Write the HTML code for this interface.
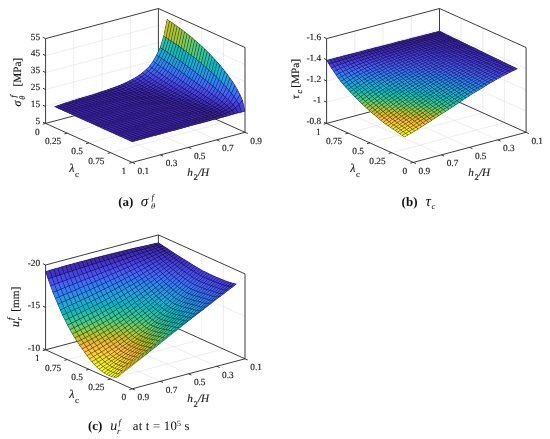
<!DOCTYPE html>
<html><head><meta charset="utf-8"><title>Figure</title>
<style>html,body{margin:0;padding:0;background:#fff}svg{display:block}</style></head>
<body>
<svg width="550" height="439" viewBox="0 0 550 439" font-family="'Liberation Serif', serif" text-rendering="geometricPrecision">
<defs><filter id="sb" x="-5%" y="-5%" width="110%" height="110%"><feGaussianBlur stdDeviation="0.5"/></filter></defs>
<rect width="550" height="439" fill="#fff"/>
<path d="M45.6 106.4L158.4 76.4M158.4 76.4L245 115.4M45.6 89.5L158.4 59.4M158.4 59.4L245 98.4M45.6 72.5L158.4 42.4M158.4 42.4L245 81.4M45.6 55.5L158.4 25.5M158.4 25.5L245 64.5M67.2 133.2L180.1 103.1M180.1 103.1L180.1 18.3M73.8 115.9L160.4 154.9M73.8 115.9L73.8 31M88.9 142.9L201.8 112.9M201.8 112.9L201.8 28M102 108.4L188.6 147.4M102 108.4L102 23.5M110.5 152.7L223.4 122.6M223.4 122.6L223.4 37.8M130.2 100.9L216.8 139.9M130.2 100.9L130.2 16" stroke="#e0e0e0" stroke-width=".6" fill="none"/>
<path d="M45.6 38.6L45.6 123.4L132.2 162.4L245 132.3L245 47.5L158.4 8.5L45.6 38.6M45.6 123.4L158.4 93.4L245 132.3M158.4 93.4L158.4 8.5M45.6 123.4L42.9 122.2M45.6 106.4L42.9 105.2M45.6 89.5L42.9 88.2M45.6 72.5L42.9 71.3M45.6 55.5L42.9 54.3M45.6 38.6L42.9 37.3M45.6 123.4L42.7 124.2M132.2 162.4L134.9 163.6M67.2 133.2L64.4 133.9M160.4 154.9L163.1 156.1M88.9 142.9L86 143.7M188.6 147.4L191.4 148.6M110.5 152.7L107.7 153.4M216.8 139.9L219.6 141.1M132.2 162.4L129.3 163.2M245 132.3L247.8 133.6" stroke="#262626" stroke-width=".9" fill="none"/>
<path d="M54.3 106.5L56.8 107.7L59.3 108.9L61.8 110L64.3 111.2L66.8 112.3L69.3 113.5L71.9 114.6L74.4 115.7L76.9 116.9L79.4 118L81.9 119.2L84.4 120.3L86.9 121.4L89.5 122.6L92 123.7L94.5 124.8L97 126L99.5 127.1L102 128.3L104.5 129.4L107.1 130.5L109.6 131.7L112.1 132.8L114.6 133.9L117.1 135.1L119.6 136.2L122.1 137.3L124.7 138.5L127.2 139.6L129.7 140.8L132.2 141.9L132.2 141.9L135.7 140.9L139.3 140L142.8 139L146.3 138.1L149.8 137.1L153.4 136.1L156.9 135.2L160.4 134.2L163.9 133.3L167.5 132.3L171 131.3L174.5 130.4L178 129.4L181.6 128.5L185.1 127.5L188.6 126.5L192.2 125.6L195.7 124.6L199.2 123.7L202.7 122.7L206.3 121.8L209.8 120.8L213.3 119.8L216.8 118.9L220.4 117.9L223.9 117L227.4 116L230.9 115L234.5 114.1L238 113.1L241.5 112.2L245 111.2L245 111.2L242.5 100.3L240 94.6L237.5 89.8L235 85.5L232.5 81.6L230 77.9L227.5 74.5L224.9 71.2L222.4 68.1L219.9 65L217.4 62.1L214.9 59.4L212.4 56.7L209.9 54.1L207.3 51.5L204.8 49.1L202.3 46.7L199.8 44.4L197.3 42.2L194.8 40L192.3 37.8L189.7 35.8L187.2 33.8L184.7 31.8L182.2 29.9L179.7 28L177.2 26.2L174.7 24.4L172.1 22.7L169.6 21L167.1 19.3L167.1 19.3L163.6 36.2L160.1 47.6L156.5 55.1L153 61.3L149.5 66.2L146 69.6L142.4 72.8L138.9 75.3L135.4 77.6L131.8 79.5L128.3 81.3L124.8 83L121.3 84.5L117.7 86L114.2 87.3L110.7 88.6L107.2 89.8L103.6 91L100.1 92.1L96.6 93.3L93.1 94.4L89.5 95.5L86 96.5L82.5 97.6L78.9 98.6L75.4 99.7L71.9 100.8L68.4 101.9L64.8 103L61.3 104.2L57.8 105.4L54.3 106.5Z" fill="#000" filter="url(#sb)"/>
<g stroke="#000" stroke-width="0.3" stroke-opacity="0.9" stroke-linejoin="round" filter="url(#sb)">
<path d="M163.6 36.2L166.1 37.8L169.6 21L167.1 19.3Z" fill="#c3c22b" stroke-opacity=".80"/>
<path d="M166.1 37.8L168.6 39.4L172.1 22.7L169.6 21Z" fill="#bcc42f" stroke-opacity=".80"/>
<path d="M160.1 47.6L162.6 49.2L166.1 37.8L163.6 36.2Z" fill="#2ec4a4" stroke-opacity=".80"/>
<path d="M168.6 39.4L171.1 41L174.7 24.4L172.1 22.7Z" fill="#b5c533" stroke-opacity=".80"/>
<path d="M162.6 49.2L165.1 50.8L168.6 39.4L166.1 37.8Z" fill="#2bc3a8" stroke-opacity=".80"/>
<path d="M156.5 55.1L159 56.8L162.6 49.2L160.1 47.6Z" fill="#14b0d8" stroke-opacity=".80"/>
<path d="M171.1 41L173.6 42.7L177.2 26.2L174.7 24.4Z" fill="#adc638" stroke-opacity=".80"/>
<path d="M165.1 50.8L167.6 52.5L171.1 41L168.6 39.4Z" fill="#26c2ad" stroke-opacity=".80"/>
<path d="M159 56.8L161.6 58.5L165.1 50.8L162.6 49.2Z" fill="#18addb" stroke-opacity=".80"/>
<path d="M153 61.3L155.5 63L159 56.8L156.5 55.1Z" fill="#2a93ed" stroke-opacity=".80"/>
<path d="M173.6 42.7L176.2 44.4L179.7 28L177.2 26.2Z" fill="#a4c83e" stroke-opacity=".80"/>
<path d="M167.6 52.5L170.1 54.2L173.6 42.7L171.1 41Z" fill="#20c1b1" stroke-opacity=".80"/>
<path d="M161.6 58.5L164.1 60.2L167.6 52.5L165.1 50.8Z" fill="#1baade" stroke-opacity=".80"/>
<path d="M155.5 63L158 64.8L161.6 58.5L159 56.8Z" fill="#2c90f0" stroke-opacity=".80"/>
<path d="M149.5 66.2L152 67.9L155.5 63L153 61.3Z" fill="#347afd" stroke-opacity=".80"/>
<path d="M176.2 44.4L178.7 46.1L182.2 29.9L179.7 28Z" fill="#9bc945" stroke-opacity=".80"/>
<path d="M170.1 54.2L172.6 55.9L176.2 44.4L173.6 42.7Z" fill="#18bfb6" stroke-opacity=".80"/>
<path d="M164.1 60.2L166.6 61.9L170.1 54.2L167.6 52.5Z" fill="#1ea7e1" stroke-opacity=".80"/>
<path d="M158 64.8L160.5 66.6L164.1 60.2L161.6 58.5Z" fill="#2d8cf3" stroke-opacity=".80"/>
<path d="M152 67.9L154.5 69.7L158 64.8L155.5 63Z" fill="#3975fe" stroke-opacity=".80"/>
<path d="M146 69.6L148.5 71.4L152 67.9L149.5 66.2Z" fill="#4368fe" stroke-opacity=".80"/>
<path d="M178.7 46.1L181.2 47.9L184.7 31.8L182.2 29.9Z" fill="#90ca4d" stroke-opacity=".80"/>
<path d="M172.6 55.9L175.1 57.6L178.7 46.1L176.2 44.4Z" fill="#0fbeba" stroke-opacity=".80"/>
<path d="M166.6 61.9L169.1 63.7L172.6 55.9L170.1 54.2Z" fill="#20a4e3" stroke-opacity=".80"/>
<path d="M160.5 66.6L163.1 68.3L166.6 61.9L164.1 60.2Z" fill="#2d88f6" stroke-opacity=".80"/>
<path d="M154.5 69.7L157 71.5L160.5 66.6L158 64.8Z" fill="#3d70ff" stroke-opacity=".80"/>
<path d="M148.5 71.4L151 73.2L154.5 69.7L152 67.9Z" fill="#4563fd" stroke-opacity=".80"/>
<path d="M142.4 72.8L144.9 74.6L148.5 71.4L146 69.6Z" fill="#4758f8" stroke-opacity=".80"/>
<path d="M181.2 47.9L183.7 49.7L187.2 33.8L184.7 31.8Z" fill="#85cb55" stroke-opacity=".80"/>
<path d="M175.1 57.6L177.7 59.4L181.2 47.9L178.7 46.1Z" fill="#07bcbf" stroke-opacity=".80"/>
<path d="M169.1 63.7L171.6 65.4L175.1 57.6L172.6 55.9Z" fill="#23a1e4" stroke-opacity=".80"/>
<path d="M163.1 68.3L165.6 70L169.1 63.7L166.6 61.9Z" fill="#2e84f8" stroke-opacity=".80"/>
<path d="M157 71.5L159.5 73.2L163.1 68.3L160.5 66.6Z" fill="#406cfe" stroke-opacity=".80"/>
<path d="M151 73.2L153.5 74.9L157 71.5L154.5 69.7Z" fill="#465ffb" stroke-opacity=".80"/>
<path d="M144.9 74.6L147.5 76.4L151 73.2L148.5 71.4Z" fill="#4854f5" stroke-opacity=".80"/>
<path d="M138.9 75.3L141.4 77.1L144.9 74.6L142.4 72.8Z" fill="#484ef1" stroke-opacity=".80"/>
<path d="M183.7 49.7L186.2 51.6L189.7 35.8L187.2 33.8Z" fill="#7acc5e" stroke-opacity=".80"/>
<path d="M177.7 59.4L180.2 61.1L183.7 49.7L181.2 47.9Z" fill="#02bac4" stroke-opacity=".80"/>
<path d="M171.6 65.4L174.1 67.2L177.7 59.4L175.1 57.6Z" fill="#249de6" stroke-opacity=".80"/>
<path d="M165.6 70L168.1 71.8L171.6 65.4L169.1 63.7Z" fill="#3080fa" stroke-opacity=".80"/>
<path d="M159.5 73.2L162 74.9L165.6 70L163.1 68.3Z" fill="#4368fe" stroke-opacity=".80"/>
<path d="M153.5 74.9L156 76.6L159.5 73.2L157 71.5Z" fill="#475bf9" stroke-opacity=".80"/>
<path d="M147.5 76.4L150 78L153.5 74.9L151 73.2Z" fill="#4850f2" stroke-opacity=".80"/>
<path d="M141.4 77.1L143.9 78.8L147.5 76.4L144.9 74.6Z" fill="#4849ed" stroke-opacity=".80"/>
<path d="M135.4 77.6L137.9 79.3L141.4 77.1L138.9 75.3Z" fill="#4745e9" stroke-opacity=".80"/>
<path d="M186.2 51.6L188.7 53.4L192.3 37.8L189.7 35.8Z" fill="#6dcd67" stroke-opacity=".80"/>
<path d="M180.2 61.1L182.7 62.9L186.2 51.6L183.7 49.7Z" fill="#01b8c9" stroke-opacity=".80"/>
<path d="M174.1 67.2L176.6 69L180.2 61.1L177.7 59.4Z" fill="#269ae9" stroke-opacity=".80"/>
<path d="M168.1 71.8L170.6 73.5L174.1 67.2L171.6 65.4Z" fill="#327cfc" stroke-opacity=".80"/>
<path d="M162 74.9L164.6 76.6L168.1 71.8L165.6 70Z" fill="#4564fd" stroke-opacity=".80"/>
<path d="M156 76.6L158.5 78.3L162 74.9L159.5 73.2Z" fill="#4757f7" stroke-opacity=".80"/>
<path d="M150 78L152.5 79.7L156 76.6L153.5 74.9Z" fill="#484cf0" stroke-opacity=".80"/>
<path d="M143.9 78.8L146.4 80.5L150 78L147.5 76.4Z" fill="#4745ea" stroke-opacity=".80"/>
<path d="M137.9 79.3L140.4 81L143.9 78.8L141.4 77.1Z" fill="#4741e5" stroke-opacity=".80"/>
<path d="M131.8 79.5L134.4 81.3L137.9 79.3L135.4 77.6Z" fill="#473ee1" stroke-opacity=".80"/>
<path d="M188.7 53.4L191.2 55.4L194.8 40L192.3 37.8Z" fill="#61cd71" stroke-opacity=".80"/>
<path d="M182.7 62.9L185.2 64.8L188.7 53.4L186.2 51.6Z" fill="#06b5ce" stroke-opacity=".80"/>
<path d="M176.6 69L179.2 70.7L182.7 62.9L180.2 61.1Z" fill="#2896eb" stroke-opacity=".80"/>
<path d="M170.6 73.5L173.1 75.2L176.6 69L174.1 67.2Z" fill="#3677fe" stroke-opacity=".80"/>
<path d="M164.6 76.6L167.1 78.2L170.6 73.5L168.1 71.8Z" fill="#4660fc" stroke-opacity=".80"/>
<path d="M158.5 78.3L161 79.9L164.6 76.6L162 74.9Z" fill="#4854f5" stroke-opacity=".80"/>
<path d="M152.5 79.7L155 81.3L158.5 78.3L156 76.6Z" fill="#4849ed" stroke-opacity=".80"/>
<path d="M146.4 80.5L149 82.1L152.5 79.7L150 78Z" fill="#4742e6" stroke-opacity=".80"/>
<path d="M140.4 81L142.9 82.6L146.4 80.5L143.9 78.8Z" fill="#463de0" stroke-opacity=".80"/>
<path d="M134.4 81.3L136.9 82.9L140.4 81L137.9 79.3Z" fill="#463adc" stroke-opacity=".80"/>
<path d="M128.3 81.3L130.8 83L134.4 81.3L131.8 79.5Z" fill="#4639d9" stroke-opacity=".80"/>
<path d="M191.2 55.4L193.8 57.3L197.3 42.2L194.8 40Z" fill="#55cc7c" stroke-opacity=".80"/>
<path d="M185.2 64.8L187.7 66.6L191.2 55.4L188.7 53.4Z" fill="#0db3d3" stroke-opacity=".80"/>
<path d="M179.2 70.7L181.7 72.5L185.2 64.8L182.7 62.9Z" fill="#2a92ee" stroke-opacity=".80"/>
<path d="M173.1 75.2L175.6 76.9L179.2 70.7L176.6 69Z" fill="#3a73fe" stroke-opacity=".80"/>
<path d="M167.1 78.2L169.6 79.8L173.1 75.2L170.6 73.5Z" fill="#475dfa" stroke-opacity=".80"/>
<path d="M161 79.9L163.5 81.5L167.1 78.2L164.6 76.6Z" fill="#4850f3" stroke-opacity=".80"/>
<path d="M155 81.3L157.5 82.8L161 79.9L158.5 78.3Z" fill="#4746ea" stroke-opacity=".80"/>
<path d="M149 82.1L151.5 83.6L155 81.3L152.5 79.7Z" fill="#473fe2" stroke-opacity=".80"/>
<path d="M142.9 82.6L145.4 84.1L149 82.1L146.4 80.5Z" fill="#463bdc" stroke-opacity=".80"/>
<path d="M136.9 82.9L139.4 84.4L142.9 82.6L140.4 81Z" fill="#4538d7" stroke-opacity=".80"/>
<path d="M130.8 83L133.3 84.6L136.9 82.9L134.4 81.3Z" fill="#4536d3" stroke-opacity=".80"/>
<path d="M124.8 83L127.3 84.6L130.8 83L128.3 81.3Z" fill="#4435d1" stroke-opacity=".80"/>
<path d="M193.8 57.3L196.3 59.3L199.8 44.4L197.3 42.2Z" fill="#49cb85" stroke-opacity=".80"/>
<path d="M187.7 66.6L190.2 68.5L193.8 57.3L191.2 55.4Z" fill="#14b0d8" stroke-opacity=".80"/>
<path d="M181.7 72.5L184.2 74.3L187.7 66.6L185.2 64.8Z" fill="#2c8ef1" stroke-opacity=".80"/>
<path d="M175.6 76.9L178.1 78.6L181.7 72.5L179.2 70.7Z" fill="#3e6fff" stroke-opacity=".80"/>
<path d="M169.6 79.8L172.1 81.5L175.6 76.9L173.1 75.2Z" fill="#4759f9" stroke-opacity=".80"/>
<path d="M163.5 81.5L166.1 83L169.6 79.8L167.1 78.2Z" fill="#484df0" stroke-opacity=".80"/>
<path d="M157.5 82.8L160 84.4L163.5 81.5L161 79.9Z" fill="#4743e7" stroke-opacity=".80"/>
<path d="M151.5 83.6L154 85.1L157.5 82.8L155 81.3Z" fill="#463cdf" stroke-opacity=".80"/>
<path d="M145.4 84.1L147.9 85.6L151.5 83.6L149 82.1Z" fill="#4538d8" stroke-opacity=".80"/>
<path d="M139.4 84.4L141.9 85.9L145.4 84.1L142.9 82.6Z" fill="#4535d2" stroke-opacity=".80"/>
<path d="M133.3 84.6L135.9 86.1L139.4 84.4L136.9 82.9Z" fill="#4434ce" stroke-opacity=".80"/>
<path d="M127.3 84.6L129.8 86.1L133.3 84.6L130.8 83Z" fill="#4432cb" stroke-opacity=".80"/>
<path d="M121.3 84.5L123.8 86.1L127.3 84.6L124.8 83Z" fill="#4332c9" stroke-opacity=".80"/>
<path d="M196.3 59.3L198.8 61.4L202.3 46.7L199.8 44.4Z" fill="#3eca8f" stroke-opacity=".80"/>
<path d="M190.2 68.5L192.7 70.3L196.3 59.3L193.8 57.3Z" fill="#19acdc" stroke-opacity=".80"/>
<path d="M184.2 74.3L186.7 76.1L190.2 68.5L187.7 66.6Z" fill="#2d8af4" stroke-opacity=".80"/>
<path d="M178.1 78.6L180.7 80.3L184.2 74.3L181.7 72.5Z" fill="#416bfe" stroke-opacity=".80"/>
<path d="M172.1 81.5L174.6 83.1L178.1 78.6L175.6 76.9Z" fill="#4756f7" stroke-opacity=".80"/>
<path d="M166.1 83L168.6 84.6L172.1 81.5L169.6 79.8Z" fill="#484aee" stroke-opacity=".80"/>
<path d="M160 84.4L162.5 85.8L166.1 83L163.5 81.5Z" fill="#4740e4" stroke-opacity=".80"/>
<path d="M154 85.1L156.5 86.6L160 84.4L157.5 82.8Z" fill="#463adb" stroke-opacity=".80"/>
<path d="M147.9 85.6L150.5 87.1L154 85.1L151.5 83.6Z" fill="#4536d4" stroke-opacity=".80"/>
<path d="M141.9 85.9L144.4 87.4L147.9 85.6L145.4 84.1Z" fill="#4434cd" stroke-opacity=".80"/>
<path d="M135.9 86.1L138.4 87.5L141.9 85.9L139.4 84.4Z" fill="#4332c9" stroke-opacity=".80"/>
<path d="M129.8 86.1L132.3 87.6L135.9 86.1L133.3 84.6Z" fill="#4331c5" stroke-opacity=".80"/>
<path d="M123.8 86.1L126.3 87.6L129.8 86.1L127.3 84.6Z" fill="#4230c3" stroke-opacity=".80"/>
<path d="M117.7 86L120.3 87.5L123.8 86.1L121.3 84.5Z" fill="#422fc3" stroke-opacity=".80"/>
<path d="M198.8 61.4L201.3 63.4L204.8 49.1L202.3 46.7Z" fill="#36c899" stroke-opacity=".80"/>
<path d="M192.7 70.3L195.3 72.2L198.8 61.4L196.3 59.3Z" fill="#1da9e0" stroke-opacity=".80"/>
<path d="M186.7 76.1L189.2 77.9L192.7 70.3L190.2 68.5Z" fill="#2e86f7" stroke-opacity=".80"/>
<path d="M180.7 80.3L183.2 81.9L186.7 76.1L184.2 74.3Z" fill="#4367fd" stroke-opacity=".80"/>
<path d="M174.6 83.1L177.1 84.6L180.7 80.3L178.1 78.6Z" fill="#4853f5" stroke-opacity=".80"/>
<path d="M168.6 84.6L171.1 86.1L174.6 83.1L172.1 81.5Z" fill="#4747ec" stroke-opacity=".80"/>
<path d="M162.5 85.8L165.1 87.3L168.6 84.6L166.1 83Z" fill="#463ee1" stroke-opacity=".80"/>
<path d="M156.5 86.6L159 88L162.5 85.8L160 84.4Z" fill="#4538d8" stroke-opacity=".80"/>
<path d="M150.5 87.1L153 88.5L156.5 86.6L154 85.1Z" fill="#4434d0" stroke-opacity=".80"/>
<path d="M144.4 87.4L146.9 88.8L150.5 87.1L147.9 85.6Z" fill="#4332c9" stroke-opacity=".80"/>
<path d="M138.4 87.5L140.9 88.9L144.4 87.4L141.9 85.9Z" fill="#4330c5" stroke-opacity=".80"/>
<path d="M132.3 87.6L134.8 89L138.4 87.5L135.9 86.1Z" fill="#422fc1" stroke-opacity=".80"/>
<path d="M126.3 87.6L128.8 89L132.3 87.6L129.8 86.1Z" fill="#422ebe" stroke-opacity=".80"/>
<path d="M120.3 87.5L122.8 89L126.3 87.6L123.8 86.1Z" fill="#412dbd" stroke-opacity=".80"/>
<path d="M201.3 63.4L203.8 65.6L207.3 51.5L204.8 49.1Z" fill="#2fc5a2" stroke-opacity=".80"/>
<path d="M114.2 87.3L116.7 88.8L120.3 87.5L117.7 86Z" fill="#412dbd" stroke-opacity=".80"/>
<path d="M195.3 72.2L197.8 74.2L201.3 63.4L198.8 61.4Z" fill="#20a5e3" stroke-opacity=".80"/>
<path d="M189.2 77.9L191.7 79.6L195.3 72.2L192.7 70.3Z" fill="#2f82fa" stroke-opacity=".80"/>
<path d="M183.2 81.9L185.7 83.6L189.2 77.9L186.7 76.1Z" fill="#4563fd" stroke-opacity=".80"/>
<path d="M177.1 84.6L179.6 86.2L183.2 81.9L180.7 80.3Z" fill="#4850f3" stroke-opacity=".80"/>
<path d="M171.1 86.1L173.6 87.6L177.1 84.6L174.6 83.1Z" fill="#4745e9" stroke-opacity=".80"/>
<path d="M165.1 87.3L167.6 88.8L171.1 86.1L168.6 84.6Z" fill="#463cde" stroke-opacity=".80"/>
<path d="M159 88L161.5 89.4L165.1 87.3L162.5 85.8Z" fill="#4536d4" stroke-opacity=".80"/>
<path d="M153 88.5L155.5 89.9L159 88L156.5 86.6Z" fill="#4433cc" stroke-opacity=".80"/>
<path d="M146.9 88.8L149.4 90.1L153 88.5L150.5 87.1Z" fill="#4331c6" stroke-opacity=".80"/>
<path d="M140.9 88.9L143.4 90.3L146.9 88.8L144.4 87.4Z" fill="#422fc1" stroke-opacity=".80"/>
<path d="M134.8 89L137.4 90.4L140.9 88.9L138.4 87.5Z" fill="#412ebd" stroke-opacity=".80"/>
<path d="M128.8 89L131.3 90.4L134.8 89L132.3 87.6Z" fill="#412cbb" stroke-opacity=".80"/>
<path d="M122.8 89L125.3 90.4L128.8 89L126.3 87.6Z" fill="#412cb9" stroke-opacity=".80"/>
<path d="M203.8 65.6L206.3 67.8L209.9 54.1L207.3 51.5Z" fill="#28c2ab" stroke-opacity=".80"/>
<path d="M116.7 88.8L119.2 90.3L122.8 89L120.3 87.5Z" fill="#402bb8" stroke-opacity=".80"/>
<path d="M197.8 74.2L200.3 76.1L203.8 65.6L201.3 63.4Z" fill="#23a0e5" stroke-opacity=".80"/>
<path d="M110.7 88.6L113.2 90.1L116.7 88.8L114.2 87.3Z" fill="#412cb9" stroke-opacity=".80"/>
<path d="M191.7 79.6L194.2 81.4L197.8 74.2L195.3 72.2Z" fill="#317dfb" stroke-opacity=".80"/>
<path d="M185.7 83.6L188.2 85.3L191.7 79.6L189.2 77.9Z" fill="#4660fb" stroke-opacity=".80"/>
<path d="M179.6 86.2L182.2 87.7L185.7 83.6L183.2 81.9Z" fill="#484df0" stroke-opacity=".80"/>
<path d="M173.6 87.6L176.1 89.1L179.6 86.2L177.1 84.6Z" fill="#4742e6" stroke-opacity=".80"/>
<path d="M167.6 88.8L170.1 90.2L173.6 87.6L171.1 86.1Z" fill="#463ada" stroke-opacity=".80"/>
<path d="M161.5 89.4L164 90.8L167.6 88.8L165.1 87.3Z" fill="#4435d1" stroke-opacity=".80"/>
<path d="M155.5 89.9L158 91.2L161.5 89.4L159 88Z" fill="#4332c9" stroke-opacity=".80"/>
<path d="M149.4 90.1L152 91.5L155.5 89.9L153 88.5Z" fill="#422fc2" stroke-opacity=".80"/>
<path d="M143.4 90.3L145.9 91.7L149.4 90.1L146.9 88.8Z" fill="#412ebe" stroke-opacity=".80"/>
<path d="M137.4 90.4L139.9 91.7L143.4 90.3L140.9 88.9Z" fill="#412cba" stroke-opacity=".80"/>
<path d="M131.3 90.4L133.8 91.8L137.4 90.4L134.8 89Z" fill="#402bb7" stroke-opacity=".80"/>
<path d="M125.3 90.4L127.8 91.7L131.3 90.4L128.8 89Z" fill="#402ab5" stroke-opacity=".80"/>
<path d="M206.3 67.8L208.8 70L212.4 56.7L209.9 54.1Z" fill="#1bc0b4" stroke-opacity=".80"/>
<path d="M119.2 90.3L121.8 91.6L125.3 90.4L122.8 89Z" fill="#402ab4" stroke-opacity=".80"/>
<path d="M200.3 76.1L202.8 78.1L206.3 67.8L203.8 65.6Z" fill="#259ce7" stroke-opacity=".80"/>
<path d="M113.2 90.1L115.7 91.5L119.2 90.3L116.7 88.8Z" fill="#402ab4" stroke-opacity=".80"/>
<path d="M194.2 81.4L196.8 83.2L200.3 76.1L197.8 74.2Z" fill="#3579fd" stroke-opacity=".80"/>
<path d="M107.2 89.8L109.7 91.3L113.2 90.1L110.7 88.6Z" fill="#402ab5" stroke-opacity=".80"/>
<path d="M188.2 85.3L190.7 86.9L194.2 81.4L191.7 79.6Z" fill="#475cfa" stroke-opacity=".80"/>
<path d="M182.2 87.7L184.7 89.3L188.2 85.3L185.7 83.6Z" fill="#484aee" stroke-opacity=".80"/>
<path d="M176.1 89.1L178.6 90.6L182.2 87.7L179.6 86.2Z" fill="#4740e4" stroke-opacity=".80"/>
<path d="M170.1 90.2L172.6 91.6L176.1 89.1L173.6 87.6Z" fill="#4538d7" stroke-opacity=".80"/>
<path d="M164 90.8L166.6 92.2L170.1 90.2L167.6 88.8Z" fill="#4434ce" stroke-opacity=".80"/>
<path d="M158 91.2L160.5 92.6L164 90.8L161.5 89.4Z" fill="#4331c6" stroke-opacity=".80"/>
<path d="M152 91.5L154.5 92.8L158 91.2L155.5 89.9Z" fill="#422ebf" stroke-opacity=".80"/>
<path d="M145.9 91.7L148.4 93L152 91.5L149.4 90.1Z" fill="#412dbb" stroke-opacity=".80"/>
<path d="M139.9 91.7L142.4 93L145.9 91.7L143.4 90.3Z" fill="#402bb7" stroke-opacity=".80"/>
<path d="M133.8 91.8L136.3 93.1L139.9 91.7L137.4 90.4Z" fill="#402ab5" stroke-opacity=".80"/>
<path d="M127.8 91.7L130.3 93L133.8 91.8L131.3 90.4Z" fill="#3f29b2" stroke-opacity=".78"/>
<path d="M208.8 70L211.4 72.3L214.9 59.4L212.4 56.7Z" fill="#0abdbd" stroke-opacity=".80"/>
<path d="M121.8 91.6L124.3 93L127.8 91.7L125.3 90.4Z" fill="#3f29b1" stroke-opacity=".74"/>
<path d="M202.8 78.1L205.3 80.1L208.8 70L206.3 67.8Z" fill="#2797eb" stroke-opacity=".80"/>
<path d="M115.7 91.5L118.2 92.8L121.8 91.6L119.2 90.3Z" fill="#3f29b0" stroke-opacity=".74"/>
<path d="M196.8 83.2L199.3 85L202.8 78.1L200.3 76.1Z" fill="#3a74fe" stroke-opacity=".80"/>
<path d="M109.7 91.3L112.2 92.7L115.7 91.5L113.2 90.1Z" fill="#3f29b0" stroke-opacity=".76"/>
<path d="M190.7 86.9L193.2 88.5L196.8 83.2L194.2 81.4Z" fill="#4759f8" stroke-opacity=".80"/>
<path d="M103.6 91L106.1 92.4L109.7 91.3L107.2 89.8Z" fill="#3f29b2" stroke-opacity=".80"/>
<path d="M184.7 89.3L187.2 90.8L190.7 86.9L188.2 85.3Z" fill="#4848ec" stroke-opacity=".80"/>
<path d="M178.6 90.6L181.1 92L184.7 89.3L182.2 87.7Z" fill="#463ee1" stroke-opacity=".80"/>
<path d="M172.6 91.6L175.1 93L178.6 90.6L176.1 89.1Z" fill="#4536d4" stroke-opacity=".80"/>
<path d="M166.6 92.2L169.1 93.6L172.6 91.6L170.1 90.2Z" fill="#4332ca" stroke-opacity=".80"/>
<path d="M160.5 92.6L163 93.9L166.6 92.2L164 90.8Z" fill="#4230c3" stroke-opacity=".80"/>
<path d="M154.5 92.8L157 94.2L160.5 92.6L158 91.2Z" fill="#412dbd" stroke-opacity=".80"/>
<path d="M148.4 93L150.9 94.3L154.5 92.8L152 91.5Z" fill="#412cb9" stroke-opacity=".80"/>
<path d="M142.4 93L144.9 94.3L148.4 93L145.9 91.7Z" fill="#402ab5" stroke-opacity=".80"/>
<path d="M136.3 93.1L138.9 94.4L142.4 93L139.9 91.7Z" fill="#3f29b2" stroke-opacity=".78"/>
<path d="M130.3 93L132.8 94.3L136.3 93.1L133.8 91.8Z" fill="#3f29b0" stroke-opacity=".72"/>
<path d="M211.4 72.3L213.9 74.6L217.4 62.1L214.9 59.4Z" fill="#01b9c6" stroke-opacity=".80"/>
<path d="M124.3 93L126.8 94.3L130.3 93L127.8 91.7Z" fill="#3f28ae" stroke-opacity=".68"/>
<path d="M205.3 80.1L207.8 82.1L211.4 72.3L208.8 70Z" fill="#2b92ee" stroke-opacity=".80"/>
<path d="M118.2 92.8L120.7 94.1L124.3 93L121.8 91.6Z" fill="#3f28ad" stroke-opacity=".66"/>
<path d="M199.3 85L201.8 86.8L205.3 80.1L202.8 78.1Z" fill="#3e6fff" stroke-opacity=".80"/>
<path d="M112.2 92.7L114.7 94L118.2 92.8L115.7 91.5Z" fill="#3f28ad" stroke-opacity=".66"/>
<path d="M193.2 88.5L195.7 90.2L199.3 85L196.8 83.2Z" fill="#4756f6" stroke-opacity=".80"/>
<path d="M106.1 92.4L108.7 93.8L112.2 92.7L109.7 91.3Z" fill="#3f28ad" stroke-opacity=".69"/>
<path d="M187.2 90.8L189.7 92.3L193.2 88.5L190.7 86.9Z" fill="#4745e9" stroke-opacity=".80"/>
<path d="M100.1 92.1L102.6 93.6L106.1 92.4L103.6 91Z" fill="#3f28af" stroke-opacity=".76"/>
<path d="M181.1 92L183.7 93.5L187.2 90.8L184.7 89.3Z" fill="#463cde" stroke-opacity=".80"/>
<path d="M175.1 93L177.6 94.4L181.1 92L178.6 90.6Z" fill="#4435d1" stroke-opacity=".80"/>
<path d="M169.1 93.6L171.6 94.9L175.1 93L172.6 91.6Z" fill="#4331c7" stroke-opacity=".80"/>
<path d="M163 93.9L165.5 95.3L169.1 93.6L166.6 92.2Z" fill="#422fc0" stroke-opacity=".80"/>
<path d="M157 94.2L159.5 95.5L163 93.9L160.5 92.6Z" fill="#412cba" stroke-opacity=".80"/>
<path d="M150.9 94.3L153.5 95.6L157 94.2L154.5 92.8Z" fill="#402bb6" stroke-opacity=".80"/>
<path d="M144.9 94.3L147.4 95.6L150.9 94.3L148.4 93Z" fill="#402ab3" stroke-opacity=".79"/>
<path d="M138.9 94.4L141.4 95.6L144.9 94.3L142.4 93Z" fill="#3f29b0" stroke-opacity=".73"/>
<path d="M132.8 94.3L135.3 95.6L138.9 94.4L136.3 93.1Z" fill="#3f28ad" stroke-opacity=".67"/>
<path d="M213.9 74.6L216.4 77L219.9 65L217.4 62.1Z" fill="#07b5cf" stroke-opacity=".80"/>
<path d="M126.8 94.3L129.3 95.5L132.8 94.3L130.3 93Z" fill="#3e27ac" stroke-opacity=".62"/>
<path d="M207.8 82.1L210.3 84.1L213.9 74.6L211.4 72.3Z" fill="#2d8cf3" stroke-opacity=".80"/>
<path d="M120.7 94.1L123.3 95.4L126.8 94.3L124.3 93Z" fill="#3e27ab" stroke-opacity=".60"/>
<path d="M201.8 86.8L204.3 88.6L207.8 82.1L205.3 80.1Z" fill="#426afe" stroke-opacity=".80"/>
<path d="M114.7 94L117.2 95.3L120.7 94.1L118.2 92.8Z" fill="#3e27aa" stroke-opacity=".59"/>
<path d="M195.7 90.2L198.3 91.8L201.8 86.8L199.3 85Z" fill="#4852f4" stroke-opacity=".80"/>
<path d="M108.7 93.8L111.2 95.1L114.7 94L112.2 92.7Z" fill="#3e27aa" stroke-opacity=".60"/>
<path d="M189.7 92.3L192.2 93.8L195.7 90.2L193.2 88.5Z" fill="#4742e6" stroke-opacity=".80"/>
<path d="M102.6 93.6L105.1 94.9L108.7 93.8L106.1 92.4Z" fill="#3e27ab" stroke-opacity=".64"/>
<path d="M183.7 93.5L186.2 94.9L189.7 92.3L187.2 90.8Z" fill="#463ada" stroke-opacity=".80"/>
<path d="M96.6 93.3L99.1 94.7L102.6 93.6L100.1 92.1Z" fill="#3e27ac" stroke-opacity=".71"/>
<path d="M177.6 94.4L180.1 95.8L183.7 93.5L181.1 92Z" fill="#4434ce" stroke-opacity=".80"/>
<path d="M171.6 94.9L174.1 96.3L177.6 94.4L175.1 93Z" fill="#4330c4" stroke-opacity=".80"/>
<path d="M165.5 95.3L168.1 96.6L171.6 94.9L169.1 93.6Z" fill="#412ebd" stroke-opacity=".80"/>
<path d="M159.5 95.5L162 96.8L165.5 95.3L163 93.9Z" fill="#402bb8" stroke-opacity=".80"/>
<path d="M153.5 95.6L156 96.9L159.5 95.5L157 94.2Z" fill="#402ab4" stroke-opacity=".80"/>
<path d="M147.4 95.6L149.9 96.9L153.5 95.6L150.9 94.3Z" fill="#3f29b1" stroke-opacity=".75"/>
<path d="M141.4 95.6L143.9 96.9L147.4 95.6L144.9 94.3Z" fill="#3f28ae" stroke-opacity=".69"/>
<path d="M135.3 95.6L137.9 96.9L141.4 95.6L138.9 94.4Z" fill="#3e27ab" stroke-opacity=".63"/>
<path d="M216.4 77L218.9 79.5L222.4 68.1L219.9 65Z" fill="#14b0d8" stroke-opacity=".80"/>
<path d="M129.3 95.5L131.8 96.8L135.3 95.6L132.8 94.3Z" fill="#3e27aa" stroke-opacity=".58"/>
<path d="M210.3 84.1L212.9 86.2L216.4 77L213.9 74.6Z" fill="#2e87f7" stroke-opacity=".80"/>
<path d="M123.3 95.4L125.8 96.7L129.3 95.5L126.8 94.3Z" fill="#3e26a8" stroke-opacity=".55"/>
<path d="M204.3 88.6L206.8 90.5L210.3 84.1L207.8 82.1Z" fill="#4465fd" stroke-opacity=".80"/>
<path d="M117.2 95.3L119.7 96.6L123.3 95.4L120.7 94.1Z" fill="#3e26a8" stroke-opacity=".54"/>
<path d="M198.3 91.8L200.8 93.4L204.3 88.6L201.8 86.8Z" fill="#484ff2" stroke-opacity=".80"/>
<path d="M111.2 95.1L113.7 96.4L117.2 95.3L114.7 94Z" fill="#3e26a8" stroke-opacity=".54"/>
<path d="M192.2 93.8L194.7 95.3L198.3 91.8L195.7 90.2Z" fill="#4740e4" stroke-opacity=".80"/>
<path d="M105.1 94.9L107.6 96.2L111.2 95.1L108.7 93.8Z" fill="#3e26a8" stroke-opacity=".55"/>
<path d="M186.2 94.9L188.7 96.3L192.2 93.8L189.7 92.3Z" fill="#4538d7" stroke-opacity=".80"/>
<path d="M99.1 94.7L101.6 96L105.1 94.9L102.6 93.6Z" fill="#3e26a8" stroke-opacity=".59"/>
<path d="M180.1 95.8L182.7 97.1L186.2 94.9L183.7 93.5Z" fill="#4332cb" stroke-opacity=".80"/>
<path d="M93.1 94.4L95.6 95.8L99.1 94.7L96.6 93.3Z" fill="#3e27aa" stroke-opacity=".67"/>
<path d="M174.1 96.3L176.6 97.6L180.1 95.8L177.6 94.4Z" fill="#422fc2" stroke-opacity=".80"/>
<path d="M168.1 96.6L170.6 97.9L174.1 96.3L171.6 94.9Z" fill="#412dbb" stroke-opacity=".80"/>
<path d="M162 96.8L164.5 98L168.1 96.6L165.5 95.3Z" fill="#402bb6" stroke-opacity=".80"/>
<path d="M156 96.9L158.5 98.1L162 96.8L159.5 95.5Z" fill="#3f29b2" stroke-opacity=".79"/>
<path d="M149.9 96.9L152.4 98.2L156 96.9L153.5 95.6Z" fill="#3f28af" stroke-opacity=".71"/>
<path d="M143.9 96.9L146.4 98.2L149.9 96.9L147.4 95.6Z" fill="#3e27ac" stroke-opacity=".65"/>
<path d="M137.9 96.9L140.4 98.1L143.9 96.9L141.4 95.6Z" fill="#3e27a9" stroke-opacity=".59"/>
<path d="M218.9 79.5L221.4 82.1L224.9 71.2L222.4 68.1Z" fill="#1ca9df" stroke-opacity=".80"/>
<path d="M131.8 96.8L134.3 98L137.9 96.9L135.3 95.6Z" fill="#3e26a8" stroke-opacity=".54"/>
<path d="M212.9 86.2L215.4 88.3L218.9 79.5L216.4 77Z" fill="#2f80fa" stroke-opacity=".80"/>
<path d="M125.8 96.7L128.3 97.9L131.8 96.8L129.3 95.5Z" fill="#3e26a8" stroke-opacity=".51"/>
<path d="M206.8 90.5L209.3 92.3L212.9 86.2L210.3 84.1Z" fill="#4661fc" stroke-opacity=".80"/>
<path d="M119.7 96.6L122.2 97.8L125.8 96.7L123.3 95.4Z" fill="#3e26a8" stroke-opacity=".50"/>
<path d="M200.8 93.4L203.3 95.1L206.8 90.5L204.3 88.6Z" fill="#484bef" stroke-opacity=".80"/>
<path d="M113.7 96.4L116.2 97.7L119.7 96.6L117.2 95.3Z" fill="#3e26a8" stroke-opacity=".49"/>
<path d="M194.7 95.3L197.2 96.8L200.8 93.4L198.3 91.8Z" fill="#463de0" stroke-opacity=".80"/>
<path d="M107.6 96.2L110.2 97.5L113.7 96.4L111.2 95.1Z" fill="#3e26a8" stroke-opacity=".50"/>
<path d="M188.7 96.3L191.2 97.8L194.7 95.3L192.2 93.8Z" fill="#4536d4" stroke-opacity=".80"/>
<path d="M101.6 96L104.1 97.3L107.6 96.2L105.1 94.9Z" fill="#3e26a8" stroke-opacity=".52"/>
<path d="M182.7 97.1L185.2 98.5L188.7 96.3L186.2 94.9Z" fill="#4331c7" stroke-opacity=".80"/>
<path d="M95.6 95.8L98.1 97.1L101.6 96L99.1 94.7Z" fill="#3e26a8" stroke-opacity=".56"/>
<path d="M176.6 97.6L179.1 98.9L182.7 97.1L180.1 95.8Z" fill="#422ebf" stroke-opacity=".80"/>
<path d="M89.5 95.5L92 96.8L95.6 95.8L93.1 94.4Z" fill="#3e26a8" stroke-opacity=".63"/>
<path d="M170.6 97.9L173.1 99.2L176.6 97.6L174.1 96.3Z" fill="#412cb9" stroke-opacity=".80"/>
<path d="M164.5 98L167 99.3L170.6 97.9L168.1 96.6Z" fill="#402ab4" stroke-opacity=".80"/>
<path d="M158.5 98.1L161 99.4L164.5 98L162 96.8Z" fill="#3f29b0" stroke-opacity=".75"/>
<path d="M152.4 98.2L155 99.4L158.5 98.1L156 96.9Z" fill="#3f28ad" stroke-opacity=".68"/>
<path d="M146.4 98.2L148.9 99.4L152.4 98.2L149.9 96.9Z" fill="#3e27aa" stroke-opacity=".62"/>
<path d="M140.4 98.1L142.9 99.3L146.4 98.2L143.9 96.9Z" fill="#3e26a8" stroke-opacity=".56"/>
<path d="M221.4 82.1L223.9 84.7L227.5 74.5L224.9 71.2Z" fill="#22a1e4" stroke-opacity=".80"/>
<path d="M134.3 98L136.8 99.3L140.4 98.1L137.9 96.9Z" fill="#3e26a8" stroke-opacity=".51"/>
<path d="M215.4 88.3L217.9 90.4L221.4 82.1L218.9 79.5Z" fill="#347afd" stroke-opacity=".80"/>
<path d="M128.3 97.9L130.8 99.2L134.3 98L131.8 96.8Z" fill="#3e26a8" stroke-opacity=".48"/>
<path d="M209.3 92.3L211.8 94.1L215.4 88.3L212.9 86.2Z" fill="#475cfa" stroke-opacity=".80"/>
<path d="M122.2 97.8L124.8 99L128.3 97.9L125.8 96.7Z" fill="#3e26a8" stroke-opacity=".46"/>
<path d="M203.3 95.1L205.8 96.7L209.3 92.3L206.8 90.5Z" fill="#4848ec" stroke-opacity=".80"/>
<path d="M116.2 97.7L118.7 98.9L122.2 97.8L119.7 96.6Z" fill="#3e26a8" stroke-opacity=".45"/>
<path d="M197.2 96.8L199.8 98.3L203.3 95.1L200.8 93.4Z" fill="#463bdd" stroke-opacity=".80"/>
<path d="M110.2 97.5L112.7 98.7L116.2 97.7L113.7 96.4Z" fill="#3e26a8" stroke-opacity=".45"/>
<path d="M191.2 97.8L193.7 99.2L197.2 96.8L194.7 95.3Z" fill="#4435d0" stroke-opacity=".80"/>
<path d="M104.1 97.3L106.6 98.5L110.2 97.5L107.6 96.2Z" fill="#3e26a8" stroke-opacity=".46"/>
<path d="M185.2 98.5L187.7 99.9L191.2 97.8L188.7 96.3Z" fill="#4330c4" stroke-opacity=".80"/>
<path d="M98.1 97.1L100.6 98.4L104.1 97.3L101.6 96Z" fill="#3e26a8" stroke-opacity=".48"/>
<path d="M179.1 98.9L181.6 100.2L185.2 98.5L182.7 97.1Z" fill="#412dbd" stroke-opacity=".80"/>
<path d="M92 96.8L94.6 98.1L98.1 97.1L95.6 95.8Z" fill="#3e26a8" stroke-opacity=".52"/>
<path d="M173.1 99.2L175.6 100.4L179.1 98.9L176.6 97.6Z" fill="#402bb7" stroke-opacity=".80"/>
<path d="M86 96.5L88.5 97.9L92 96.8L89.5 95.5Z" fill="#3e26a8" stroke-opacity=".60"/>
<path d="M167 99.3L169.6 100.6L173.1 99.2L170.6 97.9Z" fill="#3f29b2" stroke-opacity=".80"/>
<path d="M161 99.4L163.5 100.6L167 99.3L164.5 98Z" fill="#3f28ae" stroke-opacity=".72"/>
<path d="M155 99.4L157.5 100.6L161 99.4L158.5 98.1Z" fill="#3e27ab" stroke-opacity=".65"/>
<path d="M148.9 99.4L151.4 100.6L155 99.4L152.4 98.2Z" fill="#3e26a8" stroke-opacity=".59"/>
<path d="M142.9 99.3L145.4 100.6L148.9 99.4L146.4 98.2Z" fill="#3e26a8" stroke-opacity=".53"/>
<path d="M223.9 84.7L226.4 87.5L230 77.9L227.5 74.5Z" fill="#2699e9" stroke-opacity=".80"/>
<path d="M136.8 99.3L139.4 100.5L142.9 99.3L140.4 98.1Z" fill="#3e26a8" stroke-opacity=".49"/>
<path d="M217.9 90.4L220.4 92.6L223.9 84.7L221.4 82.1Z" fill="#3b72ff" stroke-opacity=".80"/>
<path d="M130.8 99.2L133.3 100.4L136.8 99.3L134.3 98Z" fill="#3e26a8" stroke-opacity=".46"/>
<path d="M211.8 94.1L214.4 96L217.9 90.4L215.4 88.3Z" fill="#4757f7" stroke-opacity=".80"/>
<path d="M124.8 99L127.3 100.3L130.8 99.2L128.3 97.9Z" fill="#3e26a8" stroke-opacity=".44"/>
<path d="M205.8 96.7L208.3 98.3L211.8 94.1L209.3 92.3Z" fill="#4745e9" stroke-opacity=".80"/>
<path d="M118.7 98.9L121.2 100.1L124.8 99L122.2 97.8Z" fill="#3e26a8" stroke-opacity=".42"/>
<path d="M199.8 98.3L202.3 99.8L205.8 96.7L203.3 95.1Z" fill="#4639d9" stroke-opacity=".80"/>
<path d="M112.7 98.7L115.2 100L118.7 98.9L116.2 97.7Z" fill="#3e26a8" stroke-opacity=".42"/>
<path d="M193.7 99.2L196.2 100.6L199.8 98.3L197.2 96.8Z" fill="#4433cd" stroke-opacity=".80"/>
<path d="M106.6 98.5L109.1 99.8L112.7 98.7L110.2 97.5Z" fill="#3e26a8" stroke-opacity=".42"/>
<path d="M187.7 99.9L190.2 101.2L193.7 99.2L191.2 97.8Z" fill="#422fc2" stroke-opacity=".80"/>
<path d="M100.6 98.4L103.1 99.6L106.6 98.5L104.1 97.3Z" fill="#3e26a8" stroke-opacity=".43"/>
<path d="M181.6 100.2L184.2 101.5L187.7 99.9L185.2 98.5Z" fill="#412cba" stroke-opacity=".80"/>
<path d="M94.6 98.1L97.1 99.4L100.6 98.4L98.1 97.1Z" fill="#3e26a8" stroke-opacity=".46"/>
<path d="M175.6 100.4L178.1 101.7L181.6 100.2L179.1 98.9Z" fill="#402ab5" stroke-opacity=".80"/>
<path d="M88.5 97.9L91 99.2L94.6 98.1L92 96.8Z" fill="#3e26a8" stroke-opacity=".50"/>
<path d="M169.6 100.6L172.1 101.8L175.6 100.4L173.1 99.2Z" fill="#3f29b0" stroke-opacity=".80"/>
<path d="M82.5 97.6L85 98.9L88.5 97.9L86 96.5Z" fill="#3e26a8" stroke-opacity=".56"/>
<path d="M163.5 100.6L166 101.9L169.6 100.6L167 99.3Z" fill="#3e28ad" stroke-opacity=".69"/>
<path d="M157.5 100.6L160 101.9L163.5 100.6L161 99.4Z" fill="#3e27aa" stroke-opacity=".62"/>
<path d="M151.4 100.6L153.9 101.9L157.5 100.6L155 99.4Z" fill="#3e26a8" stroke-opacity=".56"/>
<path d="M145.4 100.6L147.9 101.8L151.4 100.6L148.9 99.4Z" fill="#3e26a8" stroke-opacity=".51"/>
<path d="M226.4 87.5L229 90.4L232.5 81.6L230 77.9Z" fill="#2c8ff0" stroke-opacity=".80"/>
<path d="M139.4 100.5L141.9 101.7L145.4 100.6L142.9 99.3Z" fill="#3e26a8" stroke-opacity=".46"/>
<path d="M220.4 92.6L222.9 94.9L226.4 87.5L223.9 84.7Z" fill="#416bfe" stroke-opacity=".80"/>
<path d="M133.3 100.4L135.8 101.6L139.4 100.5L136.8 99.3Z" fill="#3e26a8" stroke-opacity=".43"/>
<path d="M214.4 96L216.9 97.8L220.4 92.6L217.9 90.4Z" fill="#4853f4" stroke-opacity=".80"/>
<path d="M127.3 100.3L129.8 101.5L133.3 100.4L130.8 99.2Z" fill="#3e26a8" stroke-opacity=".41"/>
<path d="M208.3 98.3L210.8 100L214.4 96L211.8 94.1Z" fill="#4741e5" stroke-opacity=".80"/>
<path d="M121.2 100.1L123.7 101.3L127.3 100.3L124.8 99Z" fill="#3e26a8" stroke-opacity=".40"/>
<path d="M202.3 99.8L204.8 101.3L208.3 98.3L205.8 96.7Z" fill="#4537d6" stroke-opacity=".80"/>
<path d="M115.2 100L117.7 101.2L121.2 100.1L118.7 98.9Z" fill="#3e26a8" stroke-opacity=".39"/>
<path d="M196.2 100.6L198.7 102L202.3 99.8L199.8 98.3Z" fill="#4332c9" stroke-opacity=".80"/>
<path d="M109.1 99.8L111.7 101L115.2 100L112.7 98.7Z" fill="#3e26a8" stroke-opacity=".39"/>
<path d="M190.2 101.2L192.7 102.5L196.2 100.6L193.7 99.2Z" fill="#422ebf" stroke-opacity=".80"/>
<path d="M103.1 99.6L105.6 100.8L109.1 99.8L106.6 98.5Z" fill="#3e26a8" stroke-opacity=".40"/>
<path d="M184.2 101.5L186.7 102.8L190.2 101.2L187.7 99.9Z" fill="#402bb8" stroke-opacity=".80"/>
<path d="M97.1 99.4L99.6 100.6L103.1 99.6L100.6 98.4Z" fill="#3e26a8" stroke-opacity=".41"/>
<path d="M178.1 101.7L180.6 103L184.2 101.5L181.6 100.2Z" fill="#402ab3" stroke-opacity=".80"/>
<path d="M91 99.2L93.5 100.4L97.1 99.4L94.6 98.1Z" fill="#3e26a8" stroke-opacity=".43"/>
<path d="M172.1 101.8L174.6 103.1L178.1 101.7L175.6 100.4Z" fill="#3f28ae" stroke-opacity=".77"/>
<path d="M85 98.9L87.5 100.2L91 99.2L88.5 97.9Z" fill="#3e26a8" stroke-opacity=".46"/>
<path d="M166 101.9L168.5 103.1L172.1 101.8L169.6 100.6Z" fill="#3e27ab" stroke-opacity=".66"/>
<path d="M78.9 98.6L81.5 99.9L85 98.9L82.5 97.6Z" fill="#3e26a8" stroke-opacity=".53"/>
<path d="M160 101.9L162.5 103.1L166 101.9L163.5 100.6Z" fill="#3e26a8" stroke-opacity=".59"/>
<path d="M153.9 101.9L156.5 103.1L160 101.9L157.5 100.6Z" fill="#3e26a8" stroke-opacity=".54"/>
<path d="M147.9 101.8L150.4 103L153.9 101.9L151.4 100.6Z" fill="#3e26a8" stroke-opacity=".49"/>
<path d="M229 90.4L231.5 93.4L235 85.5L232.5 81.6Z" fill="#2e84f8" stroke-opacity=".80"/>
<path d="M141.9 101.7L144.4 102.9L147.9 101.8L145.4 100.6Z" fill="#3e26a8" stroke-opacity=".44"/>
<path d="M222.9 94.9L225.4 97.2L229 90.4L226.4 87.5Z" fill="#4563fc" stroke-opacity=".80"/>
<path d="M135.8 101.6L138.3 102.8L141.9 101.7L139.4 100.5Z" fill="#3e26a8" stroke-opacity=".41"/>
<path d="M216.9 97.8L219.4 99.8L222.9 94.9L220.4 92.6Z" fill="#484ef1" stroke-opacity=".80"/>
<path d="M129.8 101.5L132.3 102.7L135.8 101.6L133.3 100.4Z" fill="#3e26a8" stroke-opacity=".39"/>
<path d="M210.8 100L213.3 101.6L216.9 97.8L214.4 96Z" fill="#473ee1" stroke-opacity=".80"/>
<path d="M123.7 101.3L126.3 102.5L129.8 101.5L127.3 100.3Z" fill="#3e26a8" stroke-opacity=".38"/>
<path d="M204.8 101.3L207.3 102.8L210.8 100L208.3 98.3Z" fill="#4435d1" stroke-opacity=".80"/>
<path d="M117.7 101.2L120.2 102.4L123.7 101.3L121.2 100.1Z" fill="#3e26a8" stroke-opacity=".37"/>
<path d="M198.7 102L201.3 103.4L204.8 101.3L202.3 99.8Z" fill="#4331c6" stroke-opacity=".80"/>
<path d="M111.7 101L114.2 102.2L117.7 101.2L115.2 100Z" fill="#3e26a8" stroke-opacity=".37"/>
<path d="M192.7 102.5L195.2 103.9L198.7 102L196.2 100.6Z" fill="#412dbc" stroke-opacity=".80"/>
<path d="M105.6 100.8L108.1 102L111.7 101L109.1 99.8Z" fill="#3e26a8" stroke-opacity=".37"/>
<path d="M186.7 102.8L189.2 104.1L192.7 102.5L190.2 101.2Z" fill="#402bb6" stroke-opacity=".80"/>
<path d="M99.6 100.6L102.1 101.9L105.6 100.8L103.1 99.6Z" fill="#3e26a8" stroke-opacity=".38"/>
<path d="M180.6 103L183.1 104.3L186.7 102.8L184.2 101.5Z" fill="#3f29b1" stroke-opacity=".80"/>
<path d="M93.5 100.4L96.1 101.7L99.6 100.6L97.1 99.4Z" fill="#3e26a8" stroke-opacity=".39"/>
<path d="M174.6 103.1L177.1 104.3L180.6 103L178.1 101.7Z" fill="#3e28ad" stroke-opacity=".74"/>
<path d="M87.5 100.2L90 101.5L93.5 100.4L91 99.2Z" fill="#3e26a8" stroke-opacity=".41"/>
<path d="M168.5 103.1L171.1 104.3L174.6 103.1L172.1 101.8Z" fill="#3e27a9" stroke-opacity=".63"/>
<path d="M81.5 99.9L84 101.2L87.5 100.2L85 98.9Z" fill="#3e26a8" stroke-opacity=".44"/>
<path d="M162.5 103.1L165 104.3L168.5 103.1L166 101.9Z" fill="#3e26a8" stroke-opacity=".57"/>
<path d="M75.4 99.7L77.9 101L81.5 99.9L78.9 98.6Z" fill="#3e26a8" stroke-opacity=".53"/>
<path d="M156.5 103.1L159 104.3L162.5 103.1L160 101.9Z" fill="#3e26a8" stroke-opacity=".51"/>
<path d="M150.4 103L152.9 104.2L156.5 103.1L153.9 101.9Z" fill="#3e26a8" stroke-opacity=".47"/>
<path d="M231.5 93.4L234 96.7L237.5 89.8L235 85.5Z" fill="#3777fe" stroke-opacity=".80"/>
<path d="M144.4 102.9L146.9 104.1L150.4 103L147.9 101.8Z" fill="#3e26a8" stroke-opacity=".43"/>
<path d="M225.4 97.2L227.9 99.6L231.5 93.4L229 90.4Z" fill="#475bf9" stroke-opacity=".80"/>
<path d="M138.3 102.8L140.9 104L144.4 102.9L141.9 101.7Z" fill="#3e26a8" stroke-opacity=".40"/>
<path d="M219.4 99.8L221.9 101.7L225.4 97.2L222.9 94.9Z" fill="#4848ec" stroke-opacity=".80"/>
<path d="M132.3 102.7L134.8 103.9L138.3 102.8L135.8 101.6Z" fill="#3e26a8" stroke-opacity=".38"/>
<path d="M213.3 101.6L215.9 103.3L219.4 99.8L216.9 97.8Z" fill="#463bdd" stroke-opacity=".80"/>
<path d="M126.3 102.5L128.8 103.7L132.3 102.7L129.8 101.5Z" fill="#3e26a8" stroke-opacity=".36"/>
<path d="M207.3 102.8L209.8 104.3L213.3 101.6L210.8 100Z" fill="#4433cd" stroke-opacity=".80"/>
<path d="M120.2 102.4L122.7 103.6L126.3 102.5L123.7 101.3Z" fill="#3e26a8" stroke-opacity=".35"/>
<path d="M201.3 103.4L203.8 104.8L207.3 102.8L204.8 101.3Z" fill="#422fc2" stroke-opacity=".80"/>
<path d="M114.2 102.2L116.7 103.4L120.2 102.4L117.7 101.2Z" fill="#3e26a8" stroke-opacity=".35"/>
<path d="M195.2 103.9L197.7 105.2L201.3 103.4L198.7 102Z" fill="#412cb9" stroke-opacity=".80"/>
<path d="M108.1 102L110.7 103.3L114.2 102.2L111.7 101Z" fill="#3e26a8" stroke-opacity=".35"/>
<path d="M189.2 104.1L191.7 105.4L195.2 103.9L192.7 102.5Z" fill="#402ab3" stroke-opacity=".80"/>
<path d="M102.1 101.9L104.6 103.1L108.1 102L105.6 100.8Z" fill="#3e26a8" stroke-opacity=".35"/>
<path d="M183.1 104.3L185.7 105.5L189.2 104.1L186.7 102.8Z" fill="#3f28af" stroke-opacity=".80"/>
<path d="M96.1 101.7L98.6 102.9L102.1 101.9L99.6 100.6Z" fill="#3e26a8" stroke-opacity=".36"/>
<path d="M177.1 104.3L179.6 105.6L183.1 104.3L180.6 103Z" fill="#3e27ab" stroke-opacity=".71"/>
<path d="M90 101.5L92.5 102.7L96.1 101.7L93.5 100.4Z" fill="#3e26a8" stroke-opacity=".36"/>
<path d="M171.1 104.3L173.6 105.6L177.1 104.3L174.6 103.1Z" fill="#3e26a8" stroke-opacity=".61"/>
<path d="M84 101.2L86.5 102.5L90 101.5L87.5 100.2Z" fill="#3e26a8" stroke-opacity=".39"/>
<path d="M165 104.3L167.5 105.5L171.1 104.3L168.5 103.1Z" fill="#3e26a8" stroke-opacity=".54"/>
<path d="M77.9 101L80.4 102.3L84 101.2L81.5 99.9Z" fill="#3e26a8" stroke-opacity=".44"/>
<path d="M159 104.3L161.5 105.5L165 104.3L162.5 103.1Z" fill="#3e26a8" stroke-opacity=".49"/>
<path d="M71.9 100.8L74.4 102.1L77.9 101L75.4 99.7Z" fill="#3e26a8" stroke-opacity=".54"/>
<path d="M152.9 104.2L155.5 105.4L159 104.3L156.5 103.1Z" fill="#3e26a8" stroke-opacity=".45"/>
<path d="M234 96.7L236.5 100.3L240 94.6L237.5 89.8Z" fill="#4367fd" stroke-opacity=".80"/>
<path d="M146.9 104.1L149.4 105.3L152.9 104.2L150.4 103Z" fill="#3e26a8" stroke-opacity=".41"/>
<path d="M227.9 99.6L230.5 102.1L234 96.7L231.5 93.4Z" fill="#4852f4" stroke-opacity=".80"/>
<path d="M140.9 104L143.4 105.2L146.9 104.1L144.4 102.9Z" fill="#3e26a8" stroke-opacity=".38"/>
<path d="M221.9 101.7L224.4 103.7L227.9 99.6L225.4 97.2Z" fill="#4743e7" stroke-opacity=".80"/>
<path d="M134.8 103.9L137.3 105.1L140.9 104L138.3 102.8Z" fill="#3e26a8" stroke-opacity=".36"/>
<path d="M215.9 103.3L218.4 104.9L221.9 101.7L219.4 99.8Z" fill="#4538d7" stroke-opacity=".80"/>
<path d="M128.8 103.7L131.3 104.9L134.8 103.9L132.3 102.7Z" fill="#3e26a8" stroke-opacity=".35"/>
<path d="M209.8 104.3L212.3 105.8L215.9 103.3L213.3 101.6Z" fill="#4331c8" stroke-opacity=".80"/>
<path d="M122.7 103.6L125.2 104.8L128.8 103.7L126.3 102.5Z" fill="#3e26a8" stroke-opacity=".34"/>
<path d="M203.8 104.8L206.3 106.2L209.8 104.3L207.3 102.8Z" fill="#422ebf" stroke-opacity=".80"/>
<path d="M116.7 103.4L119.2 104.6L122.7 103.6L120.2 102.4Z" fill="#3e26a8" stroke-opacity=".33"/>
<path d="M197.7 105.2L200.3 106.5L203.8 104.8L201.3 103.4Z" fill="#402bb7" stroke-opacity=".80"/>
<path d="M110.7 103.3L113.2 104.4L116.7 103.4L114.2 102.2Z" fill="#3e26a8" stroke-opacity=".33"/>
<path d="M191.7 105.4L194.2 106.7L197.7 105.2L195.2 103.9Z" fill="#3f29b1" stroke-opacity=".80"/>
<path d="M104.6 103.1L107.1 104.3L110.7 103.3L108.1 102Z" fill="#3e26a8" stroke-opacity=".33"/>
<path d="M185.7 105.5L188.2 106.8L191.7 105.4L189.2 104.1Z" fill="#3f28ad" stroke-opacity=".80"/>
<path d="M98.6 102.9L101.1 104.1L104.6 103.1L102.1 101.9Z" fill="#3e26a8" stroke-opacity=".33"/>
<path d="M179.6 105.6L182.1 106.8L185.7 105.5L183.1 104.3Z" fill="#3e27a9" stroke-opacity=".68"/>
<path d="M92.5 102.7L95 103.9L98.6 102.9L96.1 101.7Z" fill="#3e26a8" stroke-opacity=".34"/>
<path d="M173.6 105.6L176.1 106.8L179.6 105.6L177.1 104.3Z" fill="#3e26a8" stroke-opacity=".58"/>
<path d="M86.5 102.5L89 103.7L92.5 102.7L90 101.5Z" fill="#3e26a8" stroke-opacity=".35"/>
<path d="M167.5 105.5L170 106.8L173.6 105.6L171.1 104.3Z" fill="#3e26a8" stroke-opacity=".52"/>
<path d="M80.4 102.3L83 103.5L86.5 102.5L84 101.2Z" fill="#3e26a8" stroke-opacity=".39"/>
<path d="M161.5 105.5L164 106.7L167.5 105.5L165 104.3Z" fill="#3e26a8" stroke-opacity=".48"/>
<path d="M74.4 102.1L76.9 103.3L80.4 102.3L77.9 101Z" fill="#3e26a8" stroke-opacity=".46"/>
<path d="M155.5 105.4L158 106.6L161.5 105.5L159 104.3Z" fill="#3e26a8" stroke-opacity=".43"/>
<path d="M236.5 100.3L239 104.5L242.5 100.3L240 94.6Z" fill="#4756f7" stroke-opacity=".80"/>
<path d="M68.4 101.9L70.9 103.2L74.4 102.1L71.9 100.8Z" fill="#3e26a8" stroke-opacity=".56"/>
<path d="M149.4 105.3L151.9 106.5L155.5 105.4L152.9 104.2Z" fill="#3e26a8" stroke-opacity=".39"/>
<path d="M230.5 102.1L233 104.8L236.5 100.3L234 96.7Z" fill="#4849ed" stroke-opacity=".80"/>
<path d="M143.4 105.2L145.9 106.4L149.4 105.3L146.9 104.1Z" fill="#3e26a8" stroke-opacity=".37"/>
<path d="M224.4 103.7L226.9 105.7L230.5 102.1L227.9 99.6Z" fill="#463de0" stroke-opacity=".80"/>
<path d="M137.3 105.1L139.8 106.3L143.4 105.2L140.9 104Z" fill="#3e26a8" stroke-opacity=".35"/>
<path d="M218.4 104.9L220.9 106.6L224.4 103.7L221.9 101.7Z" fill="#4435d1" stroke-opacity=".80"/>
<path d="M131.3 104.9L133.8 106.1L137.3 105.1L134.8 103.9Z" fill="#3e26a8" stroke-opacity=".33"/>
<path d="M212.3 105.8L214.8 107.3L218.4 104.9L215.9 103.3Z" fill="#4230c3" stroke-opacity=".80"/>
<path d="M125.2 104.8L127.8 106L131.3 104.9L128.8 103.7Z" fill="#3e26a8" stroke-opacity=".32"/>
<path d="M206.3 106.2L208.8 107.6L212.3 105.8L209.8 104.3Z" fill="#412dbb" stroke-opacity=".80"/>
<path d="M119.2 104.6L121.7 105.8L125.2 104.8L122.7 103.6Z" fill="#3e26a8" stroke-opacity=".32"/>
<path d="M200.3 106.5L202.8 107.9L206.3 106.2L203.8 104.8Z" fill="#402ab4" stroke-opacity=".80"/>
<path d="M113.2 104.4L115.7 105.6L119.2 104.6L116.7 103.4Z" fill="#3e26a8" stroke-opacity=".31"/>
<path d="M194.2 106.7L196.7 108L200.3 106.5L197.7 105.2Z" fill="#3f28af" stroke-opacity=".80"/>
<path d="M107.1 104.3L109.6 105.5L113.2 104.4L110.7 103.3Z" fill="#3e26a8" stroke-opacity=".31"/>
<path d="M188.2 106.8L190.7 108.1L194.2 106.7L191.7 105.4Z" fill="#3e27ab" stroke-opacity=".77"/>
<path d="M101.1 104.1L103.6 105.3L107.1 104.3L104.6 103.1Z" fill="#3e26a8" stroke-opacity=".31"/>
<path d="M182.1 106.8L184.6 108.1L188.2 106.8L185.7 105.5Z" fill="#3e26a8" stroke-opacity=".65"/>
<path d="M95 103.9L97.6 105.1L101.1 104.1L98.6 102.9Z" fill="#3e26a8" stroke-opacity=".31"/>
<path d="M176.1 106.8L178.6 108L182.1 106.8L179.6 105.6Z" fill="#3e26a8" stroke-opacity=".56"/>
<path d="M89 103.7L91.5 104.9L95 103.9L92.5 102.7Z" fill="#3e26a8" stroke-opacity=".32"/>
<path d="M170 106.8L172.6 108L176.1 106.8L173.6 105.6Z" fill="#3e26a8" stroke-opacity=".50"/>
<path d="M83 103.5L85.5 104.7L89 103.7L86.5 102.5Z" fill="#3e26a8" stroke-opacity=".35"/>
<path d="M164 106.7L166.5 107.9L170 106.8L167.5 105.5Z" fill="#3e26a8" stroke-opacity=".46"/>
<path d="M76.9 103.3L79.4 104.5L83 103.5L80.4 102.3Z" fill="#3e26a8" stroke-opacity=".40"/>
<path d="M158 106.6L160.5 107.8L164 106.7L161.5 105.5Z" fill="#3e26a8" stroke-opacity=".42"/>
<path d="M239 104.5L241.5 112.2L245 111.2L242.5 100.3Z" fill="#4742e6" stroke-opacity=".80"/>
<path d="M70.9 103.2L73.4 104.4L76.9 103.3L74.4 102.1Z" fill="#3e26a8" stroke-opacity=".47"/>
<path d="M151.9 106.5L154.4 107.7L158 106.6L155.5 105.4Z" fill="#3e26a8" stroke-opacity=".38"/>
<path d="M233 104.8L235.5 107.9L239 104.5L236.5 100.3Z" fill="#473ee2" stroke-opacity=".80"/>
<path d="M64.8 103L67.4 104.3L70.9 103.2L68.4 101.9Z" fill="#3e26a8" stroke-opacity=".54"/>
<path d="M145.9 106.4L148.4 107.6L151.9 106.5L149.4 105.3Z" fill="#3e26a8" stroke-opacity=".36"/>
<path d="M226.9 105.7L229.4 107.9L233 104.8L230.5 102.1Z" fill="#4538d7" stroke-opacity=".80"/>
<path d="M139.8 106.3L142.4 107.4L145.9 106.4L143.4 105.2Z" fill="#3e26a8" stroke-opacity=".34"/>
<path d="M220.9 106.6L223.4 108.4L226.9 105.7L224.4 103.7Z" fill="#4332ca" stroke-opacity=".80"/>
<path d="M133.8 106.1L136.3 107.3L139.8 106.3L137.3 105.1Z" fill="#3e26a8" stroke-opacity=".32"/>
<path d="M214.8 107.3L217.4 108.8L220.9 106.6L218.4 104.9Z" fill="#422ebe" stroke-opacity=".80"/>
<path d="M127.8 106L130.3 107.1L133.8 106.1L131.3 104.9Z" fill="#3e26a8" stroke-opacity=".31"/>
<path d="M208.8 107.6L211.3 109L214.8 107.3L212.3 105.8Z" fill="#402bb7" stroke-opacity=".80"/>
<path d="M121.7 105.8L124.2 107L127.8 106L125.2 104.8Z" fill="#3e26a8" stroke-opacity=".30"/>
<path d="M202.8 107.9L205.3 109.2L208.8 107.6L206.3 106.2Z" fill="#3f29b1" stroke-opacity=".80"/>
<path d="M115.7 105.6L118.2 106.8L121.7 105.8L119.2 104.6Z" fill="#3e26a8" stroke-opacity=".30"/>
<path d="M196.7 108L199.2 109.3L202.8 107.9L200.3 106.5Z" fill="#3e28ad" stroke-opacity=".80"/>
<path d="M109.6 105.5L112.2 106.7L115.7 105.6L113.2 104.4Z" fill="#3e26a8" stroke-opacity=".30"/>
<path d="M190.7 108.1L193.2 109.3L196.7 108L194.2 106.7Z" fill="#3e27a9" stroke-opacity=".74"/>
<path d="M103.6 105.3L106.1 106.5L109.6 105.5L107.1 104.3Z" fill="#3e26a8" stroke-opacity=".30"/>
<path d="M184.6 108.1L187.2 109.3L190.7 108.1L188.2 106.8Z" fill="#3e26a8" stroke-opacity=".63"/>
<path d="M97.6 105.1L100.1 106.3L103.6 105.3L101.1 104.1Z" fill="#3e26a8" stroke-opacity=".30"/>
<path d="M178.6 108L181.1 109.3L184.6 108.1L182.1 106.8Z" fill="#3e26a8" stroke-opacity=".54"/>
<path d="M91.5 104.9L94 106.1L97.6 105.1L95 103.9Z" fill="#3e26a8" stroke-opacity=".30"/>
<path d="M172.6 108L175.1 109.2L178.6 108L176.1 106.8Z" fill="#3e26a8" stroke-opacity=".49"/>
<path d="M85.5 104.7L88 105.9L91.5 104.9L89 103.7Z" fill="#3e26a8" stroke-opacity=".32"/>
<path d="M166.5 107.9L169 109.1L172.6 108L170 106.8Z" fill="#3e26a8" stroke-opacity=".44"/>
<path d="M79.4 104.5L81.9 105.8L85.5 104.7L83 103.5Z" fill="#3e26a8" stroke-opacity=".36"/>
<path d="M160.5 107.8L163 109L166.5 107.9L164 106.7Z" fill="#3e26a8" stroke-opacity=".40"/>
<path d="M73.4 104.4L75.9 105.6L79.4 104.5L76.9 103.3Z" fill="#3e26a8" stroke-opacity=".42"/>
<path d="M154.4 107.7L157 108.9L160.5 107.8L158 106.6Z" fill="#3e26a8" stroke-opacity=".37"/>
<path d="M235.5 107.9L238 113.1L241.5 112.2L239 104.5Z" fill="#4433cd" stroke-opacity=".80"/>
<path d="M67.4 104.3L69.9 105.5L73.4 104.4L70.9 103.2Z" fill="#3e26a8" stroke-opacity=".46"/>
<path d="M148.4 107.6L150.9 108.8L154.4 107.7L151.9 106.5Z" fill="#3e26a8" stroke-opacity=".34"/>
<path d="M229.4 107.9L232 110.3L235.5 107.9L233 104.8Z" fill="#4332ca" stroke-opacity=".80"/>
<path d="M61.3 104.2L63.8 105.4L67.4 104.3L64.8 103Z" fill="#3e26a8" stroke-opacity=".50"/>
<path d="M142.4 107.4L144.9 108.6L148.4 107.6L145.9 106.4Z" fill="#3e26a8" stroke-opacity=".33"/>
<path d="M223.4 108.4L225.9 110.2L229.4 107.9L226.9 105.7Z" fill="#422fc1" stroke-opacity=".80"/>
<path d="M136.3 107.3L138.8 108.5L142.4 107.4L139.8 106.3Z" fill="#3e26a8" stroke-opacity=".31"/>
<path d="M217.4 108.8L219.9 110.4L223.4 108.4L220.9 106.6Z" fill="#412cb9" stroke-opacity=".80"/>
<path d="M130.3 107.1L132.8 108.3L136.3 107.3L133.8 106.1Z" fill="#3e26a8" stroke-opacity=".30"/>
<path d="M211.3 109L213.8 110.4L217.4 108.8L214.8 107.3Z" fill="#402ab4" stroke-opacity=".80"/>
<path d="M124.2 107L126.7 108.2L130.3 107.1L127.8 106Z" fill="#3e26a8" stroke-opacity=".29"/>
<path d="M205.3 109.2L207.8 110.6L211.3 109L208.8 107.6Z" fill="#3f28ae" stroke-opacity=".80"/>
<path d="M118.2 106.8L120.7 108L124.2 107L121.7 105.8Z" fill="#3e26a8" stroke-opacity=".29"/>
<path d="M199.2 109.3L201.8 110.6L205.3 109.2L202.8 107.9Z" fill="#3e27aa" stroke-opacity=".80"/>
<path d="M112.2 106.7L114.7 107.8L118.2 106.8L115.7 105.6Z" fill="#3e26a8" stroke-opacity=".29"/>
<path d="M193.2 109.3L195.7 110.6L199.2 109.3L196.7 108Z" fill="#3e26a8" stroke-opacity=".71"/>
<path d="M106.1 106.5L108.6 107.7L112.2 106.7L109.6 105.5Z" fill="#3e26a8" stroke-opacity=".29"/>
<path d="M187.2 109.3L189.7 110.5L193.2 109.3L190.7 108.1Z" fill="#3e26a8" stroke-opacity=".60"/>
<path d="M100.1 106.3L102.6 107.5L106.1 106.5L103.6 105.3Z" fill="#3e26a8" stroke-opacity=".28"/>
<path d="M181.1 109.3L183.6 110.5L187.2 109.3L184.6 108.1Z" fill="#3e26a8" stroke-opacity=".52"/>
<path d="M94 106.1L96.5 107.3L100.1 106.3L97.6 105.1Z" fill="#3e26a8" stroke-opacity=".28"/>
<path d="M175.1 109.2L177.6 110.4L181.1 109.3L178.6 108Z" fill="#3e26a8" stroke-opacity=".47"/>
<path d="M88 105.9L90.5 107.1L94 106.1L91.5 104.9Z" fill="#3e26a8" stroke-opacity=".30"/>
<path d="M169 109.1L171.5 110.3L175.1 109.2L172.6 108Z" fill="#3e26a8" stroke-opacity=".43"/>
<path d="M81.9 105.8L84.5 107L88 105.9L85.5 104.7Z" fill="#3e26a8" stroke-opacity=".34"/>
<path d="M163 109L165.5 110.2L169 109.1L166.5 107.9Z" fill="#3e26a8" stroke-opacity=".39"/>
<path d="M75.9 105.6L78.4 106.8L81.9 105.8L79.4 104.5Z" fill="#3e26a8" stroke-opacity=".38"/>
<path d="M157 108.9L159.5 110.1L163 109L160.5 107.8Z" fill="#3e26a8" stroke-opacity=".36"/>
<path d="M69.9 105.5L72.4 106.7L75.9 105.6L73.4 104.4Z" fill="#3e26a8" stroke-opacity=".41"/>
<path d="M150.9 108.8L153.4 109.9L157 108.9L154.4 107.7Z" fill="#3e26a8" stroke-opacity=".33"/>
<path d="M232 110.3L234.5 114.1L238 113.1L235.5 107.9Z" fill="#412cba" stroke-opacity=".80"/>
<path d="M63.8 105.4L66.3 106.6L69.9 105.5L67.4 104.3Z" fill="#3e26a8" stroke-opacity=".43"/>
<path d="M144.9 108.6L147.4 109.8L150.9 108.8L148.4 107.6Z" fill="#3e26a8" stroke-opacity=".32"/>
<path d="M225.9 110.2L228.4 112.1L232 110.3L229.4 107.9Z" fill="#412cb8" stroke-opacity=".80"/>
<path d="M57.8 105.4L60.3 106.6L63.8 105.4L61.3 104.2Z" fill="#3e26a8" stroke-opacity=".47"/>
<path d="M138.8 108.5L141.3 109.7L144.9 108.6L142.4 107.4Z" fill="#3e26a8" stroke-opacity=".30"/>
<path d="M219.9 110.4L222.4 112L225.9 110.2L223.4 108.4Z" fill="#402ab4" stroke-opacity=".80"/>
<path d="M132.8 108.3L135.3 109.5L138.8 108.5L136.3 107.3Z" fill="#3e26a8" stroke-opacity=".29"/>
<path d="M213.8 110.4L216.3 111.9L219.9 110.4L217.4 108.8Z" fill="#3f29b0" stroke-opacity=".80"/>
<path d="M126.7 108.2L129.3 109.3L132.8 108.3L130.3 107.1Z" fill="#3e26a8" stroke-opacity=".29"/>
<path d="M207.8 110.6L210.3 111.9L213.8 110.4L211.3 109Z" fill="#3e27ab" stroke-opacity=".80"/>
<path d="M120.7 108L123.2 109.2L126.7 108.2L124.2 107Z" fill="#3e26a8" stroke-opacity=".28"/>
<path d="M201.8 110.6L204.3 111.9L207.8 110.6L205.3 109.2Z" fill="#3e26a8" stroke-opacity=".80"/>
<path d="M114.7 107.8L117.2 109L120.7 108L118.2 106.8Z" fill="#3e26a8" stroke-opacity=".28"/>
<path d="M195.7 110.6L198.2 111.8L201.8 110.6L199.2 109.3Z" fill="#3e26a8" stroke-opacity=".68"/>
<path d="M108.6 107.7L111.1 108.8L114.7 107.8L112.2 106.7Z" fill="#3e26a8" stroke-opacity=".28"/>
<path d="M189.7 110.5L192.2 111.8L195.7 110.6L193.2 109.3Z" fill="#3e26a8" stroke-opacity=".58"/>
<path d="M102.6 107.5L105.1 108.7L108.6 107.7L106.1 106.5Z" fill="#3e26a8" stroke-opacity=".27"/>
<path d="M183.6 110.5L186.1 111.7L189.7 110.5L187.2 109.3Z" fill="#3e26a8" stroke-opacity=".50"/>
<path d="M96.5 107.3L99.1 108.5L102.6 107.5L100.1 106.3Z" fill="#3e26a8" stroke-opacity=".27"/>
<path d="M177.6 110.4L180.1 111.6L183.6 110.5L181.1 109.3Z" fill="#3e26a8" stroke-opacity=".45"/>
<path d="M90.5 107.1L93 108.3L96.5 107.3L94 106.1Z" fill="#3e26a8" stroke-opacity=".29"/>
<path d="M171.5 110.3L174.1 111.5L177.6 110.4L175.1 109.2Z" fill="#3e26a8" stroke-opacity=".41"/>
<path d="M84.5 107L87 108.1L90.5 107.1L88 105.9Z" fill="#3e26a8" stroke-opacity=".32"/>
<path d="M165.5 110.2L168 111.4L171.5 110.3L169 109.1Z" fill="#3e26a8" stroke-opacity=".38"/>
<path d="M78.4 106.8L80.9 108L84.5 107L81.9 105.8Z" fill="#3e26a8" stroke-opacity=".35"/>
<path d="M159.5 110.1L162 111.3L165.5 110.2L163 109Z" fill="#3e26a8" stroke-opacity=".35"/>
<path d="M72.4 106.7L74.9 107.9L78.4 106.8L75.9 105.6Z" fill="#3e26a8" stroke-opacity=".38"/>
<path d="M153.4 109.9L155.9 111.1L159.5 110.1L157 108.9Z" fill="#3e26a8" stroke-opacity=".32"/>
<path d="M66.3 106.6L68.9 107.8L72.4 106.7L69.9 105.5Z" fill="#3e26a8" stroke-opacity=".39"/>
<path d="M147.4 109.8L149.9 111L153.4 109.9L150.9 108.8Z" fill="#3e26a8" stroke-opacity=".31"/>
<path d="M228.4 112.1L230.9 115L234.5 114.1L232 110.3Z" fill="#3f28ad" stroke-opacity=".80"/>
<path d="M60.3 106.6L62.8 107.7L66.3 106.6L63.8 105.4Z" fill="#3e26a8" stroke-opacity=".41"/>
<path d="M141.3 109.7L143.9 110.8L147.4 109.8L144.9 108.6Z" fill="#3e26a8" stroke-opacity=".29"/>
<path d="M222.4 112L224.9 113.7L228.4 112.1L225.9 110.2Z" fill="#3f28ad" stroke-opacity=".80"/>
<path d="M54.3 106.5L56.8 107.7L60.3 106.6L57.8 105.4Z" fill="#3e26a8" stroke-opacity=".44"/>
<path d="M135.3 109.5L137.8 110.7L141.3 109.7L138.8 108.5Z" fill="#3e26a8" stroke-opacity=".28"/>
<path d="M216.3 111.9L218.9 113.4L222.4 112L219.9 110.4Z" fill="#3e27ab" stroke-opacity=".80"/>
<path d="M129.3 109.3L131.8 110.5L135.3 109.5L132.8 108.3Z" fill="#3e26a8" stroke-opacity=".28"/>
<path d="M210.3 111.9L212.8 113.3L216.3 111.9L213.8 110.4Z" fill="#3e26a8" stroke-opacity=".80"/>
<path d="M123.2 109.2L125.7 110.3L129.3 109.3L126.7 108.2Z" fill="#3e26a8" stroke-opacity=".27"/>
<path d="M204.3 111.9L206.8 113.2L210.3 111.9L207.8 110.6Z" fill="#3e26a8" stroke-opacity=".78"/>
<path d="M117.2 109L119.7 110.2L123.2 109.2L120.7 108Z" fill="#3e26a8" stroke-opacity=".27"/>
<path d="M198.2 111.8L200.7 113.1L204.3 111.9L201.8 110.6Z" fill="#3e26a8" stroke-opacity=".65"/>
<path d="M111.1 108.8L113.7 110L117.2 109L114.7 107.8Z" fill="#3e26a8" stroke-opacity=".27"/>
<path d="M192.2 111.8L194.7 113L198.2 111.8L195.7 110.6Z" fill="#3e26a8" stroke-opacity=".56"/>
<path d="M105.1 108.7L107.6 109.8L111.1 108.8L108.6 107.7Z" fill="#3e26a8" stroke-opacity=".26"/>
<path d="M186.1 111.7L188.7 112.9L192.2 111.8L189.7 110.5Z" fill="#3e26a8" stroke-opacity=".48"/>
<path d="M99.1 108.5L101.6 109.7L105.1 108.7L102.6 107.5Z" fill="#3e26a8" stroke-opacity=".26"/>
<path d="M180.1 111.6L182.6 112.8L186.1 111.7L183.6 110.5Z" fill="#3e26a8" stroke-opacity=".44"/>
<path d="M93 108.3L95.5 109.5L99.1 108.5L96.5 107.3Z" fill="#3e26a8" stroke-opacity=".27"/>
<path d="M174.1 111.5L176.6 112.7L180.1 111.6L177.6 110.4Z" fill="#3e26a8" stroke-opacity=".40"/>
<path d="M87 108.1L89.5 109.3L93 108.3L90.5 107.1Z" fill="#3e26a8" stroke-opacity=".30"/>
<path d="M168 111.4L170.5 112.6L174.1 111.5L171.5 110.3Z" fill="#3e26a8" stroke-opacity=".37"/>
<path d="M80.9 108L83.5 109.2L87 108.1L84.5 107Z" fill="#3e26a8" stroke-opacity=".33"/>
<path d="M162 111.3L164.5 112.4L168 111.4L165.5 110.2Z" fill="#3e26a8" stroke-opacity=".34"/>
<path d="M74.9 107.9L77.4 109.1L80.9 108L78.4 106.8Z" fill="#3e26a8" stroke-opacity=".35"/>
<path d="M155.9 111.1L158.5 112.3L162 111.3L159.5 110.1Z" fill="#3e26a8" stroke-opacity=".32"/>
<path d="M68.9 107.8L71.4 109L74.9 107.9L72.4 106.7Z" fill="#3e26a8" stroke-opacity=".36"/>
<path d="M149.9 111L152.4 112.2L155.9 111.1L153.4 109.9Z" fill="#3e26a8" stroke-opacity=".30"/>
<path d="M62.8 107.7L65.3 108.9L68.9 107.8L66.3 106.6Z" fill="#3e26a8" stroke-opacity=".38"/>
<path d="M143.9 110.8L146.4 112L149.9 111L147.4 109.8Z" fill="#3e26a8" stroke-opacity=".29"/>
<path d="M224.9 113.7L227.4 116L230.9 115L228.4 112.1Z" fill="#3e26a8" stroke-opacity=".80"/>
<path d="M56.8 107.7L59.3 108.9L62.8 107.7L60.3 106.6Z" fill="#3e26a8" stroke-opacity=".39"/>
<path d="M137.8 110.7L140.3 111.8L143.9 110.8L141.3 109.7Z" fill="#3e26a8" stroke-opacity=".28"/>
<path d="M218.9 113.4L221.4 114.9L224.9 113.7L222.4 112Z" fill="#3e26a8" stroke-opacity=".80"/>
<path d="M131.8 110.5L134.3 111.7L137.8 110.7L135.3 109.5Z" fill="#3e26a8" stroke-opacity=".27"/>
<path d="M212.8 113.3L215.3 114.7L218.9 113.4L216.3 111.9Z" fill="#3e26a8" stroke-opacity=".80"/>
<path d="M125.7 110.3L128.3 111.5L131.8 110.5L129.3 109.3Z" fill="#3e26a8" stroke-opacity=".27"/>
<path d="M206.8 113.2L209.3 114.5L212.8 113.3L210.3 111.9Z" fill="#3e26a8" stroke-opacity=".75"/>
<path d="M119.7 110.2L122.2 111.4L125.7 110.3L123.2 109.2Z" fill="#3e26a8" stroke-opacity=".26"/>
<path d="M200.7 113.1L203.3 114.4L206.8 113.2L204.3 111.9Z" fill="#3e26a8" stroke-opacity=".63"/>
<path d="M113.7 110L116.2 111.2L119.7 110.2L117.2 109Z" fill="#3e26a8" stroke-opacity=".26"/>
<path d="M194.7 113L197.2 114.3L200.7 113.1L198.2 111.8Z" fill="#3e26a8" stroke-opacity=".54"/>
<path d="M107.6 109.8L110.1 111L113.7 110L111.1 108.8Z" fill="#3e26a8" stroke-opacity=".25"/>
<path d="M188.7 112.9L191.2 114.1L194.7 113L192.2 111.8Z" fill="#3e26a8" stroke-opacity=".47"/>
<path d="M101.6 109.7L104.1 110.8L107.6 109.8L105.1 108.7Z" fill="#3e26a8" stroke-opacity=".25"/>
<path d="M182.6 112.8L185.1 114L188.7 112.9L186.1 111.7Z" fill="#3e26a8" stroke-opacity=".42"/>
<path d="M95.5 109.5L98 110.7L101.6 109.7L99.1 108.5Z" fill="#3e26a8" stroke-opacity=".26"/>
<path d="M176.6 112.7L179.1 113.9L182.6 112.8L180.1 111.6Z" fill="#3e26a8" stroke-opacity=".39"/>
<path d="M89.5 109.3L92 110.5L95.5 109.5L93 108.3Z" fill="#3e26a8" stroke-opacity=".29"/>
<path d="M170.5 112.6L173.1 113.8L176.6 112.7L174.1 111.5Z" fill="#3e26a8" stroke-opacity=".36"/>
<path d="M83.5 109.2L86 110.4L89.5 109.3L87 108.1Z" fill="#3e26a8" stroke-opacity=".32"/>
<path d="M164.5 112.4L167 113.6L170.5 112.6L168 111.4Z" fill="#3e26a8" stroke-opacity=".33"/>
<path d="M77.4 109.1L79.9 110.3L83.5 109.2L80.9 108Z" fill="#3e26a8" stroke-opacity=".33"/>
<path d="M158.5 112.3L161 113.5L164.5 112.4L162 111.3Z" fill="#3e26a8" stroke-opacity=".31"/>
<path d="M71.4 109L73.9 110.2L77.4 109.1L74.9 107.9Z" fill="#3e26a8" stroke-opacity=".34"/>
<path d="M152.4 112.2L154.9 113.3L158.5 112.3L155.9 111.1Z" fill="#3e26a8" stroke-opacity=".29"/>
<path d="M65.3 108.9L67.8 110.1L71.4 109L68.9 107.8Z" fill="#3e26a8" stroke-opacity=".35"/>
<path d="M146.4 112L148.9 113.2L152.4 112.2L149.9 111Z" fill="#3e26a8" stroke-opacity=".28"/>
<path d="M59.3 108.9L61.8 110L65.3 108.9L62.8 107.7Z" fill="#3e26a8" stroke-opacity=".36"/>
<path d="M140.3 111.8L142.8 113L146.4 112L143.9 110.8Z" fill="#3e26a8" stroke-opacity=".27"/>
<path d="M221.4 114.9L223.9 117L227.4 116L224.9 113.7Z" fill="#3e26a8" stroke-opacity=".80"/>
<path d="M134.3 111.7L136.8 112.8L140.3 111.8L137.8 110.7Z" fill="#3e26a8" stroke-opacity=".26"/>
<path d="M215.3 114.7L217.8 116.1L221.4 114.9L218.9 113.4Z" fill="#3e26a8" stroke-opacity=".80"/>
<path d="M128.3 111.5L130.8 112.7L134.3 111.7L131.8 110.5Z" fill="#3e26a8" stroke-opacity=".26"/>
<path d="M209.3 114.5L211.8 115.8L215.3 114.7L212.8 113.3Z" fill="#3e26a8" stroke-opacity=".73"/>
<path d="M122.2 111.4L124.7 112.5L128.3 111.5L125.7 110.3Z" fill="#3e26a8" stroke-opacity=".26"/>
<path d="M203.3 114.4L205.8 115.7L209.3 114.5L206.8 113.2Z" fill="#3e26a8" stroke-opacity=".60"/>
<path d="M116.2 111.2L118.7 112.3L122.2 111.4L119.7 110.2Z" fill="#3e26a8" stroke-opacity=".25"/>
<path d="M197.2 114.3L199.7 115.5L203.3 114.4L200.7 113.1Z" fill="#3e26a8" stroke-opacity=".52"/>
<path d="M110.1 111L112.6 112.2L116.2 111.2L113.7 110Z" fill="#3e26a8" stroke-opacity=".25"/>
<path d="M191.2 114.1L193.7 115.4L197.2 114.3L194.7 113Z" fill="#3e26a8" stroke-opacity=".45"/>
<path d="M104.1 110.8L106.6 112L110.1 111L107.6 109.8Z" fill="#3e26a8" stroke-opacity=".25"/>
<path d="M185.1 114L187.6 115.2L191.2 114.1L188.7 112.9Z" fill="#3e26a8" stroke-opacity=".41"/>
<path d="M98 110.7L100.6 111.8L104.1 110.8L101.6 109.7Z" fill="#3e26a8" stroke-opacity=".25"/>
<path d="M179.1 113.9L181.6 115.1L185.1 114L182.6 112.8Z" fill="#3e26a8" stroke-opacity=".38"/>
<path d="M92 110.5L94.5 111.7L98 110.7L95.5 109.5Z" fill="#3e26a8" stroke-opacity=".28"/>
<path d="M173.1 113.8L175.6 114.9L179.1 113.9L176.6 112.7Z" fill="#3e26a8" stroke-opacity=".35"/>
<path d="M86 110.4L88.5 111.5L92 110.5L89.5 109.3Z" fill="#3e26a8" stroke-opacity=".30"/>
<path d="M167 113.6L169.5 114.8L173.1 113.8L170.5 112.6Z" fill="#3e26a8" stroke-opacity=".32"/>
<path d="M79.9 110.3L82.4 111.4L86 110.4L83.5 109.2Z" fill="#3e26a8" stroke-opacity=".31"/>
<path d="M161 113.5L163.5 114.7L167 113.6L164.5 112.4Z" fill="#3e26a8" stroke-opacity=".30"/>
<path d="M73.9 110.2L76.4 111.3L79.9 110.3L77.4 109.1Z" fill="#3e26a8" stroke-opacity=".32"/>
<path d="M154.9 113.3L157.4 114.5L161 113.5L158.5 112.3Z" fill="#3e26a8" stroke-opacity=".29"/>
<path d="M67.8 110.1L70.4 111.2L73.9 110.2L71.4 109Z" fill="#3e26a8" stroke-opacity=".33"/>
<path d="M148.9 113.2L151.4 114.3L154.9 113.3L152.4 112.2Z" fill="#3e26a8" stroke-opacity=".27"/>
<path d="M61.8 110L64.3 111.2L67.8 110.1L65.3 108.9Z" fill="#3e26a8" stroke-opacity=".34"/>
<path d="M142.8 113L145.4 114.2L148.9 113.2L146.4 112Z" fill="#3e26a8" stroke-opacity=".27"/>
<path d="M136.8 112.8L139.3 114L142.8 113L140.3 111.8Z" fill="#3e26a8" stroke-opacity=".26"/>
<path d="M217.8 116.1L220.4 117.9L223.9 117L221.4 114.9Z" fill="#3e26a8" stroke-opacity=".80"/>
<path d="M130.8 112.7L133.3 113.9L136.8 112.8L134.3 111.7Z" fill="#3e26a8" stroke-opacity=".25"/>
<path d="M211.8 115.8L214.3 117.2L217.8 116.1L215.3 114.7Z" fill="#3e26a8" stroke-opacity=".73"/>
<path d="M124.7 112.5L127.2 113.7L130.8 112.7L128.3 111.5Z" fill="#3e26a8" stroke-opacity=".25"/>
<path d="M205.8 115.7L208.3 116.9L211.8 115.8L209.3 114.5Z" fill="#3e26a8" stroke-opacity=".59"/>
<path d="M118.7 112.3L121.2 113.5L124.7 112.5L122.2 111.4Z" fill="#3e26a8" stroke-opacity=".25"/>
<path d="M199.7 115.5L202.2 116.8L205.8 115.7L203.3 114.4Z" fill="#3e26a8" stroke-opacity=".50"/>
<path d="M112.6 112.2L115.2 113.3L118.7 112.3L116.2 111.2Z" fill="#3e26a8" stroke-opacity=".24"/>
<path d="M193.7 115.4L196.2 116.6L199.7 115.5L197.2 114.3Z" fill="#3e26a8" stroke-opacity=".44"/>
<path d="M106.6 112L109.1 113.2L112.6 112.2L110.1 111Z" fill="#3e26a8" stroke-opacity=".24"/>
<path d="M187.6 115.2L190.2 116.4L193.7 115.4L191.2 114.1Z" fill="#3e26a8" stroke-opacity=".40"/>
<path d="M100.6 111.8L103.1 113L106.6 112L104.1 110.8Z" fill="#3e26a8" stroke-opacity=".25"/>
<path d="M181.6 115.1L184.1 116.3L187.6 115.2L185.1 114Z" fill="#3e26a8" stroke-opacity=".37"/>
<path d="M94.5 111.7L97 112.8L100.6 111.8L98 110.7Z" fill="#3e26a8" stroke-opacity=".27"/>
<path d="M175.6 114.9L178.1 116.1L181.6 115.1L179.1 113.9Z" fill="#3e26a8" stroke-opacity=".34"/>
<path d="M88.5 111.5L91 112.7L94.5 111.7L92 110.5Z" fill="#3e26a8" stroke-opacity=".29"/>
<path d="M169.5 114.8L172 116L175.6 114.9L173.1 113.8Z" fill="#3e26a8" stroke-opacity=".31"/>
<path d="M82.4 111.4L85 112.6L88.5 111.5L86 110.4Z" fill="#3e26a8" stroke-opacity=".30"/>
<path d="M163.5 114.7L166 115.8L169.5 114.8L167 113.6Z" fill="#3e26a8" stroke-opacity=".29"/>
<path d="M76.4 111.3L78.9 112.5L82.4 111.4L79.9 110.3Z" fill="#3e26a8" stroke-opacity=".30"/>
<path d="M157.4 114.5L160 115.7L163.5 114.7L161 113.5Z" fill="#3e26a8" stroke-opacity=".28"/>
<path d="M70.4 111.2L72.9 112.4L76.4 111.3L73.9 110.2Z" fill="#3e26a8" stroke-opacity=".31"/>
<path d="M151.4 114.3L153.9 115.5L157.4 114.5L154.9 113.3Z" fill="#3e26a8" stroke-opacity=".27"/>
<path d="M64.3 111.2L66.8 112.3L70.4 111.2L67.8 110.1Z" fill="#3e26a8" stroke-opacity=".32"/>
<path d="M145.4 114.2L147.9 115.3L151.4 114.3L148.9 113.2Z" fill="#3e26a8" stroke-opacity=".26"/>
<path d="M139.3 114L141.8 115.2L145.4 114.2L142.8 113Z" fill="#3e26a8" stroke-opacity=".25"/>
<path d="M133.3 113.9L135.8 115L139.3 114L136.8 112.8Z" fill="#3e26a8" stroke-opacity=".25"/>
<path d="M214.3 117.2L216.8 118.9L220.4 117.9L217.8 116.1Z" fill="#3e26a8" stroke-opacity=".80"/>
<path d="M127.2 113.7L129.8 114.8L133.3 113.9L130.8 112.7Z" fill="#3e26a8" stroke-opacity=".24"/>
<path d="M208.3 116.9L210.8 118.3L214.3 117.2L211.8 115.8Z" fill="#3e26a8" stroke-opacity=".60"/>
<path d="M121.2 113.5L123.7 114.7L127.2 113.7L124.7 112.5Z" fill="#3e26a8" stroke-opacity=".24"/>
<path d="M202.2 116.8L204.8 118L208.3 116.9L205.8 115.7Z" fill="#3e26a8" stroke-opacity=".50"/>
<path d="M115.2 113.3L117.7 114.5L121.2 113.5L118.7 112.3Z" fill="#3e26a8" stroke-opacity=".24"/>
<path d="M196.2 116.6L198.7 117.8L202.2 116.8L199.7 115.5Z" fill="#3e26a8" stroke-opacity=".43"/>
<path d="M109.1 113.2L111.6 114.3L115.2 113.3L112.6 112.2Z" fill="#3e26a8" stroke-opacity=".23"/>
<path d="M190.2 116.4L192.7 117.6L196.2 116.6L193.7 115.4Z" fill="#3e26a8" stroke-opacity=".39"/>
<path d="M103.1 113L105.6 114.2L109.1 113.2L106.6 112Z" fill="#3e26a8" stroke-opacity=".24"/>
<path d="M184.1 116.3L186.6 117.5L190.2 116.4L187.6 115.2Z" fill="#3e26a8" stroke-opacity=".36"/>
<path d="M97 112.8L99.5 114L103.1 113L100.6 111.8Z" fill="#3e26a8" stroke-opacity=".26"/>
<path d="M178.1 116.1L180.6 117.3L184.1 116.3L181.6 115.1Z" fill="#3e26a8" stroke-opacity=".33"/>
<path d="M91 112.7L93.5 113.9L97 112.8L94.5 111.7Z" fill="#3e26a8" stroke-opacity=".28"/>
<path d="M172 116L174.6 117.2L178.1 116.1L175.6 114.9Z" fill="#3e26a8" stroke-opacity=".31"/>
<path d="M85 112.6L87.5 113.7L91 112.7L88.5 111.5Z" fill="#3e26a8" stroke-opacity=".29"/>
<path d="M166 115.8L168.5 117L172 116L169.5 114.8Z" fill="#3e26a8" stroke-opacity=".29"/>
<path d="M78.9 112.5L81.4 113.6L85 112.6L82.4 111.4Z" fill="#3e26a8" stroke-opacity=".29"/>
<path d="M160 115.7L162.5 116.8L166 115.8L163.5 114.7Z" fill="#3e26a8" stroke-opacity=".28"/>
<path d="M72.9 112.4L75.4 113.5L78.9 112.5L76.4 111.3Z" fill="#3e26a8" stroke-opacity=".30"/>
<path d="M153.9 115.5L156.4 116.7L160 115.7L157.4 114.5Z" fill="#3e26a8" stroke-opacity=".26"/>
<path d="M66.8 112.3L69.3 113.5L72.9 112.4L70.4 111.2Z" fill="#3e26a8" stroke-opacity=".30"/>
<path d="M147.9 115.3L150.4 116.5L153.9 115.5L151.4 114.3Z" fill="#3e26a8" stroke-opacity=".26"/>
<path d="M141.8 115.2L144.3 116.3L147.9 115.3L145.4 114.2Z" fill="#3e26a8" stroke-opacity=".25"/>
<path d="M135.8 115L138.3 116.2L141.8 115.2L139.3 114Z" fill="#3e26a8" stroke-opacity=".24"/>
<path d="M129.8 114.8L132.3 116L135.8 115L133.3 113.9Z" fill="#3e26a8" stroke-opacity=".24"/>
<path d="M210.8 118.3L213.3 119.8L216.8 118.9L214.3 117.2Z" fill="#3e26a8" stroke-opacity=".80"/>
<path d="M123.7 114.7L126.2 115.8L129.8 114.8L127.2 113.7Z" fill="#3e26a8" stroke-opacity=".24"/>
<path d="M204.8 118L207.3 119.3L210.8 118.3L208.3 116.9Z" fill="#3e26a8" stroke-opacity=".51"/>
<path d="M117.7 114.5L120.2 115.7L123.7 114.7L121.2 113.5Z" fill="#3e26a8" stroke-opacity=".23"/>
<path d="M198.7 117.8L201.2 119.1L204.8 118L202.2 116.8Z" fill="#3e26a8" stroke-opacity=".43"/>
<path d="M111.6 114.3L114.1 115.5L117.7 114.5L115.2 113.3Z" fill="#3e26a8" stroke-opacity=".23"/>
<path d="M192.7 117.6L195.2 118.9L198.7 117.8L196.2 116.6Z" fill="#3e26a8" stroke-opacity=".38"/>
<path d="M105.6 114.2L108.1 115.3L111.6 114.3L109.1 113.2Z" fill="#3e26a8" stroke-opacity=".24"/>
<path d="M186.6 117.5L189.1 118.7L192.7 117.6L190.2 116.4Z" fill="#3e26a8" stroke-opacity=".35"/>
<path d="M99.5 114L102.1 115.2L105.6 114.2L103.1 113Z" fill="#3e26a8" stroke-opacity=".25"/>
<path d="M180.6 117.3L183.1 118.5L186.6 117.5L184.1 116.3Z" fill="#3e26a8" stroke-opacity=".32"/>
<path d="M93.5 113.9L96 115L99.5 114L97 112.8Z" fill="#3e26a8" stroke-opacity=".27"/>
<path d="M174.6 117.2L177.1 118.3L180.6 117.3L178.1 116.1Z" fill="#3e26a8" stroke-opacity=".30"/>
<path d="M87.5 113.7L90 114.9L93.5 113.9L91 112.7Z" fill="#3e26a8" stroke-opacity=".28"/>
<path d="M168.5 117L171 118.2L174.6 117.2L172 116Z" fill="#3e26a8" stroke-opacity=".28"/>
<path d="M81.4 113.6L83.9 114.8L87.5 113.7L85 112.6Z" fill="#3e26a8" stroke-opacity=".28"/>
<path d="M162.5 116.8L165 118L168.5 117L166 115.8Z" fill="#3e26a8" stroke-opacity=".27"/>
<path d="M75.4 113.5L77.9 114.7L81.4 113.6L78.9 112.5Z" fill="#3e26a8" stroke-opacity=".29"/>
<path d="M156.4 116.7L158.9 117.8L162.5 116.8L160 115.7Z" fill="#3e26a8" stroke-opacity=".26"/>
<path d="M69.3 113.5L71.9 114.6L75.4 113.5L72.9 112.4Z" fill="#3e26a8" stroke-opacity=".29"/>
<path d="M150.4 116.5L152.9 117.7L156.4 116.7L153.9 115.5Z" fill="#3e26a8" stroke-opacity=".25"/>
<path d="M144.3 116.3L146.9 117.5L150.4 116.5L147.9 115.3Z" fill="#3e26a8" stroke-opacity=".24"/>
<path d="M138.3 116.2L140.8 117.3L144.3 116.3L141.8 115.2Z" fill="#3e26a8" stroke-opacity=".24"/>
<path d="M132.3 116L134.8 117.2L138.3 116.2L135.8 115Z" fill="#3e26a8" stroke-opacity=".24"/>
<path d="M126.2 115.8L128.7 117L132.3 116L129.8 114.8Z" fill="#3e26a8" stroke-opacity=".23"/>
<path d="M207.3 119.3L209.8 120.8L213.3 119.8L210.8 118.3Z" fill="#3e26a8" stroke-opacity=".75"/>
<path d="M120.2 115.7L122.7 116.8L126.2 115.8L123.7 114.7Z" fill="#3e26a8" stroke-opacity=".23"/>
<path d="M201.2 119.1L203.7 120.3L207.3 119.3L204.8 118Z" fill="#3e26a8" stroke-opacity=".44"/>
<path d="M114.1 115.5L116.7 116.6L120.2 115.7L117.7 114.5Z" fill="#3e26a8" stroke-opacity=".23"/>
<path d="M195.2 118.9L197.7 120.1L201.2 119.1L198.7 117.8Z" fill="#3e26a8" stroke-opacity=".38"/>
<path d="M108.1 115.3L110.6 116.5L114.1 115.5L111.6 114.3Z" fill="#3e26a8" stroke-opacity=".23"/>
<path d="M189.1 118.7L191.7 119.9L195.2 118.9L192.7 117.6Z" fill="#3e26a8" stroke-opacity=".35"/>
<path d="M102.1 115.2L104.6 116.3L108.1 115.3L105.6 114.2Z" fill="#3e26a8" stroke-opacity=".25"/>
<path d="M183.1 118.5L185.6 119.7L189.1 118.7L186.6 117.5Z" fill="#3e26a8" stroke-opacity=".32"/>
<path d="M96 115L98.5 116.2L102.1 115.2L99.5 114Z" fill="#3e26a8" stroke-opacity=".26"/>
<path d="M177.1 118.3L179.6 119.5L183.1 118.5L180.6 117.3Z" fill="#3e26a8" stroke-opacity=".29"/>
<path d="M90 114.9L92.5 116.1L96 115L93.5 113.9Z" fill="#3e26a8" stroke-opacity=".27"/>
<path d="M171 118.2L173.5 119.4L177.1 118.3L174.6 117.2Z" fill="#3e26a8" stroke-opacity=".28"/>
<path d="M83.9 114.8L86.5 115.9L90 114.9L87.5 113.7Z" fill="#3e26a8" stroke-opacity=".27"/>
<path d="M165 118L167.5 119.2L171 118.2L168.5 117Z" fill="#3e26a8" stroke-opacity=".27"/>
<path d="M77.9 114.7L80.4 115.8L83.9 114.8L81.4 113.6Z" fill="#3e26a8" stroke-opacity=".28"/>
<path d="M158.9 117.8L161.5 119L165 118L162.5 116.8Z" fill="#3e26a8" stroke-opacity=".26"/>
<path d="M71.9 114.6L74.4 115.7L77.9 114.7L75.4 113.5Z" fill="#3e26a8" stroke-opacity=".28"/>
<path d="M152.9 117.7L155.4 118.8L158.9 117.8L156.4 116.7Z" fill="#3e26a8" stroke-opacity=".25"/>
<path d="M146.9 117.5L149.4 118.7L152.9 117.7L150.4 116.5Z" fill="#3e26a8" stroke-opacity=".24"/>
<path d="M140.8 117.3L143.3 118.5L146.9 117.5L144.3 116.3Z" fill="#3e26a8" stroke-opacity=".24"/>
<path d="M134.8 117.2L137.3 118.3L140.8 117.3L138.3 116.2Z" fill="#3e26a8" stroke-opacity=".23"/>
<path d="M128.7 117L131.3 118.2L134.8 117.2L132.3 116Z" fill="#3e26a8" stroke-opacity=".23"/>
<path d="M122.7 116.8L125.2 118L128.7 117L126.2 115.8Z" fill="#3e26a8" stroke-opacity=".22"/>
<path d="M203.7 120.3L206.3 121.8L209.8 120.8L207.3 119.3Z" fill="#3e26a8" stroke-opacity=".65"/>
<path d="M116.7 116.6L119.2 117.8L122.7 116.8L120.2 115.7Z" fill="#3e26a8" stroke-opacity=".22"/>
<path d="M197.7 120.1L200.2 121.3L203.7 120.3L201.2 119.1Z" fill="#3e26a8" stroke-opacity=".39"/>
<path d="M110.6 116.5L113.1 117.6L116.7 116.6L114.1 115.5Z" fill="#3e26a8" stroke-opacity=".23"/>
<path d="M191.7 119.9L194.2 121.1L197.7 120.1L195.2 118.9Z" fill="#3e26a8" stroke-opacity=".34"/>
<path d="M104.6 116.3L107.1 117.5L110.6 116.5L108.1 115.3Z" fill="#3e26a8" stroke-opacity=".24"/>
<path d="M185.6 119.7L188.1 120.9L191.7 119.9L189.1 118.7Z" fill="#3e26a8" stroke-opacity=".31"/>
<path d="M98.5 116.2L101.1 117.3L104.6 116.3L102.1 115.2Z" fill="#3e26a8" stroke-opacity=".26"/>
<path d="M179.6 119.5L182.1 120.7L185.6 119.7L183.1 118.5Z" fill="#3e26a8" stroke-opacity=".29"/>
<path d="M92.5 116.1L95 117.2L98.5 116.2L96 115Z" fill="#3e26a8" stroke-opacity=".26"/>
<path d="M173.5 119.4L176.1 120.5L179.6 119.5L177.1 118.3Z" fill="#3e26a8" stroke-opacity=".27"/>
<path d="M86.5 115.9L89 117.1L92.5 116.1L90 114.9Z" fill="#3e26a8" stroke-opacity=".26"/>
<path d="M167.5 119.2L170 120.4L173.5 119.4L171 118.2Z" fill="#3e26a8" stroke-opacity=".26"/>
<path d="M80.4 115.8L82.9 117L86.5 115.9L83.9 114.8Z" fill="#3e26a8" stroke-opacity=".27"/>
<path d="M161.5 119L164 120.2L167.5 119.2L165 118Z" fill="#3e26a8" stroke-opacity=".25"/>
<path d="M74.4 115.7L76.9 116.9L80.4 115.8L77.9 114.7Z" fill="#3e26a8" stroke-opacity=".27"/>
<path d="M155.4 118.8L157.9 120L161.5 119L158.9 117.8Z" fill="#3e26a8" stroke-opacity=".24"/>
<path d="M149.4 118.7L151.9 119.8L155.4 118.8L152.9 117.7Z" fill="#3e26a8" stroke-opacity=".24"/>
<path d="M143.3 118.5L145.9 119.7L149.4 118.7L146.9 117.5Z" fill="#3e26a8" stroke-opacity=".23"/>
<path d="M137.3 118.3L139.8 119.5L143.3 118.5L140.8 117.3Z" fill="#3e26a8" stroke-opacity=".23"/>
<path d="M131.3 118.2L133.8 119.3L137.3 118.3L134.8 117.2Z" fill="#3e26a8" stroke-opacity=".23"/>
<path d="M125.2 118L127.7 119.1L131.3 118.2L128.7 117Z" fill="#3e26a8" stroke-opacity=".22"/>
<path d="M119.2 117.8L121.7 119L125.2 118L122.7 116.8Z" fill="#3e26a8" stroke-opacity=".22"/>
<path d="M200.2 121.3L202.7 122.7L206.3 121.8L203.7 120.3Z" fill="#3e26a8" stroke-opacity=".57"/>
<path d="M113.1 117.6L115.6 118.8L119.2 117.8L116.7 116.6Z" fill="#3e26a8" stroke-opacity=".22"/>
<path d="M194.2 121.1L196.7 122.3L200.2 121.3L197.7 120.1Z" fill="#3e26a8" stroke-opacity=".36"/>
<path d="M107.1 117.5L109.6 118.6L113.1 117.6L110.6 116.5Z" fill="#3e26a8" stroke-opacity=".24"/>
<path d="M188.1 120.9L190.6 122.1L194.2 121.1L191.7 119.9Z" fill="#3e26a8" stroke-opacity=".31"/>
<path d="M101.1 117.3L103.6 118.5L107.1 117.5L104.6 116.3Z" fill="#3e26a8" stroke-opacity=".25"/>
<path d="M182.1 120.7L184.6 121.9L188.1 120.9L185.6 119.7Z" fill="#3e26a8" stroke-opacity=".29"/>
<path d="M95 117.2L97.5 118.4L101.1 117.3L98.5 116.2Z" fill="#3e26a8" stroke-opacity=".26"/>
<path d="M176.1 120.5L178.6 121.7L182.1 120.7L179.6 119.5Z" fill="#3e26a8" stroke-opacity=".27"/>
<path d="M89 117.1L91.5 118.2L95 117.2L92.5 116.1Z" fill="#3e26a8" stroke-opacity=".26"/>
<path d="M170 120.4L172.5 121.5L176.1 120.5L173.5 119.4Z" fill="#3e26a8" stroke-opacity=".26"/>
<path d="M82.9 117L85.4 118.1L89 117.1L86.5 115.9Z" fill="#3e26a8" stroke-opacity=".26"/>
<path d="M164 120.2L166.5 121.3L170 120.4L167.5 119.2Z" fill="#3e26a8" stroke-opacity=".25"/>
<path d="M76.9 116.9L79.4 118L82.9 117L80.4 115.8Z" fill="#3e26a8" stroke-opacity=".26"/>
<path d="M157.9 120L160.4 121.2L164 120.2L161.5 119Z" fill="#3e26a8" stroke-opacity=".24"/>
<path d="M151.9 119.8L154.4 121L157.9 120L155.4 118.8Z" fill="#3e26a8" stroke-opacity=".23"/>
<path d="M145.9 119.7L148.4 120.8L151.9 119.8L149.4 118.7Z" fill="#3e26a8" stroke-opacity=".23"/>
<path d="M139.8 119.5L142.3 120.6L145.9 119.7L143.3 118.5Z" fill="#3e26a8" stroke-opacity=".23"/>
<path d="M133.8 119.3L136.3 120.5L139.8 119.5L137.3 118.3Z" fill="#3e26a8" stroke-opacity=".22"/>
<path d="M127.7 119.1L130.2 120.3L133.8 119.3L131.3 118.2Z" fill="#3e26a8" stroke-opacity=".22"/>
<path d="M121.7 119L124.2 120.1L127.7 119.1L125.2 118Z" fill="#3e26a8" stroke-opacity=".22"/>
<path d="M115.6 118.8L118.2 119.9L121.7 119L119.2 117.8Z" fill="#3e26a8" stroke-opacity=".22"/>
<path d="M196.7 122.3L199.2 123.7L202.7 122.7L200.2 121.3Z" fill="#3e26a8" stroke-opacity=".51"/>
<path d="M109.6 118.6L112.1 119.8L115.6 118.8L113.1 117.6Z" fill="#3e26a8" stroke-opacity=".23"/>
<path d="M190.6 122.1L193.2 123.3L196.7 122.3L194.2 121.1Z" fill="#3e26a8" stroke-opacity=".33"/>
<path d="M103.6 118.5L106.1 119.6L109.6 118.6L107.1 117.5Z" fill="#3e26a8" stroke-opacity=".25"/>
<path d="M184.6 121.9L187.1 123.1L190.6 122.1L188.1 120.9Z" fill="#3e26a8" stroke-opacity=".29"/>
<path d="M97.5 118.4L100 119.5L103.6 118.5L101.1 117.3Z" fill="#3e26a8" stroke-opacity=".25"/>
<path d="M178.6 121.7L181.1 122.9L184.6 121.9L182.1 120.7Z" fill="#3e26a8" stroke-opacity=".27"/>
<path d="M91.5 118.2L94 119.4L97.5 118.4L95 117.2Z" fill="#3e26a8" stroke-opacity=".25"/>
<path d="M172.5 121.5L175 122.7L178.6 121.7L176.1 120.5Z" fill="#3e26a8" stroke-opacity=".26"/>
<path d="M85.4 118.1L88 119.3L91.5 118.2L89 117.1Z" fill="#3e26a8" stroke-opacity=".25"/>
<path d="M166.5 121.3L169 122.5L172.5 121.5L170 120.4Z" fill="#3e26a8" stroke-opacity=".25"/>
<path d="M79.4 118L81.9 119.2L85.4 118.1L82.9 117Z" fill="#3e26a8" stroke-opacity=".26"/>
<path d="M160.4 121.2L163 122.3L166.5 121.3L164 120.2Z" fill="#3e26a8" stroke-opacity=".24"/>
<path d="M154.4 121L156.9 122.2L160.4 121.2L157.9 120Z" fill="#3e26a8" stroke-opacity=".23"/>
<path d="M148.4 120.8L150.9 122L154.4 121L151.9 119.8Z" fill="#3e26a8" stroke-opacity=".23"/>
<path d="M142.3 120.6L144.8 121.8L148.4 120.8L145.9 119.7Z" fill="#3e26a8" stroke-opacity=".22"/>
<path d="M136.3 120.5L138.8 121.6L142.3 120.6L139.8 119.5Z" fill="#3e26a8" stroke-opacity=".22"/>
<path d="M130.2 120.3L132.8 121.4L136.3 120.5L133.8 119.3Z" fill="#3e26a8" stroke-opacity=".22"/>
<path d="M124.2 120.1L126.7 121.3L130.2 120.3L127.7 119.1Z" fill="#3e26a8" stroke-opacity=".21"/>
<path d="M118.2 119.9L120.7 121.1L124.2 120.1L121.7 119Z" fill="#3e26a8" stroke-opacity=".22"/>
<path d="M112.1 119.8L114.6 120.9L118.2 119.9L115.6 118.8Z" fill="#3e26a8" stroke-opacity=".23"/>
<path d="M193.2 123.3L195.7 124.6L199.2 123.7L196.7 122.3Z" fill="#3e26a8" stroke-opacity=".46"/>
<path d="M106.1 119.6L108.6 120.8L112.1 119.8L109.6 118.6Z" fill="#3e26a8" stroke-opacity=".24"/>
<path d="M187.1 123.1L189.6 124.3L193.2 123.3L190.6 122.1Z" fill="#3e26a8" stroke-opacity=".30"/>
<path d="M100 119.5L102.6 120.7L106.1 119.6L103.6 118.5Z" fill="#3e26a8" stroke-opacity=".25"/>
<path d="M181.1 122.9L183.6 124.1L187.1 123.1L184.6 121.9Z" fill="#3e26a8" stroke-opacity=".27"/>
<path d="M94 119.4L96.5 120.5L100 119.5L97.5 118.4Z" fill="#3e26a8" stroke-opacity=".25"/>
<path d="M175 122.7L177.6 123.9L181.1 122.9L178.6 121.7Z" fill="#3e26a8" stroke-opacity=".26"/>
<path d="M88 119.3L90.5 120.4L94 119.4L91.5 118.2Z" fill="#3e26a8" stroke-opacity=".25"/>
<path d="M169 122.5L171.5 123.7L175 122.7L172.5 121.5Z" fill="#3e26a8" stroke-opacity=".24"/>
<path d="M81.9 119.2L84.4 120.3L88 119.3L85.4 118.1Z" fill="#3e26a8" stroke-opacity=".25"/>
<path d="M163 122.3L165.5 123.5L169 122.5L166.5 121.3Z" fill="#3e26a8" stroke-opacity=".24"/>
<path d="M156.9 122.2L159.4 123.3L163 122.3L160.4 121.2Z" fill="#3e26a8" stroke-opacity=".23"/>
<path d="M150.9 122L153.4 123.1L156.9 122.2L154.4 121Z" fill="#3e26a8" stroke-opacity=".23"/>
<path d="M144.8 121.8L147.4 123L150.9 122L148.4 120.8Z" fill="#3e26a8" stroke-opacity=".22"/>
<path d="M138.8 121.6L141.3 122.8L144.8 121.8L142.3 120.6Z" fill="#3e26a8" stroke-opacity=".22"/>
<path d="M132.8 121.4L135.3 122.6L138.8 121.6L136.3 120.5Z" fill="#3e26a8" stroke-opacity=".21"/>
<path d="M126.7 121.3L129.2 122.4L132.8 121.4L130.2 120.3Z" fill="#3e26a8" stroke-opacity=".21"/>
<path d="M120.7 121.1L123.2 122.2L126.7 121.3L124.2 120.1Z" fill="#3e26a8" stroke-opacity=".21"/>
<path d="M114.6 120.9L117.1 122.1L120.7 121.1L118.2 119.9Z" fill="#3e26a8" stroke-opacity=".22"/>
<path d="M108.6 120.8L111.1 121.9L114.6 120.9L112.1 119.8Z" fill="#3e26a8" stroke-opacity=".24"/>
<path d="M189.6 124.3L192.2 125.6L195.7 124.6L193.2 123.3Z" fill="#3e26a8" stroke-opacity=".42"/>
<path d="M102.6 120.7L105.1 121.8L108.6 120.8L106.1 119.6Z" fill="#3e26a8" stroke-opacity=".24"/>
<path d="M183.6 124.1L186.1 125.3L189.6 124.3L187.1 123.1Z" fill="#3e26a8" stroke-opacity=".28"/>
<path d="M96.5 120.5L99 121.7L102.6 120.7L100 119.5Z" fill="#3e26a8" stroke-opacity=".24"/>
<path d="M177.6 123.9L180.1 125.1L183.6 124.1L181.1 122.9Z" fill="#3e26a8" stroke-opacity=".26"/>
<path d="M90.5 120.4L93 121.5L96.5 120.5L94 119.4Z" fill="#3e26a8" stroke-opacity=".24"/>
<path d="M171.5 123.7L174 124.9L177.6 123.9L175 122.7Z" fill="#3e26a8" stroke-opacity=".24"/>
<path d="M84.4 120.3L86.9 121.4L90.5 120.4L88 119.3Z" fill="#3e26a8" stroke-opacity=".25"/>
<path d="M165.5 123.5L168 124.7L171.5 123.7L169 122.5Z" fill="#3e26a8" stroke-opacity=".24"/>
<path d="M159.4 123.3L161.9 124.5L165.5 123.5L163 122.3Z" fill="#3e26a8" stroke-opacity=".23"/>
<path d="M153.4 123.1L155.9 124.3L159.4 123.3L156.9 122.2Z" fill="#3e26a8" stroke-opacity=".22"/>
<path d="M147.4 123L149.9 124.1L153.4 123.1L150.9 122Z" fill="#3e26a8" stroke-opacity=".22"/>
<path d="M141.3 122.8L143.8 123.9L147.4 123L144.8 121.8Z" fill="#3e26a8" stroke-opacity=".22"/>
<path d="M135.3 122.6L137.8 123.8L141.3 122.8L138.8 121.6Z" fill="#3e26a8" stroke-opacity=".21"/>
<path d="M129.2 122.4L131.7 123.6L135.3 122.6L132.8 121.4Z" fill="#3e26a8" stroke-opacity=".21"/>
<path d="M123.2 122.2L125.7 123.4L129.2 122.4L126.7 121.3Z" fill="#3e26a8" stroke-opacity=".21"/>
<path d="M117.1 122.1L119.7 123.2L123.2 122.2L120.7 121.1Z" fill="#3e26a8" stroke-opacity=".22"/>
<path d="M111.1 121.9L113.6 123.1L117.1 122.1L114.6 120.9Z" fill="#3e26a8" stroke-opacity=".23"/>
<path d="M105.1 121.8L107.6 122.9L111.1 121.9L108.6 120.8Z" fill="#3e26a8" stroke-opacity=".24"/>
<path d="M186.1 125.3L188.6 126.5L192.2 125.6L189.6 124.3Z" fill="#3e26a8" stroke-opacity=".39"/>
<path d="M99 121.7L101.5 122.8L105.1 121.8L102.6 120.7Z" fill="#3e26a8" stroke-opacity=".24"/>
<path d="M180.1 125.1L182.6 126.2L186.1 125.3L183.6 124.1Z" fill="#3e26a8" stroke-opacity=".27"/>
<path d="M93 121.5L95.5 122.7L99 121.7L96.5 120.5Z" fill="#3e26a8" stroke-opacity=".24"/>
<path d="M174 124.9L176.5 126L180.1 125.1L177.6 123.9Z" fill="#3e26a8" stroke-opacity=".25"/>
<path d="M86.9 121.4L89.5 122.6L93 121.5L90.5 120.4Z" fill="#3e26a8" stroke-opacity=".24"/>
<path d="M168 124.7L170.5 125.8L174 124.9L171.5 123.7Z" fill="#3e26a8" stroke-opacity=".24"/>
<path d="M161.9 124.5L164.5 125.6L168 124.7L165.5 123.5Z" fill="#3e26a8" stroke-opacity=".23"/>
<path d="M155.9 124.3L158.4 125.5L161.9 124.5L159.4 123.3Z" fill="#3e26a8" stroke-opacity=".22"/>
<path d="M149.9 124.1L152.4 125.3L155.9 124.3L153.4 123.1Z" fill="#3e26a8" stroke-opacity=".22"/>
<path d="M143.8 123.9L146.3 125.1L149.9 124.1L147.4 123Z" fill="#3e26a8" stroke-opacity=".21"/>
<path d="M137.8 123.8L140.3 124.9L143.8 123.9L141.3 122.8Z" fill="#3e26a8" stroke-opacity=".21"/>
<path d="M131.7 123.6L134.3 124.7L137.8 123.8L135.3 122.6Z" fill="#3e26a8" stroke-opacity=".21"/>
<path d="M125.7 123.4L128.2 124.6L131.7 123.6L129.2 122.4Z" fill="#3e26a8" stroke-opacity=".21"/>
<path d="M119.7 123.2L122.2 124.4L125.7 123.4L123.2 122.2Z" fill="#3e26a8" stroke-opacity=".22"/>
<path d="M113.6 123.1L116.1 124.2L119.7 123.2L117.1 122.1Z" fill="#3e26a8" stroke-opacity=".23"/>
<path d="M107.6 122.9L110.1 124.1L113.6 123.1L111.1 121.9Z" fill="#3e26a8" stroke-opacity=".23"/>
<path d="M101.5 122.8L104.1 124L107.6 122.9L105.1 121.8Z" fill="#3e26a8" stroke-opacity=".23"/>
<path d="M182.6 126.2L185.1 127.5L188.6 126.5L186.1 125.3Z" fill="#3e26a8" stroke-opacity=".37"/>
<path d="M95.5 122.7L98 123.8L101.5 122.8L99 121.7Z" fill="#3e26a8" stroke-opacity=".23"/>
<path d="M176.5 126L179.1 127.2L182.6 126.2L180.1 125.1Z" fill="#3e26a8" stroke-opacity=".26"/>
<path d="M89.5 122.6L92 123.7L95.5 122.7L93 121.5Z" fill="#3e26a8" stroke-opacity=".24"/>
<path d="M170.5 125.8L173 127L176.5 126L174 124.9Z" fill="#3e26a8" stroke-opacity=".24"/>
<path d="M164.5 125.6L167 126.8L170.5 125.8L168 124.7Z" fill="#3e26a8" stroke-opacity=".23"/>
<path d="M158.4 125.5L160.9 126.6L164.5 125.6L161.9 124.5Z" fill="#3e26a8" stroke-opacity=".22"/>
<path d="M152.4 125.3L154.9 126.4L158.4 125.5L155.9 124.3Z" fill="#3e26a8" stroke-opacity=".22"/>
<path d="M146.3 125.1L148.9 126.2L152.4 125.3L149.9 124.1Z" fill="#3e26a8" stroke-opacity=".21"/>
<path d="M140.3 124.9L142.8 126.1L146.3 125.1L143.8 123.9Z" fill="#3e26a8" stroke-opacity=".21"/>
<path d="M134.3 124.7L136.8 125.9L140.3 124.9L137.8 123.8Z" fill="#3e26a8" stroke-opacity=".21"/>
<path d="M128.2 124.6L130.7 125.7L134.3 124.7L131.7 123.6Z" fill="#3e26a8" stroke-opacity=".21"/>
<path d="M122.2 124.4L124.7 125.5L128.2 124.6L125.7 123.4Z" fill="#3e26a8" stroke-opacity=".22"/>
<path d="M116.1 124.2L118.7 125.4L122.2 124.4L119.7 123.2Z" fill="#3e26a8" stroke-opacity=".22"/>
<path d="M110.1 124.1L112.6 125.2L116.1 124.2L113.6 123.1Z" fill="#3e26a8" stroke-opacity=".23"/>
<path d="M104.1 124L106.6 125.1L110.1 124.1L107.6 122.9Z" fill="#3e26a8" stroke-opacity=".23"/>
<path d="M98 123.8L100.5 125L104.1 124L101.5 122.8Z" fill="#3e26a8" stroke-opacity=".23"/>
<path d="M179.1 127.2L181.6 128.5L185.1 127.5L182.6 126.2Z" fill="#3e26a8" stroke-opacity=".35"/>
<path d="M92 123.7L94.5 124.8L98 123.8L95.5 122.7Z" fill="#3e26a8" stroke-opacity=".23"/>
<path d="M173 127L175.5 128.2L179.1 127.2L176.5 126Z" fill="#3e26a8" stroke-opacity=".25"/>
<path d="M167 126.8L169.5 128L173 127L170.5 125.8Z" fill="#3e26a8" stroke-opacity=".23"/>
<path d="M160.9 126.6L163.4 127.8L167 126.8L164.5 125.6Z" fill="#3e26a8" stroke-opacity=".22"/>
<path d="M154.9 126.4L157.4 127.6L160.9 126.6L158.4 125.5Z" fill="#3e26a8" stroke-opacity=".22"/>
<path d="M148.9 126.2L151.4 127.4L154.9 126.4L152.4 125.3Z" fill="#3e26a8" stroke-opacity=".21"/>
<path d="M142.8 126.1L145.3 127.2L148.9 126.2L146.3 125.1Z" fill="#3e26a8" stroke-opacity=".21"/>
<path d="M136.8 125.9L139.3 127L142.8 126.1L140.3 124.9Z" fill="#3e26a8" stroke-opacity=".20"/>
<path d="M130.7 125.7L133.2 126.9L136.8 125.9L134.3 124.7Z" fill="#3e26a8" stroke-opacity=".21"/>
<path d="M124.7 125.5L127.2 126.7L130.7 125.7L128.2 124.6Z" fill="#3e26a8" stroke-opacity=".21"/>
<path d="M118.7 125.4L121.2 126.5L124.7 125.5L122.2 124.4Z" fill="#3e26a8" stroke-opacity=".22"/>
<path d="M112.6 125.2L115.1 126.4L118.7 125.4L116.1 124.2Z" fill="#3e26a8" stroke-opacity=".22"/>
<path d="M106.6 125.1L109.1 126.2L112.6 125.2L110.1 124.1Z" fill="#3e26a8" stroke-opacity=".22"/>
<path d="M100.5 125L103 126.1L106.6 125.1L104.1 124Z" fill="#3e26a8" stroke-opacity=".23"/>
<path d="M94.5 124.8L97 126L100.5 125L98 123.8Z" fill="#3e26a8" stroke-opacity=".23"/>
<path d="M175.5 128.2L178 129.4L181.6 128.5L179.1 127.2Z" fill="#3e26a8" stroke-opacity=".33"/>
<path d="M169.5 128L172 129.2L175.5 128.2L173 127Z" fill="#3e26a8" stroke-opacity=".24"/>
<path d="M163.4 127.8L166 128.9L169.5 128L167 126.8Z" fill="#3e26a8" stroke-opacity=".22"/>
<path d="M157.4 127.6L159.9 128.7L163.4 127.8L160.9 126.6Z" fill="#3e26a8" stroke-opacity=".22"/>
<path d="M151.4 127.4L153.9 128.6L157.4 127.6L154.9 126.4Z" fill="#3e26a8" stroke-opacity=".21"/>
<path d="M145.3 127.2L147.8 128.4L151.4 127.4L148.9 126.2Z" fill="#3e26a8" stroke-opacity=".21"/>
<path d="M139.3 127L141.8 128.2L145.3 127.2L142.8 126.1Z" fill="#3e26a8" stroke-opacity=".20"/>
<path d="M133.2 126.9L135.8 128L139.3 127L136.8 125.9Z" fill="#3e26a8" stroke-opacity=".20"/>
<path d="M127.2 126.7L129.7 127.8L133.2 126.9L130.7 125.7Z" fill="#3e26a8" stroke-opacity=".21"/>
<path d="M121.2 126.5L123.7 127.7L127.2 126.7L124.7 125.5Z" fill="#3e26a8" stroke-opacity=".22"/>
<path d="M115.1 126.4L117.6 127.5L121.2 126.5L118.7 125.4Z" fill="#3e26a8" stroke-opacity=".22"/>
<path d="M109.1 126.2L111.6 127.4L115.1 126.4L112.6 125.2Z" fill="#3e26a8" stroke-opacity=".22"/>
<path d="M103 126.1L105.6 127.2L109.1 126.2L106.6 125.1Z" fill="#3e26a8" stroke-opacity=".22"/>
<path d="M97 126L99.5 127.1L103 126.1L100.5 125Z" fill="#3e26a8" stroke-opacity=".22"/>
<path d="M172 129.2L174.5 130.4L178 129.4L175.5 128.2Z" fill="#3e26a8" stroke-opacity=".32"/>
<path d="M166 128.9L168.5 130.1L172 129.2L169.5 128Z" fill="#3e26a8" stroke-opacity=".23"/>
<path d="M159.9 128.7L162.4 129.9L166 128.9L163.4 127.8Z" fill="#3e26a8" stroke-opacity=".22"/>
<path d="M153.9 128.6L156.4 129.7L159.9 128.7L157.4 127.6Z" fill="#3e26a8" stroke-opacity=".21"/>
<path d="M147.8 128.4L150.4 129.5L153.9 128.6L151.4 127.4Z" fill="#3e26a8" stroke-opacity=".21"/>
<path d="M141.8 128.2L144.3 129.3L147.8 128.4L145.3 127.2Z" fill="#3e26a8" stroke-opacity=".20"/>
<path d="M135.8 128L138.3 129.2L141.8 128.2L139.3 127Z" fill="#3e26a8" stroke-opacity=".20"/>
<path d="M129.7 127.8L132.2 129L135.8 128L133.2 126.9Z" fill="#3e26a8" stroke-opacity=".21"/>
<path d="M123.7 127.7L126.2 128.8L129.7 127.8L127.2 126.7Z" fill="#3e26a8" stroke-opacity=".22"/>
<path d="M117.6 127.5L120.2 128.7L123.7 127.7L121.2 126.5Z" fill="#3e26a8" stroke-opacity=".22"/>
<path d="M111.6 127.4L114.1 128.5L117.6 127.5L115.1 126.4Z" fill="#3e26a8" stroke-opacity=".22"/>
<path d="M105.6 127.2L108.1 128.4L111.6 127.4L109.1 126.2Z" fill="#3e26a8" stroke-opacity=".22"/>
<path d="M99.5 127.1L102 128.3L105.6 127.2L103 126.1Z" fill="#3e26a8" stroke-opacity=".22"/>
<path d="M168.5 130.1L171 131.3L174.5 130.4L172 129.2Z" fill="#3e26a8" stroke-opacity=".30"/>
<path d="M162.4 129.9L165 131.1L168.5 130.1L166 128.9Z" fill="#3e26a8" stroke-opacity=".23"/>
<path d="M156.4 129.7L158.9 130.9L162.4 129.9L159.9 128.7Z" fill="#3e26a8" stroke-opacity=".22"/>
<path d="M150.4 129.5L152.9 130.7L156.4 129.7L153.9 128.6Z" fill="#3e26a8" stroke-opacity=".21"/>
<path d="M144.3 129.3L146.8 130.5L150.4 129.5L147.8 128.4Z" fill="#3e26a8" stroke-opacity=".20"/>
<path d="M138.3 129.2L140.8 130.3L144.3 129.3L141.8 128.2Z" fill="#3e26a8" stroke-opacity=".20"/>
<path d="M132.2 129L134.7 130.1L138.3 129.2L135.8 128Z" fill="#3e26a8" stroke-opacity=".21"/>
<path d="M126.2 128.8L128.7 130L132.2 129L129.7 127.8Z" fill="#3e26a8" stroke-opacity=".21"/>
<path d="M120.2 128.7L122.7 129.8L126.2 128.8L123.7 127.7Z" fill="#3e26a8" stroke-opacity=".22"/>
<path d="M114.1 128.5L116.6 129.7L120.2 128.7L117.6 127.5Z" fill="#3e26a8" stroke-opacity=".21"/>
<path d="M108.1 128.4L110.6 129.5L114.1 128.5L111.6 127.4Z" fill="#3e26a8" stroke-opacity=".22"/>
<path d="M102 128.3L104.5 129.4L108.1 128.4L105.6 127.2Z" fill="#3e26a8" stroke-opacity=".22"/>
<path d="M165 131.1L167.5 132.3L171 131.3L168.5 130.1Z" fill="#3e26a8" stroke-opacity=".29"/>
<path d="M158.9 130.9L161.4 132.1L165 131.1L162.4 129.9Z" fill="#3e26a8" stroke-opacity=".22"/>
<path d="M152.9 130.7L155.4 131.8L158.9 130.9L156.4 129.7Z" fill="#3e26a8" stroke-opacity=".21"/>
<path d="M146.8 130.5L149.3 131.7L152.9 130.7L150.4 129.5Z" fill="#3e26a8" stroke-opacity=".20"/>
<path d="M140.8 130.3L143.3 131.5L146.8 130.5L144.3 129.3Z" fill="#3e26a8" stroke-opacity=".20"/>
<path d="M134.7 130.1L137.3 131.3L140.8 130.3L138.3 129.2Z" fill="#3e26a8" stroke-opacity=".21"/>
<path d="M128.7 130L131.2 131.1L134.7 130.1L132.2 129Z" fill="#3e26a8" stroke-opacity=".21"/>
<path d="M122.7 129.8L125.2 131L128.7 130L126.2 128.8Z" fill="#3e26a8" stroke-opacity=".21"/>
<path d="M116.6 129.7L119.1 130.8L122.7 129.8L120.2 128.7Z" fill="#3e26a8" stroke-opacity=".21"/>
<path d="M110.6 129.5L113.1 130.7L116.6 129.7L114.1 128.5Z" fill="#3e26a8" stroke-opacity=".21"/>
<path d="M104.5 129.4L107.1 130.5L110.6 129.5L108.1 128.4Z" fill="#3e26a8" stroke-opacity=".21"/>
<path d="M161.4 132.1L163.9 133.3L167.5 132.3L165 131.1Z" fill="#3e26a8" stroke-opacity=".29"/>
<path d="M155.4 131.8L157.9 133L161.4 132.1L158.9 130.9Z" fill="#3e26a8" stroke-opacity=".22"/>
<path d="M149.3 131.7L151.9 132.8L155.4 131.8L152.9 130.7Z" fill="#3e26a8" stroke-opacity=".21"/>
<path d="M143.3 131.5L145.8 132.6L149.3 131.7L146.8 130.5Z" fill="#3e26a8" stroke-opacity=".20"/>
<path d="M137.3 131.3L139.8 132.4L143.3 131.5L140.8 130.3Z" fill="#3e26a8" stroke-opacity=".21"/>
<path d="M131.2 131.1L133.7 132.3L137.3 131.3L134.7 130.1Z" fill="#3e26a8" stroke-opacity=".21"/>
<path d="M125.2 131L127.7 132.1L131.2 131.1L128.7 130Z" fill="#3e26a8" stroke-opacity=".21"/>
<path d="M119.1 130.8L121.7 132L125.2 131L122.7 129.8Z" fill="#3e26a8" stroke-opacity=".21"/>
<path d="M113.1 130.7L115.6 131.8L119.1 130.8L116.6 129.7Z" fill="#3e26a8" stroke-opacity=".21"/>
<path d="M107.1 130.5L109.6 131.7L113.1 130.7L110.6 129.5Z" fill="#3e26a8" stroke-opacity=".21"/>
<path d="M157.9 133L160.4 134.2L163.9 133.3L161.4 132.1Z" fill="#3e26a8" stroke-opacity=".28"/>
<path d="M151.9 132.8L154.4 134L157.9 133L155.4 131.8Z" fill="#3e26a8" stroke-opacity=".21"/>
<path d="M145.8 132.6L148.3 133.8L151.9 132.8L149.3 131.7Z" fill="#3e26a8" stroke-opacity=".21"/>
<path d="M139.8 132.4L142.3 133.6L145.8 132.6L143.3 131.5Z" fill="#3e26a8" stroke-opacity=".21"/>
<path d="M133.7 132.3L136.2 133.4L139.8 132.4L137.3 131.3Z" fill="#3e26a8" stroke-opacity=".21"/>
<path d="M127.7 132.1L130.2 133.3L133.7 132.3L131.2 131.1Z" fill="#3e26a8" stroke-opacity=".21"/>
<path d="M121.7 132L124.2 133.1L127.7 132.1L125.2 131Z" fill="#3e26a8" stroke-opacity=".21"/>
<path d="M115.6 131.8L118.1 132.9L121.7 132L119.1 130.8Z" fill="#3e26a8" stroke-opacity=".21"/>
<path d="M109.6 131.7L112.1 132.8L115.6 131.8L113.1 130.7Z" fill="#3e26a8" stroke-opacity=".21"/>
<path d="M154.4 134L156.9 135.2L160.4 134.2L157.9 133Z" fill="#3e26a8" stroke-opacity=".27"/>
<path d="M148.3 133.8L150.8 134.9L154.4 134L151.9 132.8Z" fill="#3e26a8" stroke-opacity=".21"/>
<path d="M142.3 133.6L144.8 134.7L148.3 133.8L145.8 132.6Z" fill="#3e26a8" stroke-opacity=".21"/>
<path d="M136.2 133.4L138.8 134.6L142.3 133.6L139.8 132.4Z" fill="#3e26a8" stroke-opacity=".21"/>
<path d="M130.2 133.3L132.7 134.4L136.2 133.4L133.7 132.3Z" fill="#3e26a8" stroke-opacity=".21"/>
<path d="M124.2 133.1L126.7 134.2L130.2 133.3L127.7 132.1Z" fill="#3e26a8" stroke-opacity=".20"/>
<path d="M118.1 132.9L120.6 134.1L124.2 133.1L121.7 132Z" fill="#3e26a8" stroke-opacity=".20"/>
<path d="M112.1 132.8L114.6 133.9L118.1 132.9L115.6 131.8Z" fill="#3e26a8" stroke-opacity=".20"/>
<path d="M150.8 134.9L153.4 136.1L156.9 135.2L154.4 134Z" fill="#3e26a8" stroke-opacity=".27"/>
<path d="M144.8 134.7L147.3 135.9L150.8 134.9L148.3 133.8Z" fill="#3e26a8" stroke-opacity=".21"/>
<path d="M138.8 134.6L141.3 135.7L144.8 134.7L142.3 133.6Z" fill="#3e26a8" stroke-opacity=".21"/>
<path d="M132.7 134.4L135.2 135.5L138.8 134.6L136.2 133.4Z" fill="#3e26a8" stroke-opacity=".20"/>
<path d="M126.7 134.2L129.2 135.4L132.7 134.4L130.2 133.3Z" fill="#3e26a8" stroke-opacity=".20"/>
<path d="M120.6 134.1L123.2 135.2L126.7 134.2L124.2 133.1Z" fill="#3e26a8" stroke-opacity=".20"/>
<path d="M114.6 133.9L117.1 135.1L120.6 134.1L118.1 132.9Z" fill="#3e26a8" stroke-opacity=".20"/>
<path d="M147.3 135.9L149.8 137.1L153.4 136.1L150.8 134.9Z" fill="#3e26a8" stroke-opacity=".26"/>
<path d="M141.3 135.7L143.8 136.9L147.3 135.9L144.8 134.7Z" fill="#3e26a8" stroke-opacity=".21"/>
<path d="M135.2 135.5L137.8 136.7L141.3 135.7L138.8 134.6Z" fill="#3e26a8" stroke-opacity=".20"/>
<path d="M129.2 135.4L131.7 136.5L135.2 135.5L132.7 134.4Z" fill="#3e26a8" stroke-opacity=".20"/>
<path d="M123.2 135.2L125.7 136.4L129.2 135.4L126.7 134.2Z" fill="#3e26a8" stroke-opacity=".20"/>
<path d="M117.1 135.1L119.6 136.2L123.2 135.2L120.6 134.1Z" fill="#3e26a8" stroke-opacity=".20"/>
<path d="M143.8 136.9L146.3 138.1L149.8 137.1L147.3 135.9Z" fill="#3e26a8" stroke-opacity=".25"/>
<path d="M137.8 136.7L140.3 137.8L143.8 136.9L141.3 135.7Z" fill="#3e26a8" stroke-opacity=".20"/>
<path d="M131.7 136.5L134.2 137.7L137.8 136.7L135.2 135.5Z" fill="#3e26a8" stroke-opacity=".20"/>
<path d="M125.7 136.4L128.2 137.5L131.7 136.5L129.2 135.4Z" fill="#3e26a8" stroke-opacity=".20"/>
<path d="M119.6 136.2L122.1 137.3L125.7 136.4L123.2 135.2Z" fill="#3e26a8" stroke-opacity=".20"/>
<path d="M140.3 137.8L142.8 139L146.3 138.1L143.8 136.9Z" fill="#3e26a8" stroke-opacity=".24"/>
<path d="M134.2 137.7L136.7 138.8L140.3 137.8L137.8 136.7Z" fill="#3e26a8" stroke-opacity=".20"/>
<path d="M128.2 137.5L130.7 138.6L134.2 137.7L131.7 136.5Z" fill="#3e26a8" stroke-opacity=".19"/>
<path d="M122.1 137.3L124.7 138.5L128.2 137.5L125.7 136.4Z" fill="#3e26a8" stroke-opacity=".19"/>
<path d="M136.7 138.8L139.3 140L142.8 139L140.3 137.8Z" fill="#3e26a8" stroke-opacity=".22"/>
<path d="M130.7 138.6L133.2 139.8L136.7 138.8L134.2 137.7Z" fill="#3e26a8" stroke-opacity=".19"/>
<path d="M124.7 138.5L127.2 139.6L130.7 138.6L128.2 137.5Z" fill="#3e26a8" stroke-opacity=".19"/>
<path d="M133.2 139.8L135.7 140.9L139.3 140L136.7 138.8Z" fill="#3e26a8" stroke-opacity=".21"/>
<path d="M127.2 139.6L129.7 140.8L133.2 139.8L130.7 138.6Z" fill="#3e26a8" stroke-opacity=".19"/>
<path d="M129.7 140.8L132.2 141.9L135.7 140.9L133.2 139.8Z" fill="#3e26a8" stroke-opacity=".19"/>
</g>
<g font-size="9.3" fill="#1a1a1a" stroke="#1a1a1a" stroke-width=".15">
<text x="40.1" y="124.3" text-anchor="end">5</text>
<text x="40.1" y="107.3" text-anchor="end">15</text>
<text x="40.1" y="90.4" text-anchor="end">25</text>
<text x="40.1" y="73.4" text-anchor="end">35</text>
<text x="40.1" y="56.4" text-anchor="end">45</text>
<text x="40.1" y="39.5" text-anchor="end">55</text>
<text x="39.6" y="134.5" text-anchor="end">0</text>
<text x="61.2" y="144.2" text-anchor="end">0.25</text>
<text x="82.9" y="154" text-anchor="end">0.5</text>
<text x="104.5" y="163.8" text-anchor="end">0.75</text>
<text x="126.2" y="173.5" text-anchor="end">1</text>
<text x="137.5" y="173.9">0.1</text>
<text x="165.7" y="166.4">0.3</text>
<text x="193.9" y="158.9">0.5</text>
<text x="222.1" y="151.4">0.7</text>
<text x="250.3" y="143.8">0.9</text>
</g>
<g fill="#1a1a1a" stroke="#1a1a1a" stroke-width=".15">
<text transform="translate(21.4 106.6) rotate(-90)" font-size="11.2"><tspan x="0" font-style="italic" font-size="12">σ</tspan><tspan x="6.8" font-style="italic" font-size="8.3" dy="3.2">θ</tspan><tspan x="9.2" font-style="italic" font-size="8.3" dy="-8.6">f</tspan><tspan x="20.1" dy="5.4">[MPa]</tspan></text>
<text x="69.2" y="172" font-size="11.2"><tspan font-style="italic" font-size="12">λ</tspan><tspan font-size="8.6" dy="4.6" dx=".6">c</tspan></text>
<text x="187.2" y="175.8" font-style="italic" font-size="11.2"><tspan>h</tspan><tspan font-size="8.6" dy="4.4" dx=".6" font-style="normal">2</tspan><tspan dy="-4.4" dx=".3">/H</tspan></text>
</g>
<path d="M326.6 102.2L439.5 72.1M439.5 72.1L526.1 111.1M326.6 81L439.5 50.9M439.5 50.9L526.1 89.9M326.6 59.8L439.5 29.7M439.5 29.7L526.1 68.7M348.2 133.2L461.1 103.1M461.1 103.1L461.1 18.3M354.8 115.9L441.4 154.9M354.8 115.9L354.8 31M369.9 142.9L482.8 112.9M482.8 112.9L482.8 28M383 108.4L469.6 147.4M383 108.4L383 23.5M391.6 152.7L504.4 122.6M504.4 122.6L504.4 37.8M411.2 100.9L497.8 139.9M411.2 100.9L411.2 16" stroke="#e0e0e0" stroke-width=".6" fill="none"/>
<path d="M326.6 38.6L326.6 123.4L413.2 162.4L526.1 132.3L526.1 47.5L439.5 8.5L326.6 38.6M326.6 123.4L439.5 93.4L526.1 132.3M439.5 93.4L439.5 8.5M326.6 123.4L323.9 122.2M326.6 102.2L323.9 101M326.6 81L323.9 79.7M326.6 59.8L323.9 58.5M326.6 38.6L323.9 37.3M326.6 123.4L323.7 124.2M413.2 162.4L415.9 163.6M348.2 133.2L345.4 133.9M441.4 154.9L444.1 156.1M369.9 142.9L367 143.7M469.6 147.4L472.4 148.6M391.6 152.7L388.7 153.4M497.8 139.9L500.6 141.1M413.2 162.4L410.3 163.2M526.1 132.3L528.8 133.6" stroke="#262626" stroke-width=".9" fill="none"/>
<path d="M326.6 60.2L329 64.2L331.3 68L333.7 71.6L336 75.1L338.4 78.4L340.8 81.5L343.1 84.3L345.5 87L347.9 89.5L350.2 92L352.6 94.5L354.9 96.9L357.3 99.3L359.7 101.7L362 104L364.4 106.2L366.8 108.3L369.1 110.4L371.5 112.5L373.8 114.5L376.2 116.5L378.6 118.5L380.9 120.5L383.3 122.4L385.6 124.1L388 125.8L390.4 127.4L392.7 129L395.1 130.6L397.5 132.2L399.8 133.8L402.2 135.4L404.5 137L404.5 137L408 135L411.4 133.1L414.8 131L418.2 128.9L421.6 126.8L425.1 124.6L428.5 122.4L431.9 120.2L435.3 118L438.7 115.8L442.2 113.6L445.6 111.4L449 109.2L452.4 107L455.8 104.7L459.3 102.5L462.7 100.2L466.1 98L469.5 95.8L472.9 93.6L476.4 91.5L479.8 89.5L483.2 87.4L486.6 85.3L490 83.2L493.5 81.3L496.9 79.3L500.3 77.5L503.7 75.6L507.1 73.9L510.6 72.1L514 70.4L517.4 68.7L517.4 68.7L515 67.6L512.7 66.4L510.3 65.3L507.9 64.2L505.6 63L503.2 61.9L500.9 60.7L498.5 59.6L496.1 58.4L493.8 57.3L491.4 56.2L489 55L486.7 53.9L484.3 52.7L482 51.6L479.6 50.4L477.2 49.3L474.9 48.1L472.5 47L470.2 45.9L467.8 44.7L465.4 43.6L463.1 42.4L460.7 41.3L458.3 40.1L456 39L453.6 37.9L451.3 36.7L448.9 35.6L446.5 34.4L444.2 33.3L441.8 32.1L439.5 31L439.5 31L436 31.9L432.6 32.8L429.2 33.7L425.8 34.5L422.4 35.4L418.9 36.3L415.5 37.2L412.1 38.1L408.7 39L405.3 39.9L401.8 40.7L398.4 41.6L395 42.5L391.6 43.4L388.2 44.3L384.7 45.2L381.3 46.1L377.9 47L374.5 47.8L371.1 48.7L367.6 49.6L364.2 50.5L360.8 51.4L357.4 52.3L354 53.2L350.5 54L347.1 54.9L343.7 55.8L340.3 56.7L336.9 57.6L333.4 58.5L330 59.4L326.6 60.2Z" fill="#000" filter="url(#sb)"/>
<g stroke="#000" stroke-width="0.3" stroke-opacity="0.9" stroke-linejoin="round" filter="url(#sb)">
<path d="M436 31.9L438.4 33.1L441.8 32.1L439.5 31Z" fill="#3e26a8" stroke-opacity=".48"/>
<path d="M438.4 33.1L440.8 34.2L444.2 33.3L441.8 32.1Z" fill="#3e26a8" stroke-opacity=".48"/>
<path d="M432.6 32.8L435 34L438.4 33.1L436 31.9Z" fill="#3e26a8" stroke-opacity=".49"/>
<path d="M440.8 34.2L443.1 35.4L446.5 34.4L444.2 33.3Z" fill="#3e26a8" stroke-opacity=".49"/>
<path d="M435 34L437.3 35.2L440.8 34.2L438.4 33.1Z" fill="#3e26a8" stroke-opacity=".49"/>
<path d="M429.2 33.7L431.6 34.9L435 34L432.6 32.8Z" fill="#3e26a8" stroke-opacity=".50"/>
<path d="M443.1 35.4L445.5 36.6L448.9 35.6L446.5 34.4Z" fill="#3e26a8" stroke-opacity=".50"/>
<path d="M437.3 35.2L439.7 36.3L443.1 35.4L440.8 34.2Z" fill="#3e26a8" stroke-opacity=".50"/>
<path d="M431.6 34.9L433.9 36.1L437.3 35.2L435 34Z" fill="#3e26a8" stroke-opacity=".50"/>
<path d="M425.8 34.5L428.1 35.8L431.6 34.9L429.2 33.7Z" fill="#3e26a8" stroke-opacity=".51"/>
<path d="M445.5 36.6L447.8 37.7L451.3 36.7L448.9 35.6Z" fill="#3e26a8" stroke-opacity=".50"/>
<path d="M439.7 36.3L442.1 37.5L445.5 36.6L443.1 35.4Z" fill="#3e26a8" stroke-opacity=".51"/>
<path d="M433.9 36.1L436.3 37.3L439.7 36.3L437.3 35.2Z" fill="#3e26a8" stroke-opacity=".51"/>
<path d="M428.1 35.8L430.5 37L433.9 36.1L431.6 34.9Z" fill="#3e26a8" stroke-opacity=".51"/>
<path d="M422.4 35.4L424.7 36.7L428.1 35.8L425.8 34.5Z" fill="#3e26a8" stroke-opacity=".52"/>
<path d="M447.8 37.7L450.2 38.9L453.6 37.9L451.3 36.7Z" fill="#3e27a9" stroke-opacity=".51"/>
<path d="M442.1 37.5L444.4 38.7L447.8 37.7L445.5 36.6Z" fill="#3e27a9" stroke-opacity=".51"/>
<path d="M436.3 37.3L438.6 38.5L442.1 37.5L439.7 36.3Z" fill="#3e26a9" stroke-opacity=".52"/>
<path d="M430.5 37L432.9 38.3L436.3 37.3L433.9 36.1Z" fill="#3e26a8" stroke-opacity=".52"/>
<path d="M424.7 36.7L427.1 38L430.5 37L428.1 35.8Z" fill="#3e26a8" stroke-opacity=".53"/>
<path d="M418.9 36.3L421.3 37.6L424.7 36.7L422.4 35.4Z" fill="#3e26a8" stroke-opacity=".53"/>
<path d="M450.2 38.9L452.6 40.1L456 39L453.6 37.9Z" fill="#3e27ab" stroke-opacity=".52"/>
<path d="M444.4 38.7L446.8 39.9L450.2 38.9L447.8 37.7Z" fill="#3e27ab" stroke-opacity=".52"/>
<path d="M438.6 38.5L441 39.8L444.4 38.7L442.1 37.5Z" fill="#3e27ab" stroke-opacity=".52"/>
<path d="M432.9 38.3L435.2 39.5L438.6 38.5L436.3 37.3Z" fill="#3e27aa" stroke-opacity=".53"/>
<path d="M427.1 38L429.4 39.3L432.9 38.3L430.5 37Z" fill="#3e26a8" stroke-opacity=".53"/>
<path d="M421.3 37.6L423.7 38.9L427.1 38L424.7 36.7Z" fill="#3e26a8" stroke-opacity=".54"/>
<path d="M415.5 37.2L417.9 38.5L421.3 37.6L418.9 36.3Z" fill="#3e26a8" stroke-opacity=".54"/>
<path d="M452.6 40.1L454.9 41.2L458.3 40.1L456 39Z" fill="#3e28ac" stroke-opacity=".52"/>
<path d="M446.8 39.9L449.1 41.1L452.6 40.1L450.2 38.9Z" fill="#3f28ad" stroke-opacity=".53"/>
<path d="M441 39.8L443.4 41L446.8 39.9L444.4 38.7Z" fill="#3f28ae" stroke-opacity=".53"/>
<path d="M435.2 39.5L437.6 40.8L441 39.8L438.6 38.5Z" fill="#3f28ad" stroke-opacity=".54"/>
<path d="M429.4 39.3L431.8 40.5L435.2 39.5L432.9 38.3Z" fill="#3e27ac" stroke-opacity=".54"/>
<path d="M423.7 38.9L426 40.2L429.4 39.3L427.1 38Z" fill="#3e27aa" stroke-opacity=".54"/>
<path d="M417.9 38.5L420.2 39.9L423.7 38.9L421.3 37.6Z" fill="#3e26a8" stroke-opacity=".55"/>
<path d="M412.1 38.1L414.5 39.5L417.9 38.5L415.5 37.2Z" fill="#3e26a8" stroke-opacity=".55"/>
<path d="M454.9 41.2L457.3 42.4L460.7 41.3L458.3 40.1Z" fill="#3f28ae" stroke-opacity=".53"/>
<path d="M449.1 41.1L451.5 42.3L454.9 41.2L452.6 40.1Z" fill="#3f29af" stroke-opacity=".53"/>
<path d="M443.4 41L445.7 42.2L449.1 41.1L446.8 39.9Z" fill="#3f29b0" stroke-opacity=".54"/>
<path d="M437.6 40.8L439.9 42L443.4 41L441 39.8Z" fill="#3f29b0" stroke-opacity=".54"/>
<path d="M431.8 40.5L434.2 41.8L437.6 40.8L435.2 39.5Z" fill="#3f29b0" stroke-opacity=".55"/>
<path d="M426 40.2L428.4 41.5L431.8 40.5L429.4 39.3Z" fill="#3f28ae" stroke-opacity=".55"/>
<path d="M420.2 39.9L422.6 41.2L426 40.2L423.7 38.9Z" fill="#3e27ab" stroke-opacity=".56"/>
<path d="M414.5 39.5L416.8 40.8L420.2 39.9L417.9 38.5Z" fill="#3e26a8" stroke-opacity=".56"/>
<path d="M408.7 39L411 40.4L414.5 39.5L412.1 38.1Z" fill="#3e26a8" stroke-opacity=".57"/>
<path d="M457.3 42.4L459.6 43.6L463.1 42.4L460.7 41.3Z" fill="#3f28af" stroke-opacity=".53"/>
<path d="M451.5 42.3L453.9 43.5L457.3 42.4L454.9 41.2Z" fill="#3f29b1" stroke-opacity=".54"/>
<path d="M445.7 42.2L448.1 43.4L451.5 42.3L449.1 41.1Z" fill="#402ab3" stroke-opacity=".54"/>
<path d="M439.9 42L442.3 43.3L445.7 42.2L443.4 41Z" fill="#402ab3" stroke-opacity=".55"/>
<path d="M434.2 41.8L436.5 43.1L439.9 42L437.6 40.8Z" fill="#402ab3" stroke-opacity=".55"/>
<path d="M428.4 41.5L430.7 42.8L434.2 41.8L431.8 40.5Z" fill="#3f29b2" stroke-opacity=".56"/>
<path d="M422.6 41.2L425 42.5L428.4 41.5L426 40.2Z" fill="#3f29b0" stroke-opacity=".57"/>
<path d="M416.8 40.8L419.2 42.2L422.6 41.2L420.2 39.9Z" fill="#3e28ac" stroke-opacity=".57"/>
<path d="M411 40.4L413.4 41.8L416.8 40.8L414.5 39.5Z" fill="#3e26a8" stroke-opacity=".58"/>
<path d="M405.3 39.9L407.6 41.3L411 40.4L408.7 39Z" fill="#3e26a8" stroke-opacity=".58"/>
<path d="M459.6 43.6L462 44.7L465.4 43.6L463.1 42.4Z" fill="#3f29b1" stroke-opacity=".54"/>
<path d="M453.9 43.5L456.2 44.7L459.6 43.6L457.3 42.4Z" fill="#402ab3" stroke-opacity=".55"/>
<path d="M448.1 43.4L450.4 44.6L453.9 43.5L451.5 42.3Z" fill="#402ab5" stroke-opacity=".55"/>
<path d="M442.3 43.3L444.7 44.5L448.1 43.4L445.7 42.2Z" fill="#402bb6" stroke-opacity=".56"/>
<path d="M436.5 43.1L438.9 44.3L442.3 43.3L439.9 42Z" fill="#402bb6" stroke-opacity=".56"/>
<path d="M430.7 42.8L433.1 44.1L436.5 43.1L434.2 41.8Z" fill="#402bb6" stroke-opacity=".57"/>
<path d="M425 42.5L427.3 43.9L430.7 42.8L428.4 41.5Z" fill="#402ab4" stroke-opacity=".57"/>
<path d="M419.2 42.2L421.5 43.6L425 42.5L422.6 41.2Z" fill="#3f29b2" stroke-opacity=".58"/>
<path d="M413.4 41.8L415.8 43.2L419.2 42.2L416.8 40.8Z" fill="#3f28ae" stroke-opacity=".59"/>
<path d="M407.6 41.3L410 42.7L413.4 41.8L411 40.4Z" fill="#3e26a9" stroke-opacity=".59"/>
<path d="M462 44.7L464.4 45.9L467.8 44.7L465.4 43.6Z" fill="#3f29b2" stroke-opacity=".55"/>
<path d="M401.8 40.7L404.2 42.2L407.6 41.3L405.3 39.9Z" fill="#3e26a8" stroke-opacity=".60"/>
<path d="M456.2 44.7L458.6 45.9L462 44.7L459.6 43.6Z" fill="#402ab5" stroke-opacity=".55"/>
<path d="M450.4 44.6L452.8 45.8L456.2 44.7L453.9 43.5Z" fill="#402bb8" stroke-opacity=".56"/>
<path d="M444.7 44.5L447 45.8L450.4 44.6L448.1 43.4Z" fill="#412cb9" stroke-opacity=".56"/>
<path d="M438.9 44.3L441.2 45.6L444.7 44.5L442.3 43.3Z" fill="#412cba" stroke-opacity=".57"/>
<path d="M433.1 44.1L435.5 45.4L438.9 44.3L436.5 43.1Z" fill="#412cba" stroke-opacity=".58"/>
<path d="M427.3 43.9L429.7 45.2L433.1 44.1L430.7 42.8Z" fill="#412cb9" stroke-opacity=".58"/>
<path d="M421.5 43.6L423.9 44.9L427.3 43.9L425 42.5Z" fill="#402bb7" stroke-opacity=".59"/>
<path d="M415.8 43.2L418.1 44.6L421.5 43.6L419.2 42.2Z" fill="#402ab4" stroke-opacity=".59"/>
<path d="M410 42.7L412.3 44.2L415.8 43.2L413.4 41.8Z" fill="#3f29af" stroke-opacity=".60"/>
<path d="M464.4 45.9L466.7 47.1L470.2 45.9L467.8 44.7Z" fill="#402ab4" stroke-opacity=".55"/>
<path d="M404.2 42.2L406.6 43.7L410 42.7L407.6 41.3Z" fill="#3e27aa" stroke-opacity=".61"/>
<path d="M458.6 45.9L461 47.1L464.4 45.9L462 44.7Z" fill="#402bb7" stroke-opacity=".56"/>
<path d="M398.4 41.6L400.8 43.2L404.2 42.2L401.8 40.7Z" fill="#3e26a8" stroke-opacity=".61"/>
<path d="M452.8 45.8L455.2 47.1L458.6 45.9L456.2 44.7Z" fill="#412cba" stroke-opacity=".56"/>
<path d="M447 45.8L449.4 47L452.8 45.8L450.4 44.6Z" fill="#412dbc" stroke-opacity=".57"/>
<path d="M441.2 45.6L443.6 46.9L447 45.8L444.7 44.5Z" fill="#412dbd" stroke-opacity=".58"/>
<path d="M435.5 45.4L437.8 46.7L441.2 45.6L438.9 44.3Z" fill="#412dbd" stroke-opacity=".58"/>
<path d="M429.7 45.2L432 46.6L435.5 45.4L433.1 44.1Z" fill="#412dbd" stroke-opacity=".59"/>
<path d="M423.9 44.9L426.3 46.3L429.7 45.2L427.3 43.9Z" fill="#412dbb" stroke-opacity=".60"/>
<path d="M418.1 44.6L420.5 46L423.9 44.9L421.5 43.6Z" fill="#412cb9" stroke-opacity=".60"/>
<path d="M412.3 44.2L414.7 45.6L418.1 44.6L415.8 43.2Z" fill="#402bb6" stroke-opacity=".61"/>
<path d="M466.7 47.1L469.1 48.2L472.5 47L470.2 45.9Z" fill="#402ab5" stroke-opacity=".56"/>
<path d="M406.6 43.7L408.9 45.2L412.3 44.2L410 42.7Z" fill="#3f29b1" stroke-opacity=".62"/>
<path d="M461 47.1L463.3 48.3L466.7 47.1L464.4 45.9Z" fill="#412cb9" stroke-opacity=".57"/>
<path d="M400.8 43.2L403.1 44.7L406.6 43.7L404.2 42.2Z" fill="#3e27ab" stroke-opacity=".62"/>
<path d="M455.2 47.1L457.5 48.3L461 47.1L458.6 45.9Z" fill="#412dbc" stroke-opacity=".57"/>
<path d="M449.4 47L451.8 48.2L455.2 47.1L452.8 45.8Z" fill="#422ebf" stroke-opacity=".58"/>
<path d="M395 42.5L397.4 44.1L400.8 43.2L398.4 41.6Z" fill="#3e26a8" stroke-opacity=".63"/>
<path d="M443.6 46.9L446 48.2L449.4 47L447 45.8Z" fill="#422fc0" stroke-opacity=".58"/>
<path d="M437.8 46.7L440.2 48.1L443.6 46.9L441.2 45.6Z" fill="#422fc1" stroke-opacity=".59"/>
<path d="M432 46.6L434.4 47.9L437.8 46.7L435.5 45.4Z" fill="#422fc1" stroke-opacity=".60"/>
<path d="M426.3 46.3L428.6 47.7L432 46.6L429.7 45.2Z" fill="#422fc0" stroke-opacity=".60"/>
<path d="M420.5 46L422.8 47.4L426.3 46.3L423.9 44.9Z" fill="#422ebf" stroke-opacity=".61"/>
<path d="M414.7 45.6L417.1 47.1L420.5 46L418.1 44.6Z" fill="#412dbc" stroke-opacity=".62"/>
<path d="M469.1 48.2L471.5 49.4L474.9 48.1L472.5 47Z" fill="#402bb7" stroke-opacity=".57"/>
<path d="M408.9 45.2L411.3 46.7L414.7 45.6L412.3 44.2Z" fill="#402cb8" stroke-opacity=".63"/>
<path d="M463.3 48.3L465.7 49.5L469.1 48.2L466.7 47.1Z" fill="#412dbb" stroke-opacity=".57"/>
<path d="M403.1 44.7L405.5 46.2L408.9 45.2L406.6 43.7Z" fill="#402ab3" stroke-opacity=".63"/>
<path d="M457.5 48.3L459.9 49.5L463.3 48.3L461 47.1Z" fill="#422ebe" stroke-opacity=".58"/>
<path d="M397.4 44.1L399.7 45.6L403.1 44.7L400.8 43.2Z" fill="#3e27ac" stroke-opacity=".64"/>
<path d="M451.8 48.2L454.1 49.5L457.5 48.3L455.2 47.1Z" fill="#422fc1" stroke-opacity=".58"/>
<path d="M391.6 43.4L393.9 45L397.4 44.1L395 42.5Z" fill="#3e26a8" stroke-opacity=".64"/>
<path d="M446 48.2L448.3 49.4L451.8 48.2L449.4 47Z" fill="#4230c3" stroke-opacity=".59"/>
<path d="M440.2 48.1L442.6 49.4L446 48.2L443.6 46.9Z" fill="#4330c5" stroke-opacity=".60"/>
<path d="M434.4 47.9L436.8 49.2L440.2 48.1L437.8 46.7Z" fill="#4331c5" stroke-opacity=".61"/>
<path d="M428.6 47.7L431 49L434.4 47.9L432 46.6Z" fill="#4330c5" stroke-opacity=".61"/>
<path d="M422.8 47.4L425.2 48.8L428.6 47.7L426.3 46.3Z" fill="#4230c4" stroke-opacity=".62"/>
<path d="M417.1 47.1L419.4 48.5L422.8 47.4L420.5 46Z" fill="#422fc2" stroke-opacity=".63"/>
<path d="M471.5 49.4L473.8 50.6L477.2 49.3L474.9 48.1Z" fill="#402cb8" stroke-opacity=".57"/>
<path d="M411.3 46.7L413.6 48.2L417.1 47.1L414.7 45.6Z" fill="#422ebf" stroke-opacity=".63"/>
<path d="M465.7 49.5L468 50.7L471.5 49.4L469.1 48.2Z" fill="#412dbd" stroke-opacity=".58"/>
<path d="M405.5 46.2L407.9 47.7L411.3 46.7L408.9 45.2Z" fill="#412cba" stroke-opacity=".64"/>
<path d="M459.9 49.5L462.3 50.7L465.7 49.5L463.3 48.3Z" fill="#422fc1" stroke-opacity=".59"/>
<path d="M454.1 49.5L456.5 50.7L459.9 49.5L457.5 48.3Z" fill="#4230c4" stroke-opacity=".59"/>
<path d="M399.7 45.6L402.1 47.2L405.5 46.2L403.1 44.7Z" fill="#402ab5" stroke-opacity=".65"/>
<path d="M393.9 45L396.3 46.6L399.7 45.6L397.4 44.1Z" fill="#3f28ad" stroke-opacity=".65"/>
<path d="M448.3 49.4L450.7 50.7L454.1 49.5L451.8 48.2Z" fill="#4331c7" stroke-opacity=".60"/>
<path d="M442.6 49.4L444.9 50.7L448.3 49.4L446 48.2Z" fill="#4332c9" stroke-opacity=".61"/>
<path d="M388.2 44.3L390.5 46L393.9 45L391.6 43.4Z" fill="#3e26a8" stroke-opacity=".66"/>
<path d="M436.8 49.2L439.1 50.6L442.6 49.4L440.2 48.1Z" fill="#4332ca" stroke-opacity=".61"/>
<path d="M431 49L433.3 50.4L436.8 49.2L434.4 47.9Z" fill="#4332ca" stroke-opacity=".62"/>
<path d="M425.2 48.8L427.6 50.2L431 49L428.6 47.7Z" fill="#4332ca" stroke-opacity=".63"/>
<path d="M419.4 48.5L421.8 50L425.2 48.8L422.8 47.4Z" fill="#4332c8" stroke-opacity=".64"/>
<path d="M473.8 50.6L476.2 51.7L479.6 50.4L477.2 49.3Z" fill="#412cba" stroke-opacity=".58"/>
<path d="M413.6 48.2L416 49.6L419.4 48.5L417.1 47.1Z" fill="#4331c6" stroke-opacity=".64"/>
<path d="M468 50.7L470.4 51.8L473.8 50.6L471.5 49.4Z" fill="#422ebf" stroke-opacity=".58"/>
<path d="M407.9 47.7L410.2 49.2L413.6 48.2L411.3 46.7Z" fill="#422fc2" stroke-opacity=".65"/>
<path d="M462.3 50.7L464.6 51.9L468 50.7L465.7 49.5Z" fill="#4230c3" stroke-opacity=".59"/>
<path d="M456.5 50.7L458.8 52L462.3 50.7L459.9 49.5Z" fill="#4331c7" stroke-opacity=".60"/>
<path d="M402.1 47.2L404.4 48.8L407.9 47.7L405.5 46.2Z" fill="#412dbd" stroke-opacity=".66"/>
<path d="M396.3 46.6L398.7 48.2L402.1 47.2L399.7 45.6Z" fill="#402bb6" stroke-opacity=".66"/>
<path d="M450.7 50.7L453.1 52L456.5 50.7L454.1 49.5Z" fill="#4332ca" stroke-opacity=".61"/>
<path d="M444.9 50.7L447.3 52L450.7 50.7L448.3 49.4Z" fill="#4433cc" stroke-opacity=".61"/>
<path d="M390.5 46L392.9 47.6L396.3 46.6L393.9 45Z" fill="#3f28ae" stroke-opacity=".67"/>
<path d="M384.7 45.2L387.1 46.9L390.5 46L388.2 44.3Z" fill="#3e26a8" stroke-opacity=".68"/>
<path d="M439.1 50.6L441.5 51.9L444.9 50.7L442.6 49.4Z" fill="#4434ce" stroke-opacity=".62"/>
<path d="M433.3 50.4L435.7 51.8L439.1 50.6L436.8 49.2Z" fill="#4434cf" stroke-opacity=".63"/>
<path d="M427.6 50.2L429.9 51.6L433.3 50.4L431 49Z" fill="#4434cf" stroke-opacity=".64"/>
<path d="M421.8 50L424.1 51.4L427.6 50.2L425.2 48.8Z" fill="#4434ce" stroke-opacity=".65"/>
<path d="M476.2 51.7L478.5 52.9L482 51.6L479.6 50.4Z" fill="#412dbb" stroke-opacity=".58"/>
<path d="M416 49.6L418.4 51.1L421.8 50L419.4 48.5Z" fill="#4433cc" stroke-opacity=".65"/>
<path d="M470.4 51.8L472.8 53L476.2 51.7L473.8 50.6Z" fill="#422fc0" stroke-opacity=".59"/>
<path d="M410.2 49.2L412.6 50.8L416 49.6L413.6 48.2Z" fill="#4332c9" stroke-opacity=".66"/>
<path d="M464.6 51.9L467 53.2L470.4 51.8L468 50.7Z" fill="#4330c5" stroke-opacity=".60"/>
<path d="M458.8 52L461.2 53.2L464.6 51.9L462.3 50.7Z" fill="#4332ca" stroke-opacity=".61"/>
<path d="M404.4 48.8L406.8 50.3L410.2 49.2L407.9 47.7Z" fill="#4330c5" stroke-opacity=".67"/>
<path d="M398.7 48.2L401 49.8L404.4 48.8L402.1 47.2Z" fill="#422ebf" stroke-opacity=".67"/>
<path d="M453.1 52L455.4 53.3L458.8 52L456.5 50.7Z" fill="#4433cd" stroke-opacity=".61"/>
<path d="M447.3 52L449.6 53.3L453.1 52L450.7 50.7Z" fill="#4435d0" stroke-opacity=".62"/>
<path d="M392.9 47.6L395.2 49.3L398.7 48.2L396.3 46.6Z" fill="#412cb8" stroke-opacity=".68"/>
<path d="M387.1 46.9L389.5 48.6L392.9 47.6L390.5 46Z" fill="#3f29b0" stroke-opacity=".69"/>
<path d="M441.5 51.9L443.9 53.2L447.3 52L444.9 50.7Z" fill="#4535d2" stroke-opacity=".63"/>
<path d="M381.3 46.1L383.7 47.8L387.1 46.9L384.7 45.2Z" fill="#3e26a8" stroke-opacity=".70"/>
<path d="M435.7 51.8L438.1 53.1L441.5 51.9L439.1 50.6Z" fill="#4536d3" stroke-opacity=".64"/>
<path d="M429.9 51.6L432.3 53L435.7 51.8L433.3 50.4Z" fill="#4536d4" stroke-opacity=".65"/>
<path d="M424.1 51.4L426.5 52.8L429.9 51.6L427.6 50.2Z" fill="#4536d4" stroke-opacity=".66"/>
<path d="M478.5 52.9L480.9 54.1L484.3 52.7L482 51.6Z" fill="#412dbc" stroke-opacity=".59"/>
<path d="M418.4 51.1L420.7 52.6L424.1 51.4L421.8 50Z" fill="#4536d3" stroke-opacity=".66"/>
<path d="M472.8 53L475.1 54.2L478.5 52.9L476.2 51.7Z" fill="#422fc2" stroke-opacity=".60"/>
<path d="M412.6 50.8L414.9 52.3L418.4 51.1L416 49.6Z" fill="#4435d1" stroke-opacity=".67"/>
<path d="M467 53.2L469.3 54.4L472.8 53L470.4 51.8Z" fill="#4331c8" stroke-opacity=".61"/>
<path d="M461.2 53.2L463.6 54.5L467 53.2L464.6 51.9Z" fill="#4433cc" stroke-opacity=".61"/>
<path d="M406.8 50.3L409.2 51.9L412.6 50.8L410.2 49.2Z" fill="#4433cd" stroke-opacity=".68"/>
<path d="M401 49.8L403.4 51.4L406.8 50.3L404.4 48.8Z" fill="#4332c8" stroke-opacity=".69"/>
<path d="M455.4 53.3L457.8 54.5L461.2 53.2L458.8 52Z" fill="#4435d0" stroke-opacity=".62"/>
<path d="M449.6 53.3L452 54.6L455.4 53.3L453.1 52Z" fill="#4536d3" stroke-opacity=".63"/>
<path d="M395.2 49.3L397.6 50.9L401 49.8L398.7 48.2Z" fill="#422fc2" stroke-opacity=".70"/>
<path d="M389.5 48.6L391.8 50.3L395.2 49.3L392.9 47.6Z" fill="#412cbb" stroke-opacity=".70"/>
<path d="M443.9 53.2L446.2 54.6L449.6 53.3L447.3 52Z" fill="#4537d6" stroke-opacity=".64"/>
<path d="M383.7 47.8L386 49.6L389.5 48.6L387.1 46.9Z" fill="#3f29b1" stroke-opacity=".71"/>
<path d="M438.1 53.1L440.4 54.5L443.9 53.2L441.5 51.9Z" fill="#4538d8" stroke-opacity=".65"/>
<path d="M377.9 47L380.3 48.8L383.7 47.8L381.3 46.1Z" fill="#3e26a8" stroke-opacity=".73"/>
<path d="M432.3 53L434.7 54.4L438.1 53.1L435.7 51.8Z" fill="#4539d9" stroke-opacity=".66"/>
<path d="M426.5 52.8L428.9 54.3L432.3 53L429.9 51.6Z" fill="#4539d9" stroke-opacity=".67"/>
<path d="M480.9 54.1L483.3 55.2L486.7 53.9L484.3 52.7Z" fill="#412ebe" stroke-opacity=".60"/>
<path d="M420.7 52.6L423.1 54.1L426.5 52.8L424.1 51.4Z" fill="#4539d9" stroke-opacity=".67"/>
<path d="M475.1 54.2L477.5 55.4L480.9 54.1L478.5 52.9Z" fill="#4230c4" stroke-opacity=".60"/>
<path d="M414.9 52.3L417.3 53.8L420.7 52.6L418.4 51.1Z" fill="#4538d7" stroke-opacity=".68"/>
<path d="M469.3 54.4L471.7 55.6L475.1 54.2L472.8 53Z" fill="#4332ca" stroke-opacity=".61"/>
<path d="M409.2 51.9L411.5 53.4L414.9 52.3L412.6 50.8Z" fill="#4537d5" stroke-opacity=".68"/>
<path d="M463.6 54.5L465.9 55.7L469.3 54.4L467 53.2Z" fill="#4434cf" stroke-opacity=".62"/>
<path d="M403.4 51.4L405.7 53L409.2 51.9L406.8 50.3Z" fill="#4435d1" stroke-opacity=".70"/>
<path d="M457.8 54.5L460.1 55.8L463.6 54.5L461.2 53.2Z" fill="#4536d3" stroke-opacity=".63"/>
<path d="M452 54.6L454.4 55.9L457.8 54.5L455.4 53.3Z" fill="#4538d7" stroke-opacity=".64"/>
<path d="M397.6 50.9L400 52.6L403.4 51.4L401 49.8Z" fill="#4433cc" stroke-opacity=".71"/>
<path d="M391.8 50.3L394.2 52L397.6 50.9L395.2 49.3Z" fill="#4330c5" stroke-opacity=".72"/>
<path d="M446.2 54.6L448.6 55.9L452 54.6L449.6 53.3Z" fill="#4639d9" stroke-opacity=".65"/>
<path d="M386 49.6L388.4 51.4L391.8 50.3L389.5 48.6Z" fill="#412dbd" stroke-opacity=".73"/>
<path d="M440.4 54.5L442.8 55.9L446.2 54.6L443.9 53.2Z" fill="#463adb" stroke-opacity=".66"/>
<path d="M380.3 48.8L382.6 50.6L386 49.6L383.7 47.8Z" fill="#402ab3" stroke-opacity=".74"/>
<path d="M434.7 54.4L437 55.8L440.4 54.5L438.1 53.1Z" fill="#463bdd" stroke-opacity=".67"/>
<path d="M374.5 47.8L376.8 49.7L380.3 48.8L377.9 47Z" fill="#3e26a8" stroke-opacity=".75"/>
<path d="M428.9 54.3L431.2 55.7L434.7 54.4L432.3 53Z" fill="#463cde" stroke-opacity=".68"/>
<path d="M483.3 55.2L485.6 56.4L489 55L486.7 53.9Z" fill="#422ebf" stroke-opacity=".60"/>
<path d="M423.1 54.1L425.5 55.5L428.9 54.3L426.5 52.8Z" fill="#463cde" stroke-opacity=".68"/>
<path d="M477.5 55.4L479.8 56.6L483.3 55.2L480.9 54.1Z" fill="#4331c6" stroke-opacity=".61"/>
<path d="M417.3 53.8L419.7 55.3L423.1 54.1L420.7 52.6Z" fill="#463bdd" stroke-opacity=".69"/>
<path d="M471.7 55.6L474.1 56.8L477.5 55.4L475.1 54.2Z" fill="#4433cc" stroke-opacity=".62"/>
<path d="M465.9 55.7L468.3 57L471.7 55.6L469.3 54.4Z" fill="#4435d2" stroke-opacity=".63"/>
<path d="M411.5 53.4L413.9 55L417.3 53.8L414.9 52.3Z" fill="#463adb" stroke-opacity=".69"/>
<path d="M405.7 53L408.1 54.6L411.5 53.4L409.2 51.9Z" fill="#4538d8" stroke-opacity=".70"/>
<path d="M460.1 55.8L462.5 57.1L465.9 55.7L463.6 54.5Z" fill="#4537d6" stroke-opacity=".64"/>
<path d="M454.4 55.9L456.7 57.2L460.1 55.8L457.8 54.5Z" fill="#4639da" stroke-opacity=".65"/>
<path d="M400 52.6L402.3 54.2L405.7 53L403.4 51.4Z" fill="#4536d5" stroke-opacity=".72"/>
<path d="M394.2 52L396.5 53.7L400 52.6L397.6 50.9Z" fill="#4434cf" stroke-opacity=".73"/>
<path d="M448.6 55.9L450.9 57.2L454.4 55.9L452 54.6Z" fill="#463bdd" stroke-opacity=".65"/>
<path d="M388.4 51.4L390.8 53.1L394.2 52L391.8 50.3Z" fill="#4332c8" stroke-opacity=".74"/>
<path d="M442.8 55.9L445.2 57.2L448.6 55.9L446.2 54.6Z" fill="#463cdf" stroke-opacity=".66"/>
<path d="M382.6 50.6L385 52.4L388.4 51.4L386 49.6Z" fill="#422ebf" stroke-opacity=".75"/>
<path d="M437 55.8L439.4 57.2L442.8 55.9L440.4 54.5Z" fill="#463ee1" stroke-opacity=".68"/>
<path d="M376.8 49.7L379.2 51.6L382.6 50.6L380.3 48.8Z" fill="#402ab5" stroke-opacity=".76"/>
<path d="M431.2 55.7L433.6 57.2L437 55.8L434.7 54.4Z" fill="#473fe2" stroke-opacity=".69"/>
<path d="M485.6 56.4L488 57.6L491.4 56.2L489 55Z" fill="#422fc1" stroke-opacity=".61"/>
<path d="M425.5 55.5L427.8 57L431.2 55.7L428.9 54.3Z" fill="#473fe2" stroke-opacity=".69"/>
<path d="M479.8 56.6L482.2 57.8L485.6 56.4L483.3 55.2Z" fill="#4331c8" stroke-opacity=".62"/>
<path d="M371.1 48.7L373.4 50.7L376.8 49.7L374.5 47.8Z" fill="#3e26a8" stroke-opacity=".78"/>
<path d="M419.7 55.3L422 56.8L425.5 55.5L423.1 54.1Z" fill="#473fe2" stroke-opacity=".70"/>
<path d="M474.1 56.8L476.4 58L479.8 56.6L477.5 55.4Z" fill="#4434ce" stroke-opacity=".63"/>
<path d="M413.9 55L416.3 56.5L419.7 55.3L417.3 53.8Z" fill="#463ee1" stroke-opacity=".70"/>
<path d="M468.3 57L470.6 58.2L474.1 56.8L471.7 55.6Z" fill="#4536d4" stroke-opacity=".63"/>
<path d="M408.1 54.6L410.5 56.2L413.9 55L411.5 53.4Z" fill="#463cdf" stroke-opacity=".71"/>
<path d="M462.5 57.1L464.9 58.4L468.3 57L465.9 55.7Z" fill="#4539d9" stroke-opacity=".64"/>
<path d="M402.3 54.2L404.7 55.8L408.1 54.6L405.7 53Z" fill="#463bdc" stroke-opacity=".73"/>
<path d="M456.7 57.2L459.1 58.5L462.5 57.1L460.1 55.8Z" fill="#463bdd" stroke-opacity=".65"/>
<path d="M396.5 53.7L398.9 55.4L402.3 54.2L400 52.6Z" fill="#4539d8" stroke-opacity=".74"/>
<path d="M450.9 57.2L453.3 58.6L456.7 57.2L454.4 55.9Z" fill="#463de0" stroke-opacity=".66"/>
<path d="M390.8 53.1L393.1 54.8L396.5 53.7L394.2 52Z" fill="#4536d3" stroke-opacity=".75"/>
<path d="M445.2 57.2L447.5 58.6L450.9 57.2L448.6 55.9Z" fill="#473fe2" stroke-opacity=".67"/>
<path d="M385 52.4L387.3 54.2L390.8 53.1L388.4 51.4Z" fill="#4433cc" stroke-opacity=".76"/>
<path d="M439.4 57.2L441.7 58.6L445.2 57.2L442.8 55.9Z" fill="#4740e4" stroke-opacity=".69"/>
<path d="M379.2 51.6L381.6 53.5L385 52.4L382.6 50.6Z" fill="#422fc2" stroke-opacity=".77"/>
<path d="M433.6 57.2L436 58.6L439.4 57.2L437 55.8Z" fill="#4742e6" stroke-opacity=".70"/>
<path d="M488 57.6L490.4 58.7L493.8 57.3L491.4 56.2Z" fill="#422fc2" stroke-opacity=".61"/>
<path d="M427.8 57L430.2 58.5L433.6 57.2L431.2 55.7Z" fill="#4742e6" stroke-opacity=".70"/>
<path d="M373.4 50.7L375.8 52.6L379.2 51.6L376.8 49.7Z" fill="#402bb7" stroke-opacity=".79"/>
<path d="M482.2 57.8L484.6 59L488 57.6L485.6 56.4Z" fill="#4332ca" stroke-opacity=".62"/>
<path d="M422 56.8L424.4 58.3L427.8 57L425.5 55.5Z" fill="#4742e7" stroke-opacity=".70"/>
<path d="M476.4 58L478.8 59.2L482.2 57.8L479.8 56.6Z" fill="#4435d1" stroke-opacity=".63"/>
<path d="M367.6 49.6L370 51.7L373.4 50.7L371.1 48.7Z" fill="#3e26a8" stroke-opacity=".80"/>
<path d="M470.6 58.2L473 59.5L476.4 58L474.1 56.8Z" fill="#4538d7" stroke-opacity=".64"/>
<path d="M416.3 56.5L418.6 58.1L422 56.8L419.7 55.3Z" fill="#4742e6" stroke-opacity=".71"/>
<path d="M410.5 56.2L412.8 57.8L416.3 56.5L413.9 55Z" fill="#4741e5" stroke-opacity=".72"/>
<path d="M464.9 58.4L467.2 59.6L470.6 58.2L468.3 57Z" fill="#463adb" stroke-opacity=".65"/>
<path d="M459.1 58.5L461.4 59.8L464.9 58.4L462.5 57.1Z" fill="#463ddf" stroke-opacity=".66"/>
<path d="M404.7 55.8L407 57.5L410.5 56.2L408.1 54.6Z" fill="#473fe3" stroke-opacity=".74"/>
<path d="M398.9 55.4L401.3 57.1L404.7 55.8L402.3 54.2Z" fill="#463de0" stroke-opacity=".75"/>
<path d="M453.3 58.6L455.7 59.9L459.1 58.5L456.7 57.2Z" fill="#473fe3" stroke-opacity=".67"/>
<path d="M393.1 54.8L395.5 56.6L398.9 55.4L396.5 53.7Z" fill="#463bdc" stroke-opacity=".76"/>
<path d="M447.5 58.6L449.9 60L453.3 58.6L450.9 57.2Z" fill="#4741e5" stroke-opacity=".68"/>
<path d="M387.3 54.2L389.7 56L393.1 54.8L390.8 53.1Z" fill="#4538d7" stroke-opacity=".77"/>
<path d="M441.7 58.6L444.1 60L447.5 58.6L445.2 57.2Z" fill="#4743e7" stroke-opacity=".69"/>
<path d="M381.6 53.5L383.9 55.4L387.3 54.2L385 52.4Z" fill="#4434cf" stroke-opacity=".79"/>
<path d="M436 58.6L438.3 60L441.7 58.6L439.4 57.2Z" fill="#4745e9" stroke-opacity=".71"/>
<path d="M490.4 58.7L492.7 59.9L496.1 58.4L493.8 57.3Z" fill="#4230c4" stroke-opacity=".62"/>
<path d="M430.2 58.5L432.5 60L436 58.6L433.6 57.2Z" fill="#4746ea" stroke-opacity=".71"/>
<path d="M375.8 52.6L378.1 54.6L381.6 53.5L379.2 51.6Z" fill="#4330c5" stroke-opacity=".80"/>
<path d="M484.6 59L486.9 60.2L490.4 58.7L488 57.6Z" fill="#4433cc" stroke-opacity=".63"/>
<path d="M424.4 58.3L426.8 59.8L430.2 58.5L427.8 57Z" fill="#4746ea" stroke-opacity=".71"/>
<path d="M370 51.7L372.4 53.7L375.8 52.6L373.4 50.7Z" fill="#412cb9" stroke-opacity=".80"/>
<path d="M478.8 59.2L481.2 60.5L484.6 59L482.2 57.8Z" fill="#4536d3" stroke-opacity=".64"/>
<path d="M473 59.5L475.4 60.7L478.8 59.2L476.4 58Z" fill="#4539d9" stroke-opacity=".65"/>
<path d="M364.2 50.5L366.6 52.6L370 51.7L367.6 49.6Z" fill="#3e27a9" stroke-opacity=".80"/>
<path d="M418.6 58.1L421 59.6L424.4 58.3L422 56.8Z" fill="#4746ea" stroke-opacity=".72"/>
<path d="M412.8 57.8L415.2 59.4L418.6 58.1L416.3 56.5Z" fill="#4745e9" stroke-opacity=".73"/>
<path d="M467.2 59.6L469.6 60.9L473 59.5L470.6 58.2Z" fill="#463cde" stroke-opacity=".66"/>
<path d="M407 57.5L409.4 59.1L412.8 57.8L410.5 56.2Z" fill="#4744e8" stroke-opacity=".75"/>
<path d="M461.4 59.8L463.8 61.1L467.2 59.6L464.9 58.4Z" fill="#473fe2" stroke-opacity=".67"/>
<path d="M401.3 57.1L403.6 58.7L407 57.5L404.7 55.8Z" fill="#4742e6" stroke-opacity=".76"/>
<path d="M455.7 59.9L458 61.2L461.4 59.8L459.1 58.5Z" fill="#4741e5" stroke-opacity=".68"/>
<path d="M395.5 56.6L397.8 58.3L401.3 57.1L398.9 55.4Z" fill="#4740e4" stroke-opacity=".77"/>
<path d="M449.9 60L452.2 61.3L455.7 59.9L453.3 58.6Z" fill="#4744e8" stroke-opacity=".69"/>
<path d="M389.7 56L392.1 57.8L395.5 56.6L393.1 54.8Z" fill="#463de0" stroke-opacity=".78"/>
<path d="M444.1 60L446.5 61.4L449.9 60L447.5 58.6Z" fill="#4746ea" stroke-opacity=".70"/>
<path d="M383.9 55.4L386.3 57.2L389.7 56L387.3 54.2Z" fill="#463adb" stroke-opacity=".80"/>
<path d="M438.3 60L440.7 61.5L444.1 60L441.7 58.6Z" fill="#4848ec" stroke-opacity=".72"/>
<path d="M492.7 59.9L495.1 61.1L498.5 59.6L496.1 58.4Z" fill="#4330c5" stroke-opacity=".63"/>
<path d="M432.5 60L434.9 61.4L438.3 60L436 58.6Z" fill="#4849ed" stroke-opacity=".72"/>
<path d="M486.9 60.2L489.3 61.4L492.7 59.9L490.4 58.7Z" fill="#4434cd" stroke-opacity=".64"/>
<path d="M378.1 54.6L380.5 56.5L383.9 55.4L381.6 53.5Z" fill="#4536d3" stroke-opacity=".80"/>
<path d="M426.8 59.8L429.1 61.3L432.5 60L430.2 58.5Z" fill="#484aee" stroke-opacity=".72"/>
<path d="M372.4 53.7L374.7 55.7L378.1 54.6L375.8 52.6Z" fill="#4332c8" stroke-opacity=".80"/>
<path d="M481.2 60.5L483.5 61.7L486.9 60.2L484.6 59Z" fill="#4537d5" stroke-opacity=".65"/>
<path d="M366.6 52.6L368.9 54.7L372.4 53.7L370 51.7Z" fill="#412dbb" stroke-opacity=".80"/>
<path d="M475.4 60.7L477.7 61.9L481.2 60.5L478.8 59.2Z" fill="#463adb" stroke-opacity=".65"/>
<path d="M421 59.6L423.3 61.2L426.8 59.8L424.4 58.3Z" fill="#484aee" stroke-opacity=".73"/>
<path d="M360.8 51.4L363.2 53.6L366.6 52.6L364.2 50.5Z" fill="#3e27aa" stroke-opacity=".80"/>
<path d="M415.2 59.4L417.6 61L421 59.6L418.6 58.1Z" fill="#484aee" stroke-opacity=".74"/>
<path d="M469.6 60.9L471.9 62.2L475.4 60.7L473 59.5Z" fill="#463de0" stroke-opacity=".66"/>
<path d="M463.8 61.1L466.2 62.4L469.6 60.9L467.2 59.6Z" fill="#4740e4" stroke-opacity=".68"/>
<path d="M409.4 59.1L411.8 60.7L415.2 59.4L412.8 57.8Z" fill="#4849ed" stroke-opacity=".76"/>
<path d="M403.6 58.7L406 60.4L409.4 59.1L407 57.5Z" fill="#4848ec" stroke-opacity=".77"/>
<path d="M458 61.2L460.4 62.6L463.8 61.1L461.4 59.8Z" fill="#4743e8" stroke-opacity=".69"/>
<path d="M397.8 58.3L400.2 60L403.6 58.7L401.3 57.1Z" fill="#4746ea" stroke-opacity=".78"/>
<path d="M452.2 61.3L454.6 62.7L458 61.2L455.7 59.9Z" fill="#4746ea" stroke-opacity=".70"/>
<path d="M392.1 57.8L394.4 59.6L397.8 58.3L395.5 56.6Z" fill="#4743e7" stroke-opacity=".79"/>
<path d="M446.5 61.4L448.8 62.8L452.2 61.3L449.9 60Z" fill="#4849ed" stroke-opacity=".71"/>
<path d="M386.3 57.2L388.6 59L392.1 57.8L389.7 56Z" fill="#4740e4" stroke-opacity=".80"/>
<path d="M440.7 61.5L443 62.9L446.5 61.4L444.1 60Z" fill="#484bef" stroke-opacity=".72"/>
<path d="M495.1 61.1L497.4 62.2L500.9 60.7L498.5 59.6Z" fill="#4331c7" stroke-opacity=".63"/>
<path d="M434.9 61.4L437.3 62.9L440.7 61.5L438.3 60Z" fill="#484df0" stroke-opacity=".73"/>
<path d="M489.3 61.4L491.7 62.6L495.1 61.1L492.7 59.9Z" fill="#4434cf" stroke-opacity=".64"/>
<path d="M380.5 56.5L382.9 58.4L386.3 57.2L383.9 55.4Z" fill="#463cdf" stroke-opacity=".80"/>
<path d="M429.1 61.3L431.5 62.9L434.9 61.4L432.5 60Z" fill="#484ef1" stroke-opacity=".73"/>
<path d="M483.5 61.7L485.9 62.9L489.3 61.4L486.9 60.2Z" fill="#4538d7" stroke-opacity=".65"/>
<path d="M374.7 55.7L377.1 57.7L380.5 56.5L378.1 54.6Z" fill="#4538d7" stroke-opacity=".80"/>
<path d="M368.9 54.7L371.3 56.8L374.7 55.7L372.4 53.7Z" fill="#4433cc" stroke-opacity=".80"/>
<path d="M423.3 61.2L425.7 62.7L429.1 61.3L426.8 59.8Z" fill="#484ef1" stroke-opacity=".74"/>
<path d="M477.7 61.9L480.1 63.2L483.5 61.7L481.2 60.5Z" fill="#463bdd" stroke-opacity=".66"/>
<path d="M363.2 53.6L365.5 55.8L368.9 54.7L366.6 52.6Z" fill="#412ebe" stroke-opacity=".80"/>
<path d="M417.6 61L419.9 62.6L423.3 61.2L421 59.6Z" fill="#484ef1" stroke-opacity=".75"/>
<path d="M471.9 62.2L474.3 63.5L477.7 61.9L475.4 60.7Z" fill="#473fe2" stroke-opacity=".67"/>
<path d="M466.2 62.4L468.5 63.7L471.9 62.2L469.6 60.9Z" fill="#4742e6" stroke-opacity=".68"/>
<path d="M357.4 52.3L359.7 54.6L363.2 53.6L360.8 51.4Z" fill="#3e27ab" stroke-opacity=".80"/>
<path d="M411.8 60.7L414.1 62.4L417.6 61L415.2 59.4Z" fill="#484ef1" stroke-opacity=".77"/>
<path d="M406 60.4L408.4 62.1L411.8 60.7L409.4 59.1Z" fill="#484df0" stroke-opacity=".78"/>
<path d="M460.4 62.6L462.7 63.9L466.2 62.4L463.8 61.1Z" fill="#4746ea" stroke-opacity=".70"/>
<path d="M400.2 60L402.6 61.7L406 60.4L403.6 58.7Z" fill="#484bef" stroke-opacity=".79"/>
<path d="M454.6 62.7L457 64.1L460.4 62.6L458 61.2Z" fill="#4849ed" stroke-opacity=".71"/>
<path d="M394.4 59.6L396.8 61.3L400.2 60L397.8 58.3Z" fill="#4849ed" stroke-opacity=".80"/>
<path d="M448.8 62.8L451.2 64.2L454.6 62.7L452.2 61.3Z" fill="#484bef" stroke-opacity=".72"/>
<path d="M388.6 59L391 60.9L394.4 59.6L392.1 57.8Z" fill="#4747eb" stroke-opacity=".80"/>
<path d="M443 62.9L445.4 64.4L448.8 62.8L446.5 61.4Z" fill="#484ef1" stroke-opacity=".73"/>
<path d="M497.4 62.2L499.8 63.4L503.2 61.9L500.9 60.7Z" fill="#4331c8" stroke-opacity=".64"/>
<path d="M437.3 62.9L439.6 64.4L443 62.9L440.7 61.5Z" fill="#4850f3" stroke-opacity=".74"/>
<path d="M382.9 58.4L385.2 60.3L388.6 59L386.3 57.2Z" fill="#4743e7" stroke-opacity=".80"/>
<path d="M491.7 62.6L494 63.8L497.4 62.2L495.1 61.1Z" fill="#4435d1" stroke-opacity=".65"/>
<path d="M431.5 62.9L433.8 64.4L437.3 62.9L434.9 61.4Z" fill="#4852f4" stroke-opacity=".74"/>
<path d="M485.9 62.9L488.2 64.1L491.7 62.6L489.3 61.4Z" fill="#4539d9" stroke-opacity=".66"/>
<path d="M377.1 57.7L379.4 59.7L382.9 58.4L380.5 56.5Z" fill="#473fe2" stroke-opacity=".80"/>
<path d="M480.1 63.2L482.5 64.4L485.9 62.9L483.5 61.7Z" fill="#463ddf" stroke-opacity=".67"/>
<path d="M371.3 56.8L373.7 58.9L377.1 57.7L374.7 55.7Z" fill="#463adb" stroke-opacity=".80"/>
<path d="M425.7 62.7L428.1 64.3L431.5 62.9L429.1 61.3Z" fill="#4852f4" stroke-opacity=".75"/>
<path d="M365.5 55.8L367.9 58L371.3 56.8L368.9 54.7Z" fill="#4434d0" stroke-opacity=".80"/>
<path d="M419.9 62.6L422.3 64.1L425.7 62.7L423.3 61.2Z" fill="#4853f4" stroke-opacity=".76"/>
<path d="M474.3 63.5L476.7 64.7L480.1 63.2L477.7 61.9Z" fill="#4740e4" stroke-opacity=".68"/>
<path d="M359.7 54.6L362.1 56.9L365.5 55.8L363.2 53.6Z" fill="#422fc1" stroke-opacity=".80"/>
<path d="M468.5 63.7L470.9 65L474.3 63.5L471.9 62.2Z" fill="#4744e8" stroke-opacity=".69"/>
<path d="M414.1 62.4L416.5 64L419.9 62.6L417.6 61Z" fill="#4852f4" stroke-opacity=".78"/>
<path d="M354 53.2L356.3 55.6L359.7 54.6L357.4 52.3Z" fill="#3f28ad" stroke-opacity=".80"/>
<path d="M408.4 62.1L410.7 63.8L414.1 62.4L411.8 60.7Z" fill="#4852f4" stroke-opacity=".79"/>
<path d="M462.7 63.9L465.1 65.2L468.5 63.7L466.2 62.4Z" fill="#4848ec" stroke-opacity=".70"/>
<path d="M402.6 61.7L404.9 63.5L408.4 62.1L406 60.4Z" fill="#4851f3" stroke-opacity=".80"/>
<path d="M457 64.1L459.3 65.4L462.7 63.9L460.4 62.6Z" fill="#484bef" stroke-opacity=".72"/>
<path d="M396.8 61.3L399.2 63.1L402.6 61.7L400.2 60Z" fill="#484ff2" stroke-opacity=".80"/>
<path d="M451.2 64.2L453.5 65.6L457 64.1L454.6 62.7Z" fill="#484ef1" stroke-opacity=".73"/>
<path d="M391 60.9L393.4 62.7L396.8 61.3L394.4 59.6Z" fill="#484df0" stroke-opacity=".80"/>
<path d="M445.4 64.4L447.8 65.8L451.2 64.2L448.8 62.8Z" fill="#4851f3" stroke-opacity=".74"/>
<path d="M499.8 63.4L502.2 64.6L505.6 63L503.2 61.9Z" fill="#4332c9" stroke-opacity=".65"/>
<path d="M439.6 64.4L442 65.9L445.4 64.4L443 62.9Z" fill="#4853f5" stroke-opacity=".75"/>
<path d="M494 63.8L496.4 65L499.8 63.4L497.4 62.2Z" fill="#4536d3" stroke-opacity=".66"/>
<path d="M385.2 60.3L387.6 62.2L391 60.9L388.6 59Z" fill="#484aee" stroke-opacity=".80"/>
<path d="M433.8 64.4L436.2 65.9L439.6 64.4L437.3 62.9Z" fill="#4755f6" stroke-opacity=".75"/>
<path d="M379.4 59.7L381.8 61.6L385.2 60.3L382.9 58.4Z" fill="#4746ea" stroke-opacity=".80"/>
<path d="M488.2 64.1L490.6 65.3L494 63.8L491.7 62.6Z" fill="#463adb" stroke-opacity=".67"/>
<path d="M482.5 64.4L484.8 65.7L488.2 64.1L485.9 62.9Z" fill="#463ee1" stroke-opacity=".68"/>
<path d="M373.7 58.9L376 60.9L379.4 59.7L377.1 57.7Z" fill="#4742e6" stroke-opacity=".80"/>
<path d="M428.1 64.3L430.4 65.8L433.8 64.4L431.5 62.9Z" fill="#4756f7" stroke-opacity=".76"/>
<path d="M367.9 58L370.2 60.1L373.7 58.9L371.3 56.8Z" fill="#463cdf" stroke-opacity=".80"/>
<path d="M422.3 64.1L424.6 65.7L428.1 64.3L425.7 62.7Z" fill="#4757f7" stroke-opacity=".77"/>
<path d="M476.7 64.7L479 66L482.5 64.4L480.1 63.2Z" fill="#4742e6" stroke-opacity=".69"/>
<path d="M362.1 56.9L364.5 59.2L367.9 58L365.5 55.8Z" fill="#4536d4" stroke-opacity=".80"/>
<path d="M416.5 64L418.9 65.6L422.3 64.1L419.9 62.6Z" fill="#4757f7" stroke-opacity=".79"/>
<path d="M470.9 65L473.3 66.3L476.7 64.7L474.3 63.5Z" fill="#4746ea" stroke-opacity=".70"/>
<path d="M356.3 55.6L358.7 58L362.1 56.9L359.7 54.6Z" fill="#4230c4" stroke-opacity=".80"/>
<path d="M410.7 63.8L413.1 65.4L416.5 64L414.1 62.4Z" fill="#4757f7" stroke-opacity=".80"/>
<path d="M465.1 65.2L467.5 66.6L470.9 65L468.5 63.7Z" fill="#484aee" stroke-opacity=".71"/>
<path d="M350.5 54L352.9 56.6L356.3 55.6L354 53.2Z" fill="#3f28af" stroke-opacity=".80"/>
<path d="M404.9 63.5L407.3 65.2L410.7 63.8L408.4 62.1Z" fill="#4756f7" stroke-opacity=".80"/>
<path d="M459.3 65.4L461.7 66.8L465.1 65.2L462.7 63.9Z" fill="#484ef1" stroke-opacity=".72"/>
<path d="M399.2 63.1L401.5 64.9L404.9 63.5L402.6 61.7Z" fill="#4755f6" stroke-opacity=".80"/>
<path d="M453.5 65.6L455.9 67L459.3 65.4L457 64.1Z" fill="#4851f3" stroke-opacity=".74"/>
<path d="M393.4 62.7L395.7 64.5L399.2 63.1L396.8 61.3Z" fill="#4853f5" stroke-opacity=".80"/>
<path d="M447.8 65.8L450.1 67.2L453.5 65.6L451.2 64.2Z" fill="#4854f5" stroke-opacity=".75"/>
<path d="M502.2 64.6L504.5 65.7L507.9 64.2L505.6 63Z" fill="#4432cb" stroke-opacity=".65"/>
<path d="M442 65.9L444.3 67.3L447.8 65.8L445.4 64.4Z" fill="#4757f7" stroke-opacity=".76"/>
<path d="M496.4 65L498.7 66.2L502.2 64.6L499.8 63.4Z" fill="#4536d4" stroke-opacity=".66"/>
<path d="M387.6 62.2L390 64.1L393.4 62.7L391 60.9Z" fill="#4851f3" stroke-opacity=".80"/>
<path d="M436.2 65.9L438.6 67.4L442 65.9L439.6 64.4Z" fill="#4759f8" stroke-opacity=".76"/>
<path d="M490.6 65.3L493 66.6L496.4 65L494 63.8Z" fill="#463bdc" stroke-opacity=".67"/>
<path d="M381.8 61.6L384.2 63.5L387.6 62.2L385.2 60.3Z" fill="#484ef1" stroke-opacity=".80"/>
<path d="M376 60.9L378.4 62.9L381.8 61.6L379.4 59.7Z" fill="#484aee" stroke-opacity=".80"/>
<path d="M430.4 65.8L432.8 67.4L436.2 65.9L433.8 64.4Z" fill="#475af9" stroke-opacity=".77"/>
<path d="M484.8 65.7L487.2 66.9L490.6 65.3L488.2 64.1Z" fill="#473fe3" stroke-opacity=".68"/>
<path d="M370.2 60.1L372.6 62.2L376 60.9L373.7 58.9Z" fill="#4745e9" stroke-opacity=".80"/>
<path d="M424.6 65.7L427 67.3L430.4 65.8L428.1 64.3Z" fill="#475bfa" stroke-opacity=".78"/>
<path d="M479 66L481.4 67.3L484.8 65.7L482.5 64.4Z" fill="#4744e8" stroke-opacity=".69"/>
<path d="M473.3 66.3L475.6 67.6L479 66L476.7 64.7Z" fill="#4848ec" stroke-opacity=".71"/>
<path d="M364.5 59.2L366.8 61.4L370.2 60.1L367.9 58Z" fill="#473fe2" stroke-opacity=".80"/>
<path d="M418.9 65.6L421.2 67.2L424.6 65.7L422.3 64.1Z" fill="#475cfa" stroke-opacity=".80"/>
<path d="M358.7 58L361 60.4L364.5 59.2L362.1 56.9Z" fill="#4538d8" stroke-opacity=".80"/>
<path d="M413.1 65.4L415.4 67.1L418.9 65.6L416.5 64Z" fill="#475cfa" stroke-opacity=".80"/>
<path d="M467.5 66.6L469.8 67.9L473.3 66.3L470.9 65Z" fill="#484cf0" stroke-opacity=".72"/>
<path d="M352.9 56.6L355.3 59.2L358.7 58L356.3 55.6Z" fill="#4331c7" stroke-opacity=".80"/>
<path d="M407.3 65.2L409.7 66.9L413.1 65.4L410.7 63.8Z" fill="#475cfa" stroke-opacity=".80"/>
<path d="M461.7 66.8L464.1 68.2L467.5 66.6L465.1 65.2Z" fill="#4850f3" stroke-opacity=".73"/>
<path d="M401.5 64.9L403.9 66.6L407.3 65.2L404.9 63.5Z" fill="#475bf9" stroke-opacity=".80"/>
<path d="M455.9 67L458.3 68.4L461.7 66.8L459.3 65.4Z" fill="#4854f5" stroke-opacity=".75"/>
<path d="M347.1 54.9L349.5 57.7L352.9 56.6L350.5 54Z" fill="#3f29b1" stroke-opacity=".80"/>
<path d="M395.7 64.5L398.1 66.3L401.5 64.9L399.2 63.1Z" fill="#475af9" stroke-opacity=".80"/>
<path d="M450.1 67.2L452.5 68.7L455.9 67L453.5 65.6Z" fill="#4757f7" stroke-opacity=".76"/>
<path d="M504.5 65.7L506.9 66.9L510.3 65.3L507.9 64.2Z" fill="#4433cc" stroke-opacity=".66"/>
<path d="M444.3 67.3L446.7 68.8L450.1 67.2L447.8 65.8Z" fill="#475af9" stroke-opacity=".77"/>
<path d="M498.7 66.2L501.1 67.3L504.5 65.7L502.2 64.6Z" fill="#4537d6" stroke-opacity=".67"/>
<path d="M390 64.1L392.3 65.9L395.7 64.5L393.4 62.7Z" fill="#4758f8" stroke-opacity=".80"/>
<path d="M438.6 67.4L440.9 68.9L444.3 67.3L442 65.9Z" fill="#475dfa" stroke-opacity=".77"/>
<path d="M493 66.6L495.3 67.8L498.7 66.2L496.4 65Z" fill="#463cde" stroke-opacity=".68"/>
<path d="M384.2 63.5L386.5 65.5L390 64.1L387.6 62.2Z" fill="#4755f6" stroke-opacity=".80"/>
<path d="M487.2 66.9L489.5 68.2L493 66.6L490.6 65.3Z" fill="#4741e5" stroke-opacity=".69"/>
<path d="M378.4 62.9L380.7 64.9L384.2 63.5L381.8 61.6Z" fill="#4852f4" stroke-opacity=".80"/>
<path d="M432.8 67.4L435.1 68.9L438.6 67.4L436.2 65.9Z" fill="#465efb" stroke-opacity=".78"/>
<path d="M372.6 62.2L375 64.3L378.4 62.9L376 60.9Z" fill="#484ef1" stroke-opacity=".80"/>
<path d="M427 67.3L429.4 68.9L432.8 67.4L430.4 65.8Z" fill="#4660fb" stroke-opacity=".79"/>
<path d="M481.4 67.3L483.8 68.5L487.2 66.9L484.8 65.7Z" fill="#4745ea" stroke-opacity=".70"/>
<path d="M475.6 67.6L478 68.9L481.4 67.3L479 66Z" fill="#484aee" stroke-opacity=".71"/>
<path d="M366.8 61.4L369.2 63.6L372.6 62.2L370.2 60.1Z" fill="#4849ed" stroke-opacity=".80"/>
<path d="M421.2 67.2L423.6 68.9L427 67.3L424.6 65.7Z" fill="#4661fc" stroke-opacity=".80"/>
<path d="M361 60.4L363.4 62.7L366.8 61.4L364.5 59.2Z" fill="#4742e6" stroke-opacity=".80"/>
<path d="M415.4 67.1L417.8 68.8L421.2 67.2L418.9 65.6Z" fill="#4561fc" stroke-opacity=".80"/>
<path d="M469.8 67.9L472.2 69.2L475.6 67.6L473.3 66.3Z" fill="#484ef1" stroke-opacity=".73"/>
<path d="M355.3 59.2L357.6 61.6L361 60.4L358.7 58Z" fill="#463bdc" stroke-opacity=".80"/>
<path d="M409.7 66.9L412 68.6L415.4 67.1L413.1 65.4Z" fill="#4561fc" stroke-opacity=".80"/>
<path d="M464.1 68.2L466.4 69.6L469.8 67.9L467.5 66.6Z" fill="#4853f4" stroke-opacity=".74"/>
<path d="M349.5 57.7L351.8 60.3L355.3 59.2L352.9 56.6Z" fill="#4433cb" stroke-opacity=".80"/>
<path d="M403.9 66.6L406.2 68.4L409.7 66.9L407.3 65.2Z" fill="#4561fc" stroke-opacity=".80"/>
<path d="M458.3 68.4L460.6 69.8L464.1 68.2L461.7 66.8Z" fill="#4757f7" stroke-opacity=".76"/>
<path d="M398.1 66.3L400.5 68.1L403.9 66.6L401.5 64.9Z" fill="#4660fb" stroke-opacity=".80"/>
<path d="M452.5 68.7L454.9 70.1L458.3 68.4L455.9 67Z" fill="#475af9" stroke-opacity=".77"/>
<path d="M343.7 55.8L346.1 58.7L349.5 57.7L347.1 54.9Z" fill="#402ab3" stroke-opacity=".80"/>
<path d="M506.9 66.9L509.2 68.1L512.7 66.4L510.3 65.3Z" fill="#4434ce" stroke-opacity=".66"/>
<path d="M446.7 68.8L449.1 70.3L452.5 68.7L450.1 67.2Z" fill="#465efb" stroke-opacity=".78"/>
<path d="M392.3 65.9L394.7 67.7L398.1 66.3L395.7 64.5Z" fill="#465efb" stroke-opacity=".80"/>
<path d="M501.1 67.3L503.5 68.5L506.9 66.9L504.5 65.7Z" fill="#4538d8" stroke-opacity=".68"/>
<path d="M440.9 68.9L443.3 70.4L446.7 68.8L444.3 67.3Z" fill="#4660fc" stroke-opacity=".78"/>
<path d="M495.3 67.8L497.7 69L501.1 67.3L498.7 66.2Z" fill="#463de0" stroke-opacity=".69"/>
<path d="M386.5 65.5L388.9 67.3L392.3 65.9L390 64.1Z" fill="#475cfa" stroke-opacity=".80"/>
<path d="M489.5 68.2L491.9 69.4L495.3 67.8L493 66.6Z" fill="#4742e6" stroke-opacity=".70"/>
<path d="M380.7 64.9L383.1 66.9L386.5 65.5L384.2 63.5Z" fill="#4759f9" stroke-opacity=".80"/>
<path d="M435.1 68.9L437.5 70.5L440.9 68.9L438.6 67.4Z" fill="#4563fc" stroke-opacity=".79"/>
<path d="M375 64.3L377.3 66.4L380.7 64.9L378.4 62.9Z" fill="#4756f7" stroke-opacity=".80"/>
<path d="M429.4 68.9L431.7 70.5L435.1 68.9L432.8 67.4Z" fill="#4464fd" stroke-opacity=".80"/>
<path d="M483.8 68.5L486.1 69.8L489.5 68.2L487.2 66.9Z" fill="#4747eb" stroke-opacity=".71"/>
<path d="M369.2 63.6L371.5 65.7L375 64.3L372.6 62.2Z" fill="#4852f4" stroke-opacity=".80"/>
<path d="M423.6 68.9L425.9 70.5L429.4 68.9L427 67.3Z" fill="#4466fd" stroke-opacity=".80"/>
<path d="M478 68.9L480.3 70.2L483.8 68.5L481.4 67.3Z" fill="#484cf0" stroke-opacity=".72"/>
<path d="M363.4 62.7L365.8 65L369.2 63.6L366.8 61.4Z" fill="#484df0" stroke-opacity=".80"/>
<path d="M417.8 68.8L420.2 70.4L423.6 68.9L421.2 67.2Z" fill="#4367fd" stroke-opacity=".80"/>
<path d="M472.2 69.2L474.6 70.6L478 68.9L475.6 67.6Z" fill="#4851f3" stroke-opacity=".74"/>
<path d="M357.6 61.6L360 64L363.4 62.7L361 60.4Z" fill="#4746ea" stroke-opacity=".80"/>
<path d="M412 68.6L414.4 70.3L417.8 68.8L415.4 67.1Z" fill="#4367fd" stroke-opacity=".80"/>
<path d="M466.4 69.6L468.8 70.9L472.2 69.2L469.8 67.9Z" fill="#4755f6" stroke-opacity=".75"/>
<path d="M351.8 60.3L354.2 62.9L357.6 61.6L355.3 59.2Z" fill="#463de0" stroke-opacity=".80"/>
<path d="M406.2 68.4L408.6 70.1L412 68.6L409.7 66.9Z" fill="#4367fd" stroke-opacity=".80"/>
<path d="M460.6 69.8L463 71.2L466.4 69.6L464.1 68.2Z" fill="#4759f8" stroke-opacity=".77"/>
<path d="M346.1 58.7L348.4 61.5L351.8 60.3L349.5 57.7Z" fill="#4434d0" stroke-opacity=".80"/>
<path d="M400.5 68.1L402.8 69.9L406.2 68.4L403.9 66.6Z" fill="#4466fd" stroke-opacity=".80"/>
<path d="M454.9 70.1L457.2 71.5L460.6 69.8L458.3 68.4Z" fill="#465dfb" stroke-opacity=".78"/>
<path d="M509.2 68.1L511.6 69.2L515 67.6L512.7 66.4Z" fill="#4434cf" stroke-opacity=".67"/>
<path d="M449.1 70.3L451.4 71.8L454.9 70.1L452.5 68.7Z" fill="#4561fc" stroke-opacity=".79"/>
<path d="M340.3 56.7L342.6 59.8L346.1 58.7L343.7 55.8Z" fill="#402bb6" stroke-opacity=".80"/>
<path d="M394.7 67.7L397 69.6L400.5 68.1L398.1 66.3Z" fill="#4465fd" stroke-opacity=".80"/>
<path d="M503.5 68.5L505.8 69.7L509.2 68.1L506.9 66.9Z" fill="#4539d9" stroke-opacity=".68"/>
<path d="M443.3 70.4L445.7 71.9L449.1 70.3L446.7 68.8Z" fill="#4464fd" stroke-opacity=".79"/>
<path d="M388.9 67.3L391.3 69.2L394.7 67.7L392.3 65.9Z" fill="#4563fd" stroke-opacity=".80"/>
<path d="M497.7 69L500 70.2L503.5 68.5L501.1 67.3Z" fill="#463ee1" stroke-opacity=".69"/>
<path d="M491.9 69.4L494.3 70.7L497.7 69L495.3 67.8Z" fill="#4743e8" stroke-opacity=".70"/>
<path d="M383.1 66.9L385.5 68.8L388.9 67.3L386.5 65.5Z" fill="#4561fc" stroke-opacity=".80"/>
<path d="M437.5 70.5L439.9 72L443.3 70.4L440.9 68.9Z" fill="#4367fd" stroke-opacity=".80"/>
<path d="M377.3 66.4L379.7 68.4L383.1 66.9L380.7 64.9Z" fill="#465efb" stroke-opacity=".80"/>
<path d="M431.7 70.5L434.1 72.1L437.5 70.5L435.1 68.9Z" fill="#4369fe" stroke-opacity=".80"/>
<path d="M486.1 69.8L488.5 71.1L491.9 69.4L489.5 68.2Z" fill="#4849ed" stroke-opacity=".72"/>
<path d="M480.3 70.2L482.7 71.5L486.1 69.8L483.8 68.5Z" fill="#484ef1" stroke-opacity=".73"/>
<path d="M371.5 65.7L373.9 67.8L377.3 66.4L375 64.3Z" fill="#475bf9" stroke-opacity=".80"/>
<path d="M425.9 70.5L428.3 72.1L431.7 70.5L429.4 68.9Z" fill="#416bfe" stroke-opacity=".80"/>
<path d="M365.8 65L368.1 67.2L371.5 65.7L369.2 63.6Z" fill="#4756f7" stroke-opacity=".80"/>
<path d="M420.2 70.4L422.5 72.1L425.9 70.5L423.6 68.9Z" fill="#406cfe" stroke-opacity=".80"/>
<path d="M474.6 70.6L476.9 71.9L480.3 70.2L478 68.9Z" fill="#4853f5" stroke-opacity=".74"/>
<path d="M360 64L362.3 66.4L365.8 65L363.4 62.7Z" fill="#4851f3" stroke-opacity=".80"/>
<path d="M414.4 70.3L416.7 72L420.2 70.4L417.8 68.8Z" fill="#406dfe" stroke-opacity=".80"/>
<path d="M468.8 70.9L471.1 72.3L474.6 70.6L472.2 69.2Z" fill="#4758f8" stroke-opacity=".76"/>
<path d="M408.6 70.1L411 71.9L414.4 70.3L412 68.6Z" fill="#406dfe" stroke-opacity=".80"/>
<path d="M463 71.2L465.4 72.6L468.8 70.9L466.4 69.6Z" fill="#475cfa" stroke-opacity=".78"/>
<path d="M354.2 62.9L356.6 65.4L360 64L357.6 61.6Z" fill="#484aee" stroke-opacity=".80"/>
<path d="M348.4 61.5L350.8 64.2L354.2 62.9L351.8 60.3Z" fill="#4741e5" stroke-opacity=".80"/>
<path d="M402.8 69.9L405.2 71.7L408.6 70.1L406.2 68.4Z" fill="#406dfe" stroke-opacity=".80"/>
<path d="M457.2 71.5L459.6 73L463 71.2L460.6 69.8Z" fill="#4660fc" stroke-opacity=".79"/>
<path d="M511.6 69.2L514 70.4L517.4 68.7L515 67.6Z" fill="#4435d0" stroke-opacity=".68"/>
<path d="M451.4 71.8L453.8 73.2L457.2 71.5L454.9 70.1Z" fill="#4465fd" stroke-opacity=".80"/>
<path d="M505.8 69.7L508.2 70.9L511.6 69.2L509.2 68.1Z" fill="#463ada" stroke-opacity=".69"/>
<path d="M342.6 59.8L345 62.7L348.4 61.5L346.1 58.7Z" fill="#4536d5" stroke-opacity=".80"/>
<path d="M397 69.6L399.4 71.4L402.8 69.9L400.5 68.1Z" fill="#406cfe" stroke-opacity=".80"/>
<path d="M445.7 71.9L448 73.4L451.4 71.8L449.1 70.3Z" fill="#4368fe" stroke-opacity=".80"/>
<path d="M336.9 57.6L339.2 60.9L342.6 59.8L340.3 56.7Z" fill="#412cb9" stroke-opacity=".80"/>
<path d="M391.3 69.2L393.6 71.1L397 69.6L394.7 67.7Z" fill="#416bfe" stroke-opacity=".80"/>
<path d="M500 70.2L502.4 71.4L505.8 69.7L503.5 68.5Z" fill="#473fe3" stroke-opacity=".70"/>
<path d="M385.5 68.8L387.8 70.8L391.3 69.2L388.9 67.3Z" fill="#4369fe" stroke-opacity=".80"/>
<path d="M439.9 72L442.2 73.6L445.7 71.9L443.3 70.4Z" fill="#416bfe" stroke-opacity=".80"/>
<path d="M494.3 70.7L496.6 71.9L500 70.2L497.7 69Z" fill="#4745e9" stroke-opacity=".71"/>
<path d="M379.7 68.4L382.1 70.4L385.5 68.8L383.1 66.9Z" fill="#4466fd" stroke-opacity=".80"/>
<path d="M434.1 72.1L436.4 73.7L439.9 72L437.5 70.5Z" fill="#3f6dfe" stroke-opacity=".80"/>
<path d="M488.5 71.1L490.8 72.4L494.3 70.7L491.9 69.4Z" fill="#484aee" stroke-opacity=".72"/>
<path d="M482.7 71.5L485.1 72.8L488.5 71.1L486.1 69.8Z" fill="#4850f2" stroke-opacity=".74"/>
<path d="M373.9 67.8L376.3 69.9L379.7 68.4L377.3 66.4Z" fill="#4563fd" stroke-opacity=".80"/>
<path d="M428.3 72.1L430.7 73.7L434.1 72.1L431.7 70.5Z" fill="#3e70ff" stroke-opacity=".80"/>
<path d="M368.1 67.2L370.5 69.4L373.9 67.8L371.5 65.7Z" fill="#4660fb" stroke-opacity=".80"/>
<path d="M422.5 72.1L424.9 73.8L428.3 72.1L425.9 70.5Z" fill="#3c71ff" stroke-opacity=".80"/>
<path d="M476.9 71.9L479.3 73.2L482.7 71.5L480.3 70.2Z" fill="#4755f6" stroke-opacity=".75"/>
<path d="M362.3 66.4L364.7 68.7L368.1 67.2L365.8 65Z" fill="#475bfa" stroke-opacity=".80"/>
<path d="M416.7 72L419.1 73.7L422.5 72.1L420.2 70.4Z" fill="#3b73fe" stroke-opacity=".80"/>
<path d="M471.1 72.3L473.5 73.7L476.9 71.9L474.6 70.6Z" fill="#475af9" stroke-opacity=".77"/>
<path d="M356.6 65.4L358.9 67.9L362.3 66.4L360 64Z" fill="#4756f6" stroke-opacity=".80"/>
<path d="M411 71.9L413.3 73.6L416.7 72L414.4 70.3Z" fill="#3a74fe" stroke-opacity=".80"/>
<path d="M465.4 72.6L467.7 74L471.1 72.3L468.8 70.9Z" fill="#465ffb" stroke-opacity=".78"/>
<path d="M405.2 71.7L407.5 73.5L411 71.9L408.6 70.1Z" fill="#3a74fe" stroke-opacity=".80"/>
<path d="M459.6 73L461.9 74.4L465.4 72.6L463 71.2Z" fill="#4564fd" stroke-opacity=".80"/>
<path d="M350.8 64.2L353.1 66.9L356.6 65.4L354.2 62.9Z" fill="#484ef1" stroke-opacity=".80"/>
<path d="M345 62.7L347.4 65.6L350.8 64.2L348.4 61.5Z" fill="#4745e9" stroke-opacity=".80"/>
<path d="M399.4 71.4L401.8 73.3L405.2 71.7L402.8 69.9Z" fill="#3a73fe" stroke-opacity=".80"/>
<path d="M453.8 73.2L456.2 74.7L459.6 73L457.2 71.5Z" fill="#4368fe" stroke-opacity=".80"/>
<path d="M508.2 70.9L510.6 72.1L514 70.4L511.6 69.2Z" fill="#463adc" stroke-opacity=".70"/>
<path d="M448 73.4L450.4 74.9L453.8 73.2L451.4 71.8Z" fill="#406cfe" stroke-opacity=".80"/>
<path d="M502.4 71.4L504.8 72.6L508.2 70.9L505.8 69.7Z" fill="#4740e4" stroke-opacity=".71"/>
<path d="M339.2 60.9L341.6 64L345 62.7L342.6 59.8Z" fill="#4639d9" stroke-opacity=".80"/>
<path d="M393.6 71.1L396 73L399.4 71.4L397 69.6Z" fill="#3b72fe" stroke-opacity=".80"/>
<path d="M387.8 70.8L390.2 72.7L393.6 71.1L391.3 69.2Z" fill="#3d71ff" stroke-opacity=".80"/>
<path d="M442.2 73.6L444.6 75.1L448 73.4L445.7 71.9Z" fill="#3e6fff" stroke-opacity=".80"/>
<path d="M496.6 71.9L499 73.2L502.4 71.4L500 70.2Z" fill="#4746eb" stroke-opacity=".72"/>
<path d="M333.4 58.5L335.8 62L339.2 60.9L336.9 57.6Z" fill="#412dbc" stroke-opacity=".80"/>
<path d="M382.1 70.4L384.4 72.3L387.8 70.8L385.5 68.8Z" fill="#3f6fff" stroke-opacity=".80"/>
<path d="M436.4 73.7L438.8 75.2L442.2 73.6L439.9 72Z" fill="#3b72ff" stroke-opacity=".80"/>
<path d="M490.8 72.4L493.2 73.6L496.6 71.9L494.3 70.7Z" fill="#484cf0" stroke-opacity=".73"/>
<path d="M485.1 72.8L487.4 74.1L490.8 72.4L488.5 71.1Z" fill="#4852f4" stroke-opacity=".75"/>
<path d="M376.3 69.9L378.6 71.9L382.1 70.4L379.7 68.4Z" fill="#406cfe" stroke-opacity=".80"/>
<path d="M430.7 73.7L433 75.4L436.4 73.7L434.1 72.1Z" fill="#3975fe" stroke-opacity=".80"/>
<path d="M370.5 69.4L372.9 71.5L376.3 69.9L373.9 67.8Z" fill="#4269fe" stroke-opacity=".80"/>
<path d="M424.9 73.8L427.2 75.4L430.7 73.7L428.3 72.1Z" fill="#3777fe" stroke-opacity=".80"/>
<path d="M479.3 73.2L481.6 74.6L485.1 72.8L482.7 71.5Z" fill="#4757f7" stroke-opacity=".76"/>
<path d="M364.7 68.7L367.1 70.9L370.5 69.4L368.1 67.2Z" fill="#4466fd" stroke-opacity=".80"/>
<path d="M419.1 73.7L421.5 75.4L424.9 73.8L422.5 72.1Z" fill="#3579fd" stroke-opacity=".80"/>
<path d="M473.5 73.7L475.9 75L479.3 73.2L476.9 71.9Z" fill="#475cfa" stroke-opacity=".77"/>
<path d="M413.3 73.6L415.7 75.4L419.1 73.7L416.7 72Z" fill="#347afd" stroke-opacity=".80"/>
<path d="M358.9 67.9L361.3 70.3L364.7 68.7L362.3 66.4Z" fill="#4561fc" stroke-opacity=".80"/>
<path d="M467.7 74L470.1 75.4L473.5 73.7L471.1 72.3Z" fill="#4562fc" stroke-opacity=".79"/>
<path d="M353.1 66.9L355.5 69.5L358.9 67.9L356.6 65.4Z" fill="#475bf9" stroke-opacity=".80"/>
<path d="M407.5 73.5L409.9 75.3L413.3 73.6L411 71.9Z" fill="#337bfd" stroke-opacity=".80"/>
<path d="M461.9 74.4L464.3 75.9L467.7 74L465.4 72.6Z" fill="#4367fd" stroke-opacity=".80"/>
<path d="M456.2 74.7L458.5 76.2L461.9 74.4L459.6 73Z" fill="#416cfe" stroke-opacity=".80"/>
<path d="M347.4 65.6L349.7 68.4L353.1 66.9L350.8 64.2Z" fill="#4853f5" stroke-opacity=".80"/>
<path d="M401.8 73.3L404.1 75.1L407.5 73.5L405.2 71.7Z" fill="#337bfd" stroke-opacity=".80"/>
<path d="M341.6 64L343.9 67L347.4 65.6L345 62.7Z" fill="#4849ed" stroke-opacity=".80"/>
<path d="M396 73L398.3 74.9L401.8 73.3L399.4 71.4Z" fill="#347afd" stroke-opacity=".80"/>
<path d="M450.4 74.9L452.7 76.4L456.2 74.7L453.8 73.2Z" fill="#3d70ff" stroke-opacity=".80"/>
<path d="M504.8 72.6L507.1 73.9L510.6 72.1L508.2 70.9Z" fill="#4742e6" stroke-opacity=".71"/>
<path d="M499 73.2L501.3 74.4L504.8 72.6L502.4 71.4Z" fill="#4848ec" stroke-opacity=".73"/>
<path d="M335.8 62L338.2 65.3L341.6 64L339.2 60.9Z" fill="#463cde" stroke-opacity=".80"/>
<path d="M390.2 72.7L392.6 74.6L396 73L393.6 71.1Z" fill="#3579fd" stroke-opacity=".80"/>
<path d="M444.6 75.1L447 76.6L450.4 74.9L448 73.4Z" fill="#3a74fe" stroke-opacity=".80"/>
<path d="M384.4 72.3L386.8 74.3L390.2 72.7L387.8 70.8Z" fill="#3677fe" stroke-opacity=".80"/>
<path d="M438.8 75.2L441.2 76.8L444.6 75.1L442.2 73.6Z" fill="#3777fe" stroke-opacity=".80"/>
<path d="M330 59.4L332.4 63.1L335.8 62L333.4 58.5Z" fill="#422ebf" stroke-opacity=".80"/>
<path d="M493.2 73.6L495.6 74.9L499 73.2L496.6 71.9Z" fill="#484ef1" stroke-opacity=".74"/>
<path d="M378.6 71.9L381 74L384.4 72.3L382.1 70.4Z" fill="#3875fe" stroke-opacity=".80"/>
<path d="M433 75.4L435.4 77L438.8 75.2L436.4 73.7Z" fill="#347afd" stroke-opacity=".80"/>
<path d="M487.4 74.1L489.8 75.4L493.2 73.6L490.8 72.4Z" fill="#4854f5" stroke-opacity=".75"/>
<path d="M372.9 71.5L375.2 73.6L378.6 71.9L376.3 69.9Z" fill="#3b73fe" stroke-opacity=".80"/>
<path d="M427.2 75.4L429.6 77.1L433 75.4L430.7 73.7Z" fill="#317dfc" stroke-opacity=".80"/>
<path d="M481.6 74.6L484 75.9L487.4 74.1L485.1 72.8Z" fill="#4759f9" stroke-opacity=".77"/>
<path d="M367.1 70.9L369.4 73.1L372.9 71.5L370.5 69.4Z" fill="#3e70ff" stroke-opacity=".80"/>
<path d="M421.5 75.4L423.8 77.1L427.2 75.4L424.9 73.8Z" fill="#307ffb" stroke-opacity=".80"/>
<path d="M475.9 75L478.2 76.4L481.6 74.6L479.3 73.2Z" fill="#465ffb" stroke-opacity=".78"/>
<path d="M361.3 70.3L363.7 72.6L367.1 70.9L364.7 68.7Z" fill="#406cfe" stroke-opacity=".80"/>
<path d="M415.7 75.4L418 77.1L421.5 75.4L419.1 73.7Z" fill="#2f80fa" stroke-opacity=".80"/>
<path d="M470.1 75.4L472.4 76.9L475.9 75L473.5 73.7Z" fill="#4464fd" stroke-opacity=".80"/>
<path d="M409.9 75.3L412.3 77.1L415.7 75.4L413.3 73.6Z" fill="#2f81fa" stroke-opacity=".80"/>
<path d="M355.5 69.5L357.9 72L361.3 70.3L358.9 67.9Z" fill="#4367fd" stroke-opacity=".80"/>
<path d="M464.3 75.9L466.7 77.3L470.1 75.4L467.7 74Z" fill="#426afe" stroke-opacity=".80"/>
<path d="M458.5 76.2L460.9 77.7L464.3 75.9L461.9 74.4Z" fill="#3e6fff" stroke-opacity=".80"/>
<path d="M349.7 68.4L352.1 71.1L355.5 69.5L353.1 66.9Z" fill="#4561fc" stroke-opacity=".80"/>
<path d="M404.1 75.1L406.5 76.9L409.9 75.3L407.5 73.5Z" fill="#2f82fa" stroke-opacity=".80"/>
<path d="M452.7 76.4L455.1 78L458.5 76.2L456.2 74.7Z" fill="#3974fe" stroke-opacity=".80"/>
<path d="M398.3 74.9L400.7 76.8L404.1 75.1L401.8 73.3Z" fill="#2f81fa" stroke-opacity=".80"/>
<path d="M343.9 67L346.3 70L349.7 68.4L347.4 65.6Z" fill="#4759f8" stroke-opacity=".80"/>
<path d="M338.2 65.3L340.5 68.5L343.9 67L341.6 64Z" fill="#484ef1" stroke-opacity=".80"/>
<path d="M392.6 74.6L394.9 76.5L398.3 74.9L396 73Z" fill="#2f81fa" stroke-opacity=".80"/>
<path d="M501.3 74.4L503.7 75.6L507.1 73.9L504.8 72.6Z" fill="#4849ed" stroke-opacity=".73"/>
<path d="M447 76.6L449.3 78.2L452.7 76.4L450.4 74.9Z" fill="#3578fd" stroke-opacity=".80"/>
<path d="M386.8 74.3L389.1 76.3L392.6 74.6L390.2 72.7Z" fill="#3080fb" stroke-opacity=".80"/>
<path d="M332.4 63.1L334.7 66.6L338.2 65.3L335.8 62Z" fill="#473fe3" stroke-opacity=".80"/>
<path d="M441.2 76.8L443.5 78.4L447 76.6L444.6 75.1Z" fill="#327cfc" stroke-opacity=".80"/>
<path d="M495.6 74.9L497.9 76.2L501.3 74.4L499 73.2Z" fill="#484ff2" stroke-opacity=".75"/>
<path d="M326.6 60.2L329 64.2L332.4 63.1L330 59.4Z" fill="#4230c3" stroke-opacity=".80"/>
<path d="M381 74L383.4 76L386.8 74.3L384.4 72.3Z" fill="#317efb" stroke-opacity=".80"/>
<path d="M435.4 77L437.8 78.6L441.2 76.8L438.8 75.2Z" fill="#307ffb" stroke-opacity=".80"/>
<path d="M489.8 75.4L492.1 76.7L495.6 74.9L493.2 73.6Z" fill="#4756f6" stroke-opacity=".76"/>
<path d="M375.2 73.6L377.6 75.6L381 74L378.6 71.9Z" fill="#327cfc" stroke-opacity=".80"/>
<path d="M429.6 77.1L432 78.7L435.4 77L433 75.4Z" fill="#2f82fa" stroke-opacity=".80"/>
<path d="M484 75.9L486.4 77.2L489.8 75.4L487.4 74.1Z" fill="#475bfa" stroke-opacity=".78"/>
<path d="M369.4 73.1L371.8 75.3L375.2 73.6L372.9 71.5Z" fill="#347afd" stroke-opacity=".80"/>
<path d="M423.8 77.1L426.2 78.8L429.6 77.1L427.2 75.4Z" fill="#2e84f8" stroke-opacity=".80"/>
<path d="M478.2 76.4L480.6 77.8L484 75.9L481.6 74.6Z" fill="#4561fc" stroke-opacity=".79"/>
<path d="M418 77.1L420.4 78.9L423.8 77.1L421.5 75.4Z" fill="#2e86f7" stroke-opacity=".80"/>
<path d="M472.4 76.9L474.8 78.3L478.2 76.4L475.9 75Z" fill="#4367fd" stroke-opacity=".80"/>
<path d="M363.7 72.6L366 74.8L369.4 73.1L367.1 70.9Z" fill="#3677fe" stroke-opacity=".80"/>
<path d="M357.9 72L360.2 74.3L363.7 72.6L361.3 70.3Z" fill="#3a73fe" stroke-opacity=".80"/>
<path d="M412.3 77.1L414.6 78.8L418 77.1L415.7 75.4Z" fill="#2e87f7" stroke-opacity=".80"/>
<path d="M466.7 77.3L469 78.7L472.4 76.9L470.1 75.4Z" fill="#406dfe" stroke-opacity=".80"/>
<path d="M352.1 71.1L354.4 73.7L357.9 72L355.5 69.5Z" fill="#3f6fff" stroke-opacity=".80"/>
<path d="M406.5 76.9L408.8 78.8L412.3 77.1L409.9 75.3Z" fill="#2d88f6" stroke-opacity=".80"/>
<path d="M460.9 77.7L463.2 79.1L466.7 77.3L464.3 75.9Z" fill="#3a73fe" stroke-opacity=".80"/>
<path d="M455.1 78L457.5 79.5L460.9 77.7L458.5 76.2Z" fill="#3578fd" stroke-opacity=".80"/>
<path d="M346.3 70L348.7 72.8L352.1 71.1L349.7 68.4Z" fill="#4368fe" stroke-opacity=".80"/>
<path d="M400.7 76.8L403.1 78.6L406.5 76.9L404.1 75.1Z" fill="#2d88f6" stroke-opacity=".80"/>
<path d="M394.9 76.5L397.3 78.5L400.7 76.8L398.3 74.9Z" fill="#2d88f6" stroke-opacity=".80"/>
<path d="M449.3 78.2L451.7 79.7L455.1 78L452.7 76.4Z" fill="#317dfc" stroke-opacity=".80"/>
<path d="M340.5 68.5L342.9 71.6L346.3 70L343.9 67Z" fill="#465ffb" stroke-opacity=".80"/>
<path d="M389.1 76.3L391.5 78.2L394.9 76.5L392.6 74.6Z" fill="#2d87f6" stroke-opacity=".80"/>
<path d="M334.7 66.6L337.1 70L340.5 68.5L338.2 65.3Z" fill="#4853f5" stroke-opacity=".80"/>
<path d="M443.5 78.4L445.9 80L449.3 78.2L447 76.6Z" fill="#2f80fa" stroke-opacity=".80"/>
<path d="M497.9 76.2L500.3 77.5L503.7 75.6L501.3 74.4Z" fill="#4851f3" stroke-opacity=".75"/>
<path d="M329 64.2L331.3 68L334.7 66.6L332.4 63.1Z" fill="#4743e7" stroke-opacity=".80"/>
<path d="M492.1 76.7L494.5 78L497.9 76.2L495.6 74.9Z" fill="#4757f7" stroke-opacity=".77"/>
<path d="M383.4 76L385.7 78L389.1 76.3L386.8 74.3Z" fill="#2e86f7" stroke-opacity=".80"/>
<path d="M437.8 78.6L440.1 80.2L443.5 78.4L441.2 76.8Z" fill="#2e84f9" stroke-opacity=".80"/>
<path d="M377.6 75.6L379.9 77.7L383.4 76L381 74Z" fill="#2e85f8" stroke-opacity=".80"/>
<path d="M432 78.7L434.3 80.4L437.8 78.6L435.4 77Z" fill="#2e87f7" stroke-opacity=".80"/>
<path d="M486.4 77.2L488.7 78.6L492.1 76.7L489.8 75.4Z" fill="#465efb" stroke-opacity=".78"/>
<path d="M371.8 75.3L374.2 77.4L377.6 75.6L375.2 73.6Z" fill="#2e83f9" stroke-opacity=".80"/>
<path d="M426.2 78.8L428.6 80.5L432 78.7L429.6 77.1Z" fill="#2d89f5" stroke-opacity=".80"/>
<path d="M480.6 77.8L482.9 79.1L486.4 77.2L484 75.9Z" fill="#4564fd" stroke-opacity=".80"/>
<path d="M366 74.8L368.4 77L371.8 75.3L369.4 73.1Z" fill="#2f82fa" stroke-opacity=".80"/>
<path d="M420.4 78.9L422.8 80.6L426.2 78.8L423.8 77.1Z" fill="#2d8bf3" stroke-opacity=".80"/>
<path d="M474.8 78.3L477.2 79.7L480.6 77.8L478.2 76.4Z" fill="#426afe" stroke-opacity=".80"/>
<path d="M414.6 78.8L417 80.6L420.4 78.9L418 77.1Z" fill="#2d8df2" stroke-opacity=".80"/>
<path d="M469 78.7L471.4 80.2L474.8 78.3L472.4 76.9Z" fill="#3d71ff" stroke-opacity=".80"/>
<path d="M360.2 74.3L362.6 76.6L366 74.8L363.7 72.6Z" fill="#307ffb" stroke-opacity=".80"/>
<path d="M463.2 79.1L465.6 80.6L469 78.7L466.7 77.3Z" fill="#3777fe" stroke-opacity=".80"/>
<path d="M354.4 73.7L356.8 76.2L360.2 74.3L357.9 72Z" fill="#327cfc" stroke-opacity=".80"/>
<path d="M408.8 78.8L411.2 80.6L414.6 78.8L412.3 77.1Z" fill="#2c8ef1" stroke-opacity=".80"/>
<path d="M403.1 78.6L405.4 80.5L408.8 78.8L406.5 76.9Z" fill="#2c8ff1" stroke-opacity=".80"/>
<path d="M457.5 79.5L459.8 81L463.2 79.1L460.9 77.7Z" fill="#327cfc" stroke-opacity=".80"/>
<path d="M348.7 72.8L351 75.5L354.4 73.7L352.1 71.1Z" fill="#3777fe" stroke-opacity=".80"/>
<path d="M342.9 71.6L345.2 74.6L348.7 72.8L346.3 70Z" fill="#3e6fff" stroke-opacity=".80"/>
<path d="M397.3 78.5L399.6 80.4L403.1 78.6L400.7 76.8Z" fill="#2c8ff1" stroke-opacity=".80"/>
<path d="M451.7 79.7L454 81.3L457.5 79.5L455.1 78Z" fill="#2f81fa" stroke-opacity=".80"/>
<path d="M391.5 78.2L393.9 80.2L397.3 78.5L394.9 76.5Z" fill="#2c8ff1" stroke-opacity=".80"/>
<path d="M445.9 80L448.3 81.6L451.7 79.7L449.3 78.2Z" fill="#2e85f8" stroke-opacity=".80"/>
<path d="M337.1 70L339.5 73.3L342.9 71.6L340.5 68.5Z" fill="#4465fd" stroke-opacity=".80"/>
<path d="M331.3 68L333.7 71.6L337.1 70L334.7 66.6Z" fill="#4758f8" stroke-opacity=".80"/>
<path d="M385.7 78L388.1 80L391.5 78.2L389.1 76.3Z" fill="#2c8ef1" stroke-opacity=".80"/>
<path d="M494.5 78L496.9 79.3L500.3 77.5L497.9 76.2Z" fill="#4759f9" stroke-opacity=".78"/>
<path d="M440.1 80.2L442.5 81.8L445.9 80L443.5 78.4Z" fill="#2d88f6" stroke-opacity=".80"/>
<path d="M379.9 77.7L382.3 79.8L385.7 78L383.4 76Z" fill="#2d8df2" stroke-opacity=".80"/>
<path d="M434.3 80.4L436.7 82.1L440.1 80.2L437.8 78.6Z" fill="#2d8cf3" stroke-opacity=".80"/>
<path d="M488.7 78.6L491.1 79.9L494.5 78L492.1 76.7Z" fill="#4660fb" stroke-opacity=".79"/>
<path d="M374.2 77.4L376.5 79.5L379.9 77.7L377.6 75.6Z" fill="#2d8cf3" stroke-opacity=".80"/>
<path d="M428.6 80.5L430.9 82.2L434.3 80.4L432 78.7Z" fill="#2c8ef1" stroke-opacity=".80"/>
<path d="M482.9 79.1L485.3 80.5L488.7 78.6L486.4 77.2Z" fill="#4366fd" stroke-opacity=".80"/>
<path d="M422.8 80.6L425.1 82.3L428.6 80.5L426.2 78.8Z" fill="#2b91ef" stroke-opacity=".80"/>
<path d="M368.4 77L370.7 79.2L374.2 77.4L371.8 75.3Z" fill="#2d8bf4" stroke-opacity=".80"/>
<path d="M477.2 79.7L479.5 81.1L482.9 79.1L480.6 77.8Z" fill="#406dfe" stroke-opacity=".80"/>
<path d="M362.6 76.6L365 78.9L368.4 77L366 74.8Z" fill="#2d89f5" stroke-opacity=".80"/>
<path d="M417 80.6L419.4 82.4L422.8 80.6L420.4 78.9Z" fill="#2a93ee" stroke-opacity=".80"/>
<path d="M471.4 80.2L473.7 81.6L477.2 79.7L474.8 78.3Z" fill="#3a74fe" stroke-opacity=".80"/>
<path d="M465.6 80.6L468 82.1L471.4 80.2L469 78.7Z" fill="#337bfd" stroke-opacity=".80"/>
<path d="M356.8 76.2L359.2 78.5L362.6 76.6L360.2 74.3Z" fill="#2e87f7" stroke-opacity=".80"/>
<path d="M411.2 80.6L413.6 82.4L417 80.6L414.6 78.8Z" fill="#2994ed" stroke-opacity=".80"/>
<path d="M459.8 81L462.2 82.5L465.6 80.6L463.2 79.1Z" fill="#2f80fa" stroke-opacity=".80"/>
<path d="M351 75.5L353.4 78.1L356.8 76.2L354.4 73.7Z" fill="#2e84f8" stroke-opacity=".80"/>
<path d="M405.4 80.5L407.8 82.4L411.2 80.6L408.8 78.8Z" fill="#2895ec" stroke-opacity=".80"/>
<path d="M399.6 80.4L402 82.3L405.4 80.5L403.1 78.6Z" fill="#2895ec" stroke-opacity=".80"/>
<path d="M345.2 74.6L347.6 77.4L351 75.5L348.7 72.8Z" fill="#3080fb" stroke-opacity=".80"/>
<path d="M454 81.3L456.4 82.8L459.8 81L457.5 79.5Z" fill="#2e85f8" stroke-opacity=".80"/>
<path d="M393.9 80.2L396.2 82.2L399.6 80.4L397.3 78.5Z" fill="#2896ec" stroke-opacity=".80"/>
<path d="M448.3 81.6L450.6 83.1L454 81.3L451.7 79.7Z" fill="#2d89f5" stroke-opacity=".80"/>
<path d="M339.5 73.3L341.8 76.4L345.2 74.6L342.9 71.6Z" fill="#3678fd" stroke-opacity=".80"/>
<path d="M333.7 71.6L336 75.1L339.5 73.3L337.1 70Z" fill="#406dfe" stroke-opacity=".80"/>
<path d="M388.1 80L390.4 82L393.9 80.2L391.5 78.2Z" fill="#2896ec" stroke-opacity=".80"/>
<path d="M442.5 81.8L444.8 83.5L448.3 81.6L445.9 80Z" fill="#2d8df2" stroke-opacity=".80"/>
<path d="M382.3 79.8L384.7 81.8L388.1 80L385.7 78Z" fill="#2895ec" stroke-opacity=".80"/>
<path d="M436.7 82.1L439.1 83.7L442.5 81.8L440.1 80.2Z" fill="#2b90f0" stroke-opacity=".80"/>
<path d="M491.1 79.9L493.5 81.3L496.9 79.3L494.5 78Z" fill="#4562fc" stroke-opacity=".80"/>
<path d="M376.5 79.5L378.9 81.6L382.3 79.8L379.9 77.7Z" fill="#2994ed" stroke-opacity=".80"/>
<path d="M430.9 82.2L433.3 83.9L436.7 82.1L434.3 80.4Z" fill="#2a93ed" stroke-opacity=".80"/>
<path d="M485.3 80.5L487.7 81.9L491.1 79.9L488.7 78.6Z" fill="#4269fe" stroke-opacity=".80"/>
<path d="M425.1 82.3L427.5 84.1L430.9 82.2L428.6 80.5Z" fill="#2896eb" stroke-opacity=".80"/>
<path d="M370.7 79.2L373.1 81.4L376.5 79.5L374.2 77.4Z" fill="#2994ed" stroke-opacity=".80"/>
<path d="M479.5 81.1L481.9 82.5L485.3 80.5L482.9 79.1Z" fill="#3d70ff" stroke-opacity=".80"/>
<path d="M419.4 82.4L421.7 84.2L425.1 82.3L422.8 80.6Z" fill="#2798ea" stroke-opacity=".80"/>
<path d="M365 78.9L367.3 81.1L370.7 79.2L368.4 77Z" fill="#2a92ee" stroke-opacity=".80"/>
<path d="M473.7 81.6L476.1 83L479.5 81.1L477.2 79.7Z" fill="#3677fe" stroke-opacity=".80"/>
<path d="M468 82.1L470.3 83.6L473.7 81.6L471.4 80.2Z" fill="#317efb" stroke-opacity=".80"/>
<path d="M359.2 78.5L361.5 80.8L365 78.9L362.6 76.6Z" fill="#2b91ef" stroke-opacity=".80"/>
<path d="M413.6 82.4L415.9 84.2L419.4 82.4L417 80.6Z" fill="#269ae9" stroke-opacity=".80"/>
<path d="M462.2 82.5L464.5 84L468 82.1L465.6 80.6Z" fill="#2e84f8" stroke-opacity=".80"/>
<path d="M353.4 78.1L355.8 80.5L359.2 78.5L356.8 76.2Z" fill="#2c8ff0" stroke-opacity=".80"/>
<path d="M407.8 82.4L410.1 84.2L413.6 82.4L411.2 80.6Z" fill="#259be8" stroke-opacity=".80"/>
<path d="M347.6 77.4L350 80L353.4 78.1L351 75.5Z" fill="#2d8df2" stroke-opacity=".80"/>
<path d="M402 82.3L404.4 84.2L407.8 82.4L405.4 80.5Z" fill="#259ce7" stroke-opacity=".80"/>
<path d="M456.4 82.8L458.8 84.4L462.2 82.5L459.8 81Z" fill="#2d89f5" stroke-opacity=".80"/>
<path d="M396.2 82.2L398.6 84.1L402 82.3L399.6 80.4Z" fill="#259ce7" stroke-opacity=".80"/>
<path d="M341.8 76.4L344.2 79.4L347.6 77.4L345.2 74.6Z" fill="#2d88f6" stroke-opacity=".80"/>
<path d="M450.6 83.1L453 84.7L456.4 82.8L454 81.3Z" fill="#2d8df2" stroke-opacity=".80"/>
<path d="M336 75.1L338.4 78.4L341.8 76.4L339.5 73.3Z" fill="#2f81fa" stroke-opacity=".80"/>
<path d="M390.4 82L392.8 84L396.2 82.2L393.9 80.2Z" fill="#259ce7" stroke-opacity=".80"/>
<path d="M444.8 83.5L447.2 85.1L450.6 83.1L448.3 81.6Z" fill="#2b91ef" stroke-opacity=".80"/>
<path d="M384.7 81.8L387 83.9L390.4 82L388.1 80Z" fill="#259ce7" stroke-opacity=".80"/>
<path d="M439.1 83.7L441.4 85.4L444.8 83.5L442.5 81.8Z" fill="#2995ec" stroke-opacity=".80"/>
<path d="M378.9 81.6L381.2 83.7L384.7 81.8L382.3 79.8Z" fill="#259ce7" stroke-opacity=".80"/>
<path d="M433.3 83.9L435.6 85.6L439.1 83.7L436.7 82.1Z" fill="#2798ea" stroke-opacity=".80"/>
<path d="M487.7 81.9L490 83.2L493.5 81.3L491.1 79.9Z" fill="#416cfe" stroke-opacity=".80"/>
<path d="M373.1 81.4L375.5 83.5L378.9 81.6L376.5 79.5Z" fill="#259ce7" stroke-opacity=".80"/>
<path d="M427.5 84.1L429.9 85.8L433.3 83.9L430.9 82.2Z" fill="#259be8" stroke-opacity=".80"/>
<path d="M481.9 82.5L484.3 83.9L487.7 81.9L485.3 80.5Z" fill="#3a73fe" stroke-opacity=".80"/>
<path d="M421.7 84.2L424.1 85.9L427.5 84.1L425.1 82.3Z" fill="#249de6" stroke-opacity=".80"/>
<path d="M367.3 81.1L369.7 83.3L373.1 81.4L370.7 79.2Z" fill="#259be8" stroke-opacity=".80"/>
<path d="M476.1 83L478.5 84.5L481.9 82.5L479.5 81.1Z" fill="#337bfd" stroke-opacity=".80"/>
<path d="M361.5 80.8L363.9 83.1L367.3 81.1L365 78.9Z" fill="#269ae8" stroke-opacity=".80"/>
<path d="M415.9 84.2L418.3 86L421.7 84.2L419.4 82.4Z" fill="#249fe5" stroke-opacity=".80"/>
<path d="M470.3 83.6L472.7 85L476.1 83L473.7 81.6Z" fill="#2f82fa" stroke-opacity=".80"/>
<path d="M464.5 84L466.9 85.5L470.3 83.6L468 82.1Z" fill="#2d88f6" stroke-opacity=".80"/>
<path d="M355.8 80.5L358.1 82.9L361.5 80.8L359.2 78.5Z" fill="#2699e9" stroke-opacity=".80"/>
<path d="M410.1 84.2L412.5 86L415.9 84.2L413.6 82.4Z" fill="#23a0e5" stroke-opacity=".80"/>
<path d="M350 80L352.3 82.6L355.8 80.5L353.4 78.1Z" fill="#2798ea" stroke-opacity=".80"/>
<path d="M404.4 84.2L406.7 86L410.1 84.2L407.8 82.4Z" fill="#22a2e4" stroke-opacity=".80"/>
<path d="M458.8 84.4L461.1 85.9L464.5 84L462.2 82.5Z" fill="#2d8df3" stroke-opacity=".80"/>
<path d="M344.2 79.4L346.6 82.1L350 80L347.6 77.4Z" fill="#2896ec" stroke-opacity=".80"/>
<path d="M398.6 84.1L400.9 86L404.4 84.2L402 82.3Z" fill="#21a2e4" stroke-opacity=".80"/>
<path d="M453 84.7L455.3 86.3L458.8 84.4L456.4 82.8Z" fill="#2b91ef" stroke-opacity=".80"/>
<path d="M338.4 78.4L340.8 81.5L344.2 79.4L341.8 76.4Z" fill="#2b91ef" stroke-opacity=".80"/>
<path d="M392.8 84L395.2 86L398.6 84.1L396.2 82.2Z" fill="#21a3e3" stroke-opacity=".80"/>
<path d="M447.2 85.1L449.6 86.7L453 84.7L450.6 83.1Z" fill="#2895ec" stroke-opacity=".80"/>
<path d="M387 83.9L389.4 85.9L392.8 84L390.4 82Z" fill="#21a3e3" stroke-opacity=".80"/>
<path d="M441.4 85.4L443.8 87L447.2 85.1L444.8 83.5Z" fill="#2699e9" stroke-opacity=".80"/>
<path d="M381.2 83.7L383.6 85.8L387 83.9L384.7 81.8Z" fill="#21a4e3" stroke-opacity=".80"/>
<path d="M435.6 85.6L438 87.3L441.4 85.4L439.1 83.7Z" fill="#259de7" stroke-opacity=".80"/>
<path d="M375.5 83.5L377.8 85.7L381.2 83.7L378.9 81.6Z" fill="#21a4e3" stroke-opacity=".80"/>
<path d="M429.9 85.8L432.2 87.5L435.6 85.6L433.3 83.9Z" fill="#23a0e5" stroke-opacity=".80"/>
<path d="M484.3 83.9L486.6 85.3L490 83.2L487.7 81.9Z" fill="#3776fe" stroke-opacity=".80"/>
<path d="M369.7 83.3L372 85.5L375.5 83.5L373.1 81.4Z" fill="#21a3e3" stroke-opacity=".80"/>
<path d="M424.1 85.9L426.4 87.7L429.9 85.8L427.5 84.1Z" fill="#22a2e4" stroke-opacity=".80"/>
<path d="M478.5 84.5L480.8 85.9L484.3 83.9L481.9 82.5Z" fill="#317efb" stroke-opacity=".80"/>
<path d="M363.9 83.1L366.3 85.4L369.7 83.3L367.3 81.1Z" fill="#21a3e3" stroke-opacity=".80"/>
<path d="M418.3 86L420.7 87.8L424.1 85.9L421.7 84.2Z" fill="#20a4e3" stroke-opacity=".80"/>
<path d="M472.7 85L475 86.5L478.5 84.5L476.1 83Z" fill="#2e85f8" stroke-opacity=".80"/>
<path d="M358.1 82.9L360.5 85.2L363.9 83.1L361.5 80.8Z" fill="#21a3e4" stroke-opacity=".80"/>
<path d="M412.5 86L414.9 87.9L418.3 86L415.9 84.2Z" fill="#1fa6e2" stroke-opacity=".80"/>
<path d="M466.9 85.5L469.3 87L472.7 85L470.3 83.6Z" fill="#2d8bf4" stroke-opacity=".80"/>
<path d="M352.3 82.6L354.7 85L358.1 82.9L355.8 80.5Z" fill="#22a2e4" stroke-opacity=".80"/>
<path d="M406.7 86L409.1 87.9L412.5 86L410.1 84.2Z" fill="#1ea7e1" stroke-opacity=".80"/>
<path d="M461.1 85.9L463.5 87.4L466.9 85.5L464.5 84Z" fill="#2b90f0" stroke-opacity=".80"/>
<path d="M400.9 86L403.3 87.9L406.7 86L404.4 84.2Z" fill="#1da8e0" stroke-opacity=".80"/>
<path d="M455.3 86.3L457.7 87.9L461.1 85.9L458.8 84.4Z" fill="#2995ec" stroke-opacity=".80"/>
<path d="M346.6 82.1L348.9 84.7L352.3 82.6L350 80Z" fill="#23a1e4" stroke-opacity=".80"/>
<path d="M340.8 81.5L343.1 84.3L346.6 82.1L344.2 79.4Z" fill="#249fe6" stroke-opacity=".80"/>
<path d="M395.2 86L397.5 87.9L400.9 86L398.6 84.1Z" fill="#1ca9df" stroke-opacity=".80"/>
<path d="M449.6 86.7L451.9 88.3L455.3 86.3L453 84.7Z" fill="#2699e9" stroke-opacity=".80"/>
<path d="M389.4 85.9L391.7 87.9L395.2 86L392.8 84Z" fill="#1caadf" stroke-opacity=".80"/>
<path d="M443.8 87L446.1 88.7L449.6 86.7L447.2 85.1Z" fill="#249de6" stroke-opacity=".80"/>
<path d="M383.6 85.8L386 87.8L389.4 85.9L387 83.9Z" fill="#1baade" stroke-opacity=".80"/>
<path d="M438 87.3L440.4 89L443.8 87L441.4 85.4Z" fill="#22a1e4" stroke-opacity=".80"/>
<path d="M432.2 87.5L434.6 89.3L438 87.3L435.6 85.6Z" fill="#20a4e3" stroke-opacity=".80"/>
<path d="M377.8 85.7L380.2 87.8L383.6 85.8L381.2 83.7Z" fill="#1babde" stroke-opacity=".80"/>
<path d="M372 85.5L374.4 87.7L377.8 85.7L375.5 83.5Z" fill="#1babde" stroke-opacity=".80"/>
<path d="M426.4 87.7L428.8 89.5L432.2 87.5L429.9 85.8Z" fill="#1ea7e1" stroke-opacity=".80"/>
<path d="M480.8 85.9L483.2 87.4L486.6 85.3L484.3 83.9Z" fill="#2f81fa" stroke-opacity=".80"/>
<path d="M475 86.5L477.4 88L480.8 85.9L478.5 84.5Z" fill="#2d88f6" stroke-opacity=".80"/>
<path d="M366.3 85.4L368.6 87.6L372 85.5L369.7 83.3Z" fill="#1aabdd" stroke-opacity=".80"/>
<path d="M420.7 87.8L423 89.6L426.4 87.7L424.1 85.9Z" fill="#1ca9df" stroke-opacity=".80"/>
<path d="M360.5 85.2L362.8 87.5L366.3 85.4L363.9 83.1Z" fill="#1aabdd" stroke-opacity=".80"/>
<path d="M414.9 87.9L417.2 89.7L420.7 87.8L418.3 86Z" fill="#1aabdd" stroke-opacity=".80"/>
<path d="M469.3 87L471.6 88.5L475 86.5L472.7 85Z" fill="#2c8ff1" stroke-opacity=".80"/>
<path d="M409.1 87.9L411.5 89.8L414.9 87.9L412.5 86Z" fill="#19addc" stroke-opacity=".80"/>
<path d="M354.7 85L357.1 87.4L360.5 85.2L358.1 82.9Z" fill="#1babde" stroke-opacity=".80"/>
<path d="M463.5 87.4L465.8 89L469.3 87L466.9 85.5Z" fill="#2994ed" stroke-opacity=".80"/>
<path d="M348.9 84.7L351.3 87.2L354.7 85L352.3 82.6Z" fill="#1babde" stroke-opacity=".80"/>
<path d="M403.3 87.9L405.7 89.8L409.1 87.9L406.7 86Z" fill="#17aeda" stroke-opacity=".80"/>
<path d="M457.7 87.9L460.1 89.4L463.5 87.4L461.1 85.9Z" fill="#2699ea" stroke-opacity=".80"/>
<path d="M343.1 84.3L345.5 87L348.9 84.7L346.6 82.1Z" fill="#1caadf" stroke-opacity=".80"/>
<path d="M397.5 87.9L399.9 89.9L403.3 87.9L400.9 86Z" fill="#16afd9" stroke-opacity=".80"/>
<path d="M451.9 88.3L454.3 89.9L457.7 87.9L455.3 86.3Z" fill="#249de6" stroke-opacity=".80"/>
<path d="M391.7 87.9L394.1 89.9L397.5 87.9L395.2 86Z" fill="#14b0d8" stroke-opacity=".80"/>
<path d="M446.1 88.7L448.5 90.3L451.9 88.3L449.6 86.7Z" fill="#22a2e4" stroke-opacity=".80"/>
<path d="M386 87.8L388.3 89.9L391.7 87.9L389.4 85.9Z" fill="#13b1d7" stroke-opacity=".80"/>
<path d="M440.4 89L442.7 90.7L446.1 88.7L443.8 87Z" fill="#1fa6e2" stroke-opacity=".80"/>
<path d="M434.6 89.3L436.9 91L440.4 89L438 87.3Z" fill="#1da9e0" stroke-opacity=".80"/>
<path d="M380.2 87.8L382.5 89.9L386 87.8L383.6 85.8Z" fill="#12b1d6" stroke-opacity=".80"/>
<path d="M428.8 89.5L431.2 91.2L434.6 89.3L432.2 87.5Z" fill="#1aacdd" stroke-opacity=".80"/>
<path d="M374.4 87.7L376.8 89.9L380.2 87.8L377.8 85.7Z" fill="#10b2d5" stroke-opacity=".80"/>
<path d="M368.6 87.6L371 89.9L374.4 87.7L372 85.5Z" fill="#0fb2d4" stroke-opacity=".80"/>
<path d="M477.4 88L479.8 89.5L483.2 87.4L480.8 85.9Z" fill="#2d8bf3" stroke-opacity=".80"/>
<path d="M423 89.6L425.4 91.4L428.8 89.5L426.4 87.7Z" fill="#17aeda" stroke-opacity=".80"/>
<path d="M471.6 88.5L474 90L477.4 88L475 86.5Z" fill="#2b92ee" stroke-opacity=".80"/>
<path d="M362.8 87.5L365.2 89.8L368.6 87.6L366.3 85.4Z" fill="#0eb3d4" stroke-opacity=".80"/>
<path d="M417.2 89.7L419.6 91.6L423 89.6L420.7 87.8Z" fill="#14b0d8" stroke-opacity=".80"/>
<path d="M411.5 89.8L413.8 91.7L417.2 89.7L414.9 87.9Z" fill="#11b2d5" stroke-opacity=".80"/>
<path d="M357.1 87.4L359.4 89.7L362.8 87.5L360.5 85.2Z" fill="#0db3d3" stroke-opacity=".80"/>
<path d="M465.8 89L468.2 90.5L471.6 88.5L469.3 87Z" fill="#2797ea" stroke-opacity=".80"/>
<path d="M405.7 89.8L408 91.7L411.5 89.8L409.1 87.9Z" fill="#0db3d3" stroke-opacity=".80"/>
<path d="M351.3 87.2L353.6 89.6L357.1 87.4L354.7 85Z" fill="#0db3d3" stroke-opacity=".80"/>
<path d="M460.1 89.4L462.4 91L465.8 89L463.5 87.4Z" fill="#259ce7" stroke-opacity=".80"/>
<path d="M345.5 87L347.9 89.5L351.3 87.2L348.9 84.7Z" fill="#0db3d3" stroke-opacity=".80"/>
<path d="M399.9 89.9L402.3 91.8L405.7 89.8L403.3 87.9Z" fill="#0ab4d1" stroke-opacity=".80"/>
<path d="M454.3 89.9L456.6 91.5L460.1 89.4L457.7 87.9Z" fill="#22a1e4" stroke-opacity=".80"/>
<path d="M394.1 89.9L396.5 91.9L399.9 89.9L397.5 87.9Z" fill="#07b5d0" stroke-opacity=".80"/>
<path d="M448.5 90.3L450.9 92L454.3 89.9L451.9 88.3Z" fill="#1fa6e2" stroke-opacity=".80"/>
<path d="M388.3 89.9L390.7 91.9L394.1 89.9L391.7 87.9Z" fill="#05b6ce" stroke-opacity=".80"/>
<path d="M442.7 90.7L445.1 92.4L448.5 90.3L446.1 88.7Z" fill="#1caadf" stroke-opacity=".80"/>
<path d="M382.5 89.9L384.9 92L388.3 89.9L386 87.8Z" fill="#04b6cd" stroke-opacity=".80"/>
<path d="M436.9 91L439.3 92.7L442.7 90.7L440.4 89Z" fill="#19addb" stroke-opacity=".80"/>
<path d="M431.2 91.2L433.5 93L436.9 91L434.6 89.3Z" fill="#14b0d8" stroke-opacity=".80"/>
<path d="M376.8 89.9L379.1 92L382.5 89.9L380.2 87.8Z" fill="#02b7cb" stroke-opacity=".80"/>
<path d="M371 89.9L373.3 92.1L376.8 89.9L374.4 87.7Z" fill="#01b8ca" stroke-opacity=".80"/>
<path d="M425.4 91.4L427.7 93.2L431.2 91.2L428.8 89.5Z" fill="#0eb2d4" stroke-opacity=".80"/>
<path d="M365.2 89.8L367.6 92.1L371 89.9L368.6 87.6Z" fill="#01b8c8" stroke-opacity=".80"/>
<path d="M474 90L476.4 91.5L479.8 89.5L477.4 88Z" fill="#2895ec" stroke-opacity=".80"/>
<path d="M419.6 91.6L422 93.4L425.4 91.4L423 89.6Z" fill="#09b4d1" stroke-opacity=".80"/>
<path d="M359.4 89.7L361.8 92.1L365.2 89.8L362.8 87.5Z" fill="#01b9c7" stroke-opacity=".80"/>
<path d="M413.8 91.7L416.2 93.5L419.6 91.6L417.2 89.7Z" fill="#05b6ce" stroke-opacity=".80"/>
<path d="M468.2 90.5L470.6 92.1L474 90L471.6 88.5Z" fill="#259be8" stroke-opacity=".80"/>
<path d="M408 91.7L410.4 93.6L413.8 91.7L411.5 89.8Z" fill="#03b7cb" stroke-opacity=".80"/>
<path d="M353.6 89.6L356 92L359.4 89.7L357.1 87.4Z" fill="#01b9c6" stroke-opacity=".80"/>
<path d="M462.4 91L464.8 92.6L468.2 90.5L465.8 89Z" fill="#23a0e5" stroke-opacity=".80"/>
<path d="M347.9 89.5L350.2 92L353.6 89.6L351.3 87.2Z" fill="#01b9c6" stroke-opacity=".80"/>
<path d="M402.3 91.8L404.6 93.7L408 91.7L405.7 89.8Z" fill="#01b8c9" stroke-opacity=".80"/>
<path d="M456.6 91.5L459 93.1L462.4 91L460.1 89.4Z" fill="#20a5e2" stroke-opacity=".80"/>
<path d="M396.5 91.9L398.8 93.8L402.3 91.8L399.9 89.9Z" fill="#01b9c7" stroke-opacity=".80"/>
<path d="M450.9 92L453.2 93.6L456.6 91.5L454.3 89.9Z" fill="#1caadf" stroke-opacity=".80"/>
<path d="M390.7 91.9L393.1 93.9L396.5 91.9L394.1 89.9Z" fill="#02bac5" stroke-opacity=".80"/>
<path d="M445.1 92.4L447.4 94.1L450.9 92L448.5 90.3Z" fill="#18aedb" stroke-opacity=".80"/>
<path d="M439.3 92.7L441.7 94.4L445.1 92.4L442.7 90.7Z" fill="#12b1d6" stroke-opacity=".80"/>
<path d="M384.9 92L387.3 94L390.7 91.9L388.3 89.9Z" fill="#03bbc3" stroke-opacity=".80"/>
<path d="M379.1 92L381.5 94.1L384.9 92L382.5 89.9Z" fill="#06bcc0" stroke-opacity=".80"/>
<path d="M433.5 93L435.9 94.7L439.3 92.7L436.9 91Z" fill="#0ab4d2" stroke-opacity=".80"/>
<path d="M373.3 92.1L375.7 94.2L379.1 92L376.8 89.9Z" fill="#09bcbe" stroke-opacity=".80"/>
<path d="M427.7 93.2L430.1 95L433.5 93L431.2 91.2Z" fill="#05b6cd" stroke-opacity=".80"/>
<path d="M367.6 92.1L369.9 94.3L373.3 92.1L371 89.9Z" fill="#0dbdbc" stroke-opacity=".80"/>
<path d="M422 93.4L424.3 95.2L427.7 93.2L425.4 91.4Z" fill="#01b8ca" stroke-opacity=".80"/>
<path d="M361.8 92.1L364.1 94.4L367.6 92.1L365.2 89.8Z" fill="#10beba" stroke-opacity=".80"/>
<path d="M416.2 93.5L418.5 95.4L422 93.4L419.6 91.6Z" fill="#01b9c6" stroke-opacity=".80"/>
<path d="M470.6 92.1L472.9 93.6L476.4 91.5L474 90Z" fill="#249ee6" stroke-opacity=".80"/>
<path d="M356 92L358.4 94.4L361.8 92.1L359.4 89.7Z" fill="#13beb8" stroke-opacity=".80"/>
<path d="M410.4 93.6L412.8 95.5L416.2 93.5L413.8 91.7Z" fill="#02bbc3" stroke-opacity=".80"/>
<path d="M464.8 92.6L467.2 94.2L470.6 92.1L468.2 90.5Z" fill="#21a4e3" stroke-opacity=".80"/>
<path d="M350.2 92L352.6 94.5L356 92L353.6 89.6Z" fill="#16bfb7" stroke-opacity=".80"/>
<path d="M404.6 93.7L407 95.7L410.4 93.6L408 91.7Z" fill="#06bcc0" stroke-opacity=".80"/>
<path d="M459 93.1L461.4 94.8L464.8 92.6L462.4 91Z" fill="#1da9e0" stroke-opacity=".80"/>
<path d="M398.8 93.8L401.2 95.8L404.6 93.7L402.3 91.8Z" fill="#0abdbd" stroke-opacity=".80"/>
<path d="M453.2 93.6L455.6 95.3L459 93.1L456.6 91.5Z" fill="#18addb" stroke-opacity=".80"/>
<path d="M393.1 93.9L395.4 95.9L398.8 93.8L396.5 91.9Z" fill="#0ebebb" stroke-opacity=".80"/>
<path d="M447.4 94.1L449.8 95.7L453.2 93.6L450.9 92Z" fill="#11b1d6" stroke-opacity=".80"/>
<path d="M441.7 94.4L444 96.1L447.4 94.1L445.1 92.4Z" fill="#08b4d1" stroke-opacity=".80"/>
<path d="M387.3 94L389.6 96L393.1 93.9L390.7 91.9Z" fill="#14beb8" stroke-opacity=".80"/>
<path d="M435.9 94.7L438.2 96.5L441.7 94.4L439.3 92.7Z" fill="#02b7cb" stroke-opacity=".80"/>
<path d="M381.5 94.1L383.8 96.2L387.3 94L384.9 92Z" fill="#19bfb5" stroke-opacity=".80"/>
<path d="M375.7 94.2L378.1 96.4L381.5 94.1L379.1 92Z" fill="#1ec0b2" stroke-opacity=".80"/>
<path d="M430.1 95L432.5 96.8L435.9 94.7L433.5 93Z" fill="#01b9c6" stroke-opacity=".80"/>
<path d="M369.9 94.3L372.3 96.5L375.7 94.2L373.3 92.1Z" fill="#23c1af" stroke-opacity=".80"/>
<path d="M424.3 95.2L426.7 97L430.1 95L427.7 93.2Z" fill="#04bbc2" stroke-opacity=".80"/>
<path d="M418.5 95.4L420.9 97.3L424.3 95.2L422 93.4Z" fill="#09bdbe" stroke-opacity=".80"/>
<path d="M364.1 94.4L366.5 96.7L369.9 94.3L367.6 92.1Z" fill="#26c2ac" stroke-opacity=".80"/>
<path d="M358.4 94.4L360.7 96.8L364.1 94.4L361.8 92.1Z" fill="#29c3aa" stroke-opacity=".80"/>
<path d="M412.8 95.5L415.1 97.4L418.5 95.4L416.2 93.5Z" fill="#10beba" stroke-opacity=".80"/>
<path d="M467.2 94.2L469.5 95.8L472.9 93.6L470.6 92.1Z" fill="#1ea7e1" stroke-opacity=".80"/>
<path d="M352.6 94.5L354.9 96.9L358.4 94.4L356 92Z" fill="#2bc3a7" stroke-opacity=".80"/>
<path d="M407 95.7L409.3 97.6L412.8 95.5L410.4 93.6Z" fill="#16bfb7" stroke-opacity=".80"/>
<path d="M461.4 94.8L463.7 96.4L467.2 94.2L464.8 92.6Z" fill="#1aacdd" stroke-opacity=".80"/>
<path d="M401.2 95.8L403.6 97.7L407 95.7L404.6 93.7Z" fill="#1cc0b4" stroke-opacity=".80"/>
<path d="M455.6 95.3L458 96.9L461.4 94.8L459 93.1Z" fill="#13b1d7" stroke-opacity=".80"/>
<path d="M395.4 95.9L397.8 97.9L401.2 95.8L398.8 93.8Z" fill="#20c1b1" stroke-opacity=".80"/>
<path d="M449.8 95.7L452.2 97.4L455.6 95.3L453.2 93.6Z" fill="#08b4d0" stroke-opacity=".80"/>
<path d="M444 96.1L446.4 97.9L449.8 95.7L447.4 94.1Z" fill="#01b7ca" stroke-opacity=".80"/>
<path d="M389.6 96L392 98L395.4 95.9L393.1 93.9Z" fill="#25c2ae" stroke-opacity=".80"/>
<path d="M438.2 96.5L440.6 98.2L444 96.1L441.7 94.4Z" fill="#02bac4" stroke-opacity=".80"/>
<path d="M383.8 96.2L386.2 98.2L389.6 96L387.3 94Z" fill="#29c3aa" stroke-opacity=".80"/>
<path d="M378.1 96.4L380.4 98.5L383.8 96.2L381.5 94.1Z" fill="#2cc4a6" stroke-opacity=".80"/>
<path d="M432.5 96.8L434.8 98.6L438.2 96.5L435.9 94.7Z" fill="#08bcbf" stroke-opacity=".80"/>
<path d="M372.3 96.5L374.6 98.7L378.1 96.4L375.7 94.2Z" fill="#2fc5a2" stroke-opacity=".80"/>
<path d="M426.7 97L429 98.8L432.5 96.8L430.1 95Z" fill="#10beba" stroke-opacity=".80"/>
<path d="M420.9 97.3L423.3 99.1L426.7 97L424.3 95.2Z" fill="#19bfb5" stroke-opacity=".80"/>
<path d="M366.5 96.7L368.9 98.9L372.3 96.5L369.9 94.3Z" fill="#32c69e" stroke-opacity=".80"/>
<path d="M415.1 97.4L417.5 99.3L420.9 97.3L418.5 95.4Z" fill="#20c1b1" stroke-opacity=".80"/>
<path d="M360.7 96.8L363.1 99.1L366.5 96.7L364.1 94.4Z" fill="#35c79a" stroke-opacity=".80"/>
<path d="M354.9 96.9L357.3 99.3L360.7 96.8L358.4 94.4Z" fill="#38c897" stroke-opacity=".80"/>
<path d="M409.3 97.6L411.7 99.5L415.1 97.4L412.8 95.5Z" fill="#25c2ad" stroke-opacity=".80"/>
<path d="M463.7 96.4L466.1 98L469.5 95.8L467.2 94.2Z" fill="#15afd9" stroke-opacity=".80"/>
<path d="M403.6 97.7L405.9 99.7L409.3 97.6L407 95.7Z" fill="#29c3aa" stroke-opacity=".80"/>
<path d="M458 96.9L460.3 98.6L463.7 96.4L461.4 94.8Z" fill="#0ab4d2" stroke-opacity=".80"/>
<path d="M397.8 97.9L400.1 99.9L403.6 97.7L401.2 95.8Z" fill="#2cc4a6" stroke-opacity=".80"/>
<path d="M452.2 97.4L454.5 99.1L458 96.9L455.6 95.3Z" fill="#02b7cb" stroke-opacity=".80"/>
<path d="M392 98L394.4 100L397.8 97.9L395.4 95.9Z" fill="#2fc5a2" stroke-opacity=".80"/>
<path d="M446.4 97.9L448.8 99.6L452.2 97.4L449.8 95.7Z" fill="#02bac4" stroke-opacity=".80"/>
<path d="M440.6 98.2L443 100L446.4 97.9L444 96.1Z" fill="#0abdbd" stroke-opacity=".80"/>
<path d="M386.2 98.2L388.6 100.3L392 98L389.6 96Z" fill="#32c69e" stroke-opacity=".80"/>
<path d="M380.4 98.5L382.8 100.5L386.2 98.2L383.8 96.2Z" fill="#35c79a" stroke-opacity=".80"/>
<path d="M434.8 98.6L437.2 100.3L440.6 98.2L438.2 96.5Z" fill="#15bfb7" stroke-opacity=".80"/>
<path d="M374.6 98.7L377 100.8L380.4 98.5L378.1 96.4Z" fill="#39c994" stroke-opacity=".80"/>
<path d="M429 98.8L431.4 100.6L434.8 98.6L432.5 96.8Z" fill="#1ec0b2" stroke-opacity=".80"/>
<path d="M368.9 98.9L371.2 101.1L374.6 98.7L372.3 96.5Z" fill="#3eca8f" stroke-opacity=".80"/>
<path d="M423.3 99.1L425.6 100.9L429 98.8L426.7 97Z" fill="#26c2ad" stroke-opacity=".80"/>
<path d="M417.5 99.3L419.8 101.2L423.3 99.1L420.9 97.3Z" fill="#2bc3a8" stroke-opacity=".80"/>
<path d="M363.1 99.1L365.4 101.4L368.9 98.9L366.5 96.7Z" fill="#45cb89" stroke-opacity=".80"/>
<path d="M357.3 99.3L359.7 101.7L363.1 99.1L360.7 96.8Z" fill="#4bcb83" stroke-opacity=".80"/>
<path d="M411.7 99.5L414.1 101.4L417.5 99.3L415.1 97.4Z" fill="#2ec5a4" stroke-opacity=".80"/>
<path d="M405.9 99.7L408.3 101.6L411.7 99.5L409.3 97.6Z" fill="#32c69f" stroke-opacity=".80"/>
<path d="M460.3 98.6L462.7 100.2L466.1 98L463.7 96.4Z" fill="#03b7cc" stroke-opacity=".80"/>
<path d="M400.1 99.9L402.5 101.8L405.9 99.7L403.6 97.7Z" fill="#35c79b" stroke-opacity=".80"/>
<path d="M454.5 99.1L456.9 100.8L460.3 98.6L458 96.9Z" fill="#02bac4" stroke-opacity=".80"/>
<path d="M394.4 100L396.7 102L400.1 99.9L397.8 97.9Z" fill="#38c896" stroke-opacity=".80"/>
<path d="M448.8 99.6L451.1 101.3L454.5 99.1L452.2 97.4Z" fill="#0abdbd" stroke-opacity=".80"/>
<path d="M388.6 100.3L390.9 102.3L394.4 100L392 98Z" fill="#3cc991" stroke-opacity=".80"/>
<path d="M443 100L445.3 101.7L448.8 99.6L446.4 97.9Z" fill="#18bfb6" stroke-opacity=".80"/>
<path d="M382.8 100.5L385.2 102.6L388.6 100.3L386.2 98.2Z" fill="#42ca8c" stroke-opacity=".80"/>
<path d="M437.2 100.3L439.5 102.1L443 100L440.6 98.2Z" fill="#22c1b0" stroke-opacity=".80"/>
<path d="M377 100.8L379.4 102.9L382.8 100.5L380.4 98.5Z" fill="#49cb85" stroke-opacity=".80"/>
<path d="M431.4 100.6L433.8 102.4L437.2 100.3L434.8 98.6Z" fill="#29c3aa" stroke-opacity=".80"/>
<path d="M425.6 100.9L428 102.7L431.4 100.6L429 98.8Z" fill="#2ec4a4" stroke-opacity=".80"/>
<path d="M371.2 101.1L373.6 103.2L377 100.8L374.6 98.7Z" fill="#52cc7e" stroke-opacity=".80"/>
<path d="M365.4 101.4L367.8 103.6L371.2 101.1L368.9 98.9Z" fill="#5bcc77" stroke-opacity=".80"/>
<path d="M419.8 101.2L422.2 103L425.6 100.9L423.3 99.1Z" fill="#32c69f" stroke-opacity=".80"/>
<path d="M359.7 101.7L362 104L365.4 101.4L363.1 99.1Z" fill="#64cd6f" stroke-opacity=".80"/>
<path d="M414.1 101.4L416.4 103.3L419.8 101.2L417.5 99.3Z" fill="#36c799" stroke-opacity=".80"/>
<path d="M408.3 101.6L410.6 103.5L414.1 101.4L411.7 99.5Z" fill="#3ac994" stroke-opacity=".80"/>
<path d="M402.5 101.8L404.9 103.8L408.3 101.6L405.9 99.7Z" fill="#3fca8e" stroke-opacity=".80"/>
<path d="M456.9 100.8L459.3 102.5L462.7 100.2L460.3 98.6Z" fill="#09bcbe" stroke-opacity=".80"/>
<path d="M451.1 101.3L453.5 103L456.9 100.8L454.5 99.1Z" fill="#18bfb6" stroke-opacity=".80"/>
<path d="M396.7 102L399.1 104L402.5 101.8L400.1 99.9Z" fill="#45cb89" stroke-opacity=".80"/>
<path d="M390.9 102.3L393.3 104.3L396.7 102L394.4 100Z" fill="#4ccb83" stroke-opacity=".80"/>
<path d="M445.3 101.7L447.7 103.5L451.1 101.3L448.8 99.6Z" fill="#24c1af" stroke-opacity=".80"/>
<path d="M385.2 102.6L387.5 104.6L390.9 102.3L388.6 100.3Z" fill="#54cc7c" stroke-opacity=".80"/>
<path d="M439.5 102.1L441.9 103.9L445.3 101.7L443 100Z" fill="#2bc3a8" stroke-opacity=".80"/>
<path d="M379.4 102.9L381.7 105L385.2 102.6L382.8 100.5Z" fill="#5dcc74" stroke-opacity=".80"/>
<path d="M433.8 102.4L436.1 104.2L439.5 102.1L437.2 100.3Z" fill="#30c5a1" stroke-opacity=".80"/>
<path d="M428 102.7L430.3 104.6L433.8 102.4L431.4 100.6Z" fill="#35c79b" stroke-opacity=".80"/>
<path d="M373.6 103.2L376 105.3L379.4 102.9L377 100.8Z" fill="#67cd6c" stroke-opacity=".80"/>
<path d="M422.2 103L424.6 104.9L428 102.7L425.6 100.9Z" fill="#3ac994" stroke-opacity=".80"/>
<path d="M367.8 103.6L370.2 105.7L373.6 103.2L371.2 101.1Z" fill="#72cd63" stroke-opacity=".80"/>
<path d="M362 104L364.4 106.2L367.8 103.6L365.4 101.4Z" fill="#7ecc5a" stroke-opacity=".80"/>
<path d="M416.4 103.3L418.8 105.1L422.2 103L419.8 101.2Z" fill="#3fca8e" stroke-opacity=".80"/>
<path d="M410.6 103.5L413 105.4L416.4 103.3L414.1 101.4Z" fill="#47cb87" stroke-opacity=".80"/>
<path d="M404.9 103.8L407.2 105.7L410.6 103.5L408.3 101.6Z" fill="#4ecc81" stroke-opacity=".80"/>
<path d="M453.5 103L455.8 104.7L459.3 102.5L456.9 100.8Z" fill="#23c1af" stroke-opacity=".80"/>
<path d="M399.1 104L401.4 106L404.9 103.8L402.5 101.8Z" fill="#56cc7a" stroke-opacity=".80"/>
<path d="M447.7 103.5L450.1 105.2L453.5 103L451.1 101.3Z" fill="#2cc4a7" stroke-opacity=".80"/>
<path d="M393.3 104.3L395.7 106.3L399.1 104L396.7 102Z" fill="#5fcd73" stroke-opacity=".80"/>
<path d="M387.5 104.6L389.9 106.6L393.3 104.3L390.9 102.3Z" fill="#68cd6c" stroke-opacity=".80"/>
<path d="M441.9 103.9L444.3 105.7L447.7 103.5L445.3 101.7Z" fill="#32c69f" stroke-opacity=".80"/>
<path d="M381.7 105L384.1 107L387.5 104.6L385.2 102.6Z" fill="#73cd63" stroke-opacity=".80"/>
<path d="M436.1 104.2L438.5 106L441.9 103.9L439.5 102.1Z" fill="#37c898" stroke-opacity=".80"/>
<path d="M430.3 104.6L432.7 106.4L436.1 104.2L433.8 102.4Z" fill="#3dc990" stroke-opacity=".80"/>
<path d="M376 105.3L378.3 107.4L381.7 105L379.4 102.9Z" fill="#7fcc5a" stroke-opacity=".80"/>
<path d="M424.6 104.9L426.9 106.7L430.3 104.6L428 102.7Z" fill="#45cb89" stroke-opacity=".80"/>
<path d="M370.2 105.7L372.5 107.8L376 105.3L373.6 103.2Z" fill="#8bcb51" stroke-opacity=".80"/>
<path d="M364.4 106.2L366.8 108.3L370.2 105.7L367.8 103.6Z" fill="#98ca47" stroke-opacity=".80"/>
<path d="M418.8 105.1L421.1 107L424.6 104.9L422.2 103Z" fill="#4dcc82" stroke-opacity=".80"/>
<path d="M413 105.4L415.4 107.3L418.8 105.1L416.4 103.3Z" fill="#56cc7a" stroke-opacity=".80"/>
<path d="M407.2 105.7L409.6 107.6L413 105.4L410.6 103.5Z" fill="#5fcd73" stroke-opacity=".80"/>
<path d="M401.4 106L403.8 107.9L407.2 105.7L404.9 103.8Z" fill="#69cd6b" stroke-opacity=".80"/>
<path d="M450.1 105.2L452.4 107L455.8 104.7L453.5 103Z" fill="#32c69f" stroke-opacity=".80"/>
<path d="M395.7 106.3L398 108.3L401.4 106L399.1 104Z" fill="#73cd63" stroke-opacity=".80"/>
<path d="M389.9 106.6L392.2 108.7L395.7 106.3L393.3 104.3Z" fill="#7ecc5b" stroke-opacity=".80"/>
<path d="M444.3 105.7L446.6 107.4L450.1 105.2L447.7 103.5Z" fill="#38c896" stroke-opacity=".80"/>
<path d="M384.1 107L386.5 109L389.9 106.6L387.5 104.6Z" fill="#8acb52" stroke-opacity=".80"/>
<path d="M438.5 106L440.9 107.8L444.3 105.7L441.9 103.9Z" fill="#40ca8d" stroke-opacity=".80"/>
<path d="M378.3 107.4L380.7 109.4L384.1 107L381.7 105Z" fill="#95ca49" stroke-opacity=".80"/>
<path d="M432.7 106.4L435.1 108.2L438.5 106L436.1 104.2Z" fill="#49cb85" stroke-opacity=".80"/>
<path d="M426.9 106.7L429.3 108.5L432.7 106.4L430.3 104.6Z" fill="#54cc7d" stroke-opacity=".80"/>
<path d="M372.5 107.8L374.9 109.9L378.3 107.4L376 105.3Z" fill="#a2c83f" stroke-opacity=".80"/>
<path d="M366.8 108.3L369.1 110.4L372.5 107.8L370.2 105.7Z" fill="#afc637" stroke-opacity=".80"/>
<path d="M421.1 107L423.5 108.8L426.9 106.7L424.6 104.9Z" fill="#5dcc75" stroke-opacity=".80"/>
<path d="M415.4 107.3L417.7 109.2L421.1 107L418.8 105.1Z" fill="#67cd6c" stroke-opacity=".80"/>
<path d="M409.6 107.6L411.9 109.5L415.4 107.3L413 105.4Z" fill="#71cd64" stroke-opacity=".80"/>
<path d="M403.8 107.9L406.2 109.8L409.6 107.6L407.2 105.7Z" fill="#7ccc5c" stroke-opacity=".80"/>
<path d="M398 108.3L400.4 110.2L403.8 107.9L401.4 106Z" fill="#88cb53" stroke-opacity=".80"/>
<path d="M392.2 108.7L394.6 110.7L398 108.3L395.7 106.3Z" fill="#93ca4a" stroke-opacity=".80"/>
<path d="M446.6 107.4L449 109.2L452.4 107L450.1 105.2Z" fill="#41ca8c" stroke-opacity=".80"/>
<path d="M386.5 109L388.8 111.1L392.2 108.7L389.9 106.6Z" fill="#9fc941" stroke-opacity=".80"/>
<path d="M440.9 107.8L443.2 109.6L446.6 107.4L444.3 105.7Z" fill="#4dcc82" stroke-opacity=".80"/>
<path d="M380.7 109.4L383 111.5L386.5 109L384.1 107Z" fill="#abc739" stroke-opacity=".80"/>
<path d="M435.1 108.2L437.4 110L440.9 107.8L438.5 106Z" fill="#58cc79" stroke-opacity=".80"/>
<path d="M374.9 109.9L377.3 112L380.7 109.4L378.3 107.4Z" fill="#b7c532" stroke-opacity=".80"/>
<path d="M429.3 108.5L431.7 110.4L435.1 108.2L432.7 106.4Z" fill="#63cd70" stroke-opacity=".80"/>
<path d="M369.1 110.4L371.5 112.5L374.9 109.9L372.5 107.8Z" fill="#c4c22b" stroke-opacity=".80"/>
<path d="M423.5 108.8L425.9 110.7L429.3 108.5L426.9 106.7Z" fill="#6ecd67" stroke-opacity=".80"/>
<path d="M417.7 109.2L420.1 111L423.5 108.8L421.1 107Z" fill="#79cc5e" stroke-opacity=".80"/>
<path d="M411.9 109.5L414.3 111.3L417.7 109.2L415.4 107.3Z" fill="#84cc56" stroke-opacity=".80"/>
<path d="M406.2 109.8L408.5 111.7L411.9 109.5L409.6 107.6Z" fill="#90ca4d" stroke-opacity=".80"/>
<path d="M400.4 110.2L402.7 112.1L406.2 109.8L403.8 107.9Z" fill="#9bc944" stroke-opacity=".80"/>
<path d="M394.6 110.7L397 112.6L400.4 110.2L398 108.3Z" fill="#a7c73c" stroke-opacity=".80"/>
<path d="M388.8 111.1L391.2 113L394.6 110.7L392.2 108.7Z" fill="#b4c534" stroke-opacity=".80"/>
<path d="M443.2 109.6L445.6 111.4L449 109.2L446.6 107.4Z" fill="#5bcc76" stroke-opacity=".80"/>
<path d="M383 111.5L385.4 113.5L388.8 111.1L386.5 109Z" fill="#bfc32d" stroke-opacity=".80"/>
<path d="M437.4 110L439.8 111.8L443.2 109.6L440.9 107.8Z" fill="#68cd6c" stroke-opacity=".80"/>
<path d="M377.3 112L379.6 114L383 111.5L380.7 109.4Z" fill="#cbc129" stroke-opacity=".80"/>
<path d="M431.7 110.4L434 112.2L437.4 110L435.1 108.2Z" fill="#74cc62" stroke-opacity=".80"/>
<path d="M371.5 112.5L373.8 114.5L377.3 112L374.9 109.9Z" fill="#d6be28" stroke-opacity=".80"/>
<path d="M425.9 110.7L428.2 112.5L431.7 110.4L429.3 108.5Z" fill="#80cc59" stroke-opacity=".80"/>
<path d="M420.1 111L422.5 112.9L425.9 110.7L423.5 108.8Z" fill="#8bcb51" stroke-opacity=".80"/>
<path d="M414.3 111.3L416.7 113.2L420.1 111L417.7 109.2Z" fill="#96ca48" stroke-opacity=".80"/>
<path d="M408.5 111.7L410.9 113.6L414.3 111.3L411.9 109.5Z" fill="#a2c840" stroke-opacity=".80"/>
<path d="M402.7 112.1L405.1 114L408.5 111.7L406.2 109.8Z" fill="#adc638" stroke-opacity=".80"/>
<path d="M397 112.6L399.3 114.5L402.7 112.1L400.4 110.2Z" fill="#bac430" stroke-opacity=".80"/>
<path d="M391.2 113L393.5 115L397 112.6L394.6 110.7Z" fill="#c6c22a" stroke-opacity=".80"/>
<path d="M385.4 113.5L387.8 115.5L391.2 113L388.8 111.1Z" fill="#d1bf27" stroke-opacity=".80"/>
<path d="M439.8 111.8L442.2 113.6L445.6 111.4L443.2 109.6Z" fill="#79cc5e" stroke-opacity=".80"/>
<path d="M434 112.2L436.4 114L439.8 111.8L437.4 110Z" fill="#86cb55" stroke-opacity=".80"/>
<path d="M379.6 114L382 116L385.4 113.5L383 111.5Z" fill="#dcbd29" stroke-opacity=".80"/>
<path d="M373.8 114.5L376.2 116.5L379.6 114L377.3 112Z" fill="#e6bb2d" stroke-opacity=".80"/>
<path d="M428.2 112.5L430.6 114.4L434 112.2L431.7 110.4Z" fill="#92ca4b" stroke-opacity=".80"/>
<path d="M422.5 112.9L424.8 114.7L428.2 112.5L425.9 110.7Z" fill="#9dc943" stroke-opacity=".80"/>
<path d="M416.7 113.2L419 115L422.5 112.9L420.1 111Z" fill="#a8c73b" stroke-opacity=".80"/>
<path d="M410.9 113.6L413.2 115.4L416.7 113.2L414.3 111.3Z" fill="#b3c534" stroke-opacity=".80"/>
<path d="M405.1 114L407.5 115.8L410.9 113.6L408.5 111.7Z" fill="#bec32e" stroke-opacity=".80"/>
<path d="M399.3 114.5L401.7 116.3L405.1 114L402.7 112.1Z" fill="#cac129" stroke-opacity=".80"/>
<path d="M393.5 115L395.9 116.9L399.3 114.5L397 112.6Z" fill="#d6be28" stroke-opacity=".80"/>
<path d="M387.8 115.5L390.1 117.4L393.5 115L391.2 113Z" fill="#e1bc2b" stroke-opacity=".80"/>
<path d="M436.4 114L438.7 115.8L442.2 113.6L439.8 111.8Z" fill="#97ca47" stroke-opacity=".80"/>
<path d="M382 116L384.3 118L387.8 115.5L385.4 113.5Z" fill="#ebba31" stroke-opacity=".80"/>
<path d="M376.2 116.5L378.6 118.5L382 116L379.6 114Z" fill="#f4ba3a" stroke-opacity=".80"/>
<path d="M430.6 114.4L433 116.2L436.4 114L434 112.2Z" fill="#a4c83e" stroke-opacity=".80"/>
<path d="M424.8 114.7L427.2 116.5L430.6 114.4L428.2 112.5Z" fill="#afc637" stroke-opacity=".80"/>
<path d="M419 115L421.4 116.9L424.8 114.7L422.5 112.9Z" fill="#b9c430" stroke-opacity=".80"/>
<path d="M413.2 115.4L415.6 117.2L419 115L416.7 113.2Z" fill="#c3c22b" stroke-opacity=".80"/>
<path d="M407.5 115.8L409.8 117.7L413.2 115.4L410.9 113.6Z" fill="#cdc028" stroke-opacity=".80"/>
<path d="M401.7 116.3L404 118.2L407.5 115.8L405.1 114Z" fill="#d8be28" stroke-opacity=".80"/>
<path d="M395.9 116.9L398.3 118.7L401.7 116.3L399.3 114.5Z" fill="#e3bc2c" stroke-opacity=".80"/>
<path d="M390.1 117.4L392.5 119.3L395.9 116.9L393.5 115Z" fill="#edba33" stroke-opacity=".80"/>
<path d="M384.3 118L386.7 119.9L390.1 117.4L387.8 115.5Z" fill="#f7ba3c" stroke-opacity=".80"/>
<path d="M378.6 118.5L380.9 120.5L384.3 118L382 116Z" fill="#febe3c" stroke-opacity=".80"/>
<path d="M433 116.2L435.3 118L438.7 115.8L436.4 114Z" fill="#b4c533" stroke-opacity=".80"/>
<path d="M427.2 116.5L429.5 118.4L433 116.2L430.6 114.4Z" fill="#bfc32d" stroke-opacity=".80"/>
<path d="M421.4 116.9L423.8 118.7L427.2 116.5L424.8 114.7Z" fill="#c9c129" stroke-opacity=".80"/>
<path d="M415.6 117.2L418 119.1L421.4 116.9L419 115Z" fill="#d2bf27" stroke-opacity=".80"/>
<path d="M409.8 117.7L412.2 119.5L415.6 117.2L413.2 115.4Z" fill="#dbbd29" stroke-opacity=".80"/>
<path d="M404 118.2L406.4 120L409.8 117.7L407.5 115.8Z" fill="#e5bb2c" stroke-opacity=".80"/>
<path d="M398.3 118.7L400.6 120.5L404 118.2L401.7 116.3Z" fill="#eeba35" stroke-opacity=".80"/>
<path d="M392.5 119.3L394.8 121L398.3 118.7L395.9 116.9Z" fill="#f8ba3d" stroke-opacity=".80"/>
<path d="M386.7 119.9L389.1 121.7L392.5 119.3L390.1 117.4Z" fill="#febe3c" stroke-opacity=".80"/>
<path d="M380.9 120.5L383.3 122.4L386.7 119.9L384.3 118Z" fill="#fec537" stroke-opacity=".80"/>
<path d="M429.5 118.4L431.9 120.2L435.3 118L433 116.2Z" fill="#cec028" stroke-opacity=".80"/>
<path d="M423.8 118.7L426.1 120.6L429.5 118.4L427.2 116.5Z" fill="#d7be28" stroke-opacity=".80"/>
<path d="M418 119.1L420.3 120.9L423.8 118.7L421.4 116.9Z" fill="#e0bc2a" stroke-opacity=".80"/>
<path d="M412.2 119.5L414.6 121.3L418 119.1L415.6 117.2Z" fill="#e8bb2f" stroke-opacity=".80"/>
<path d="M406.4 120L408.8 121.8L412.2 119.5L409.8 117.7Z" fill="#f0ba36" stroke-opacity=".80"/>
<path d="M400.6 120.5L403 122.2L406.4 120L404 118.2Z" fill="#f8ba3d" stroke-opacity=".80"/>
<path d="M394.8 121L397.2 122.8L400.6 120.5L398.3 118.7Z" fill="#febe3c" stroke-opacity=".80"/>
<path d="M389.1 121.7L391.4 123.4L394.8 121L392.5 119.3Z" fill="#fec537" stroke-opacity=".80"/>
<path d="M383.3 122.4L385.6 124.1L389.1 121.7L386.7 119.9Z" fill="#fdcd32" stroke-opacity=".80"/>
<path d="M426.1 120.6L428.5 122.4L431.9 120.2L429.5 118.4Z" fill="#e4bb2c" stroke-opacity=".80"/>
<path d="M420.3 120.9L422.7 122.8L426.1 120.6L423.8 118.7Z" fill="#ecba32" stroke-opacity=".80"/>
<path d="M414.6 121.3L416.9 123.1L420.3 120.9L418 119.1Z" fill="#f3ba39" stroke-opacity=".80"/>
<path d="M408.8 121.8L411.1 123.6L414.6 121.3L412.2 119.5Z" fill="#fabb3d" stroke-opacity=".80"/>
<path d="M403 122.2L405.4 124L408.8 121.8L406.4 120Z" fill="#febf3b" stroke-opacity=".80"/>
<path d="M397.2 122.8L399.6 124.5L403 122.2L400.6 120.5Z" fill="#fec537" stroke-opacity=".80"/>
<path d="M391.4 123.4L393.8 125.1L397.2 122.8L394.8 121Z" fill="#fdcc32" stroke-opacity=".80"/>
<path d="M385.6 124.1L388 125.8L391.4 123.4L389.1 121.7Z" fill="#fad42e" stroke-opacity=".80"/>
<path d="M422.7 122.8L425.1 124.6L428.5 122.4L426.1 120.6Z" fill="#f7ba3c" stroke-opacity=".80"/>
<path d="M416.9 123.1L419.3 125L422.7 122.8L420.3 120.9Z" fill="#fcbc3d" stroke-opacity=".80"/>
<path d="M411.1 123.6L413.5 125.4L416.9 123.1L414.6 121.3Z" fill="#fec03a" stroke-opacity=".80"/>
<path d="M405.4 124L407.7 125.8L411.1 123.6L408.8 121.8Z" fill="#fec636" stroke-opacity=".80"/>
<path d="M399.6 124.5L401.9 126.2L405.4 124L403 122.2Z" fill="#fdcc32" stroke-opacity=".80"/>
<path d="M393.8 125.1L396.2 126.8L399.6 124.5L397.2 122.8Z" fill="#fbd22f" stroke-opacity=".80"/>
<path d="M388 125.8L390.4 127.4L393.8 125.1L391.4 123.4Z" fill="#f8da2b" stroke-opacity=".80"/>
<path d="M419.3 125L421.6 126.8L425.1 124.6L422.7 122.8Z" fill="#fec339" stroke-opacity=".80"/>
<path d="M413.5 125.4L415.9 127.2L419.3 125L416.9 123.1Z" fill="#fec835" stroke-opacity=".80"/>
<path d="M407.7 125.8L410.1 127.5L413.5 125.4L411.1 123.6Z" fill="#fdcd31" stroke-opacity=".80"/>
<path d="M401.9 126.2L404.3 127.9L407.7 125.8L405.4 124Z" fill="#fbd32e" stroke-opacity=".80"/>
<path d="M396.2 126.8L398.5 128.4L401.9 126.2L399.6 124.5Z" fill="#f8d92b" stroke-opacity=".80"/>
<path d="M390.4 127.4L392.7 129L396.2 126.8L393.8 125.1Z" fill="#f6e028" stroke-opacity=".80"/>
<path d="M415.9 127.2L418.2 128.9L421.6 126.8L419.3 125Z" fill="#fccf30" stroke-opacity=".80"/>
<path d="M410.1 127.5L412.4 129.3L415.9 127.2L413.5 125.4Z" fill="#fad42e" stroke-opacity=".80"/>
<path d="M404.3 127.9L406.7 129.7L410.1 127.5L407.7 125.8Z" fill="#f8da2b" stroke-opacity=".80"/>
<path d="M398.5 128.4L400.9 130.1L404.3 127.9L401.9 126.2Z" fill="#f6e028" stroke-opacity=".80"/>
<path d="M392.7 129L395.1 130.6L398.5 128.4L396.2 126.8Z" fill="#f5e625" stroke-opacity=".80"/>
<path d="M412.4 129.3L414.8 131L418.2 128.9L415.9 127.2Z" fill="#f7dc2a" stroke-opacity=".80"/>
<path d="M406.7 129.7L409 131.4L412.4 129.3L410.1 127.5Z" fill="#f5e128" stroke-opacity=".80"/>
<path d="M400.9 130.1L403.2 131.8L406.7 129.7L404.3 127.9Z" fill="#f5e725" stroke-opacity=".80"/>
<path d="M395.1 130.6L397.5 132.2L400.9 130.1L398.5 128.4Z" fill="#f5ec22" stroke-opacity=".80"/>
<path d="M409 131.4L411.4 133.1L414.8 131L412.4 129.3Z" fill="#f5e825" stroke-opacity=".80"/>
<path d="M403.2 131.8L405.6 133.4L409 131.4L406.7 129.7Z" fill="#f5ed22" stroke-opacity=".80"/>
<path d="M397.5 132.2L399.8 133.8L403.2 131.8L400.9 130.1Z" fill="#f6f21e" stroke-opacity=".80"/>
<path d="M405.6 133.4L408 135L411.4 133.1L409 131.4Z" fill="#f7f31d" stroke-opacity=".80"/>
<path d="M399.8 133.8L402.2 135.4L405.6 133.4L403.2 131.8Z" fill="#f8f818" stroke-opacity=".80"/>
<path d="M402.2 135.4L404.5 137L408 135L405.6 133.4Z" fill="#f9fb15" stroke-opacity=".80"/>
</g>
<g font-size="9.3" fill="#1a1a1a" stroke="#1a1a1a" stroke-width=".15">
<text x="321.1" y="124.3" text-anchor="end">-0.8</text>
<text x="321.1" y="103.1" text-anchor="end">-1</text>
<text x="321.1" y="81.9" text-anchor="end">-1.2</text>
<text x="321.1" y="60.7" text-anchor="end">-1.4</text>
<text x="321.1" y="39.5" text-anchor="end">-1.6</text>
<text x="320.6" y="134.5" text-anchor="end">1</text>
<text x="342.2" y="144.2" text-anchor="end">0.75</text>
<text x="363.9" y="154" text-anchor="end">0.5</text>
<text x="385.6" y="163.8" text-anchor="end">0.25</text>
<text x="407.2" y="173.5" text-anchor="end">0</text>
<text x="418.5" y="173.9">0.9</text>
<text x="446.7" y="166.4">0.7</text>
<text x="474.9" y="158.9">0.5</text>
<text x="503.1" y="151.4">0.3</text>
<text x="531.4" y="143.8">0.1</text>
</g>
<g fill="#1a1a1a" stroke="#1a1a1a" stroke-width=".15">
<text transform="translate(298.6 99.3) rotate(-90)" font-size="11.2"><tspan x="0.4" font-style="italic" font-size="11.2">τ</tspan><tspan x="5.9" font-style="italic" font-size="8.3" dy="3.2">c</tspan><tspan x="11.6" dy="-3.2">[MPa]</tspan></text>
<text x="350.2" y="172" font-size="11.2"><tspan font-style="italic" font-size="12">λ</tspan><tspan font-size="8.6" dy="4.6" dx=".6">c</tspan></text>
<text x="468.2" y="175.8" font-style="italic" font-size="11.2"><tspan>h</tspan><tspan font-size="8.6" dy="4.4" dx=".6" font-style="normal">2</tspan><tspan dy="-4.4" dx=".3">/H</tspan></text>
</g>
<path d="M45.6 307.4L158.4 277.3M158.4 277.3L245 316.3M67.2 359.6L180.1 329.5M180.1 329.5L180.1 244.7M73.8 342.3L160.4 381.3M73.8 342.3L73.8 257.4M88.9 369.3L201.8 339.2M201.8 339.2L201.8 254.4M102 334.8L188.6 373.8M102 334.8L102 249.9M110.5 379.1L223.4 349M223.4 349L223.4 264.1M130.2 327.3L216.8 366.3M130.2 327.3L130.2 242.4" stroke="#e0e0e0" stroke-width=".6" fill="none"/>
<path d="M45.6 265L45.6 349.8L132.2 388.8L245 358.8L245 273.9L158.4 234.9L45.6 265M45.6 349.8L158.4 319.8L245 358.8M158.4 319.8L158.4 234.9M45.6 349.8L42.9 348.6M45.6 307.4L42.9 306.1M45.6 265L42.9 263.7M45.6 349.8L42.7 350.6M132.2 388.8L134.9 390M67.2 359.6L64.4 360.3M160.4 381.3L163.1 382.5M88.9 369.3L86 370.1M188.6 373.8L191.4 375M110.5 379.1L107.7 379.8M216.8 366.3L219.6 367.5M132.2 388.8L129.3 389.6M245 358.8L247.8 360" stroke="#262626" stroke-width=".9" fill="none"/>
<path d="M45.6 271.4L48 278.9L50.5 286L52.9 292.5L55.3 298.5L57.8 304.3L60.2 309.9L62.6 315.3L65.1 320.3L67.5 325.2L70 329.7L72.4 333.9L74.8 337.9L77.3 341.7L79.7 345.4L82.1 348.9L84.6 352.3L87 355.7L89.4 358.9L91.9 361.8L94.3 364.5L96.7 367L99.2 369.2L101.6 371.1L104.1 372.9L106.5 374.4L108.9 375.6L111.4 376.5L113.8 377.2L116.2 377.3L118.7 376.2L121.1 372.8L123.5 367.2L123.5 367.2L127.6 364.4L131.6 361.6L135.6 358.8L139.7 356L143.7 353.1L147.7 350.3L151.8 347.4L155.8 344.5L159.8 341.6L163.8 338.7L167.9 335.8L171.9 332.9L175.9 329.9L180 326.9L184 324L188 321L192.1 318L196.1 314.9L200.1 311.9L204.1 308.9L208.2 305.8L212.2 302.7L216.2 299.6L220.3 296.5L224.3 293.4L228.3 290.3L232.4 287.2L236.4 284L236.4 284L234 283.4L231.5 282.8L229.1 282L226.6 281.2L224.2 280.3L221.8 279.3L219.3 278.3L216.9 277.3L214.5 276.2L212 275.1L209.6 273.9L207.2 272.8L204.7 271.6L202.3 270.4L199.9 269L197.4 267.5L195 266.1L192.5 264.5L190.1 263L187.7 261.4L185.2 259.9L182.8 258.4L180.4 257L177.9 255.5L175.5 253.9L173.1 252.3L170.6 250.7L168.2 249L165.8 247.4L163.3 245.9L160.9 244.3L158.4 242.7L158.4 242.7L154.4 243.6L150.4 244.5L146.4 245.4L142.3 246.3L138.3 247.2L134.3 248.1L130.2 249.1L126.2 250L122.2 251L118.1 252L114.1 253L110.1 253.9L106.1 255L102 256L98 257L94 258L89.9 259.1L85.9 260.2L81.9 261.2L77.8 262.3L73.8 263.4L69.8 264.5L65.8 265.6L61.7 266.7L57.7 267.9L53.7 269L49.6 270.2L45.6 271.4Z" fill="#000" filter="url(#sb)"/>
<g stroke="#000" stroke-width="0.3" stroke-opacity="0.9" stroke-linejoin="round" filter="url(#sb)">
<path d="M154.4 243.6L156.9 245.4L160.9 244.3L158.4 242.7Z" fill="#3e26a8" stroke-opacity=".80"/>
<path d="M156.9 245.4L159.3 247.2L163.3 245.9L160.9 244.3Z" fill="#3e26a8" stroke-opacity=".80"/>
<path d="M150.4 244.5L152.8 246.5L156.9 245.4L154.4 243.6Z" fill="#3e26a8" stroke-opacity=".80"/>
<path d="M159.3 247.2L161.7 249.1L165.8 247.4L163.3 245.9Z" fill="#3e27ab" stroke-opacity=".80"/>
<path d="M152.8 246.5L155.3 248.6L159.3 247.2L156.9 245.4Z" fill="#3e27a9" stroke-opacity=".80"/>
<path d="M146.4 245.4L148.8 247.7L152.8 246.5L150.4 244.5Z" fill="#3e26a8" stroke-opacity=".80"/>
<path d="M161.7 249.1L164.2 250.9L168.2 249L165.8 247.4Z" fill="#3f29b1" stroke-opacity=".80"/>
<path d="M155.3 248.6L157.7 250.7L161.7 249.1L159.3 247.2Z" fill="#3f29b1" stroke-opacity=".80"/>
<path d="M148.8 247.7L151.2 250L155.3 248.6L152.8 246.5Z" fill="#3e28ac" stroke-opacity=".80"/>
<path d="M142.3 246.3L144.8 248.8L148.8 247.7L146.4 245.4Z" fill="#3e26a8" stroke-opacity=".80"/>
<path d="M164.2 250.9L166.6 252.8L170.6 250.7L168.2 249Z" fill="#402bb6" stroke-opacity=".80"/>
<path d="M157.7 250.7L160.1 252.7L164.2 250.9L161.7 249.1Z" fill="#412cb9" stroke-opacity=".80"/>
<path d="M151.2 250L153.7 252.3L157.7 250.7L155.3 248.6Z" fill="#402bb7" stroke-opacity=".80"/>
<path d="M144.8 248.8L147.2 251.4L151.2 250L148.8 247.7Z" fill="#3f29b0" stroke-opacity=".80"/>
<path d="M166.6 252.8L169 254.6L173.1 252.3L170.6 250.7Z" fill="#412dbc" stroke-opacity=".80"/>
<path d="M138.3 247.2L140.7 250L144.8 248.8L142.3 246.3Z" fill="#3e26a8" stroke-opacity=".80"/>
<path d="M160.1 252.7L162.6 254.8L166.6 252.8L164.2 250.9Z" fill="#422fc0" stroke-opacity=".80"/>
<path d="M153.7 252.3L156.1 254.6L160.1 252.7L157.7 250.7Z" fill="#422fc0" stroke-opacity=".80"/>
<path d="M147.2 251.4L149.6 253.9L153.7 252.3L151.2 250Z" fill="#412dbc" stroke-opacity=".80"/>
<path d="M169 254.6L171.5 256.5L175.5 253.9L173.1 252.3Z" fill="#422fc1" stroke-opacity=".80"/>
<path d="M140.7 250L143.2 252.8L147.2 251.4L144.8 248.8Z" fill="#402ab3" stroke-opacity=".80"/>
<path d="M162.6 254.8L165 256.9L169 254.6L166.6 252.8Z" fill="#4332c8" stroke-opacity=".80"/>
<path d="M134.3 248.1L136.7 251.1L140.7 250L138.3 247.2Z" fill="#3e26a8" stroke-opacity=".80"/>
<path d="M156.1 254.6L158.5 256.9L162.6 254.8L160.1 252.7Z" fill="#4332cb" stroke-opacity=".80"/>
<path d="M149.6 253.9L152.1 256.4L156.1 254.6L153.7 252.3Z" fill="#4331c8" stroke-opacity=".80"/>
<path d="M171.5 256.5L173.9 258.2L177.9 255.5L175.5 253.9Z" fill="#4331c6" stroke-opacity=".80"/>
<path d="M143.2 252.8L145.6 255.5L149.6 253.9L147.2 251.4Z" fill="#422fc1" stroke-opacity=".80"/>
<path d="M165 256.9L167.4 259L171.5 256.5L169 254.6Z" fill="#4434d0" stroke-opacity=".80"/>
<path d="M136.7 251.1L139.1 254.1L143.2 252.8L140.7 250Z" fill="#402bb6" stroke-opacity=".80"/>
<path d="M158.5 256.9L161 259.2L165 256.9L162.6 254.8Z" fill="#4536d4" stroke-opacity=".80"/>
<path d="M130.2 249.1L132.7 252.3L136.7 251.1L134.3 248.1Z" fill="#3e26a8" stroke-opacity=".80"/>
<path d="M152.1 256.4L154.5 258.9L158.5 256.9L156.1 254.6Z" fill="#4536d4" stroke-opacity=".80"/>
<path d="M173.9 258.2L176.3 259.9L180.4 257L177.9 255.5Z" fill="#4332ca" stroke-opacity=".80"/>
<path d="M145.6 255.5L148 258.2L152.1 256.4L149.6 253.9Z" fill="#4434cf" stroke-opacity=".80"/>
<path d="M167.4 259L169.9 260.9L173.9 258.2L171.5 256.5Z" fill="#4537d6" stroke-opacity=".80"/>
<path d="M139.1 254.1L141.6 257.1L145.6 255.5L143.2 252.8Z" fill="#4331c7" stroke-opacity=".80"/>
<path d="M161 259.2L163.4 261.4L167.4 259L165 256.9Z" fill="#463adc" stroke-opacity=".80"/>
<path d="M132.7 252.3L135.1 255.5L139.1 254.1L136.7 251.1Z" fill="#412cba" stroke-opacity=".80"/>
<path d="M154.5 258.9L156.9 261.5L161 259.2L158.5 256.9Z" fill="#463bde" stroke-opacity=".80"/>
<path d="M126.2 250L128.6 253.5L132.7 252.3L130.2 249.1Z" fill="#3e26a8" stroke-opacity=".80"/>
<path d="M176.3 259.9L178.8 261.6L182.8 258.4L180.4 257Z" fill="#4433cd" stroke-opacity=".80"/>
<path d="M148 258.2L150.5 261L154.5 258.9L152.1 256.4Z" fill="#463adc" stroke-opacity=".80"/>
<path d="M169.9 260.9L172.3 262.8L176.3 259.9L173.9 258.2Z" fill="#463ada" stroke-opacity=".80"/>
<path d="M141.6 257.1L144 260L148 258.2L145.6 255.5Z" fill="#4537d6" stroke-opacity=".80"/>
<path d="M163.4 261.4L165.8 263.6L169.9 260.9L167.4 259Z" fill="#473fe2" stroke-opacity=".80"/>
<path d="M135.1 255.5L137.5 258.7L141.6 257.1L139.1 254.1Z" fill="#4433cc" stroke-opacity=".80"/>
<path d="M156.9 261.5L159.4 263.9L163.4 261.4L161 259.2Z" fill="#4741e5" stroke-opacity=".80"/>
<path d="M128.6 253.5L131.1 256.9L135.1 255.5L132.7 252.3Z" fill="#412dbd" stroke-opacity=".80"/>
<path d="M178.8 261.6L181.2 263.2L185.2 259.9L182.8 258.4Z" fill="#4435d1" stroke-opacity=".80"/>
<path d="M150.5 261L152.9 263.7L156.9 261.5L154.5 258.9Z" fill="#4741e5" stroke-opacity=".80"/>
<path d="M122.2 251L124.6 254.7L128.6 253.5L126.2 250Z" fill="#3e26a8" stroke-opacity=".80"/>
<path d="M172.3 262.8L174.7 264.7L178.8 261.6L176.3 259.9Z" fill="#463cdf" stroke-opacity=".80"/>
<path d="M144 260L146.4 263L150.5 261L148 258.2Z" fill="#473fe2" stroke-opacity=".80"/>
<path d="M165.8 263.6L168.3 265.7L172.3 262.8L169.9 260.9Z" fill="#4743e7" stroke-opacity=".80"/>
<path d="M137.5 258.7L140 261.8L144 260L141.6 257.1Z" fill="#463bdc" stroke-opacity=".80"/>
<path d="M159.4 263.9L161.8 266.3L165.8 263.6L163.4 261.4Z" fill="#4747eb" stroke-opacity=".80"/>
<path d="M131.1 256.9L133.5 260.3L137.5 258.7L135.1 255.5Z" fill="#4435d1" stroke-opacity=".80"/>
<path d="M181.2 263.2L183.6 264.9L187.7 261.4L185.2 259.9Z" fill="#4536d4" stroke-opacity=".80"/>
<path d="M152.9 263.7L155.3 266.3L159.4 263.9L156.9 261.5Z" fill="#4848ec" stroke-opacity=".80"/>
<path d="M124.6 254.7L127 258.4L131.1 256.9L128.6 253.5Z" fill="#422fc0" stroke-opacity=".80"/>
<path d="M174.7 264.7L177.2 266.5L181.2 263.2L178.8 261.6Z" fill="#473fe2" stroke-opacity=".80"/>
<path d="M146.4 263L148.9 265.9L152.9 263.7L150.5 261Z" fill="#4747eb" stroke-opacity=".80"/>
<path d="M118.1 252L120.6 255.9L124.6 254.7L122.2 251Z" fill="#3e27a9" stroke-opacity=".80"/>
<path d="M168.3 265.7L170.7 267.7L174.7 264.7L172.3 262.8Z" fill="#4746eb" stroke-opacity=".80"/>
<path d="M140 261.8L142.4 265L146.4 263L144 260Z" fill="#4744e8" stroke-opacity=".80"/>
<path d="M161.8 266.3L164.2 268.5L168.3 265.7L165.8 263.6Z" fill="#484cef" stroke-opacity=".80"/>
<path d="M133.5 260.3L135.9 263.6L140 261.8L137.5 258.7Z" fill="#473ee1" stroke-opacity=".80"/>
<path d="M183.6 264.9L186.1 266.6L190.1 263L187.7 261.4Z" fill="#4538d8" stroke-opacity=".80"/>
<path d="M155.3 266.3L157.8 268.9L161.8 266.3L159.4 263.9Z" fill="#484ff2" stroke-opacity=".80"/>
<path d="M127 258.4L129.5 261.9L133.5 260.3L131.1 256.9Z" fill="#4537d6" stroke-opacity=".80"/>
<path d="M177.2 266.5L179.6 268.4L183.6 264.9L181.2 263.2Z" fill="#4742e6" stroke-opacity=".80"/>
<path d="M148.9 265.9L151.3 268.7L155.3 266.3L152.9 263.7Z" fill="#484ff2" stroke-opacity=".80"/>
<path d="M120.6 255.9L123 259.8L127 258.4L124.6 254.7Z" fill="#4230c3" stroke-opacity=".80"/>
<path d="M170.7 267.7L173.2 269.7L177.2 266.5L174.7 264.7Z" fill="#484aee" stroke-opacity=".80"/>
<path d="M142.4 265L144.9 268.1L148.9 265.9L146.4 263Z" fill="#484df0" stroke-opacity=".80"/>
<path d="M114.1 253L116.6 257.1L120.6 255.9L118.1 252Z" fill="#3e27aa" stroke-opacity=".80"/>
<path d="M164.2 268.5L166.7 270.7L170.7 267.7L168.3 265.7Z" fill="#4850f3" stroke-opacity=".80"/>
<path d="M135.9 263.6L138.4 267L142.4 265L140 261.8Z" fill="#4849ed" stroke-opacity=".80"/>
<path d="M186.1 266.6L188.5 268.3L192.5 264.5L190.1 263Z" fill="#463bdc" stroke-opacity=".80"/>
<path d="M157.8 268.9L160.2 271.3L164.2 268.5L161.8 266.3Z" fill="#4755f6" stroke-opacity=".80"/>
<path d="M129.5 261.9L131.9 265.4L135.9 263.6L133.5 260.3Z" fill="#4742e6" stroke-opacity=".80"/>
<path d="M179.6 268.4L182.1 270.2L186.1 266.6L183.6 264.9Z" fill="#4745e9" stroke-opacity=".80"/>
<path d="M151.3 268.7L153.8 271.4L157.8 268.9L155.3 266.3Z" fill="#4756f7" stroke-opacity=".80"/>
<path d="M123 259.8L125.5 263.5L129.5 261.9L127 258.4Z" fill="#463ada" stroke-opacity=".80"/>
<path d="M173.2 269.7L175.6 271.8L179.6 268.4L177.2 266.5Z" fill="#484ef1" stroke-opacity=".80"/>
<path d="M144.9 268.1L147.3 271.1L151.3 268.7L148.9 265.9Z" fill="#4756f7" stroke-opacity=".80"/>
<path d="M116.6 257.1L119 261.2L123 259.8L120.6 255.9Z" fill="#4331c7" stroke-opacity=".80"/>
<path d="M166.7 270.7L169.1 272.9L173.2 269.7L170.7 267.7Z" fill="#4755f6" stroke-opacity=".80"/>
<path d="M138.4 267L140.8 270.3L144.9 268.1L142.4 265Z" fill="#4853f5" stroke-opacity=".80"/>
<path d="M110.1 253.9L112.5 258.3L116.6 257.1L114.1 253Z" fill="#3e27ac" stroke-opacity=".80"/>
<path d="M188.5 268.3L191 269.9L195 266.1L192.5 264.5Z" fill="#463cdf" stroke-opacity=".80"/>
<path d="M160.2 271.3L162.7 273.7L166.7 270.7L164.2 268.5Z" fill="#475af9" stroke-opacity=".80"/>
<path d="M131.9 265.4L134.4 269L138.4 267L135.9 263.6Z" fill="#484df1" stroke-opacity=".80"/>
<path d="M182.1 270.2L184.5 271.9L188.5 268.3L186.1 266.6Z" fill="#4848ec" stroke-opacity=".80"/>
<path d="M153.8 271.4L156.2 274.1L160.2 271.3L157.8 268.9Z" fill="#465dfb" stroke-opacity=".80"/>
<path d="M125.5 263.5L127.9 267.2L131.9 265.4L129.5 261.9Z" fill="#4746ea" stroke-opacity=".80"/>
<path d="M175.6 271.8L178 273.7L182.1 270.2L179.6 268.4Z" fill="#4852f4" stroke-opacity=".80"/>
<path d="M147.3 271.1L149.7 274L153.8 271.4L151.3 268.7Z" fill="#465efb" stroke-opacity=".80"/>
<path d="M119 261.2L121.4 265.1L125.5 263.5L123 259.8Z" fill="#463cdf" stroke-opacity=".80"/>
<path d="M169.1 272.9L171.6 275.1L175.6 271.8L173.2 269.7Z" fill="#475af9" stroke-opacity=".80"/>
<path d="M140.8 270.3L143.3 273.5L147.3 271.1L144.9 268.1Z" fill="#475cfa" stroke-opacity=".80"/>
<path d="M112.5 258.3L115 262.6L119 261.2L116.6 257.1Z" fill="#4332ca" stroke-opacity=".80"/>
<path d="M191 269.9L193.4 271.4L197.4 267.5L195 266.1Z" fill="#473ee1" stroke-opacity=".80"/>
<path d="M162.7 273.7L165.1 276L169.1 272.9L166.7 270.7Z" fill="#4660fb" stroke-opacity=".80"/>
<path d="M134.4 269L136.8 272.4L140.8 270.3L138.4 267Z" fill="#4758f8" stroke-opacity=".80"/>
<path d="M106.1 255L108.5 259.5L112.5 258.3L110.1 253.9Z" fill="#3f28ad" stroke-opacity=".80"/>
<path d="M184.5 271.9L186.9 273.6L191 269.9L188.5 268.3Z" fill="#484aee" stroke-opacity=".80"/>
<path d="M156.2 274.1L158.6 276.6L162.7 273.7L160.2 271.3Z" fill="#4564fd" stroke-opacity=".80"/>
<path d="M127.9 267.2L130.3 270.9L134.4 269L131.9 265.4Z" fill="#4852f4" stroke-opacity=".80"/>
<path d="M178 273.7L180.5 275.6L184.5 271.9L182.1 270.2Z" fill="#4755f6" stroke-opacity=".80"/>
<path d="M149.7 274L152.2 276.8L156.2 274.1L153.8 271.4Z" fill="#4466fd" stroke-opacity=".80"/>
<path d="M121.4 265.1L123.9 269L127.9 267.2L125.5 263.5Z" fill="#4849ed" stroke-opacity=".80"/>
<path d="M171.6 275.1L174 277.2L178 273.7L175.6 271.8Z" fill="#465efb" stroke-opacity=".80"/>
<path d="M143.3 273.5L145.7 276.5L149.7 274L147.3 271.1Z" fill="#4466fd" stroke-opacity=".80"/>
<path d="M115 262.6L117.4 266.8L121.4 265.1L119 261.2Z" fill="#473fe2" stroke-opacity=".80"/>
<path d="M193.4 271.4L195.8 273L199.9 269L197.4 267.5Z" fill="#4740e4" stroke-opacity=".80"/>
<path d="M165.1 276L167.5 278.4L171.6 275.1L169.1 272.9Z" fill="#4465fd" stroke-opacity=".80"/>
<path d="M136.8 272.4L139.2 275.8L143.3 273.5L140.8 270.3Z" fill="#4563fd" stroke-opacity=".80"/>
<path d="M108.5 259.5L110.9 264L115 262.6L112.5 258.3Z" fill="#4434ce" stroke-opacity=".80"/>
<path d="M186.9 273.6L189.4 275.3L193.4 271.4L191 269.9Z" fill="#484df0" stroke-opacity=".80"/>
<path d="M158.6 276.6L161.1 279.1L165.1 276L162.7 273.7Z" fill="#416afe" stroke-opacity=".80"/>
<path d="M130.3 270.9L132.8 274.6L136.8 272.4L134.4 269Z" fill="#465efb" stroke-opacity=".80"/>
<path d="M102 256L104.5 260.8L108.5 259.5L106.1 255Z" fill="#3f28af" stroke-opacity=".80"/>
<path d="M180.5 275.6L182.9 277.3L186.9 273.6L184.5 271.9Z" fill="#4758f8" stroke-opacity=".80"/>
<path d="M152.2 276.8L154.6 279.5L158.6 276.6L156.2 274.1Z" fill="#3f6efe" stroke-opacity=".80"/>
<path d="M123.9 269L126.3 272.9L130.3 270.9L127.9 267.2Z" fill="#4756f7" stroke-opacity=".80"/>
<path d="M174 277.2L176.4 279.1L180.5 275.6L178 273.7Z" fill="#4562fc" stroke-opacity=".80"/>
<path d="M145.7 276.5L148.1 279.5L152.2 276.8L149.7 274Z" fill="#3e6fff" stroke-opacity=".80"/>
<path d="M117.4 266.8L119.8 270.8L123.9 269L121.4 265.1Z" fill="#484df0" stroke-opacity=".80"/>
<path d="M195.8 273L198.3 274.4L202.3 270.4L199.9 269Z" fill="#4742e6" stroke-opacity=".80"/>
<path d="M167.5 278.4L170 280.6L174 277.2L171.6 275.1Z" fill="#416bfe" stroke-opacity=".80"/>
<path d="M139.2 275.8L141.7 279L145.7 276.5L143.3 273.5Z" fill="#3f6dfe" stroke-opacity=".80"/>
<path d="M110.9 264L113.4 268.4L117.4 266.8L115 262.6Z" fill="#4741e5" stroke-opacity=".80"/>
<path d="M189.4 275.3L191.8 276.9L195.8 273L193.4 271.4Z" fill="#484ff2" stroke-opacity=".80"/>
<path d="M161.1 279.1L163.5 281.6L167.5 278.4L165.1 276Z" fill="#3c71ff" stroke-opacity=".80"/>
<path d="M132.8 274.6L135.2 278.1L139.2 275.8L136.8 272.4Z" fill="#426afe" stroke-opacity=".80"/>
<path d="M104.5 260.8L106.9 265.5L110.9 264L108.5 259.5Z" fill="#4435d1" stroke-opacity=".80"/>
<path d="M182.9 277.3L185.3 279.1L189.4 275.3L186.9 273.6Z" fill="#475bf9" stroke-opacity=".80"/>
<path d="M154.6 279.5L157 282.1L161.1 279.1L158.6 276.6Z" fill="#3876fe" stroke-opacity=".80"/>
<path d="M126.3 272.9L128.7 276.7L132.8 274.6L130.3 270.9Z" fill="#4563fd" stroke-opacity=".80"/>
<path d="M98 257L100.4 262L104.5 260.8L102 256Z" fill="#3f29b1" stroke-opacity=".80"/>
<path d="M176.4 279.1L178.9 281L182.9 277.3L180.5 275.6Z" fill="#4465fd" stroke-opacity=".80"/>
<path d="M148.1 279.5L150.6 282.3L154.6 279.5L152.2 276.8Z" fill="#3678fe" stroke-opacity=".80"/>
<path d="M119.8 270.8L122.3 274.9L126.3 272.9L123.9 269Z" fill="#475bf9" stroke-opacity=".80"/>
<path d="M198.3 274.4L200.7 275.8L204.7 271.6L202.3 270.4Z" fill="#4742e6" stroke-opacity=".80"/>
<path d="M170 280.6L172.4 282.6L176.4 279.1L174 277.2Z" fill="#3e6fff" stroke-opacity=".80"/>
<path d="M141.7 279L144.1 282.1L148.1 279.5L145.7 276.5Z" fill="#3678fe" stroke-opacity=".80"/>
<path d="M113.4 268.4L115.8 272.6L119.8 270.8L117.4 266.8Z" fill="#4850f3" stroke-opacity=".80"/>
<path d="M191.8 276.9L194.2 278.4L198.3 274.4L195.8 273Z" fill="#4851f3" stroke-opacity=".80"/>
<path d="M163.5 281.6L165.9 283.9L170 280.6L167.5 278.4Z" fill="#3677fe" stroke-opacity=".80"/>
<path d="M135.2 278.1L137.6 281.5L141.7 279L139.2 275.8Z" fill="#3875fe" stroke-opacity=".80"/>
<path d="M106.9 265.5L109.3 270L113.4 268.4L110.9 264Z" fill="#4744e8" stroke-opacity=".80"/>
<path d="M185.3 279.1L187.8 280.8L191.8 276.9L189.4 275.3Z" fill="#465dfb" stroke-opacity=".80"/>
<path d="M157 282.1L159.5 284.7L163.5 281.6L161.1 279.1Z" fill="#317dfc" stroke-opacity=".80"/>
<path d="M128.7 276.7L131.2 280.4L135.2 278.1L132.8 274.6Z" fill="#3d70ff" stroke-opacity=".80"/>
<path d="M100.4 262L102.9 266.9L106.9 265.5L104.5 260.8Z" fill="#4536d4" stroke-opacity=".80"/>
<path d="M178.9 281L181.3 282.8L185.3 279.1L182.9 277.3Z" fill="#4269fe" stroke-opacity=".80"/>
<path d="M150.6 282.3L153 285.1L157 282.1L154.6 279.5Z" fill="#3080fa" stroke-opacity=".80"/>
<path d="M122.3 274.9L124.7 278.8L128.7 276.7L126.3 272.9Z" fill="#4269fe" stroke-opacity=".80"/>
<path d="M200.7 275.8L203.1 276.9L207.2 272.8L204.7 271.6Z" fill="#4743e7" stroke-opacity=".80"/>
<path d="M94 258L96.4 263.3L100.4 262L98 257Z" fill="#4029b2" stroke-opacity=".80"/>
<path d="M172.4 282.6L174.8 284.5L178.9 281L176.4 279.1Z" fill="#3a73fe" stroke-opacity=".80"/>
<path d="M144.1 282.1L146.5 285.1L150.6 282.3L148.1 279.5Z" fill="#2f81fa" stroke-opacity=".80"/>
<path d="M115.8 272.6L118.2 276.8L122.3 274.9L119.8 270.8Z" fill="#465ffb" stroke-opacity=".80"/>
<path d="M194.2 278.4L196.7 279.8L200.7 275.8L198.3 274.4Z" fill="#4852f4" stroke-opacity=".80"/>
<path d="M165.9 283.9L168.4 286L172.4 282.6L170 280.6Z" fill="#327cfc" stroke-opacity=".80"/>
<path d="M137.6 281.5L140.1 284.7L144.1 282.1L141.7 279Z" fill="#2f80fa" stroke-opacity=".80"/>
<path d="M109.3 270L111.8 274.4L115.8 272.6L113.4 268.4Z" fill="#4854f5" stroke-opacity=".80"/>
<path d="M187.8 280.8L190.2 282.4L194.2 278.4L191.8 276.9Z" fill="#4660fb" stroke-opacity=".80"/>
<path d="M159.5 284.7L161.9 287.2L165.9 283.9L163.5 281.6Z" fill="#2e83f9" stroke-opacity=".80"/>
<path d="M131.2 280.4L133.6 283.9L137.6 281.5L135.2 278.1Z" fill="#317dfc" stroke-opacity=".80"/>
<path d="M102.9 266.9L105.3 271.6L109.3 270L106.9 265.5Z" fill="#4747eb" stroke-opacity=".80"/>
<path d="M181.3 282.8L183.7 284.6L187.8 280.8L185.3 279.1Z" fill="#406cfe" stroke-opacity=".80"/>
<path d="M153 285.1L155.4 287.9L159.5 284.7L157 282.1Z" fill="#2d88f6" stroke-opacity=".80"/>
<path d="M124.7 278.8L127.1 282.6L131.2 280.4L128.7 276.7Z" fill="#3777fe" stroke-opacity=".80"/>
<path d="M203.1 276.9L205.6 278.1L209.6 273.9L207.2 272.8Z" fill="#4743e7" stroke-opacity=".80"/>
<path d="M96.4 263.3L98.8 268.3L102.9 266.9L100.4 262Z" fill="#4538d7" stroke-opacity=".80"/>
<path d="M174.8 284.5L177.3 286.4L181.3 282.8L178.9 281Z" fill="#3677fe" stroke-opacity=".80"/>
<path d="M146.5 285.1L149 288L153 285.1L150.6 282.3Z" fill="#2d89f5" stroke-opacity=".80"/>
<path d="M118.2 276.8L120.7 280.9L124.7 278.8L122.3 274.9Z" fill="#3f6fff" stroke-opacity=".80"/>
<path d="M196.7 279.8L199.1 281L203.1 276.9L200.7 275.8Z" fill="#4852f4" stroke-opacity=".80"/>
<path d="M89.9 259.1L92.4 264.5L96.4 263.3L94 258Z" fill="#402ab4" stroke-opacity=".80"/>
<path d="M168.4 286L170.8 288L174.8 284.5L172.4 282.6Z" fill="#2f81fa" stroke-opacity=".80"/>
<path d="M140.1 284.7L142.5 287.8L146.5 285.1L144.1 282.1Z" fill="#2d8af5" stroke-opacity=".80"/>
<path d="M111.8 274.4L114.2 278.7L118.2 276.8L115.8 272.6Z" fill="#4564fd" stroke-opacity=".80"/>
<path d="M190.2 282.4L192.6 283.8L196.7 279.8L194.2 278.4Z" fill="#4561fc" stroke-opacity=".80"/>
<path d="M161.9 287.2L164.3 289.4L168.4 286L165.9 283.9Z" fill="#2d88f6" stroke-opacity=".80"/>
<path d="M133.6 283.9L136 287.3L140.1 284.7L137.6 281.5Z" fill="#2d88f6" stroke-opacity=".80"/>
<path d="M105.3 271.6L107.7 276.1L111.8 274.4L109.3 270Z" fill="#4758f8" stroke-opacity=".80"/>
<path d="M183.7 284.6L186.2 286.2L190.2 282.4L187.8 280.8Z" fill="#3e6fff" stroke-opacity=".80"/>
<path d="M155.4 287.9L157.9 290.4L161.9 287.2L159.5 284.7Z" fill="#2c8ef1" stroke-opacity=".80"/>
<path d="M127.1 282.6L129.6 286.3L133.6 283.9L131.2 280.4Z" fill="#2e84f9" stroke-opacity=".80"/>
<path d="M205.6 278.1L208 279.1L212 275.1L209.6 273.9Z" fill="#4743e7" stroke-opacity=".80"/>
<path d="M98.8 268.3L101.3 273.2L105.3 271.6L102.9 266.9Z" fill="#484aed" stroke-opacity=".80"/>
<path d="M177.3 286.4L179.7 288.3L183.7 284.6L181.3 282.8Z" fill="#327bfc" stroke-opacity=".80"/>
<path d="M149 288L151.4 290.9L155.4 287.9L153 285.1Z" fill="#2b91ef" stroke-opacity=".80"/>
<path d="M120.7 280.9L123.1 284.8L127.1 282.6L124.7 278.8Z" fill="#317dfb" stroke-opacity=".80"/>
<path d="M199.1 281L201.5 282.1L205.6 278.1L203.1 276.9Z" fill="#4853f4" stroke-opacity=".80"/>
<path d="M92.4 264.5L94.8 269.8L98.8 268.3L96.4 263.3Z" fill="#463ada" stroke-opacity=".80"/>
<path d="M170.8 288L173.2 290L177.3 286.4L174.8 284.5Z" fill="#2e85f8" stroke-opacity=".80"/>
<path d="M142.5 287.8L144.9 290.9L149 288L146.5 285.1Z" fill="#2a92ee" stroke-opacity=".80"/>
<path d="M114.2 278.7L116.6 283L120.7 280.9L118.2 276.8Z" fill="#3974fe" stroke-opacity=".80"/>
<path d="M192.6 283.8L195.1 285.1L199.1 281L196.7 279.8Z" fill="#4562fc" stroke-opacity=".80"/>
<path d="M85.9 260.2L88.3 265.8L92.4 264.5L89.9 259.1Z" fill="#402bb6" stroke-opacity=".80"/>
<path d="M164.3 289.4L166.8 291.5L170.8 288L168.4 286Z" fill="#2d8df2" stroke-opacity=".80"/>
<path d="M136 287.3L138.5 290.5L142.5 287.8L140.1 284.7Z" fill="#2b91ef" stroke-opacity=".80"/>
<path d="M107.7 276.1L110.2 280.6L114.2 278.7L111.8 274.4Z" fill="#4368fe" stroke-opacity=".80"/>
<path d="M186.2 286.2L188.6 287.7L192.6 283.8L190.2 282.4Z" fill="#3d71ff" stroke-opacity=".80"/>
<path d="M157.9 290.4L160.3 292.7L164.3 289.4L161.9 287.2Z" fill="#2a93ee" stroke-opacity=".80"/>
<path d="M129.6 286.3L132 289.8L136 287.3L133.6 283.9Z" fill="#2c8ff1" stroke-opacity=".80"/>
<path d="M208 279.1L210.4 280.2L214.5 276.2L212 275.1Z" fill="#4743e7" stroke-opacity=".80"/>
<path d="M101.3 273.2L103.7 277.9L107.7 276.1L105.3 271.6Z" fill="#475bf9" stroke-opacity=".80"/>
<path d="M179.7 288.3L182.1 290L186.2 286.2L183.7 284.6Z" fill="#317efb" stroke-opacity=".80"/>
<path d="M151.4 290.9L153.8 293.5L157.9 290.4L155.4 287.9Z" fill="#2798ea" stroke-opacity=".80"/>
<path d="M123.1 284.8L125.5 288.6L129.6 286.3L127.1 282.6Z" fill="#2d8af4" stroke-opacity=".80"/>
<path d="M201.5 282.1L204 283.1L208 279.1L205.6 278.1Z" fill="#4852f4" stroke-opacity=".80"/>
<path d="M94.8 269.8L97.2 274.8L101.3 273.2L98.8 268.3Z" fill="#484cf0" stroke-opacity=".80"/>
<path d="M173.2 290L175.7 291.9L179.7 288.3L177.3 286.4Z" fill="#2d89f6" stroke-opacity=".80"/>
<path d="M144.9 290.9L147.4 293.9L151.4 290.9L149 288Z" fill="#269ae8" stroke-opacity=".80"/>
<path d="M116.6 283L119.1 287L123.1 284.8L120.7 280.9Z" fill="#2e83f9" stroke-opacity=".80"/>
<path d="M195.1 285.1L197.5 286.1L201.5 282.1L199.1 281Z" fill="#4562fc" stroke-opacity=".80"/>
<path d="M88.3 265.8L90.8 271.2L94.8 269.8L92.4 264.5Z" fill="#463bdd" stroke-opacity=".80"/>
<path d="M166.8 291.5L169.2 293.5L173.2 290L170.8 288Z" fill="#2b91ef" stroke-opacity=".80"/>
<path d="M138.5 290.5L140.9 293.7L144.9 290.9L142.5 287.8Z" fill="#269ae8" stroke-opacity=".80"/>
<path d="M110.2 280.6L112.6 285L116.6 283L114.2 278.7Z" fill="#347afd" stroke-opacity=".80"/>
<path d="M188.6 287.7L191 289L195.1 285.1L192.6 283.8Z" fill="#3c72ff" stroke-opacity=".80"/>
<path d="M81.9 261.2L84.3 267.1L88.3 265.8L85.9 260.2Z" fill="#402cb8" stroke-opacity=".80"/>
<path d="M160.3 292.7L162.7 294.9L166.8 291.5L164.3 289.4Z" fill="#2798ea" stroke-opacity=".80"/>
<path d="M132 289.8L134.4 293.2L138.5 290.5L136 287.3Z" fill="#2699e9" stroke-opacity=".80"/>
<path d="M210.4 280.2L212.9 281.2L216.9 277.3L214.5 276.2Z" fill="#4743e7" stroke-opacity=".80"/>
<path d="M103.7 277.9L106.1 282.5L110.2 280.6L107.7 276.1Z" fill="#406dfe" stroke-opacity=".80"/>
<path d="M182.1 290L184.6 291.6L188.6 287.7L186.2 286.2Z" fill="#2f80fa" stroke-opacity=".80"/>
<path d="M153.8 293.5L156.3 295.9L160.3 292.7L157.9 290.4Z" fill="#259de7" stroke-opacity=".80"/>
<path d="M125.5 288.6L128 292.3L132 289.8L129.6 286.3Z" fill="#2896ec" stroke-opacity=".80"/>
<path d="M204 283.1L206.4 284.1L210.4 280.2L208 279.1Z" fill="#4852f4" stroke-opacity=".80"/>
<path d="M97.2 274.8L99.7 279.6L103.7 277.9L101.3 273.2Z" fill="#465efb" stroke-opacity=".80"/>
<path d="M175.7 291.9L178.1 293.8L182.1 290L179.7 288.3Z" fill="#2d8cf3" stroke-opacity=".80"/>
<path d="M147.4 293.9L149.8 296.6L153.8 293.5L151.4 290.9Z" fill="#23a1e5" stroke-opacity=".80"/>
<path d="M119.1 287L121.5 291L125.5 288.6L123.1 284.8Z" fill="#2b90f0" stroke-opacity=".80"/>
<path d="M197.5 286.1L199.9 287.1L204 283.1L201.5 282.1Z" fill="#4561fc" stroke-opacity=".80"/>
<path d="M90.8 271.2L93.2 276.4L97.2 274.8L94.8 269.8Z" fill="#484ff2" stroke-opacity=".80"/>
<path d="M169.2 293.5L171.6 295.5L175.7 291.9L173.2 290Z" fill="#2995ec" stroke-opacity=".80"/>
<path d="M140.9 293.7L143.3 296.8L147.4 293.9L144.9 290.9Z" fill="#22a2e4" stroke-opacity=".80"/>
<path d="M112.6 285L115 289.2L119.1 287L116.6 283Z" fill="#2d89f5" stroke-opacity=".80"/>
<path d="M191 289L193.5 290.1L197.5 286.1L195.1 285.1Z" fill="#3c71ff" stroke-opacity=".80"/>
<path d="M84.3 267.1L86.7 272.7L90.8 271.2L88.3 265.8Z" fill="#463de0" stroke-opacity=".80"/>
<path d="M162.7 294.9L165.2 297L169.2 293.5L166.8 291.5Z" fill="#259ce7" stroke-opacity=".80"/>
<path d="M134.4 293.2L136.9 296.5L140.9 293.7L138.5 290.5Z" fill="#22a2e4" stroke-opacity=".80"/>
<path d="M212.9 281.2L215.3 282.1L219.3 278.3L216.9 277.3Z" fill="#4743e7" stroke-opacity=".80"/>
<path d="M106.1 282.5L108.6 287L112.6 285L110.2 280.6Z" fill="#307ffb" stroke-opacity=".80"/>
<path d="M184.6 291.6L187 292.9L191 289L188.6 287.7Z" fill="#2f81fa" stroke-opacity=".80"/>
<path d="M77.8 262.3L80.3 268.3L84.3 267.1L81.9 261.2Z" fill="#412cba" stroke-opacity=".80"/>
<path d="M156.3 295.9L158.7 298.2L162.7 294.9L160.3 292.7Z" fill="#22a1e4" stroke-opacity=".80"/>
<path d="M128 292.3L130.4 295.8L134.4 293.2L132 289.8Z" fill="#239fe5" stroke-opacity=".80"/>
<path d="M206.4 284.1L208.8 285L212.9 281.2L210.4 280.2Z" fill="#4852f4" stroke-opacity=".80"/>
<path d="M99.7 279.6L102.1 284.4L106.1 282.5L103.7 277.9Z" fill="#3c71ff" stroke-opacity=".80"/>
<path d="M178.1 293.8L180.5 295.4L184.6 291.6L182.1 290Z" fill="#2c8ef1" stroke-opacity=".80"/>
<path d="M149.8 296.6L152.2 299.1L156.3 295.9L153.8 293.5Z" fill="#1fa6e2" stroke-opacity=".80"/>
<path d="M121.5 291L123.9 294.8L128 292.3L125.5 288.6Z" fill="#259ce7" stroke-opacity=".80"/>
<path d="M199.9 287.1L202.4 288L206.4 284.1L204 283.1Z" fill="#4661fc" stroke-opacity=".80"/>
<path d="M93.2 276.4L95.6 281.4L99.7 279.6L97.2 274.8Z" fill="#4562fc" stroke-opacity=".80"/>
<path d="M171.6 295.5L174.1 297.4L178.1 293.8L175.7 291.9Z" fill="#2798ea" stroke-opacity=".80"/>
<path d="M143.3 296.8L145.8 299.6L149.8 296.6L147.4 293.9Z" fill="#1da9e0" stroke-opacity=".80"/>
<path d="M115 289.2L117.5 293.3L121.5 291L119.1 287Z" fill="#2896eb" stroke-opacity=".80"/>
<path d="M193.5 290.1L195.9 291L199.9 287.1L197.5 286.1Z" fill="#3d71ff" stroke-opacity=".80"/>
<path d="M86.7 272.7L89.2 278L93.2 276.4L90.8 271.2Z" fill="#4852f4" stroke-opacity=".80"/>
<path d="M165.2 297L167.6 299.1L171.6 295.5L169.2 293.5Z" fill="#23a0e5" stroke-opacity=".80"/>
<path d="M136.9 296.5L139.3 299.7L143.3 296.8L140.9 293.7Z" fill="#1caadf" stroke-opacity=".80"/>
<path d="M215.3 282.1L217.7 283.1L221.8 279.3L219.3 278.3Z" fill="#4743e7" stroke-opacity=".80"/>
<path d="M108.6 287L111 291.4L115 289.2L112.6 285Z" fill="#2c8ef1" stroke-opacity=".80"/>
<path d="M187 292.9L189.4 293.9L193.5 290.1L191 289Z" fill="#2f81fa" stroke-opacity=".80"/>
<path d="M80.3 268.3L82.7 274.1L86.7 272.7L84.3 267.1Z" fill="#473fe2" stroke-opacity=".80"/>
<path d="M158.7 298.2L161.1 300.4L165.2 297L162.7 294.9Z" fill="#1fa6e2" stroke-opacity=".80"/>
<path d="M130.4 295.8L132.8 299.2L136.9 296.5L134.4 293.2Z" fill="#1da9e0" stroke-opacity=".80"/>
<path d="M208.8 285L211.3 285.9L215.3 282.1L212.9 281.2Z" fill="#4851f3" stroke-opacity=".80"/>
<path d="M102.1 284.4L104.5 289L108.6 287L106.1 282.5Z" fill="#2e84f9" stroke-opacity=".80"/>
<path d="M180.5 295.4L183 296.7L187 292.9L184.6 291.6Z" fill="#2c8ff1" stroke-opacity=".80"/>
<path d="M73.8 263.4L76.2 269.6L80.3 268.3L77.8 262.3Z" fill="#412dbc" stroke-opacity=".80"/>
<path d="M152.2 299.1L154.7 301.4L158.7 298.2L156.3 295.9Z" fill="#1baade" stroke-opacity=".80"/>
<path d="M123.9 294.8L126.4 298.4L130.4 295.8L128 292.3Z" fill="#1fa6e2" stroke-opacity=".80"/>
<path d="M202.4 288L204.8 288.9L208.8 285L206.4 284.1Z" fill="#4660fb" stroke-opacity=".80"/>
<path d="M95.6 281.4L98.1 286.3L102.1 284.4L99.7 279.6Z" fill="#3876fe" stroke-opacity=".80"/>
<path d="M174.1 297.4L176.5 299.1L180.5 295.4L178.1 293.8Z" fill="#269ae8" stroke-opacity=".80"/>
<path d="M145.8 299.6L148.2 302.2L152.2 299.1L149.8 296.6Z" fill="#17aedb" stroke-opacity=".80"/>
<path d="M117.5 293.3L119.9 297.2L123.9 294.8L121.5 291Z" fill="#22a2e4" stroke-opacity=".80"/>
<path d="M195.9 291L198.3 291.9L202.4 288L199.9 287.1Z" fill="#3e70ff" stroke-opacity=".80"/>
<path d="M89.2 278L91.6 283.1L95.6 281.4L93.2 276.4Z" fill="#4465fd" stroke-opacity=".80"/>
<path d="M167.6 299.1L170 301L174.1 297.4L171.6 295.5Z" fill="#21a3e3" stroke-opacity=".80"/>
<path d="M139.3 299.7L141.7 302.6L145.8 299.6L143.3 296.8Z" fill="#14b0d8" stroke-opacity=".80"/>
<path d="M217.7 283.1L220.2 284L224.2 280.3L221.8 279.3Z" fill="#4742e6" stroke-opacity=".80"/>
<path d="M111 291.4L113.4 295.5L117.5 293.3L115 289.2Z" fill="#259be7" stroke-opacity=".80"/>
<path d="M189.4 293.9L191.9 294.9L195.9 291L193.5 290.1Z" fill="#2f80fa" stroke-opacity=".80"/>
<path d="M82.7 274.1L85.1 279.6L89.2 278L86.7 272.7Z" fill="#4854f6" stroke-opacity=".80"/>
<path d="M161.1 300.4L163.6 302.5L167.6 299.1L165.2 297Z" fill="#1caadf" stroke-opacity=".80"/>
<path d="M132.8 299.2L135.3 302.5L139.3 299.7L136.9 296.5Z" fill="#13b0d7" stroke-opacity=".80"/>
<path d="M211.3 285.9L213.7 286.7L217.7 283.1L215.3 282.1Z" fill="#4850f3" stroke-opacity=".80"/>
<path d="M104.5 289L107 293.5L111 291.4L108.6 287Z" fill="#2a93ed" stroke-opacity=".80"/>
<path d="M183 296.7L185.4 297.8L189.4 293.9L187 292.9Z" fill="#2c8ff1" stroke-opacity=".80"/>
<path d="M76.2 269.6L78.7 275.6L82.7 274.1L80.3 268.3Z" fill="#4741e5" stroke-opacity=".80"/>
<path d="M154.7 301.4L157.1 303.7L161.1 300.4L158.7 298.2Z" fill="#16afda" stroke-opacity=".80"/>
<path d="M126.4 298.4L128.8 301.9L132.8 299.2L130.4 295.8Z" fill="#16afda" stroke-opacity=".80"/>
<path d="M204.8 288.9L207.2 289.7L211.3 285.9L208.8 285Z" fill="#465ffb" stroke-opacity=".80"/>
<path d="M98.1 286.3L100.5 291L104.5 289L102.1 284.4Z" fill="#2d88f6" stroke-opacity=".80"/>
<path d="M176.5 299.1L178.9 300.5L183 296.7L180.5 295.4Z" fill="#259be8" stroke-opacity=".80"/>
<path d="M69.8 264.5L72.2 270.9L76.2 269.6L73.8 263.4Z" fill="#422ebe" stroke-opacity=".80"/>
<path d="M148.2 302.2L150.7 304.6L154.7 301.4L152.2 299.1Z" fill="#0fb2d4" stroke-opacity=".80"/>
<path d="M119.9 297.2L122.4 300.9L126.4 298.4L123.9 294.8Z" fill="#1aacdd" stroke-opacity=".80"/>
<path d="M198.3 291.9L200.8 292.7L204.8 288.9L202.4 288Z" fill="#3f6eff" stroke-opacity=".80"/>
<path d="M91.6 283.1L94.1 288.1L98.1 286.3L95.6 281.4Z" fill="#337afd" stroke-opacity=".80"/>
<path d="M170 301L172.5 302.8L176.5 299.1L174.1 297.4Z" fill="#1fa5e2" stroke-opacity=".80"/>
<path d="M141.7 302.6L144.2 305.2L148.2 302.2L145.8 299.6Z" fill="#08b4d0" stroke-opacity=".80"/>
<path d="M220.2 284L222.6 284.9L226.6 281.2L224.2 280.3Z" fill="#4741e5" stroke-opacity=".80"/>
<path d="M113.4 295.5L115.9 299.5L119.9 297.2L117.5 293.3Z" fill="#1ea7e1" stroke-opacity=".80"/>
<path d="M191.9 294.9L194.3 295.7L198.3 291.9L195.9 291Z" fill="#307ffb" stroke-opacity=".80"/>
<path d="M85.1 279.6L87.6 284.8L91.6 283.1L89.2 278Z" fill="#4269fe" stroke-opacity=".80"/>
<path d="M163.6 302.5L166 304.6L170 301L167.6 299.1Z" fill="#19addc" stroke-opacity=".80"/>
<path d="M135.3 302.5L137.7 305.5L141.7 302.6L139.3 299.7Z" fill="#05b6ce" stroke-opacity=".80"/>
<path d="M213.7 286.7L216.2 287.6L220.2 284L217.7 283.1Z" fill="#484ff2" stroke-opacity=".80"/>
<path d="M107 293.5L109.4 297.8L113.4 295.5L111 291.4Z" fill="#23a0e5" stroke-opacity=".80"/>
<path d="M185.4 297.8L187.9 298.7L191.9 294.9L189.4 293.9Z" fill="#2c8ef2" stroke-opacity=".80"/>
<path d="M78.7 275.6L81.1 281.2L85.1 279.6L82.7 274.1Z" fill="#4757f7" stroke-opacity=".80"/>
<path d="M157.1 303.7L159.6 305.9L163.6 302.5L161.1 300.4Z" fill="#0fb2d5" stroke-opacity=".80"/>
<path d="M128.8 301.9L131.3 305.3L135.3 302.5L132.8 299.2Z" fill="#05b6ce" stroke-opacity=".80"/>
<path d="M207.2 289.7L209.7 290.4L213.7 286.7L211.3 285.9Z" fill="#465dfb" stroke-opacity=".80"/>
<path d="M100.5 291L103 295.6L107 293.5L104.5 289Z" fill="#2798ea" stroke-opacity=".80"/>
<path d="M178.9 300.5L181.4 301.5L185.4 297.8L183 296.7Z" fill="#259be8" stroke-opacity=".80"/>
<path d="M72.2 270.9L74.7 277.1L78.7 275.6L76.2 269.6Z" fill="#4743e7" stroke-opacity=".80"/>
<path d="M150.7 304.6L153.1 307L157.1 303.7L154.7 301.4Z" fill="#05b6ce" stroke-opacity=".80"/>
<path d="M122.4 300.9L124.8 304.5L128.8 301.9L126.4 298.4Z" fill="#0ab4d2" stroke-opacity=".80"/>
<path d="M200.8 292.7L203.2 293.4L207.2 289.7L204.8 288.9Z" fill="#406dfe" stroke-opacity=".80"/>
<path d="M94.1 288.1L96.5 293L100.5 291L98.1 286.3Z" fill="#2d8df2" stroke-opacity=".80"/>
<path d="M172.5 302.8L174.9 304.2L178.9 300.5L176.5 299.1Z" fill="#1ea6e1" stroke-opacity=".80"/>
<path d="M65.8 265.6L68.2 272.2L72.2 270.9L69.8 264.5Z" fill="#422fc1" stroke-opacity=".80"/>
<path d="M144.2 305.2L146.6 307.7L150.7 304.6L148.2 302.2Z" fill="#01b8c9" stroke-opacity=".80"/>
<path d="M222.6 284.9L225.1 285.7L229.1 282L226.6 281.2Z" fill="#4740e3" stroke-opacity=".80"/>
<path d="M115.9 299.5L118.3 303.4L122.4 300.9L119.9 297.2Z" fill="#12b1d7" stroke-opacity=".80"/>
<path d="M194.3 295.7L196.8 296.4L200.8 292.7L198.3 291.9Z" fill="#317dfb" stroke-opacity=".80"/>
<path d="M87.6 284.8L90 290L94.1 288.1L91.6 283.1Z" fill="#307ffb" stroke-opacity=".80"/>
<path d="M166 304.6L168.5 306.4L172.5 302.8L170 301Z" fill="#15afd9" stroke-opacity=".80"/>
<path d="M137.7 305.5L140.2 308.2L144.2 305.2L141.7 302.6Z" fill="#02bac5" stroke-opacity=".80"/>
<path d="M216.2 287.6L218.6 288.5L222.6 284.9L220.2 284Z" fill="#484ef1" stroke-opacity=".80"/>
<path d="M109.4 297.8L111.9 301.9L115.9 299.5L113.4 295.5Z" fill="#19acdc" stroke-opacity=".80"/>
<path d="M187.9 298.7L190.3 299.4L194.3 295.7L191.9 294.9Z" fill="#2d8cf3" stroke-opacity=".80"/>
<path d="M81.1 281.2L83.6 286.6L87.6 284.8L85.1 279.6Z" fill="#406dfe" stroke-opacity=".80"/>
<path d="M159.6 305.9L162 308L166 304.6L163.6 302.5Z" fill="#07b5d0" stroke-opacity=".80"/>
<path d="M131.3 305.3L133.7 308.4L137.7 305.5L135.3 302.5Z" fill="#02bbc3" stroke-opacity=".80"/>
<path d="M209.7 290.4L212.1 291.2L216.2 287.6L213.7 286.7Z" fill="#475cfa" stroke-opacity=".80"/>
<path d="M103 295.6L105.4 300L109.4 297.8L107 293.5Z" fill="#1fa5e2" stroke-opacity=".80"/>
<path d="M181.4 301.5L183.8 302.4L187.9 298.7L185.4 297.8Z" fill="#269ae8" stroke-opacity=".80"/>
<path d="M74.7 277.1L77.1 282.8L81.1 281.2L78.7 275.6Z" fill="#475af9" stroke-opacity=".80"/>
<path d="M153.1 307L155.5 309.3L159.6 305.9L157.1 303.7Z" fill="#01b9c8" stroke-opacity=".80"/>
<path d="M124.8 304.5L127.2 308L131.3 305.3L128.8 301.9Z" fill="#02bac4" stroke-opacity=".80"/>
<path d="M203.2 293.4L205.7 294.1L209.7 290.4L207.2 289.7Z" fill="#416bfe" stroke-opacity=".80"/>
<path d="M96.5 293L98.9 297.7L103 295.6L100.5 291Z" fill="#259ce7" stroke-opacity=".80"/>
<path d="M174.9 304.2L177.4 305.2L181.4 301.5L178.9 300.5Z" fill="#1fa6e1" stroke-opacity=".80"/>
<path d="M68.2 272.2L70.6 278.5L74.7 277.1L72.2 270.9Z" fill="#4745e9" stroke-opacity=".80"/>
<path d="M146.6 307.7L149.1 310.1L153.1 307L150.7 304.6Z" fill="#04bbc1" stroke-opacity=".80"/>
<path d="M225.1 285.7L227.5 286.4L231.5 282.8L229.1 282Z" fill="#463ee1" stroke-opacity=".80"/>
<path d="M118.3 303.4L120.8 307.1L124.8 304.5L122.4 300.9Z" fill="#01b8c9" stroke-opacity=".80"/>
<path d="M196.8 296.4L199.2 297.1L203.2 293.4L200.8 292.7Z" fill="#327cfc" stroke-opacity=".80"/>
<path d="M90 290L92.5 295L96.5 293L94.1 288.1Z" fill="#2b91ef" stroke-opacity=".80"/>
<path d="M168.5 306.4L170.9 307.8L174.9 304.2L172.5 302.8Z" fill="#13b0d7" stroke-opacity=".80"/>
<path d="M61.7 266.7L64.2 273.6L68.2 272.2L65.8 265.6Z" fill="#4230c3" stroke-opacity=".80"/>
<path d="M140.2 308.2L142.6 310.8L146.6 307.7L144.2 305.2Z" fill="#0bbdbd" stroke-opacity=".80"/>
<path d="M218.6 288.5L221 289.3L225.1 285.7L222.6 284.9Z" fill="#484df0" stroke-opacity=".80"/>
<path d="M111.9 301.9L114.3 305.8L118.3 303.4L115.9 299.5Z" fill="#06b5cf" stroke-opacity=".80"/>
<path d="M190.3 299.4L192.7 300.2L196.8 296.4L194.3 295.7Z" fill="#2d8bf4" stroke-opacity=".80"/>
<path d="M83.6 286.6L86 291.8L90 290L87.6 284.8Z" fill="#2f82f9" stroke-opacity=".80"/>
<path d="M162 308L164.4 309.9L168.5 306.4L166 304.6Z" fill="#03b7cc" stroke-opacity=".80"/>
<path d="M133.7 308.4L136.1 311.1L140.2 308.2L137.7 305.5Z" fill="#11beb9" stroke-opacity=".80"/>
<path d="M212.1 291.2L214.6 292.1L218.6 288.5L216.2 287.6Z" fill="#475bf9" stroke-opacity=".80"/>
<path d="M105.4 300L107.8 304.2L111.9 301.9L109.4 297.8Z" fill="#13b1d7" stroke-opacity=".80"/>
<path d="M183.8 302.4L186.3 303.2L190.3 299.4L187.9 298.7Z" fill="#2699e9" stroke-opacity=".80"/>
<path d="M77.1 282.8L79.5 288.3L83.6 286.6L81.1 281.2Z" fill="#3d70ff" stroke-opacity=".80"/>
<path d="M155.5 309.3L158 311.4L162 308L159.6 305.9Z" fill="#04bbc2" stroke-opacity=".80"/>
<path d="M127.2 308L129.7 311.1L133.7 308.4L131.3 305.3Z" fill="#13beb8" stroke-opacity=".80"/>
<path d="M205.7 294.1L208.1 294.8L212.1 291.2L209.7 290.4Z" fill="#4269fe" stroke-opacity=".80"/>
<path d="M98.9 297.7L101.4 302.2L105.4 300L103 295.6Z" fill="#1caadf" stroke-opacity=".80"/>
<path d="M177.4 305.2L179.8 306.1L183.8 302.4L181.4 301.5Z" fill="#1fa5e2" stroke-opacity=".80"/>
<path d="M70.6 278.5L73.1 284.4L77.1 282.8L74.7 277.1Z" fill="#475cfa" stroke-opacity=".80"/>
<path d="M149.1 310.1L151.5 312.5L155.5 309.3L153.1 307Z" fill="#10beba" stroke-opacity=".80"/>
<path d="M227.5 286.4L229.9 286.8L234 283.4L231.5 282.8Z" fill="#463cde" stroke-opacity=".80"/>
<path d="M120.8 307.1L123.2 310.6L127.2 308L124.8 304.5Z" fill="#0fbeba" stroke-opacity=".80"/>
<path d="M199.2 297.1L201.6 297.7L205.7 294.1L203.2 293.4Z" fill="#3479fd" stroke-opacity=".80"/>
<path d="M92.5 295L94.9 299.7L98.9 297.7L96.5 293Z" fill="#23a1e5" stroke-opacity=".80"/>
<path d="M170.9 307.8L173.3 308.9L177.4 305.2L174.9 304.2Z" fill="#14b0d8" stroke-opacity=".80"/>
<path d="M64.2 273.6L66.6 280L70.6 278.5L68.2 272.2Z" fill="#4747eb" stroke-opacity=".80"/>
<path d="M142.6 310.8L145 313.3L149.1 310.1L146.6 307.7Z" fill="#1bc0b4" stroke-opacity=".80"/>
<path d="M221 289.3L223.5 289.9L227.5 286.4L225.1 285.7Z" fill="#484bee" stroke-opacity=".80"/>
<path d="M114.3 305.8L116.7 309.6L120.8 307.1L118.3 303.4Z" fill="#06bcc0" stroke-opacity=".80"/>
<path d="M192.7 300.2L195.2 300.8L199.2 297.1L196.8 296.4Z" fill="#2d89f5" stroke-opacity=".80"/>
<path d="M86 291.8L88.4 296.9L92.5 295L90 290Z" fill="#2895ec" stroke-opacity=".80"/>
<path d="M164.4 309.9L166.9 311.4L170.9 307.8L168.5 306.4Z" fill="#01b8ca" stroke-opacity=".80"/>
<path d="M57.7 267.9L60.1 274.9L64.2 273.6L61.7 266.7Z" fill="#4331c6" stroke-opacity=".80"/>
<path d="M136.1 311.1L138.6 313.8L142.6 310.8L140.2 308.2Z" fill="#21c1b0" stroke-opacity=".80"/>
<path d="M214.6 292.1L217 292.8L221 289.3L218.6 288.5Z" fill="#4759f9" stroke-opacity=".80"/>
<path d="M107.8 304.2L110.3 308.2L114.3 305.8L111.9 301.9Z" fill="#01b9c7" stroke-opacity=".80"/>
<path d="M186.3 303.2L188.7 303.8L192.7 300.2L190.3 299.4Z" fill="#2797eb" stroke-opacity=".80"/>
<path d="M79.5 288.3L82 293.6L86 291.8L83.6 286.6Z" fill="#2e86f7" stroke-opacity=".80"/>
<path d="M158 311.4L160.4 313.3L164.4 309.9L162 308Z" fill="#0abdbd" stroke-opacity=".80"/>
<path d="M129.7 311.1L132.1 314L136.1 311.1L133.7 308.4Z" fill="#25c2ae" stroke-opacity=".80"/>
<path d="M208.1 294.8L210.5 295.7L214.6 292.1L212.1 291.2Z" fill="#4368fe" stroke-opacity=".80"/>
<path d="M101.4 302.2L103.8 306.5L107.8 304.2L105.4 300Z" fill="#08b4d0" stroke-opacity=".80"/>
<path d="M179.8 306.1L182.2 306.8L186.3 303.2L183.8 302.4Z" fill="#20a4e3" stroke-opacity=".80"/>
<path d="M73.1 284.4L75.5 290L79.5 288.3L77.1 282.8Z" fill="#3a74fe" stroke-opacity=".80"/>
<path d="M151.5 312.5L153.9 314.7L158 311.4L155.5 309.3Z" fill="#1cc0b3" stroke-opacity=".80"/>
<path d="M229.9 286.8L232.4 287.2L236.4 284L234 283.4Z" fill="#4639da" stroke-opacity=".80"/>
<path d="M123.2 310.6L125.6 313.9L129.7 311.1L127.2 308Z" fill="#25c2ad" stroke-opacity=".80"/>
<path d="M201.6 297.7L204.1 298.4L208.1 294.8L205.7 294.1Z" fill="#3777fe" stroke-opacity=".80"/>
<path d="M94.9 299.7L97.3 304.3L101.4 302.2L98.9 297.7Z" fill="#17aeda" stroke-opacity=".80"/>
<path d="M173.3 308.9L175.8 309.8L179.8 306.1L177.4 305.2Z" fill="#15afd9" stroke-opacity=".80"/>
<path d="M66.6 280L69 286L73.1 284.4L70.6 278.5Z" fill="#465ffb" stroke-opacity=".80"/>
<path d="M145 313.3L147.5 315.7L151.5 312.5L149.1 310.1Z" fill="#27c2ac" stroke-opacity=".80"/>
<path d="M223.5 289.9L225.9 290.2L229.9 286.8L227.5 286.4Z" fill="#4747ec" stroke-opacity=".80"/>
<path d="M116.7 309.6L119.2 313.2L123.2 310.6L120.8 307.1Z" fill="#21c1b1" stroke-opacity=".80"/>
<path d="M195.2 300.8L197.6 301.3L201.6 297.7L199.2 297.1Z" fill="#2e86f7" stroke-opacity=".80"/>
<path d="M88.4 296.9L90.9 301.8L94.9 299.7L92.5 295Z" fill="#20a5e3" stroke-opacity=".80"/>
<path d="M166.9 311.4L169.3 312.5L173.3 308.9L170.9 307.8Z" fill="#01b8ca" stroke-opacity=".80"/>
<path d="M60.1 274.9L62.6 281.5L66.6 280L64.2 273.6Z" fill="#4849ed" stroke-opacity=".80"/>
<path d="M138.6 313.8L141 316.3L145 313.3L142.6 310.8Z" fill="#2cc4a7" stroke-opacity=".80"/>
<path d="M217 292.8L219.4 293.4L223.5 289.9L221 289.3Z" fill="#4757f7" stroke-opacity=".80"/>
<path d="M110.3 308.2L112.7 312L116.7 309.6L114.3 305.8Z" fill="#16bfb7" stroke-opacity=".80"/>
<path d="M188.7 303.8L191.1 304.4L195.2 300.8L192.7 300.2Z" fill="#2895ec" stroke-opacity=".80"/>
<path d="M82 293.6L84.4 298.8L88.4 296.9L86 291.8Z" fill="#2699e9" stroke-opacity=".80"/>
<path d="M160.4 313.3L162.8 314.9L166.9 311.4L164.4 309.9Z" fill="#0fbebb" stroke-opacity=".80"/>
<path d="M53.7 269L56.1 276.2L60.1 274.9L57.7 267.9Z" fill="#4331c8" stroke-opacity=".80"/>
<path d="M132.1 314L134.5 316.7L138.6 313.8L136.1 311.1Z" fill="#2fc5a3" stroke-opacity=".80"/>
<path d="M210.5 295.7L213 296.4L217 292.8L214.6 292.1Z" fill="#4466fd" stroke-opacity=".80"/>
<path d="M103.8 306.5L106.2 310.5L110.3 308.2L107.8 304.2Z" fill="#07bcbf" stroke-opacity=".80"/>
<path d="M182.2 306.8L184.7 307.5L188.7 303.8L186.3 303.2Z" fill="#22a2e4" stroke-opacity=".80"/>
<path d="M75.5 290L77.9 295.4L82 293.6L79.5 288.3Z" fill="#2d8af5" stroke-opacity=".80"/>
<path d="M153.9 314.7L156.4 316.7L160.4 313.3L158 311.4Z" fill="#24c2ae" stroke-opacity=".80"/>
<path d="M125.6 313.9L128.1 316.8L132.1 314L129.7 311.1Z" fill="#30c5a2" stroke-opacity=".80"/>
<path d="M204.1 298.4L206.5 299.2L210.5 295.7L208.1 294.8Z" fill="#3876fe" stroke-opacity=".80"/>
<path d="M97.3 304.3L99.8 308.7L103.8 306.5L101.4 302.2Z" fill="#01b8ca" stroke-opacity=".80"/>
<path d="M175.8 309.8L178.2 310.5L182.2 306.8L179.8 306.1Z" fill="#17aeda" stroke-opacity=".80"/>
<path d="M69 286L71.5 291.7L75.5 290L73.1 284.4Z" fill="#3677fe" stroke-opacity=".80"/>
<path d="M147.5 315.7L149.9 318L153.9 314.7L151.5 312.5Z" fill="#2ec4a4" stroke-opacity=".80"/>
<path d="M225.9 290.2L228.3 290.3L232.4 287.2L229.9 286.8Z" fill="#4743e7" stroke-opacity=".77"/>
<path d="M119.2 313.2L121.6 316.5L125.6 313.9L123.2 310.6Z" fill="#2fc5a2" stroke-opacity=".80"/>
<path d="M197.6 301.3L200 301.9L204.1 298.4L201.6 297.7Z" fill="#2e84f8" stroke-opacity=".80"/>
<path d="M90.9 301.8L93.3 306.4L97.3 304.3L94.9 299.7Z" fill="#10b2d5" stroke-opacity=".80"/>
<path d="M169.3 312.5L171.7 313.4L175.8 309.8L173.3 308.9Z" fill="#02b7cb" stroke-opacity=".80"/>
<path d="M62.6 281.5L65 287.6L69 286L66.6 280Z" fill="#4562fc" stroke-opacity=".80"/>
<path d="M141 316.3L143.4 318.8L147.5 315.7L145 313.3Z" fill="#33c69d" stroke-opacity=".80"/>
<path d="M219.4 293.4L221.9 293.6L225.9 290.2L223.5 289.9Z" fill="#4853f5" stroke-opacity=".80"/>
<path d="M112.7 312L115.1 315.7L119.2 313.2L116.7 309.6Z" fill="#2cc4a7" stroke-opacity=".80"/>
<path d="M191.1 304.4L193.6 304.9L197.6 301.3L195.2 300.8Z" fill="#2a92ee" stroke-opacity=".80"/>
<path d="M84.4 298.8L86.8 303.8L90.9 301.8L88.4 296.9Z" fill="#1da9e0" stroke-opacity=".80"/>
<path d="M162.8 314.9L165.3 316L169.3 312.5L166.9 311.4Z" fill="#0fbebb" stroke-opacity=".80"/>
<path d="M56.1 276.2L58.5 283L62.6 281.5L60.1 274.9Z" fill="#484bef" stroke-opacity=".80"/>
<path d="M134.5 316.7L137 319.3L141 316.3L138.6 313.8Z" fill="#36c899" stroke-opacity=".80"/>
<path d="M213 296.4L215.4 296.9L219.4 293.4L217 292.8Z" fill="#4563fd" stroke-opacity=".80"/>
<path d="M106.2 310.5L108.7 314.5L112.7 312L110.3 308.2Z" fill="#24c1ae" stroke-opacity=".80"/>
<path d="M184.7 307.5L187.1 308.1L191.1 304.4L188.7 303.8Z" fill="#23a0e5" stroke-opacity=".80"/>
<path d="M77.9 295.4L80.4 300.7L84.4 298.8L82 293.6Z" fill="#259ce7" stroke-opacity=".80"/>
<path d="M156.4 316.7L158.8 318.3L162.8 314.9L160.4 313.3Z" fill="#28c2ab" stroke-opacity=".80"/>
<path d="M49.6 270.2L52.1 277.6L56.1 276.2L53.7 269Z" fill="#4332cb" stroke-opacity=".80"/>
<path d="M128.1 316.8L130.5 319.6L134.5 316.7L132.1 314Z" fill="#38c895" stroke-opacity=".80"/>
<path d="M206.5 299.2L208.9 300L213 296.4L210.5 295.7Z" fill="#3a74fe" stroke-opacity=".80"/>
<path d="M99.8 308.7L102.2 312.8L106.2 310.5L103.8 306.5Z" fill="#15bfb8" stroke-opacity=".80"/>
<path d="M178.2 310.5L180.6 311.1L184.7 307.5L182.2 306.8Z" fill="#19acdc" stroke-opacity=".80"/>
<path d="M71.5 291.7L73.9 297.2L77.9 295.4L75.5 290Z" fill="#2d8df2" stroke-opacity=".80"/>
<path d="M149.9 318L152.3 320L156.4 316.7L153.9 314.7Z" fill="#32c69e" stroke-opacity=".80"/>
<path d="M121.6 316.5L124 319.5L128.1 316.8L125.6 313.9Z" fill="#39c895" stroke-opacity=".80"/>
<path d="M200 301.9L202.5 302.8L206.5 299.2L204.1 298.4Z" fill="#2e83f9" stroke-opacity=".80"/>
<path d="M93.3 306.4L95.7 310.9L99.8 308.7L97.3 304.3Z" fill="#02bbc3" stroke-opacity=".80"/>
<path d="M171.7 313.4L174.2 314.1L178.2 310.5L175.8 309.8Z" fill="#04b6cd" stroke-opacity=".80"/>
<path d="M65 287.6L67.4 293.4L71.5 291.7L69 286Z" fill="#337bfc" stroke-opacity=".80"/>
<path d="M143.4 318.8L145.9 321.2L149.9 318L147.5 315.7Z" fill="#3ac994" stroke-opacity=".80"/>
<path d="M221.9 293.6L224.3 293.4L228.3 290.3L225.9 290.2Z" fill="#484ef1" stroke-opacity=".66"/>
<path d="M115.1 315.7L117.6 319.1L121.6 316.5L119.2 313.2Z" fill="#37c897" stroke-opacity=".80"/>
<path d="M193.6 304.9L196 305.5L200 301.9L197.6 301.3Z" fill="#2b90f0" stroke-opacity=".80"/>
<path d="M86.8 303.8L89.3 308.5L93.3 306.4L90.9 301.8Z" fill="#07b5d0" stroke-opacity=".80"/>
<path d="M165.3 316L167.7 316.9L171.7 313.4L169.3 312.5Z" fill="#0cbdbc" stroke-opacity=".80"/>
<path d="M58.5 283L61 289.2L65 287.6L62.6 281.5Z" fill="#4465fd" stroke-opacity=".80"/>
<path d="M137 319.3L139.4 321.9L143.4 318.8L141 316.3Z" fill="#40ca8d" stroke-opacity=".80"/>
<path d="M215.4 296.9L217.8 296.9L221.9 293.6L219.4 293.4Z" fill="#465ffb" stroke-opacity=".78"/>
<path d="M108.7 314.5L111.1 318.2L115.1 315.7L112.7 312Z" fill="#34c79c" stroke-opacity=".80"/>
<path d="M187.1 308.1L189.5 308.5L193.6 304.9L191.1 304.4Z" fill="#249ee6" stroke-opacity=".80"/>
<path d="M80.4 300.7L82.8 305.8L86.8 303.8L84.4 298.8Z" fill="#1aacdd" stroke-opacity=".80"/>
<path d="M158.8 318.3L161.2 319.5L165.3 316L162.8 314.9Z" fill="#28c2ab" stroke-opacity=".80"/>
<path d="M52.1 277.6L54.5 284.5L58.5 283L56.1 276.2Z" fill="#484df0" stroke-opacity=".80"/>
<path d="M130.5 319.6L132.9 322.3L137 319.3L134.5 316.7Z" fill="#45cb89" stroke-opacity=".80"/>
<path d="M208.9 300L211.4 300.4L215.4 296.9L213 296.4Z" fill="#3d70ff" stroke-opacity=".80"/>
<path d="M102.2 312.8L104.6 316.8L108.7 314.5L106.2 310.5Z" fill="#2dc4a5" stroke-opacity=".80"/>
<path d="M180.6 311.1L183.1 311.7L187.1 308.1L184.7 307.5Z" fill="#1baade" stroke-opacity=".80"/>
<path d="M73.9 297.2L76.3 302.6L80.4 300.7L77.9 295.4Z" fill="#23a0e5" stroke-opacity=".80"/>
<path d="M152.3 320L154.8 321.7L158.8 318.3L156.4 316.7Z" fill="#35c79a" stroke-opacity=".80"/>
<path d="M45.6 271.4L48 278.9L52.1 277.6L49.6 270.2Z" fill="#4433cd" stroke-opacity=".80"/>
<path d="M124 319.5L126.5 322.4L130.5 319.6L128.1 316.8Z" fill="#48cb86" stroke-opacity=".80"/>
<path d="M202.5 302.8L204.9 303.5L208.9 300L206.5 299.2Z" fill="#2f81fa" stroke-opacity=".80"/>
<path d="M95.7 310.9L98.2 315.1L102.2 312.8L99.8 308.7Z" fill="#22c1b0" stroke-opacity=".80"/>
<path d="M174.2 314.1L176.6 314.7L180.6 311.1L178.2 310.5Z" fill="#07b5d0" stroke-opacity=".80"/>
<path d="M67.4 293.4L69.9 299L73.9 297.2L71.5 291.7Z" fill="#2b91ef" stroke-opacity=".80"/>
<path d="M145.9 321.2L148.3 323.3L152.3 320L149.9 318Z" fill="#41ca8c" stroke-opacity=".80"/>
<path d="M117.6 319.1L120 322.2L124 319.5L121.6 316.5Z" fill="#47cb87" stroke-opacity=".80"/>
<path d="M196 305.5L198.4 306.4L202.5 302.8L200 301.9Z" fill="#2c8ff0" stroke-opacity=".80"/>
<path d="M89.3 308.5L91.7 313L95.7 310.9L93.3 306.4Z" fill="#0cbdbc" stroke-opacity=".80"/>
<path d="M167.7 316.9L170.1 317.6L174.2 314.1L171.7 313.4Z" fill="#09bcbe" stroke-opacity=".80"/>
<path d="M61 289.2L63.4 295.1L67.4 293.4L65 287.6Z" fill="#317efb" stroke-opacity=".80"/>
<path d="M139.4 321.9L141.8 324.3L145.9 321.2L143.4 318.8Z" fill="#4dcc82" stroke-opacity=".80"/>
<path d="M217.8 296.9L220.3 296.5L224.3 293.4L221.9 293.6Z" fill="#4758f8" stroke-opacity=".55"/>
<path d="M111.1 318.2L113.5 321.6L117.6 319.1L115.1 315.7Z" fill="#44ca8a" stroke-opacity=".80"/>
<path d="M189.5 308.5L192 309L196 305.5L193.6 304.9Z" fill="#259be8" stroke-opacity=".80"/>
<path d="M82.8 305.8L85.2 310.6L89.3 308.5L86.8 303.8Z" fill="#01b8ca" stroke-opacity=".80"/>
<path d="M161.2 319.5L163.7 320.4L167.7 316.9L165.3 316Z" fill="#26c2ac" stroke-opacity=".80"/>
<path d="M54.5 284.5L56.9 290.9L61 289.2L58.5 283Z" fill="#4368fd" stroke-opacity=".80"/>
<path d="M132.9 322.3L135.4 324.9L139.4 321.9L137 319.3Z" fill="#55cc7b" stroke-opacity=".80"/>
<path d="M211.4 300.4L213.8 300.3L217.8 296.9L215.4 296.9Z" fill="#416bfe" stroke-opacity=".71"/>
<path d="M104.6 316.8L107.1 320.6L111.1 318.2L108.7 314.5Z" fill="#3cc991" stroke-opacity=".80"/>
<path d="M183.1 311.7L185.5 312.1L189.5 308.5L187.1 308.1Z" fill="#1da8e0" stroke-opacity=".80"/>
<path d="M76.3 302.6L78.8 307.7L82.8 305.8L80.4 300.7Z" fill="#15afd9" stroke-opacity=".80"/>
<path d="M154.8 321.7L157.2 322.9L161.2 319.5L158.8 318.3Z" fill="#35c79a" stroke-opacity=".80"/>
<path d="M48 278.9L50.5 286L54.5 284.5L52.1 277.6Z" fill="#484ff2" stroke-opacity=".80"/>
<path d="M126.5 322.4L128.9 325.1L132.9 322.3L130.5 319.6Z" fill="#5acc78" stroke-opacity=".80"/>
<path d="M204.9 303.5L207.3 303.8L211.4 300.4L208.9 300Z" fill="#317efb" stroke-opacity=".80"/>
<path d="M98.2 315.1L100.6 319.1L104.6 316.8L102.2 312.8Z" fill="#34c79c" stroke-opacity=".80"/>
<path d="M176.6 314.7L179 315.2L183.1 311.7L180.6 311.1Z" fill="#0cb3d3" stroke-opacity=".80"/>
<path d="M69.9 299L72.3 304.5L76.3 302.6L73.9 297.2Z" fill="#21a3e3" stroke-opacity=".80"/>
<path d="M148.3 323.3L150.7 325L154.8 321.7L152.3 320Z" fill="#46cb88" stroke-opacity=".80"/>
<path d="M120 322.2L122.4 325.1L126.5 322.4L124 319.5Z" fill="#5bcc76" stroke-opacity=".80"/>
<path d="M198.4 306.4L200.9 307L204.9 303.5L202.5 302.8Z" fill="#2d8df2" stroke-opacity=".80"/>
<path d="M91.7 313L94.1 317.3L98.2 315.1L95.7 310.9Z" fill="#2bc3a8" stroke-opacity=".80"/>
<path d="M170.1 317.6L172.6 318.2L176.6 314.7L174.2 314.1Z" fill="#05bbc1" stroke-opacity=".80"/>
<path d="M63.4 295.1L65.8 300.8L69.9 299L67.4 293.4Z" fill="#2994ed" stroke-opacity=".80"/>
<path d="M141.8 324.3L144.3 326.5L148.3 323.3L145.9 321.2Z" fill="#58cc79" stroke-opacity=".80"/>
<path d="M113.5 321.6L116 324.8L120 322.2L117.6 319.1Z" fill="#59cc78" stroke-opacity=".80"/>
<path d="M192 309L194.4 309.9L198.4 306.4L196 305.5Z" fill="#269ae8" stroke-opacity=".80"/>
<path d="M85.2 310.6L87.7 315.1L91.7 313L89.3 308.5Z" fill="#19bfb5" stroke-opacity=".80"/>
<path d="M163.7 320.4L166.1 321.1L170.1 317.6L167.7 316.9Z" fill="#23c1af" stroke-opacity=".80"/>
<path d="M56.9 290.9L59.4 296.8L63.4 295.1L61 289.2Z" fill="#2f82fa" stroke-opacity=".80"/>
<path d="M135.4 324.9L137.8 327.4L141.8 324.3L139.4 321.9Z" fill="#65cd6e" stroke-opacity=".80"/>
<path d="M213.8 300.3L216.2 299.6L220.3 296.5L217.8 296.9Z" fill="#4563fc" stroke-opacity=".45"/>
<path d="M107.1 320.6L109.5 324.1L113.5 321.6L111.1 318.2Z" fill="#53cc7d" stroke-opacity=".80"/>
<path d="M185.5 312.1L187.9 312.5L192 309L189.5 308.5Z" fill="#1fa6e2" stroke-opacity=".80"/>
<path d="M78.8 307.7L81.2 312.6L85.2 310.6L82.8 305.8Z" fill="#02bac4" stroke-opacity=".80"/>
<path d="M157.2 322.9L159.6 323.8L163.7 320.4L161.2 319.5Z" fill="#34c79b" stroke-opacity=".80"/>
<path d="M50.5 286L52.9 292.5L56.9 290.9L54.5 284.5Z" fill="#416afe" stroke-opacity=".80"/>
<path d="M128.9 325.1L131.3 327.8L135.4 324.9L132.9 322.3Z" fill="#6ccd68" stroke-opacity=".80"/>
<path d="M207.3 303.8L209.8 303.6L213.8 300.3L211.4 300.4Z" fill="#3777fe" stroke-opacity=".64"/>
<path d="M100.6 319.1L103 323L107.1 320.6L104.6 316.8Z" fill="#48cb86" stroke-opacity=".80"/>
<path d="M179 315.2L181.5 315.6L185.5 312.1L183.1 311.7Z" fill="#12b1d6" stroke-opacity=".80"/>
<path d="M72.3 304.5L74.7 309.6L78.8 307.7L76.3 302.6Z" fill="#0fb2d4" stroke-opacity=".80"/>
<path d="M150.7 325L153.2 326.2L157.2 322.9L154.8 321.7Z" fill="#47cb87" stroke-opacity=".80"/>
<path d="M122.4 325.1L124.9 327.9L128.9 325.1L126.5 322.4Z" fill="#6fcd66" stroke-opacity=".80"/>
<path d="M200.9 307L203.3 307.3L207.3 303.8L204.9 303.5Z" fill="#2d8af5" stroke-opacity=".80"/>
<path d="M94.1 317.3L96.6 321.4L100.6 319.1L98.2 315.1Z" fill="#3bc992" stroke-opacity=".80"/>
<path d="M172.6 318.2L175 318.8L179 315.2L176.6 314.7Z" fill="#02bac5" stroke-opacity=".80"/>
<path d="M65.8 300.8L68.3 306.3L72.3 304.5L69.9 299Z" fill="#1ea7e1" stroke-opacity=".80"/>
<path d="M144.3 326.5L146.7 328.2L150.7 325L148.3 323.3Z" fill="#5fcd73" stroke-opacity=".80"/>
<path d="M116 324.8L118.4 327.8L122.4 325.1L120 322.2Z" fill="#6fcd66" stroke-opacity=".80"/>
<path d="M194.4 309.9L196.8 310.5L200.9 307L198.4 306.4Z" fill="#2698ea" stroke-opacity=".80"/>
<path d="M87.7 315.1L90.1 319.5L94.1 317.3L91.7 313Z" fill="#31c6a0" stroke-opacity=".80"/>
<path d="M166.1 321.1L168.5 321.7L172.6 318.2L170.1 317.6Z" fill="#1fc0b2" stroke-opacity=".80"/>
<path d="M59.4 296.8L61.8 302.6L65.8 300.8L63.4 295.1Z" fill="#2797eb" stroke-opacity=".80"/>
<path d="M137.8 327.4L140.2 329.6L144.3 326.5L141.8 324.3Z" fill="#72cd64" stroke-opacity=".80"/>
<path d="M109.5 324.1L111.9 327.3L116 324.8L113.5 321.6Z" fill="#6bcd69" stroke-opacity=".80"/>
<path d="M187.9 312.5L190.4 313.4L194.4 309.9L192 309Z" fill="#20a5e3" stroke-opacity=".80"/>
<path d="M81.2 312.6L83.6 317.2L87.7 315.1L85.2 310.6Z" fill="#24c1af" stroke-opacity=".80"/>
<path d="M159.6 323.8L162.1 324.6L166.1 321.1L163.7 320.4Z" fill="#32c69e" stroke-opacity=".80"/>
<path d="M52.9 292.5L55.3 298.5L59.4 296.8L56.9 290.9Z" fill="#2e85f8" stroke-opacity=".80"/>
<path d="M131.3 327.8L133.8 330.4L137.8 327.4L135.4 324.9Z" fill="#7ecc5a" stroke-opacity=".80"/>
<path d="M209.8 303.6L212.2 302.7L216.2 299.6L213.8 300.3Z" fill="#3f6efe" stroke-opacity=".36"/>
<path d="M103 323L105.5 326.5L109.5 324.1L107.1 320.6Z" fill="#64cd6f" stroke-opacity=".80"/>
<path d="M181.5 315.6L183.9 316L187.9 312.5L185.5 312.1Z" fill="#16afd9" stroke-opacity=".80"/>
<path d="M74.7 309.6L77.2 314.6L81.2 312.6L78.8 307.7Z" fill="#08bcbf" stroke-opacity=".80"/>
<path d="M153.2 326.2L155.6 327.2L159.6 323.8L157.2 322.9Z" fill="#46cb88" stroke-opacity=".80"/>
<path d="M124.9 327.9L127.3 330.7L131.3 327.8L128.9 325.1Z" fill="#85cb56" stroke-opacity=".80"/>
<path d="M203.3 307.3L205.7 306.9L209.8 303.6L207.3 303.8Z" fill="#2e83f9" stroke-opacity=".57"/>
<path d="M96.6 321.4L99 325.3L103 323L100.6 319.1Z" fill="#57cc7a" stroke-opacity=".80"/>
<path d="M175 318.8L177.4 319.1L181.5 315.6L179 315.2Z" fill="#01b8c9" stroke-opacity=".80"/>
<path d="M68.3 306.3L70.7 311.5L74.7 309.6L72.3 304.5Z" fill="#07b5d0" stroke-opacity=".80"/>
<path d="M146.7 328.2L149.1 329.5L153.2 326.2L150.7 325Z" fill="#61cd71" stroke-opacity=".80"/>
<path d="M118.4 327.8L120.8 330.7L124.9 327.9L122.4 325.1Z" fill="#86cb55" stroke-opacity=".80"/>
<path d="M196.8 310.5L199.3 310.7L203.3 307.3L200.9 307Z" fill="#2995ec" stroke-opacity=".80"/>
<path d="M90.1 319.5L92.5 323.6L96.6 321.4L94.1 317.3Z" fill="#46cb88" stroke-opacity=".80"/>
<path d="M168.5 321.7L171 322.3L175 318.8L172.6 318.2Z" fill="#19bfb5" stroke-opacity=".80"/>
<path d="M61.8 302.6L64.2 308.1L68.3 306.3L65.8 300.8Z" fill="#1caadf" stroke-opacity=".80"/>
<path d="M140.2 329.6L142.7 331.4L146.7 328.2L144.3 326.5Z" fill="#7bcc5d" stroke-opacity=".80"/>
<path d="M111.9 327.3L114.4 330.4L118.4 327.8L116 324.8Z" fill="#84cb56" stroke-opacity=".80"/>
<path d="M190.4 313.4L192.8 314L196.8 310.5L194.4 309.9Z" fill="#21a3e3" stroke-opacity=".80"/>
<path d="M83.6 317.2L86.1 321.6L90.1 319.5L87.7 315.1Z" fill="#36c898" stroke-opacity=".80"/>
<path d="M162.1 324.6L164.5 325.2L168.5 321.7L166.1 321.1Z" fill="#30c5a1" stroke-opacity=".80"/>
<path d="M55.3 298.5L57.8 304.3L61.8 302.6L59.4 296.8Z" fill="#269ae8" stroke-opacity=".80"/>
<path d="M133.8 330.4L136.2 332.6L140.2 329.6L137.8 327.4Z" fill="#8dcb4f" stroke-opacity=".80"/>
<path d="M105.5 326.5L107.9 329.8L111.9 327.3L109.5 324.1Z" fill="#7fcc5a" stroke-opacity=".80"/>
<path d="M183.9 316L186.3 316.9L190.4 313.4L187.9 312.5Z" fill="#17aeda" stroke-opacity=".80"/>
<path d="M77.2 314.6L79.6 319.3L83.6 317.2L81.2 312.6Z" fill="#2bc3a8" stroke-opacity=".80"/>
<path d="M155.6 327.2L158 328L162.1 324.6L159.6 323.8Z" fill="#42ca8b" stroke-opacity=".80"/>
<path d="M127.3 330.7L129.7 333.3L133.8 330.4L131.3 327.8Z" fill="#97ca47" stroke-opacity=".80"/>
<path d="M205.7 306.9L208.2 305.8L212.2 302.7L209.8 303.6Z" fill="#3579fd" stroke-opacity=".36"/>
<path d="M99 325.3L101.4 328.9L105.5 326.5L103 323Z" fill="#75cc62" stroke-opacity=".80"/>
<path d="M177.4 319.1L179.9 319.5L183.9 316L181.5 315.6Z" fill="#04b6cc" stroke-opacity=".80"/>
<path d="M70.7 311.5L73.1 316.5L77.2 314.6L74.7 309.6Z" fill="#12beb9" stroke-opacity=".80"/>
<path d="M149.1 329.5L151.6 330.6L155.6 327.2L153.2 326.2Z" fill="#60cd72" stroke-opacity=".80"/>
<path d="M120.8 330.7L123.3 333.5L127.3 330.7L124.9 327.9Z" fill="#9cc944" stroke-opacity=".80"/>
<path d="M199.3 310.7L201.7 310.2L205.7 306.9L203.3 307.3Z" fill="#2c8ef2" stroke-opacity=".50"/>
<path d="M92.5 323.6L95 327.5L99 325.3L96.6 321.4Z" fill="#65cd6e" stroke-opacity=".80"/>
<path d="M171 322.3L173.4 322.6L177.4 319.1L175 318.8Z" fill="#10beba" stroke-opacity=".80"/>
<path d="M64.2 308.1L66.7 313.4L70.7 311.5L68.3 306.3Z" fill="#02b7cb" stroke-opacity=".80"/>
<path d="M142.7 331.4L145.1 332.8L149.1 329.5L146.7 328.2Z" fill="#7dcc5b" stroke-opacity=".80"/>
<path d="M114.4 330.4L116.8 333.3L120.8 330.7L118.4 327.8Z" fill="#9cc944" stroke-opacity=".80"/>
<path d="M192.8 314L195.2 314.2L199.3 310.7L196.8 310.5Z" fill="#249fe5" stroke-opacity=".80"/>
<path d="M86.1 321.6L88.5 325.8L92.5 323.6L90.1 319.5Z" fill="#52cc7e" stroke-opacity=".80"/>
<path d="M164.5 325.2L166.9 325.7L171 322.3L168.5 321.7Z" fill="#2dc4a6" stroke-opacity=".80"/>
<path d="M57.8 304.3L60.2 309.9L64.2 308.1L61.8 302.6Z" fill="#19acdc" stroke-opacity=".80"/>
<path d="M136.2 332.6L138.6 334.5L142.7 331.4L140.2 329.6Z" fill="#96ca48" stroke-opacity=".80"/>
<path d="M107.9 329.8L110.3 332.9L114.4 330.4L111.9 327.3Z" fill="#98c947" stroke-opacity=".80"/>
<path d="M186.3 316.9L188.8 317.5L192.8 314L190.4 313.4Z" fill="#19acdc" stroke-opacity=".80"/>
<path d="M79.6 319.3L82 323.7L86.1 321.6L83.6 317.2Z" fill="#3eca90" stroke-opacity=".80"/>
<path d="M158 328L160.5 328.6L164.5 325.2L162.1 324.6Z" fill="#3eca8f" stroke-opacity=".80"/>
<path d="M129.7 333.3L132.2 335.6L136.2 332.6L133.8 330.4Z" fill="#a6c83c" stroke-opacity=".80"/>
<path d="M101.4 328.9L103.9 332.2L107.9 329.8L105.5 326.5Z" fill="#91ca4c" stroke-opacity=".80"/>
<path d="M179.9 319.5L182.3 320.4L186.3 316.9L183.9 316Z" fill="#05b6ce" stroke-opacity=".80"/>
<path d="M73.1 316.5L75.6 321.3L79.6 319.3L77.2 314.6Z" fill="#30c5a1" stroke-opacity=".80"/>
<path d="M151.6 330.6L154 331.3L158 328L155.6 327.2Z" fill="#5ccc76" stroke-opacity=".80"/>
<path d="M123.3 333.5L125.7 336.2L129.7 333.3L127.3 330.7Z" fill="#afc637" stroke-opacity=".80"/>
<path d="M201.7 310.2L204.1 308.9L208.2 305.8L205.7 306.9Z" fill="#2e83f9" stroke-opacity=".36"/>
<path d="M95 327.5L97.4 331.2L101.4 328.9L99 325.3Z" fill="#86cb55" stroke-opacity=".80"/>
<path d="M173.4 322.6L175.8 323L179.9 319.5L177.4 319.1Z" fill="#09bcbe" stroke-opacity=".80"/>
<path d="M66.7 313.4L69.1 318.5L73.1 316.5L70.7 311.5Z" fill="#1cc0b3" stroke-opacity=".80"/>
<path d="M145.1 332.8L147.5 333.8L151.6 330.6L149.1 329.5Z" fill="#7ccc5c" stroke-opacity=".80"/>
<path d="M116.8 333.3L119.2 336.2L123.3 333.5L120.8 330.7Z" fill="#b1c635" stroke-opacity=".80"/>
<path d="M195.2 314.2L197.7 313.4L201.7 310.2L199.3 310.7Z" fill="#2798ea" stroke-opacity=".43"/>
<path d="M88.5 325.8L90.9 329.7L95 327.5L92.5 323.6Z" fill="#74cc62" stroke-opacity=".80"/>
<path d="M166.9 325.7L169.4 326.1L173.4 322.6L171 322.3Z" fill="#28c3ab" stroke-opacity=".80"/>
<path d="M60.2 309.9L62.6 315.3L66.7 313.4L64.2 308.1Z" fill="#01b9c6" stroke-opacity=".80"/>
<path d="M138.6 334.5L141.1 335.9L145.1 332.8L142.7 331.4Z" fill="#99c946" stroke-opacity=".80"/>
<path d="M110.3 332.9L112.8 335.9L116.8 333.3L114.4 330.4Z" fill="#afc636" stroke-opacity=".80"/>
<path d="M188.8 317.5L191.2 317.6L195.2 314.2L192.8 314Z" fill="#1da9e0" stroke-opacity=".78"/>
<path d="M82 323.7L84.5 327.9L88.5 325.8L86.1 321.6Z" fill="#5ecd74" stroke-opacity=".80"/>
<path d="M160.5 328.6L162.9 329.2L166.9 325.7L164.5 325.2Z" fill="#3ac994" stroke-opacity=".80"/>
<path d="M132.2 335.6L134.6 337.6L138.6 334.5L136.2 332.6Z" fill="#b0c636" stroke-opacity=".80"/>
<path d="M103.9 332.2L106.3 335.4L110.3 332.9L107.9 329.8Z" fill="#abc739" stroke-opacity=".80"/>
<path d="M182.3 320.4L184.7 320.9L188.8 317.5L186.3 316.9Z" fill="#09b4d1" stroke-opacity=".80"/>
<path d="M75.6 321.3L78 325.7L82 323.7L79.6 319.3Z" fill="#47cb87" stroke-opacity=".80"/>
<path d="M154 331.3L156.4 332L160.5 328.6L158 328Z" fill="#57cc7a" stroke-opacity=".80"/>
<path d="M125.7 336.2L128.2 338.5L132.2 335.6L129.7 333.3Z" fill="#bdc32e" stroke-opacity=".80"/>
<path d="M97.4 331.2L99.9 334.6L103.9 332.2L101.4 328.9Z" fill="#a2c83f" stroke-opacity=".80"/>
<path d="M175.8 323L178.3 323.8L182.3 320.4L179.9 319.5Z" fill="#07bcc0" stroke-opacity=".80"/>
<path d="M69.1 318.5L71.6 323.2L75.6 321.3L73.1 316.5Z" fill="#35c79b" stroke-opacity=".80"/>
<path d="M147.5 333.8L150 334.7L154 331.3L151.6 330.6Z" fill="#78cc5f" stroke-opacity=".80"/>
<path d="M119.2 336.2L121.7 339L125.7 336.2L123.3 333.5Z" fill="#c3c22b" stroke-opacity=".80"/>
<path d="M197.7 313.4L200.1 311.9L204.1 308.9L201.7 310.2Z" fill="#2d8df2" stroke-opacity=".36"/>
<path d="M90.9 329.7L93.4 333.4L97.4 331.2L95 327.5Z" fill="#96ca49" stroke-opacity=".80"/>
<path d="M169.4 326.1L171.8 326.5L175.8 323L173.4 322.6Z" fill="#23c1af" stroke-opacity=".80"/>
<path d="M62.6 315.3L65.1 320.3L69.1 318.5L66.7 313.4Z" fill="#24c2ae" stroke-opacity=".80"/>
<path d="M141.1 335.9L143.5 337.1L147.5 333.8L145.1 332.8Z" fill="#99c946" stroke-opacity=".80"/>
<path d="M112.8 335.9L115.2 338.9L119.2 336.2L116.8 333.3Z" fill="#c4c22a" stroke-opacity=".80"/>
<path d="M191.2 317.6L193.7 316.7L197.7 313.4L195.2 314.2Z" fill="#22a1e4" stroke-opacity=".36"/>
<path d="M84.5 327.9L86.9 331.9L90.9 329.7L88.5 325.8Z" fill="#83cc57" stroke-opacity=".80"/>
<path d="M162.9 329.2L165.4 329.5L169.4 326.1L166.9 325.7Z" fill="#35c79a" stroke-opacity=".80"/>
<path d="M134.6 337.6L137.1 339.1L141.1 335.9L138.6 334.5Z" fill="#b4c534" stroke-opacity=".80"/>
<path d="M106.3 335.4L108.8 338.5L112.8 335.9L110.3 332.9Z" fill="#c1c32c" stroke-opacity=".80"/>
<path d="M184.7 320.9L187.2 320.9L191.2 317.6L188.8 317.5Z" fill="#12b1d6" stroke-opacity=".75"/>
<path d="M78 325.7L80.5 329.9L84.5 327.9L82 323.7Z" fill="#6bcd69" stroke-opacity=".80"/>
<path d="M156.4 332L158.9 332.6L162.9 329.2L160.5 328.6Z" fill="#50cc7f" stroke-opacity=".80"/>
<path d="M128.2 338.5L130.6 340.6L134.6 337.6L132.2 335.6Z" fill="#c7c12a" stroke-opacity=".80"/>
<path d="M99.9 334.6L102.3 337.8L106.3 335.4L103.9 332.2Z" fill="#bbc42f" stroke-opacity=".80"/>
<path d="M178.3 323.8L180.7 324.4L184.7 320.9L182.3 320.4Z" fill="#02bbc3" stroke-opacity=".80"/>
<path d="M71.6 323.2L74 327.7L78 325.7L75.6 321.3Z" fill="#52cc7e" stroke-opacity=".80"/>
<path d="M150 334.7L152.4 335.4L156.4 332L154 331.3Z" fill="#73cd63" stroke-opacity=".80"/>
<path d="M121.7 339L124.1 341.4L128.2 338.5L125.7 336.2Z" fill="#d1bf27" stroke-opacity=".80"/>
<path d="M93.4 333.4L95.8 336.8L99.9 334.6L97.4 331.2Z" fill="#b2c635" stroke-opacity=".80"/>
<path d="M171.8 326.5L174.3 327.3L178.3 323.8L175.8 323Z" fill="#20c1b1" stroke-opacity=".80"/>
<path d="M65.1 320.3L67.5 325.2L71.6 323.2L69.1 318.5Z" fill="#3ac994" stroke-opacity=".80"/>
<path d="M143.5 337.1L146 337.9L150 334.7L147.5 333.8Z" fill="#96ca49" stroke-opacity=".80"/>
<path d="M115.2 338.9L117.7 341.7L121.7 339L119.2 336.2Z" fill="#d5be28" stroke-opacity=".80"/>
<path d="M193.7 316.7L196.1 314.9L200.1 311.9L197.7 313.4Z" fill="#2896eb" stroke-opacity=".36"/>
<path d="M86.9 331.9L89.4 335.6L93.4 333.4L90.9 329.7Z" fill="#a4c83e" stroke-opacity=".80"/>
<path d="M165.4 329.5L167.8 329.9L171.8 326.5L169.4 326.1Z" fill="#32c69f" stroke-opacity=".80"/>
<path d="M137.1 339.1L139.5 340.3L143.5 337.1L141.1 335.9Z" fill="#b4c534" stroke-opacity=".80"/>
<path d="M108.8 338.5L111.2 341.5L115.2 338.9L112.8 335.9Z" fill="#d5be28" stroke-opacity=".80"/>
<path d="M187.2 320.9L189.6 320L193.7 316.7L191.2 317.6Z" fill="#1baade" stroke-opacity=".36"/>
<path d="M80.5 329.9L82.9 333.9L86.9 331.9L84.5 327.9Z" fill="#91ca4c" stroke-opacity=".80"/>
<path d="M158.9 332.6L161.3 332.9L165.4 329.5L162.9 329.2Z" fill="#48cb86" stroke-opacity=".80"/>
<path d="M130.6 340.6L133 342.1L137.1 339.1L134.6 337.6Z" fill="#cbc129" stroke-opacity=".80"/>
<path d="M102.3 337.8L104.7 340.9L108.8 338.5L106.3 335.4Z" fill="#d1bf27" stroke-opacity=".80"/>
<path d="M180.7 324.4L183.2 324.3L187.2 320.9L184.7 320.9Z" fill="#01b8c9" stroke-opacity=".71"/>
<path d="M74 327.7L76.4 331.9L80.5 329.9L78 325.7Z" fill="#78cc5f" stroke-opacity=".80"/>
<path d="M152.4 335.4L154.9 336L158.9 332.6L156.4 332Z" fill="#6ccd68" stroke-opacity=".80"/>
<path d="M124.1 341.4L126.6 343.5L130.6 340.6L128.2 338.5Z" fill="#dabd28" stroke-opacity=".80"/>
<path d="M95.8 336.8L98.3 340.1L102.3 337.8L99.9 334.6Z" fill="#cac129" stroke-opacity=".80"/>
<path d="M174.3 327.3L176.7 327.8L180.7 324.4L178.3 323.8Z" fill="#1ac0b4" stroke-opacity=".80"/>
<path d="M67.5 325.2L70 329.7L74 327.7L71.6 323.2Z" fill="#5ccc75" stroke-opacity=".80"/>
<path d="M146 337.9L148.4 338.7L152.4 335.4L150 334.7Z" fill="#91ca4c" stroke-opacity=".80"/>
<path d="M117.7 341.7L120.1 344.2L124.1 341.4L121.7 339Z" fill="#e2bc2b" stroke-opacity=".80"/>
<path d="M89.4 335.6L91.8 339.1L95.8 336.8L93.4 333.4Z" fill="#c0c32d" stroke-opacity=".80"/>
<path d="M167.8 329.9L170.2 330.7L174.3 327.3L171.8 326.5Z" fill="#30c5a1" stroke-opacity=".80"/>
<path d="M139.5 340.3L141.9 341.2L146 337.9L143.5 337.1Z" fill="#b1c635" stroke-opacity=".80"/>
<path d="M111.2 341.5L113.6 344.3L117.7 341.7L115.2 338.9Z" fill="#e5bb2d" stroke-opacity=".80"/>
<path d="M189.6 320L192.1 318L196.1 314.9L193.7 316.7Z" fill="#249ee6" stroke-opacity=".36"/>
<path d="M82.9 333.9L85.3 337.7L89.4 335.6L86.9 331.9Z" fill="#b2c635" stroke-opacity=".80"/>
<path d="M161.3 332.9L163.8 333.3L167.8 329.9L165.4 329.5Z" fill="#41ca8c" stroke-opacity=".80"/>
<path d="M133 342.1L135.5 343.4L139.5 340.3L137.1 339.1Z" fill="#ccc028" stroke-opacity=".80"/>
<path d="M104.7 340.9L107.2 344L111.2 341.5L108.8 338.5Z" fill="#e4bb2c" stroke-opacity=".80"/>
<path d="M183.2 324.3L185.6 323.2L189.6 320L187.2 320.9Z" fill="#10b2d5" stroke-opacity=".36"/>
<path d="M76.4 331.9L78.9 336L82.9 333.9L80.5 329.9Z" fill="#9ec943" stroke-opacity=".80"/>
<path d="M154.9 336L157.3 336.3L161.3 332.9L158.9 332.6Z" fill="#63cd70" stroke-opacity=".80"/>
<path d="M126.6 343.5L129 345.1L133 342.1L130.6 340.6Z" fill="#dfbc2a" stroke-opacity=".80"/>
<path d="M98.3 340.1L100.7 343.4L104.7 340.9L102.3 337.8Z" fill="#dfbc2a" stroke-opacity=".80"/>
<path d="M176.7 327.8L179.1 327.7L183.2 324.3L180.7 324.4Z" fill="#0dbdbc" stroke-opacity=".68"/>
<path d="M70 329.7L72.4 333.9L76.4 331.9L74 327.7Z" fill="#84cc56" stroke-opacity=".80"/>
<path d="M148.4 338.7L150.8 339.3L154.9 336L152.4 335.4Z" fill="#8bcb51" stroke-opacity=".80"/>
<path d="M120.1 344.2L122.5 346.3L126.6 343.5L124.1 341.4Z" fill="#ebba31" stroke-opacity=".80"/>
<path d="M91.8 339.1L94.2 342.4L98.3 340.1L95.8 336.8Z" fill="#d7be28" stroke-opacity=".80"/>
<path d="M170.2 330.7L172.7 331.2L176.7 327.8L174.3 327.3Z" fill="#2dc4a5" stroke-opacity=".80"/>
<path d="M141.9 341.2L144.4 342L148.4 338.7L146 337.9Z" fill="#aec637" stroke-opacity=".80"/>
<path d="M113.6 344.3L116.1 346.9L120.1 344.2L117.7 341.7Z" fill="#f1ba37" stroke-opacity=".80"/>
<path d="M85.3 337.7L87.8 341.2L91.8 339.1L89.4 335.6Z" fill="#cdc028" stroke-opacity=".80"/>
<path d="M163.8 333.3L166.2 334.1L170.2 330.7L167.8 329.9Z" fill="#3eca8f" stroke-opacity=".80"/>
<path d="M135.5 343.4L137.9 344.4L141.9 341.2L139.5 340.3Z" fill="#cac129" stroke-opacity=".80"/>
<path d="M107.2 344L109.6 346.9L113.6 344.3L111.2 341.5Z" fill="#f2ba38" stroke-opacity=".80"/>
<path d="M185.6 323.2L188 321L192.1 318L189.6 320Z" fill="#1ea7e1" stroke-opacity=".36"/>
<path d="M78.9 336L81.3 339.7L85.3 337.7L82.9 333.9Z" fill="#bec32e" stroke-opacity=".80"/>
<path d="M157.3 336.3L159.7 336.7L163.8 333.3L161.3 332.9Z" fill="#5bcc77" stroke-opacity=".80"/>
<path d="M129 345.1L131.4 346.5L135.5 343.4L133 342.1Z" fill="#e0bc2a" stroke-opacity=".80"/>
<path d="M100.7 343.4L103.1 346.5L107.2 344L104.7 340.9Z" fill="#f0ba36" stroke-opacity=".80"/>
<path d="M179.1 327.7L181.6 326.4L185.6 323.2L183.2 324.3Z" fill="#01b8c9" stroke-opacity=".36"/>
<path d="M72.4 333.9L74.8 337.9L78.9 336L76.4 331.9Z" fill="#a9c73a" stroke-opacity=".80"/>
<path d="M150.8 339.3L153.3 339.7L157.3 336.3L154.9 336Z" fill="#81cc59" stroke-opacity=".80"/>
<path d="M122.5 346.3L125 348.1L129 345.1L126.6 343.5Z" fill="#efba35" stroke-opacity=".80"/>
<path d="M94.2 342.4L96.7 345.7L100.7 343.4L98.3 340.1Z" fill="#ebba31" stroke-opacity=".80"/>
<path d="M172.7 331.2L175.1 331L179.1 327.7L176.7 327.8Z" fill="#25c2ad" stroke-opacity=".64"/>
<path d="M144.4 342L146.8 342.7L150.8 339.3L148.4 338.7Z" fill="#a8c73b" stroke-opacity=".80"/>
<path d="M116.1 346.9L118.5 349.1L122.5 346.3L120.1 344.2Z" fill="#f9ba3d" stroke-opacity=".80"/>
<path d="M87.8 341.2L90.2 344.7L94.2 342.4L91.8 339.1Z" fill="#e3bc2c" stroke-opacity=".80"/>
<path d="M166.2 334.1L168.6 334.6L172.7 331.2L170.2 330.7Z" fill="#3ac994" stroke-opacity=".80"/>
<path d="M137.9 344.4L140.3 345.3L144.4 342L141.9 341.2Z" fill="#c7c12a" stroke-opacity=".80"/>
<path d="M109.6 346.9L112 349.5L116.1 346.9L113.6 344.3Z" fill="#fcbc3d" stroke-opacity=".80"/>
<path d="M81.3 339.7L83.7 343.3L87.8 341.2L85.3 337.7Z" fill="#d8be28" stroke-opacity=".80"/>
<path d="M159.7 336.7L162.2 337.5L166.2 334.1L163.8 333.3Z" fill="#57cc7a" stroke-opacity=".80"/>
<path d="M131.4 346.5L133.9 347.5L137.9 344.4L135.5 343.4Z" fill="#dfbc2a" stroke-opacity=".80"/>
<path d="M103.1 346.5L105.6 349.5L109.6 346.9L107.2 344Z" fill="#fcbc3d" stroke-opacity=".80"/>
<path d="M181.6 326.4L184 324L188 321L185.6 323.2Z" fill="#17aeda" stroke-opacity=".36"/>
<path d="M74.8 337.9L77.3 341.7L81.3 339.7L78.9 336Z" fill="#c9c129" stroke-opacity=".80"/>
<path d="M153.3 339.7L155.7 340.1L159.7 336.7L157.3 336.3Z" fill="#78cc5f" stroke-opacity=".80"/>
<path d="M125 348.1L127.4 349.5L131.4 346.5L129 345.1Z" fill="#f1ba37" stroke-opacity=".80"/>
<path d="M96.7 345.7L99.1 348.9L103.1 346.5L100.7 343.4Z" fill="#fabb3d" stroke-opacity=".80"/>
<path d="M175.1 331L177.5 329.6L181.6 326.4L179.1 327.7Z" fill="#0cbdbc" stroke-opacity=".36"/>
<path d="M146.8 342.7L149.2 343.1L153.3 339.7L150.8 339.3Z" fill="#9fc942" stroke-opacity=".80"/>
<path d="M118.5 349.1L120.9 350.9L125 348.1L122.5 346.3Z" fill="#fcbc3d" stroke-opacity=".80"/>
<path d="M90.2 344.7L92.6 348L96.7 345.7L94.2 342.4Z" fill="#f5ba3a" stroke-opacity=".80"/>
<path d="M168.6 334.6L171.1 334.3L175.1 331L172.7 331.2Z" fill="#33c69e" stroke-opacity=".61"/>
<path d="M140.3 345.3L142.8 346L146.8 342.7L144.4 342Z" fill="#c2c22c" stroke-opacity=".80"/>
<path d="M112 349.5L114.5 351.8L118.5 349.1L116.1 346.9Z" fill="#fec13a" stroke-opacity=".80"/>
<path d="M83.7 343.3L86.2 346.8L90.2 344.7L87.8 341.2Z" fill="#edba33" stroke-opacity=".80"/>
<path d="M162.2 337.5L164.6 338L168.6 334.6L166.2 334.1Z" fill="#50cc80" stroke-opacity=".80"/>
<path d="M133.9 347.5L136.3 348.5L140.3 345.3L137.9 344.4Z" fill="#ddbd29" stroke-opacity=".80"/>
<path d="M105.6 349.5L108 352.1L112 349.5L109.6 346.9Z" fill="#fec338" stroke-opacity=".80"/>
<path d="M77.3 341.7L79.7 345.4L83.7 343.3L81.3 339.7Z" fill="#e2bc2b" stroke-opacity=".80"/>
<path d="M155.7 340.1L158.1 340.9L162.2 337.5L159.7 336.7Z" fill="#73cd62" stroke-opacity=".80"/>
<path d="M127.4 349.5L129.8 350.6L133.9 347.5L131.4 346.5Z" fill="#f1ba37" stroke-opacity=".80"/>
<path d="M99.1 348.9L101.5 351.9L105.6 349.5L103.1 346.5Z" fill="#fec338" stroke-opacity=".80"/>
<path d="M177.5 329.6L180 326.9L184 324L181.6 326.4Z" fill="#09b4d1" stroke-opacity=".36"/>
<path d="M149.2 343.1L151.7 343.5L155.7 340.1L153.3 339.7Z" fill="#96ca48" stroke-opacity=".80"/>
<path d="M120.9 350.9L123.4 352.5L127.4 349.5L125 348.1Z" fill="#febd3c" stroke-opacity=".80"/>
<path d="M92.6 348L95.1 351.2L99.1 348.9L96.7 345.7Z" fill="#fec03a" stroke-opacity=".80"/>
<path d="M171.1 334.3L173.5 332.8L177.5 329.6L175.1 331Z" fill="#23c1af" stroke-opacity=".36"/>
<path d="M142.8 346L145.2 346.4L149.2 343.1L146.8 342.7Z" fill="#bbc430" stroke-opacity=".80"/>
<path d="M114.5 351.8L116.9 353.8L120.9 350.9L118.5 349.1Z" fill="#fec537" stroke-opacity=".80"/>
<path d="M86.2 346.8L88.6 350.2L92.6 348L90.2 344.7Z" fill="#fcbc3d" stroke-opacity=".80"/>
<path d="M164.6 338L167 337.7L171.1 334.3L168.6 334.6Z" fill="#42ca8c" stroke-opacity=".58"/>
<path d="M136.3 348.5L138.7 349.3L142.8 346L140.3 345.3Z" fill="#dabd28" stroke-opacity=".80"/>
<path d="M108 352.1L110.4 354.5L114.5 351.8L112 349.5Z" fill="#feca33" stroke-opacity=".80"/>
<path d="M79.7 345.4L82.1 348.9L86.2 346.8L83.7 343.3Z" fill="#f5ba3a" stroke-opacity=".80"/>
<path d="M158.1 340.9L160.6 341.3L164.6 338L162.2 337.5Z" fill="#6bcd69" stroke-opacity=".80"/>
<path d="M129.8 350.6L132.3 351.6L136.3 348.5L133.9 347.5Z" fill="#f0ba36" stroke-opacity=".80"/>
<path d="M101.5 351.9L104 354.6L108 352.1L105.6 349.5Z" fill="#fdcc32" stroke-opacity=".80"/>
<path d="M151.7 343.5L154.1 344.3L158.1 340.9L155.7 340.1Z" fill="#92ca4b" stroke-opacity=".80"/>
<path d="M123.4 352.5L125.8 353.7L129.8 350.6L127.4 349.5Z" fill="#febd3c" stroke-opacity=".80"/>
<path d="M95.1 351.2L97.5 354.3L101.5 351.9L99.1 348.9Z" fill="#fdcb33" stroke-opacity=".80"/>
<path d="M173.5 332.8L175.9 329.9L180 326.9L177.5 329.6Z" fill="#01b9c6" stroke-opacity=".36"/>
<path d="M145.2 346.4L147.6 346.9L151.7 343.5L149.2 343.1Z" fill="#b3c534" stroke-opacity=".80"/>
<path d="M116.9 353.8L119.3 355.4L123.4 352.5L120.9 350.9Z" fill="#fec735" stroke-opacity=".80"/>
<path d="M88.6 350.2L91 353.5L95.1 351.2L92.6 348Z" fill="#fec735" stroke-opacity=".80"/>
<path d="M167 337.7L169.5 335.9L173.5 332.8L171.1 334.3Z" fill="#31c5a1" stroke-opacity=".36"/>
<path d="M138.7 349.3L141.2 349.8L145.2 346.4L142.8 346Z" fill="#d3bf27" stroke-opacity=".80"/>
<path d="M110.4 354.5L112.9 356.5L116.9 353.8L114.5 351.8Z" fill="#fccf31" stroke-opacity=".80"/>
<path d="M82.1 348.9L84.6 352.3L88.6 350.2L86.2 346.8Z" fill="#fec239" stroke-opacity=".80"/>
<path d="M160.6 341.3L163 341L167 337.7L164.6 338Z" fill="#5acc77" stroke-opacity=".54"/>
<path d="M132.3 351.6L134.7 352.5L138.7 349.3L136.3 348.5Z" fill="#edba33" stroke-opacity=".80"/>
<path d="M104 354.6L106.4 357.1L110.4 354.5L108 352.1Z" fill="#fbd32e" stroke-opacity=".80"/>
<path d="M154.1 344.3L156.5 344.7L160.6 341.3L158.1 340.9Z" fill="#89cb52" stroke-opacity=".80"/>
<path d="M125.8 353.7L128.2 354.8L132.3 351.6L129.8 350.6Z" fill="#fdbd3d" stroke-opacity=".80"/>
<path d="M97.5 354.3L99.9 357.1L104 354.6L101.5 351.9Z" fill="#fad42e" stroke-opacity=".80"/>
<path d="M147.6 346.9L150.1 347.7L154.1 344.3L151.7 343.5Z" fill="#afc637" stroke-opacity=".80"/>
<path d="M119.3 355.4L121.8 356.7L125.8 353.7L123.4 352.5Z" fill="#fec835" stroke-opacity=".80"/>
<path d="M91 353.5L93.5 356.6L97.5 354.3L95.1 351.2Z" fill="#fbd22f" stroke-opacity=".80"/>
<path d="M169.5 335.9L171.9 332.9L175.9 329.9L173.5 332.8Z" fill="#0fbebb" stroke-opacity=".36"/>
<path d="M141.2 349.8L143.6 350.2L147.6 346.9L145.2 346.4Z" fill="#cdc028" stroke-opacity=".80"/>
<path d="M112.9 356.5L115.3 358.3L119.3 355.4L116.9 353.8Z" fill="#fbd12f" stroke-opacity=".80"/>
<path d="M84.6 352.3L87 355.7L91 353.5L88.6 350.2Z" fill="#fdce31" stroke-opacity=".80"/>
<path d="M163 341L165.4 339.1L169.5 335.9L167 337.7Z" fill="#3dc990" stroke-opacity=".36"/>
<path d="M134.7 352.5L137.1 353.1L141.2 349.8L138.7 349.3Z" fill="#e8bb2f" stroke-opacity=".80"/>
<path d="M106.4 357.1L108.8 359.2L112.9 356.5L110.4 354.5Z" fill="#f9d82c" stroke-opacity=".80"/>
<path d="M156.5 344.7L159 344.2L163 341L160.6 341.3Z" fill="#75cc61" stroke-opacity=".51"/>
<path d="M128.2 354.8L130.7 355.7L134.7 352.5L132.3 351.6Z" fill="#fcbd3d" stroke-opacity=".80"/>
<path d="M99.9 357.1L102.4 359.6L106.4 357.1L104 354.6Z" fill="#f7dc2a" stroke-opacity=".80"/>
<path d="M150.1 347.7L152.5 348L156.5 344.7L154.1 344.3Z" fill="#a6c73c" stroke-opacity=".80"/>
<path d="M121.8 356.7L124.2 357.9L128.2 354.8L125.8 353.7Z" fill="#fec835" stroke-opacity=".80"/>
<path d="M93.5 356.6L95.9 359.4L99.9 357.1L97.5 354.3Z" fill="#f7dc2a" stroke-opacity=".80"/>
<path d="M143.6 350.2L146 351L150.1 347.7L147.6 346.9Z" fill="#c9c129" stroke-opacity=".80"/>
<path d="M115.3 358.3L117.7 359.6L121.8 356.7L119.3 355.4Z" fill="#fbd32f" stroke-opacity=".80"/>
<path d="M87 355.7L89.4 358.9L93.5 356.6L91 353.5Z" fill="#f8d92b" stroke-opacity=".80"/>
<path d="M165.4 339.1L167.9 335.8L171.9 332.9L169.5 335.9Z" fill="#24c1af" stroke-opacity=".41"/>
<path d="M137.1 353.1L139.6 353.6L143.6 350.2L141.2 349.8Z" fill="#e3bc2c" stroke-opacity=".80"/>
<path d="M108.8 359.2L111.3 361.1L115.3 358.3L112.9 356.5Z" fill="#f7dc2a" stroke-opacity=".80"/>
<path d="M159 344.2L161.4 342.2L165.4 339.1L163 341Z" fill="#52cc7e" stroke-opacity=".36"/>
<path d="M130.7 355.7L133.1 356.4L137.1 353.1L134.7 352.5Z" fill="#f9bb3d" stroke-opacity=".80"/>
<path d="M102.4 359.6L104.8 361.9L108.8 359.2L106.4 357.1Z" fill="#f5e228" stroke-opacity=".80"/>
<path d="M152.5 348L154.9 347.5L159 344.2L156.5 344.7Z" fill="#93ca4b" stroke-opacity=".47"/>
<path d="M124.2 357.9L126.6 358.9L130.7 355.7L128.2 354.8Z" fill="#fec735" stroke-opacity=".80"/>
<path d="M95.9 359.4L98.3 362.1L102.4 359.6L99.9 357.1Z" fill="#f5e427" stroke-opacity=".80"/>
<path d="M146 351L148.5 351.3L152.5 348L150.1 347.7Z" fill="#c1c32c" stroke-opacity=".80"/>
<path d="M117.7 359.6L120.2 361L124.2 357.9L121.8 356.7Z" fill="#fbd32e" stroke-opacity=".80"/>
<path d="M89.4 358.9L91.9 361.8L95.9 359.4L93.5 356.6Z" fill="#f5e327" stroke-opacity=".80"/>
<path d="M139.6 353.6L142 354.3L146 351L143.6 350.2Z" fill="#e0bc2a" stroke-opacity=".80"/>
<path d="M111.3 361.1L113.7 362.6L117.7 359.6L115.3 358.3Z" fill="#f6de29" stroke-opacity=".80"/>
<path d="M161.4 342.2L163.8 338.7L167.9 335.8L165.4 339.1Z" fill="#2fc5a2" stroke-opacity=".51"/>
<path d="M133.1 356.4L135.5 356.9L139.6 353.6L137.1 353.1Z" fill="#f5ba3b" stroke-opacity=".80"/>
<path d="M104.8 361.9L107.2 363.8L111.3 361.1L108.8 359.2Z" fill="#f5e626" stroke-opacity=".80"/>
<path d="M154.9 347.5L157.4 345.4L161.4 342.2L159 344.2Z" fill="#6acd6a" stroke-opacity=".36"/>
<path d="M126.6 358.9L129.1 359.6L133.1 356.4L130.7 355.7Z" fill="#fec537" stroke-opacity=".80"/>
<path d="M98.3 362.1L100.8 364.5L104.8 361.9L102.4 359.6Z" fill="#f5ea23" stroke-opacity=".80"/>
<path d="M148.5 351.3L150.9 350.7L154.9 347.5L152.5 348Z" fill="#aec637" stroke-opacity=".44"/>
<path d="M120.2 361L122.6 362.1L126.6 358.9L124.2 357.9Z" fill="#fbd32e" stroke-opacity=".80"/>
<path d="M91.9 361.8L94.3 364.5L98.3 362.1L95.9 359.4Z" fill="#f5ec23" stroke-opacity=".80"/>
<path d="M142 354.3L144.4 354.6L148.5 351.3L146 351Z" fill="#d9be28" stroke-opacity=".80"/>
<path d="M113.7 362.6L116.1 364L120.2 361L117.7 359.6Z" fill="#f6df29" stroke-opacity=".80"/>
<path d="M135.5 356.9L138 357.6L142 354.3L139.6 353.6Z" fill="#f3ba38" stroke-opacity=".80"/>
<path d="M107.2 363.8L109.7 365.5L113.7 362.6L111.3 361.1Z" fill="#f5e825" stroke-opacity=".80"/>
<path d="M157.4 345.4L159.8 341.6L163.8 338.7L161.4 342.2Z" fill="#3ac994" stroke-opacity=".61"/>
<path d="M129.1 359.6L131.5 360.2L135.5 356.9L133.1 356.4Z" fill="#fec239" stroke-opacity=".80"/>
<path d="M100.8 364.5L103.2 366.6L107.2 363.8L104.8 361.9Z" fill="#f6ef20" stroke-opacity=".80"/>
<path d="M150.9 350.7L153.3 348.5L157.4 345.4L154.9 347.5Z" fill="#85cb55" stroke-opacity=".36"/>
<path d="M122.6 362.1L125 362.9L129.1 359.6L126.6 358.9Z" fill="#fcd130" stroke-opacity=".80"/>
<path d="M94.3 364.5L96.7 367L100.8 364.5L98.3 362.1Z" fill="#f7f31d" stroke-opacity=".80"/>
<path d="M144.4 354.6L146.9 354L150.9 350.7L148.5 351.3Z" fill="#c7c12a" stroke-opacity=".41"/>
<path d="M116.1 364L118.6 365.2L122.6 362.1L120.2 361Z" fill="#f6df29" stroke-opacity=".80"/>
<path d="M138 357.6L140.4 357.9L144.4 354.6L142 354.3Z" fill="#edba33" stroke-opacity=".80"/>
<path d="M109.7 365.5L112.1 367L116.1 364L113.7 362.6Z" fill="#f5ea24" stroke-opacity=".80"/>
<path d="M131.5 360.2L133.9 360.9L138 357.6L135.5 356.9Z" fill="#fec03b" stroke-opacity=".80"/>
<path d="M103.2 366.6L105.6 368.3L109.7 365.5L107.2 363.8Z" fill="#f6f21e" stroke-opacity=".80"/>
<path d="M153.3 348.5L155.8 344.5L159.8 341.6L157.4 345.4Z" fill="#4acb85" stroke-opacity=".71"/>
<path d="M125 362.9L127.5 363.5L131.5 360.2L129.1 359.6Z" fill="#fdce31" stroke-opacity=".80"/>
<path d="M96.7 367L99.2 369.2L103.2 366.6L100.8 364.5Z" fill="#f8f818" stroke-opacity=".80"/>
<path d="M146.9 354L149.3 351.6L153.3 348.5L150.9 350.7Z" fill="#9fc941" stroke-opacity=".36"/>
<path d="M118.6 365.2L121 366.1L125 362.9L122.6 362.1Z" fill="#f7dd2a" stroke-opacity=".80"/>
<path d="M140.4 357.9L142.9 357.2L146.9 354L144.4 354.6Z" fill="#ddbd29" stroke-opacity=".37"/>
<path d="M112.1 367L114.6 368.3L118.6 365.2L116.1 364Z" fill="#f5ea23" stroke-opacity=".80"/>
<path d="M133.9 360.9L136.4 361.2L140.4 357.9L138 357.6Z" fill="#fcbc3d" stroke-opacity=".80"/>
<path d="M105.6 368.3L108.1 369.9L112.1 367L109.7 365.5Z" fill="#f7f41c" stroke-opacity=".80"/>
<path d="M127.5 363.5L129.9 364.2L133.9 360.9L131.5 360.2Z" fill="#fdcc32" stroke-opacity=".80"/>
<path d="M99.2 369.2L101.6 371.1L105.6 368.3L103.2 366.6Z" fill="#f9fb15" stroke-opacity=".80"/>
<path d="M149.3 351.6L151.8 347.4L155.8 344.5L153.3 348.5Z" fill="#5fcd73" stroke-opacity=".80"/>
<path d="M121 366.1L123.5 366.8L127.5 363.5L125 362.9Z" fill="#f8da2b" stroke-opacity=".80"/>
<path d="M142.9 357.2L145.3 354.7L149.3 351.6L146.9 354Z" fill="#b8c431" stroke-opacity=".36"/>
<path d="M114.6 368.3L117 369.3L121 366.1L118.6 365.2Z" fill="#f5e924" stroke-opacity=".80"/>
<path d="M136.4 361.2L138.8 360.4L142.9 357.2L140.4 357.9Z" fill="#f0ba36" stroke-opacity=".36"/>
<path d="M108.1 369.9L110.5 371.4L114.6 368.3L112.1 367Z" fill="#f7f51b" stroke-opacity=".80"/>
<path d="M129.9 364.2L132.4 364.4L136.4 361.2L133.9 360.9Z" fill="#fec735" stroke-opacity=".80"/>
<path d="M101.6 371.1L104.1 372.9L108.1 369.9L105.6 368.3Z" fill="#f9fb15" stroke-opacity=".80"/>
<path d="M123.5 366.8L125.9 367.5L129.9 364.2L127.5 363.5Z" fill="#f9d82c" stroke-opacity=".80"/>
<path d="M145.3 354.7L147.7 350.3L151.8 347.4L149.3 351.6Z" fill="#75cc61" stroke-opacity=".80"/>
<path d="M117 369.3L119.4 370L123.5 366.8L121 366.1Z" fill="#f5e725" stroke-opacity=".80"/>
<path d="M138.8 360.4L141.3 357.7L145.3 354.7L142.9 357.2Z" fill="#cec028" stroke-opacity=".36"/>
<path d="M110.5 371.4L113 372.5L117 369.3L114.6 368.3Z" fill="#f7f51b" stroke-opacity=".80"/>
<path d="M132.4 364.4L134.8 363.6L138.8 360.4L136.4 361.2Z" fill="#febd3c" stroke-opacity=".36"/>
<path d="M104.1 372.9L106.5 374.4L110.5 371.4L108.1 369.9Z" fill="#f9fb15" stroke-opacity=".80"/>
<path d="M125.9 367.5L128.3 367.7L132.4 364.4L129.9 364.2Z" fill="#fbd32e" stroke-opacity=".78"/>
<path d="M119.4 370L121.9 370.7L125.9 367.5L123.5 366.8Z" fill="#f5e526" stroke-opacity=".80"/>
<path d="M141.3 357.7L143.7 353.1L147.7 350.3L145.3 354.7Z" fill="#8dcb4f" stroke-opacity=".80"/>
<path d="M113 372.5L115.4 373.3L119.4 370L117 369.3Z" fill="#f7f31d" stroke-opacity=".80"/>
<path d="M134.8 363.6L137.2 360.8L141.3 357.7L138.8 360.4Z" fill="#e2bc2b" stroke-opacity=".36"/>
<path d="M106.5 374.4L108.9 375.6L113 372.5L110.5 371.4Z" fill="#f9fb15" stroke-opacity=".80"/>
<path d="M128.3 367.7L130.8 366.8L134.8 363.6L132.4 364.4Z" fill="#fec834" stroke-opacity=".36"/>
<path d="M121.9 370.7L124.3 370.9L128.3 367.7L125.9 367.5Z" fill="#f6e028" stroke-opacity=".77"/>
<path d="M115.4 373.3L117.8 374L121.9 370.7L119.4 370Z" fill="#f6f11f" stroke-opacity=".80"/>
<path d="M137.2 360.8L139.7 356L143.7 353.1L141.3 357.7Z" fill="#a4c83e" stroke-opacity=".80"/>
<path d="M108.9 375.6L111.4 376.5L115.4 373.3L113 372.5Z" fill="#f9fb15" stroke-opacity=".80"/>
<path d="M130.8 366.8L133.2 363.8L137.2 360.8L134.8 363.6Z" fill="#f2ba38" stroke-opacity=".36"/>
<path d="M124.3 370.9L126.7 369.9L130.8 366.8L128.3 367.7Z" fill="#fad42e" stroke-opacity=".36"/>
<path d="M117.8 374L120.3 374.1L124.3 370.9L121.9 370.7Z" fill="#f5ec22" stroke-opacity=".75"/>
<path d="M111.4 376.5L113.8 377.2L117.8 374L115.4 373.3Z" fill="#f9fb15" stroke-opacity=".80"/>
<path d="M133.2 363.8L135.6 358.8L139.7 356L137.2 360.8Z" fill="#b9c430" stroke-opacity=".80"/>
<path d="M126.7 369.9L129.2 366.8L133.2 363.8L130.8 366.8Z" fill="#febe3c" stroke-opacity=".36"/>
<path d="M120.3 374.1L122.7 373.1L126.7 369.9L124.3 370.9Z" fill="#f6e028" stroke-opacity=".36"/>
<path d="M113.8 377.2L116.2 377.3L120.3 374.1L117.8 374Z" fill="#f8f719" stroke-opacity=".73"/>
<path d="M129.2 366.8L131.6 361.6L135.6 358.8L133.2 363.8Z" fill="#cdc028" stroke-opacity=".80"/>
<path d="M122.7 373.1L125.1 369.8L129.2 366.8L126.7 369.9Z" fill="#fec834" stroke-opacity=".38"/>
<path d="M116.2 377.3L118.7 376.2L122.7 373.1L120.3 374.1Z" fill="#f5ec22" stroke-opacity=".36"/>
<path d="M125.1 369.8L127.6 364.4L131.6 361.6L129.2 366.8Z" fill="#debd29" stroke-opacity=".80"/>
<path d="M118.7 376.2L121.1 372.8L125.1 369.8L122.7 373.1Z" fill="#fbd32e" stroke-opacity=".45"/>
<path d="M121.1 372.8L123.5 367.2L127.6 364.4L125.1 369.8Z" fill="#edba33" stroke-opacity=".80"/>
</g>
<g font-size="9.3" fill="#1a1a1a" stroke="#1a1a1a" stroke-width=".15">
<text x="40.1" y="350.7" text-anchor="end">-10</text>
<text x="40.1" y="308.3" text-anchor="end">-15</text>
<text x="40.1" y="265.9" text-anchor="end">-20</text>
<text x="39.6" y="360.9" text-anchor="end">1</text>
<text x="61.2" y="370.7" text-anchor="end">0.75</text>
<text x="82.9" y="380.4" text-anchor="end">0.5</text>
<text x="104.5" y="390.2" text-anchor="end">0.25</text>
<text x="126.2" y="399.9" text-anchor="end">0</text>
<text x="137.5" y="400.3">0.9</text>
<text x="165.7" y="392.8">0.7</text>
<text x="193.9" y="385.3">0.5</text>
<text x="222.1" y="377.8">0.3</text>
<text x="250.3" y="370.2">0.1</text>
</g>
<g fill="#1a1a1a" stroke="#1a1a1a" stroke-width=".15">
<text transform="translate(18.6 327.1) rotate(-90)" font-size="11.2"><tspan x="0" font-style="italic" font-size="12">u</tspan><tspan x="6.6" font-style="italic" font-size="8.3" dy="3.2">r</tspan><tspan x="7.2" font-style="italic" font-size="8.3" dy="-8.6">f</tspan><tspan x="15.4" dy="5.4">[mm]</tspan></text>
<text x="69.2" y="398.4" font-size="11.2"><tspan font-style="italic" font-size="12">λ</tspan><tspan font-size="8.6" dy="4.6" dx=".6">c</tspan></text>
<text x="187.2" y="402.2" font-style="italic" font-size="11.2"><tspan>h</tspan><tspan font-size="8.6" dy="4.4" dx=".6" font-style="normal">2</tspan><tspan dy="-4.4" dx=".3">/H</tspan></text>
</g>
<g font-size="13" fill="#111">
<text x="118.2" y="205.6" font-weight="bold">(a)</text>
<text font-style="italic"><tspan x="140.8" y="205.6" font-size="15">σ</tspan><tspan x="151" y="209.2" font-size="8.6">θ</tspan><tspan x="151.6" y="200.4" font-size="8.6">f</tspan></text>
<text x="401.6" y="205.6" font-weight="bold">(b)</text>
<text font-style="italic"><tspan x="425.4" y="205.6" font-size="15">τ</tspan><tspan x="431.4" y="208.6" font-size="8.6">c</tspan></text>
<text x="88" y="430.2" font-weight="bold">(c)</text>
<text font-style="italic"><tspan x="110.2" y="430.2" font-size="14">u</tspan><tspan x="117" y="433.6" font-size="8.6">r</tspan><tspan x="118.4" y="424.6" font-size="8.6">f</tspan></text>
<text x="132.8" y="430.2" font-size="12.8" letter-spacing=".2">at t = 10<tspan font-size="8" dy="-4.6">5</tspan><tspan dy="4.6"> s</tspan></text>
</g>
</svg>
</body></html>
